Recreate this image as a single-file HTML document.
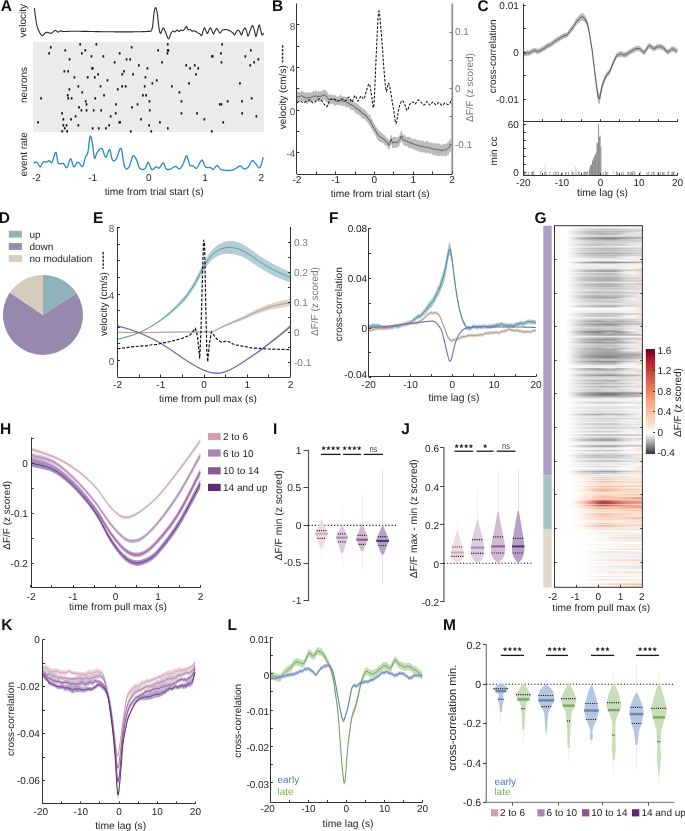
<!DOCTYPE html>
<html><head><meta charset="utf-8"><title>Figure</title>
<style>html,body{margin:0;padding:0;background:#fff;} svg{display:block;}</style></head>
<body><svg width="685" height="831" viewBox="0 0 685 831" style="font-family:'Liberation Sans',Arial,sans-serif" text-rendering="geometricPrecision">
<rect width="685" height="831" fill="#fff"/>
<text x="0.8" y="10.9" font-size="15.5" text-anchor="start" fill="#111" font-weight="bold" text-rendering="geometricPrecision">A</text>
<text x="25.7" y="20.7" font-size="10" text-anchor="middle" fill="#222" transform="rotate(-90 25.7 20.7)" >velocity</text>
<text x="27.1" y="85" font-size="10" text-anchor="middle" fill="#222" transform="rotate(-90 27.1 85)" >neurons</text>
<text x="27.1" y="154.3" font-size="10" text-anchor="middle" fill="#222" transform="rotate(-90 27.1 154.3)" >event rate</text>
<path d="M34.4,7.9 L34.9,12.2 L35.4,16.3 L35.9,19.8 L36.4,23 L36.9,25.6 L37.4,27.4 L37.9,28.8 L38.4,30 L38.9,31 L39.4,32 L39.9,33 L40.4,33.9 L40.9,34.6 L41.4,35.2 L41.9,35.6 L42.4,35.7 L42.9,35.4 L43.4,35 L43.9,34.5 L44.4,33.9 L44.9,33.3 L45.4,32.7 L45.9,32.4 L46.4,32.3 L46.9,32.3 L47.4,32.4 L47.9,32.5 L48.4,32.6 L48.9,32.7 L49.4,32.9 L49.9,33.1 L50.4,33.3 L50.9,33.4 L51.4,33.3 L51.9,33.1 L52.4,32.7 L52.9,32.2 L53.4,31.7 L53.9,31.2 L54.4,30.8 L54.9,30.5 L55.4,30.3 L55.9,30.4 L56.4,30.8 L56.9,31.3 L57.4,31.8 L57.9,32.1 L58.4,32 L58.9,31.8 L59.4,31.4 L59.9,31.1 L60.4,30.8 L60.9,30.7 L61.4,31 L61.9,31.3 L62.4,31.5 L62.9,31.5 L63.4,31.5 L63.9,31.5 L64.4,31.5 L64.9,31.5 L65.4,31.5 L65.9,31.5 L66.4,31.5 L66.9,31.4 L67.4,31.4 L67.9,31.4 L68.4,31.3 L68.9,31.3 L69.4,31.3 L69.9,31.3 L70.4,31.3 L70.9,31.3 L71.4,31.3 L71.9,31.3 L72.4,31.3 L72.9,31.3 L73.4,31.3 L73.9,31.3 L74.4,31.3 L74.9,31.3 L75.4,31.3 L75.9,31.3 L76.4,31.3 L76.9,31.3 L77.4,31.3 L77.9,31.3 L78.4,31.3 L78.9,31.3 L79.4,31.3 L79.9,31.3 L80.4,31.3 L80.9,31.3 L81.4,31.4 L81.9,31.4 L82.4,31.4 L82.9,31.4 L83.4,31.4 L83.9,31.4 L84.4,31.4 L84.9,31.4 L85.4,31.4 L85.9,31.4 L86.4,31.4 L86.9,31.4 L87.4,31.4 L87.9,31.4 L88.4,31.4 L88.9,31.5 L89.4,31.5 L89.9,31.5 L90.4,31.5 L90.9,31.5 L91.4,31.5 L91.9,31.5 L92.4,31.5 L92.9,31.5 L93.4,31.5 L93.9,31.5 L94.4,31.5 L94.9,31.6 L95.4,31.6 L95.9,31.6 L96.4,31.6 L96.9,31.6 L97.4,31.6 L97.9,31.6 L98.4,31.6 L98.9,31.6 L99.4,31.6 L99.9,31.6 L100.4,31.6 L100.9,31.7 L101.4,31.7 L101.9,31.7 L102.4,31.7 L102.9,31.7 L103.4,31.7 L103.9,31.7 L104.4,31.7 L104.9,31.7 L105.4,31.7 L105.9,31.7 L106.4,31.7 L106.9,31.8 L107.4,31.8 L107.9,31.8 L108.4,31.8 L108.9,31.8 L109.4,31.8 L109.9,31.8 L110.4,31.8 L110.9,31.8 L111.4,31.8 L111.9,31.8 L112.4,31.8 L112.9,31.8 L113.4,31.8 L113.9,31.8 L114.4,31.9 L114.9,31.9 L115.4,31.9 L115.9,31.9 L116.4,31.9 L116.9,31.9 L117.4,31.9 L117.9,31.9 L118.4,31.9 L118.9,31.9 L119.4,31.9 L119.9,31.9 L120.4,31.9 L120.9,31.9 L121.4,31.9 L121.9,31.9 L122.4,31.9 L122.9,31.9 L123.4,31.9 L123.9,31.9 L124.4,31.9 L124.9,31.9 L125.4,31.9 L125.9,31.9 L126.4,31.9 L126.9,31.9 L127.4,31.9 L127.9,31.9 L128.4,31.9 L128.9,31.9 L129.4,31.9 L129.9,31.9 L130.4,31.9 L130.9,31.9 L131.4,31.9 L131.9,31.9 L132.4,31.9 L132.9,31.9 L133.4,31.8 L133.9,31.8 L134.4,31.8 L134.9,31.8 L135.4,31.8 L135.9,31.8 L136.4,31.8 L136.9,31.8 L137.4,31.8 L137.9,31.8 L138.4,31.8 L138.9,31.7 L139.4,31.7 L139.9,31.7 L140.4,31.7 L140.9,31.7 L141.4,31.7 L141.9,31.7 L142.4,31.6 L142.9,31.6 L143.4,31.6 L143.9,31.6 L144.4,31.6 L144.9,31.6 L145.4,31.5 L145.9,31.5 L146.4,31.5 L146.9,31.5 L147.4,31.4 L147.9,31.4 L148.4,31.4 L148.9,31.4 L149.4,31.4 L149.9,31.3 L150.4,31.3 L150.9,31.2 L151.4,30.6 L151.9,29.5 L152.4,27.5 L152.9,23.9 L153.4,18.5 L153.9,13.7 L154.4,10.7 L154.9,8.7 L155.4,7.7 L155.9,7.8 L156.4,9.1 L156.9,11.3 L157.4,14.3 L157.9,18.6 L158.4,23.3 L158.9,27.3 L159.4,30.3 L159.9,32.4 L160.4,33.4 L160.9,33.1 L161.4,32 L161.9,30.5 L162.4,29.1 L162.9,28.1 L163.4,28 L163.9,28.6 L164.4,29.5 L164.9,30.7 L165.4,31.8 L165.9,32.9 L166.4,34.3 L166.9,35.8 L167.4,37.2 L167.9,38.3 L168.4,38.9 L168.9,38.7 L169.4,37.8 L169.9,36.4 L170.4,34.9 L170.9,33.7 L171.4,32.8 L171.9,32 L172.4,31.4 L172.9,31 L173.4,31 L173.9,31.4 L174.4,31.8 L174.9,32 L175.4,31.7 L175.9,31.1 L176.4,30.4 L176.9,30 L177.4,30.1 L177.9,30.6 L178.4,31.2 L178.9,31.5 L179.4,31.4 L179.9,30.9 L180.4,30.4 L180.9,30 L181.4,30 L181.9,30.2 L182.4,30.5 L182.9,30.5 L183.4,30.3 L183.9,29.8 L184.4,29.2 L184.9,28.6 L185.4,27.9 L185.9,27 L186.4,26.6 L186.9,27.1 L187.4,28.3 L187.9,29.4 L188.4,29.7 L188.9,29.6 L189.4,29.5 L189.9,29.5 L190.4,29.7 L190.9,30.2 L191.4,30.6 L191.9,31 L192.4,31.1 L192.9,31.1 L193.4,31 L193.9,30.9 L194.4,30.9 L194.9,31 L195.4,31.2 L195.9,31.5 L196.4,31.8 L196.9,32.2 L197.4,32.6 L197.9,32.9 L198.4,33.2 L198.9,33.4 L199.4,33.6 L199.9,33.9 L200.4,34.5 L200.9,35.3 L201.4,35.8 L201.9,35.3 L202.4,33.4 L202.9,31.3 L203.4,29.9 L203.9,28.6 L204.4,27.9 L204.9,28.3 L205.4,29.5 L205.9,30.8 L206.4,31.9 L206.9,33 L207.4,33.5 L207.9,33 L208.4,31.6 L208.9,30.2 L209.4,29.2 L209.9,28.4 L210.4,27.9 L210.9,28.2 L211.4,29.4 L211.9,30.8 L212.4,32 L212.9,33.2 L213.4,34 L213.9,33.6 L214.4,32.4 L214.9,31.2 L215.4,30.3 L215.9,29.4 L216.4,28.8 L216.9,28.5 L217.4,28.9 L217.9,29.9 L218.4,30.8 L218.9,31.7 L219.4,32.5 L219.9,33 L220.4,32.7 L220.9,32.1 L221.4,31.2 L221.9,30.6 L222.4,30.2 L222.9,30 L223.4,29.8 L223.9,29.7 L224.4,29.6 L224.9,29.5 L225.4,29.5 L225.9,29.5 L226.4,29.6 L226.9,29.7 L227.4,29.8 L227.9,30 L228.4,30.1 L228.9,30.4 L229.4,30.6 L229.9,30.9 L230.4,31.1 L230.9,31.4 L231.4,31.7 L231.9,32.1 L232.4,32.5 L232.9,32.9 L233.4,33.6 L233.9,34.5 L234.4,35 L234.9,34.6 L235.4,33.7 L235.9,32.6 L236.4,31.7 L236.9,30.9 L237.4,30.3 L237.9,30 L238.4,30.2 L238.9,30.6 L239.4,31.2 L239.9,31.9 L240.4,32.9 L240.9,34.2 L241.4,35 L241.9,34.4 L242.4,32.8 L242.9,31.2 L243.4,30.2 L243.9,29.2 L244.4,28.4 L244.9,28 L245.4,28.3 L245.9,29.4 L246.4,30.7 L246.9,32.5 L247.4,34.6 L247.9,36 L248.4,35.6 L248.9,34.4 L249.4,32.8 L249.9,31.2 L250.4,30 L250.9,28.6 L251.4,27.2 L251.9,26.1 L252.4,25.6 L252.9,26 L253.4,27.2 L253.9,28.9 L254.4,30.7 L254.9,32.6 L255.4,35 L255.9,36.4 L256.4,35.8 L256.9,33.7 L257.4,31.4 L257.9,29.3 L258.4,27.1 L258.9,25.4 L259.4,25.1 L259.9,26.6 L260.4,28.8 L260.9,30.8 L261.4,33.1 L261.9,34.9 L262.4,35 L262.9,34.4 L263.4,33.4 L263.7,33" fill="none" stroke="#2a2a2a" stroke-width="1.1"/>
<rect x="33" y="42" width="231" height="90" fill="#ebebeb"/>
<rect x="95.5" y="43.2" width="1.7" height="2.3" fill="#111"/>
<rect x="221.3" y="43.2" width="1.7" height="2.3" fill="#111"/>
<rect x="166.9" y="43.2" width="1.7" height="2.3" fill="#111"/>
<rect x="79.3" y="43.2" width="1.7" height="2.3" fill="#111"/>
<rect x="49.9" y="46.2" width="1.7" height="2.3" fill="#111"/>
<rect x="130.8" y="46.2" width="1.7" height="2.3" fill="#111"/>
<rect x="250" y="49.2" width="1.7" height="2.3" fill="#111"/>
<rect x="166.9" y="49.2" width="1.7" height="2.3" fill="#111"/>
<rect x="167.5" y="49.2" width="1.7" height="2.3" fill="#111"/>
<rect x="84.4" y="49.2" width="1.7" height="2.3" fill="#111"/>
<rect x="64.4" y="49.2" width="1.7" height="2.3" fill="#111"/>
<rect x="157.3" y="49.2" width="1.7" height="2.3" fill="#111"/>
<rect x="220.1" y="52.2" width="1.7" height="2.3" fill="#111"/>
<rect x="166.6" y="52.2" width="1.7" height="2.3" fill="#111"/>
<rect x="118.9" y="52.2" width="1.7" height="2.3" fill="#111"/>
<rect x="48.3" y="52.2" width="1.7" height="2.3" fill="#111"/>
<rect x="81" y="52.2" width="1.7" height="2.3" fill="#111"/>
<rect x="211.2" y="55.2" width="1.7" height="2.3" fill="#111"/>
<rect x="244.5" y="55.2" width="1.7" height="2.3" fill="#111"/>
<rect x="90.6" y="55.2" width="1.7" height="2.3" fill="#111"/>
<rect x="211.8" y="55.2" width="1.7" height="2.3" fill="#111"/>
<rect x="102.5" y="55.2" width="1.7" height="2.3" fill="#111"/>
<rect x="125.7" y="58.2" width="1.7" height="2.3" fill="#111"/>
<rect x="257.5" y="58.2" width="1.7" height="2.3" fill="#111"/>
<rect x="129.3" y="58.2" width="1.7" height="2.3" fill="#111"/>
<rect x="68.7" y="58.2" width="1.7" height="2.3" fill="#111"/>
<rect x="253.3" y="61.2" width="1.7" height="2.3" fill="#111"/>
<rect x="161.2" y="61.2" width="1.7" height="2.3" fill="#111"/>
<rect x="220.6" y="61.2" width="1.7" height="2.3" fill="#111"/>
<rect x="113.8" y="61.2" width="1.7" height="2.3" fill="#111"/>
<rect x="138" y="64.2" width="1.7" height="2.3" fill="#111"/>
<rect x="249.4" y="64.2" width="1.7" height="2.3" fill="#111"/>
<rect x="185.4" y="64.2" width="1.7" height="2.3" fill="#111"/>
<rect x="193.9" y="64.2" width="1.7" height="2.3" fill="#111"/>
<rect x="189.3" y="67.2" width="1.7" height="2.3" fill="#111"/>
<rect x="197.4" y="67.2" width="1.7" height="2.3" fill="#111"/>
<rect x="91.2" y="67.2" width="1.7" height="2.3" fill="#111"/>
<rect x="92" y="67.2" width="1.7" height="2.3" fill="#111"/>
<rect x="146.6" y="67.2" width="1.7" height="2.3" fill="#111"/>
<rect x="63.5" y="70.2" width="1.7" height="2.3" fill="#111"/>
<rect x="123.1" y="70.2" width="1.7" height="2.3" fill="#111"/>
<rect x="67.3" y="70.2" width="1.7" height="2.3" fill="#111"/>
<rect x="97.3" y="73.2" width="1.7" height="2.3" fill="#111"/>
<rect x="132.2" y="73.2" width="1.7" height="2.3" fill="#111"/>
<rect x="195.1" y="73.2" width="1.7" height="2.3" fill="#111"/>
<rect x="121.4" y="73.2" width="1.7" height="2.3" fill="#111"/>
<rect x="73.6" y="76.2" width="1.7" height="2.3" fill="#111"/>
<rect x="86.9" y="76.2" width="1.7" height="2.3" fill="#111"/>
<rect x="144.6" y="76.2" width="1.7" height="2.3" fill="#111"/>
<rect x="93.9" y="76.2" width="1.7" height="2.3" fill="#111"/>
<rect x="155.9" y="79.2" width="1.7" height="2.3" fill="#111"/>
<rect x="106.6" y="79.2" width="1.7" height="2.3" fill="#111"/>
<rect x="151.5" y="82.2" width="1.7" height="2.3" fill="#111"/>
<rect x="188.2" y="82.2" width="1.7" height="2.3" fill="#111"/>
<rect x="239.1" y="82.2" width="1.7" height="2.3" fill="#111"/>
<rect x="121.3" y="85.2" width="1.7" height="2.3" fill="#111"/>
<rect x="124.8" y="85.2" width="1.7" height="2.3" fill="#111"/>
<rect x="143.8" y="85.2" width="1.7" height="2.3" fill="#111"/>
<rect x="77.5" y="85.2" width="1.7" height="2.3" fill="#111"/>
<rect x="99.7" y="85.2" width="1.7" height="2.3" fill="#111"/>
<rect x="171" y="85.2" width="1.7" height="2.3" fill="#111"/>
<rect x="68.5" y="88.2" width="1.7" height="2.3" fill="#111"/>
<rect x="116.9" y="88.2" width="1.7" height="2.3" fill="#111"/>
<rect x="81.4" y="91.2" width="1.7" height="2.3" fill="#111"/>
<rect x="178.6" y="91.2" width="1.7" height="2.3" fill="#111"/>
<rect x="142.1" y="94.2" width="1.7" height="2.3" fill="#111"/>
<rect x="145.3" y="94.2" width="1.7" height="2.3" fill="#111"/>
<rect x="103.2" y="94.2" width="1.7" height="2.3" fill="#111"/>
<rect x="66.9" y="94.2" width="1.7" height="2.3" fill="#111"/>
<rect x="94.4" y="97.2" width="1.7" height="2.3" fill="#111"/>
<rect x="70.8" y="97.2" width="1.7" height="2.3" fill="#111"/>
<rect x="250.8" y="97.2" width="1.7" height="2.3" fill="#111"/>
<rect x="67.4" y="97.2" width="1.7" height="2.3" fill="#111"/>
<rect x="40.2" y="97.2" width="1.7" height="2.3" fill="#111"/>
<rect x="180.6" y="100.2" width="1.7" height="2.3" fill="#111"/>
<rect x="226.8" y="100.2" width="1.7" height="2.3" fill="#111"/>
<rect x="241.1" y="100.2" width="1.7" height="2.3" fill="#111"/>
<rect x="84.8" y="100.2" width="1.7" height="2.3" fill="#111"/>
<rect x="148.6" y="100.2" width="1.7" height="2.3" fill="#111"/>
<rect x="219" y="103.2" width="1.7" height="2.3" fill="#111"/>
<rect x="136.7" y="103.2" width="1.7" height="2.3" fill="#111"/>
<rect x="220.6" y="103.2" width="1.7" height="2.3" fill="#111"/>
<rect x="85.7" y="103.2" width="1.7" height="2.3" fill="#111"/>
<rect x="115.1" y="103.2" width="1.7" height="2.3" fill="#111"/>
<rect x="131.1" y="106.2" width="1.7" height="2.3" fill="#111"/>
<rect x="78.2" y="106.2" width="1.7" height="2.3" fill="#111"/>
<rect x="100.3" y="109.2" width="1.7" height="2.3" fill="#111"/>
<rect x="148.9" y="109.2" width="1.7" height="2.3" fill="#111"/>
<rect x="92.8" y="109.2" width="1.7" height="2.3" fill="#111"/>
<rect x="85.7" y="109.2" width="1.7" height="2.3" fill="#111"/>
<rect x="80.6" y="109.2" width="1.7" height="2.3" fill="#111"/>
<rect x="114.9" y="112.2" width="1.7" height="2.3" fill="#111"/>
<rect x="241.3" y="112.2" width="1.7" height="2.3" fill="#111"/>
<rect x="180.6" y="112.2" width="1.7" height="2.3" fill="#111"/>
<rect x="61.3" y="112.2" width="1.7" height="2.3" fill="#111"/>
<rect x="196.2" y="112.2" width="1.7" height="2.3" fill="#111"/>
<rect x="74.7" y="115.2" width="1.7" height="2.3" fill="#111"/>
<rect x="109.8" y="115.2" width="1.7" height="2.3" fill="#111"/>
<rect x="255.5" y="115.2" width="1.7" height="2.3" fill="#111"/>
<rect x="203.5" y="118.2" width="1.7" height="2.3" fill="#111"/>
<rect x="70.2" y="118.2" width="1.7" height="2.3" fill="#111"/>
<rect x="62.5" y="118.2" width="1.7" height="2.3" fill="#111"/>
<rect x="140.1" y="118.2" width="1.7" height="2.3" fill="#111"/>
<rect x="222.4" y="121.2" width="1.7" height="2.3" fill="#111"/>
<rect x="119.2" y="121.2" width="1.7" height="2.3" fill="#111"/>
<rect x="159.1" y="121.2" width="1.7" height="2.3" fill="#111"/>
<rect x="37.2" y="121.2" width="1.7" height="2.3" fill="#111"/>
<rect x="118.5" y="121.2" width="1.7" height="2.3" fill="#111"/>
<rect x="65.7" y="124.2" width="1.7" height="2.3" fill="#111"/>
<rect x="77.5" y="124.2" width="1.7" height="2.3" fill="#111"/>
<rect x="62.5" y="124.2" width="1.7" height="2.3" fill="#111"/>
<rect x="148.3" y="124.2" width="1.7" height="2.3" fill="#111"/>
<rect x="108.3" y="124.2" width="1.7" height="2.3" fill="#111"/>
<rect x="63.9" y="127.2" width="1.7" height="2.3" fill="#111"/>
<rect x="91.8" y="127.2" width="1.7" height="2.3" fill="#111"/>
<rect x="167" y="127.2" width="1.7" height="2.3" fill="#111"/>
<rect x="97.9" y="127.2" width="1.7" height="2.3" fill="#111"/>
<rect x="105.1" y="127.2" width="1.7" height="2.3" fill="#111"/>
<rect x="150.4" y="130.2" width="1.7" height="2.3" fill="#111"/>
<rect x="129.9" y="130.2" width="1.7" height="2.3" fill="#111"/>
<rect x="210.9" y="130.2" width="1.7" height="2.3" fill="#111"/>
<rect x="66.3" y="130.2" width="1.7" height="2.3" fill="#111"/>
<rect x="61.4" y="130.2" width="1.7" height="2.3" fill="#111"/>
<path d="M33.5,162.9 L34,162.8 L34.5,162.6 L35,162.4 L35.5,162.3 L36,162.2 L36.5,162.2 L37,162.4 L37.5,162.9 L38,163.7 L38.5,164.7 L39,165.6 L39.5,166.4 L40,166.8 L40.5,166.7 L41,166 L41.5,165 L42,163.8 L42.5,162.8 L43,162.1 L43.5,161.8 L44,161.7 L44.5,161.7 L45,161.8 L45.5,161.9 L46,162 L46.5,162 L47,161.9 L47.5,161.6 L48,161.2 L48.5,160.9 L49,160.7 L49.5,160.8 L50,161.2 L50.5,161.9 L51,162.4 L51.5,162.7 L52,162.3 L52.5,161.2 L53,159.8 L53.5,158.2 L54,156.4 L54.5,154.8 L55,153.5 L55.5,152.6 L56,152.5 L56.5,154.1 L57,157.2 L57.5,160.4 L58,162.4 L58.5,163.2 L59,163.6 L59.5,163.8 L60,163.8 L60.5,163.7 L61,163.6 L61.5,163.6 L62,163.5 L62.5,163.3 L63,163.2 L63.5,163.5 L64,164.2 L64.5,165.1 L65,166 L65.5,166.9 L66,167.5 L66.5,167.8 L67,167.5 L67.5,166.6 L68,165.3 L68.5,163.7 L69,162.1 L69.5,160.6 L70,159.5 L70.5,158.9 L71,159.2 L71.5,160.3 L72,161.9 L72.5,163.7 L73,165.3 L73.5,166.5 L74,166.9 L74.5,166.6 L75,166 L75.5,165.2 L76,164.2 L76.5,163.4 L77,162.7 L77.5,162.3 L78,162.3 L78.5,162.6 L79,163 L79.5,163.4 L80,164 L80.5,164.8 L81,165.6 L81.5,166.3 L82,166.6 L82.5,166.5 L83,165.7 L83.5,164.3 L84,162.5 L84.5,160.5 L85,158.6 L85.5,156.9 L86,155.7 L86.5,155.2 L87,154.8 L87.5,153.9 L88,151.7 L88.5,148 L89,143.6 L89.5,139.5 L90,136.8 L90.5,136.1 L91,137 L91.5,138.9 L92,141.3 L92.5,144.1 L93,147.9 L93.5,152.2 L94,155.8 L94.5,158 L95,158.2 L95.5,157.1 L96,155.4 L96.5,153.7 L97,152.7 L97.5,152 L98,151.3 L98.5,150.6 L99,149.9 L99.5,149.3 L100,148.8 L100.5,148.5 L101,148.3 L101.5,148.3 L102,148.6 L102.5,149.4 L103,150.6 L103.5,152.2 L104,153.8 L104.5,155.3 L105,156.4 L105.5,157.1 L106,157.1 L106.5,156.4 L107,155.3 L107.5,153.9 L108,152.4 L108.5,151 L109,150 L109.5,149.6 L110,150 L110.5,151.8 L111,154.4 L111.5,157 L112,159.1 L112.5,160.1 L113,160.5 L113.5,160.8 L114,160.8 L114.5,160.6 L115,160.2 L115.5,159.7 L116,159.2 L116.5,158.4 L117,157.3 L117.5,155.9 L118,154.4 L118.5,152.8 L119,151.2 L119.5,149.9 L120,148.9 L120.5,148.3 L121,148.3 L121.5,149.3 L122,151.5 L122.5,154.6 L123,158 L123.5,161.5 L124,164.5 L124.5,166.5 L125,167.6 L125.5,168.4 L126,168.8 L126.5,169 L127,168.9 L127.5,168.7 L128,168.3 L128.5,167.7 L129,167.1 L129.5,166.2 L130,164.8 L130.5,163.1 L131,161.3 L131.5,159.5 L132,157.9 L132.5,156.6 L133,155.9 L133.5,155.7 L134,155.9 L134.5,156.4 L135,157.1 L135.5,157.9 L136,158.9 L136.5,159.9 L137,160.9 L137.5,162.3 L138,164 L138.5,165.8 L139,167.3 L139.5,168.2 L140,168.6 L140.5,169 L141,169.2 L141.5,169.4 L142,169.5 L142.5,169.5 L143,169.4 L143.5,169.3 L144,169.1 L144.5,168.8 L145,168.5 L145.5,167.9 L146,166.7 L146.5,165.4 L147,164.1 L147.5,163 L148,162.4 L148.5,162.6 L149,163.3 L149.5,164.5 L150,165.9 L150.5,167.3 L151,168.4 L151.5,169.2 L152,169.5 L152.5,169.5 L153,169.3 L153.5,169 L154,168.6 L154.5,168.1 L155,167.6 L155.5,167.2 L156,166.9 L156.5,166.8 L157,167 L157.5,167.4 L158,167.9 L158.5,168.2 L159,168.2 L159.5,167.8 L160,167.2 L160.5,166.4 L161,165.6 L161.5,164.7 L162,164 L162.5,163.4 L163,163 L163.5,162.9 L164,163.6 L164.5,164.8 L165,166.3 L165.5,167.6 L166,168.5 L166.5,169 L167,169.3 L167.5,169.5 L168,169.5 L168.5,169.5 L169,169.5 L169.5,169.4 L170,169.3 L170.5,169 L171,168.8 L171.5,168.5 L172,168.2 L172.5,167.8 L173,167.5 L173.5,167.2 L174,166.9 L174.5,166.7 L175,166.5 L175.5,166.4 L176,166.4 L176.5,166.7 L177,167.2 L177.5,167.8 L178,168.3 L178.5,168.7 L179,168.9 L179.5,168.8 L180,168.5 L180.5,168.1 L181,167.6 L181.5,166.9 L182,166.2 L182.5,165.3 L183,164.4 L183.5,163.2 L184,161.7 L184.5,160.2 L185,158.7 L185.5,157.4 L186,156.5 L186.5,155.9 L187,156.1 L187.5,157.3 L188,159.1 L188.5,161.1 L189,163.1 L189.5,164.6 L190,165.4 L190.5,165.8 L191,165.9 L191.5,165.9 L192,165.8 L192.5,165.8 L193,165.8 L193.5,166.1 L194,166.5 L194.5,167.1 L195,167.6 L195.5,168 L196,168.3 L196.5,168.3 L197,167.9 L197.5,167.3 L198,166.5 L198.5,165.5 L199,164.5 L199.5,163.4 L200,162.4 L200.5,161.5 L201,160.8 L201.5,160.3 L202,160.1 L202.5,160.5 L203,161.4 L203.5,162.6 L204,164 L204.5,165.2 L205,166.3 L205.5,166.9 L206,167.2 L206.5,167.4 L207,167.6 L207.5,167.6 L208,167.6 L208.5,167.6 L209,167.5 L209.5,167.5 L210,167.6 L210.5,167.6 L211,167.9 L211.5,168.3 L212,168.8 L212.5,169.2 L213,169.4 L213.5,169.3 L214,168.9 L214.5,168.3 L215,167.6 L215.5,166.9 L216,166.2 L216.5,165.7 L217,165.4 L217.5,165.5 L218,165.9 L218.5,166.6 L219,167.4 L219.5,168.2 L220,168.9 L220.5,169.3 L221,169.5 L221.5,169.6 L222,169.8 L222.5,169.9 L223,170 L223.5,170.1 L224,170.1 L224.5,170.2 L225,170.3 L225.5,170.3 L226,170.4 L226.5,170.4 L227,170.4 L227.5,170.4 L228,170.4 L228.5,170.4 L229,170.4 L229.5,170.4 L230,170.3 L230.5,170.3 L231,170.2 L231.5,170.2 L232,170.1 L232.5,170 L233,169.9 L233.5,169.7 L234,169.5 L234.5,169.2 L235,168.9 L235.5,168.6 L236,168.3 L236.5,167.9 L237,167.6 L237.5,167.2 L238,166.9 L238.5,166.6 L239,166.3 L239.5,166.1 L240,166 L240.5,165.9 L241,166 L241.5,166.4 L242,167 L242.5,167.6 L243,168.2 L243.5,168.7 L244,168.9 L244.5,168.9 L245,168.9 L245.5,168.7 L246,168.6 L246.5,168.3 L247,168 L247.5,167.6 L248,167.2 L248.5,166.7 L249,166 L249.5,165.1 L250,164.1 L250.5,163.1 L251,162.2 L251.5,161.4 L252,160.8 L252.5,160.6 L253,160.7 L253.5,161.1 L254,161.7 L254.5,162.3 L255,162.9 L255.5,163.4 L256,164 L256.5,164.7 L257,165.5 L257.5,166.3 L258,167 L258.5,167.5 L259,167.8 L259.5,167.9 L260,167.5 L260.5,166.6 L261,165.3 L261.5,163.6 L262,161.8 L262.5,159.9 L263,158.2 L263.3,157.2" fill="none" stroke="#2b87c8" stroke-width="1.3"/>
<text x="36.4" y="180.5" font-size="10" text-anchor="middle" fill="#222" >-2</text>
<text x="92.6" y="180.5" font-size="10" text-anchor="middle" fill="#222" >-1</text>
<text x="148.8" y="180.5" font-size="10" text-anchor="middle" fill="#222" >0</text>
<text x="205" y="180.5" font-size="10" text-anchor="middle" fill="#222" >1</text>
<text x="261.2" y="180.5" font-size="10" text-anchor="middle" fill="#222" >2</text>
<text x="154.2" y="194.7" font-size="10.2" text-anchor="middle" fill="#222" >time from trial start (s)</text>
<text x="272" y="10.9" font-size="15.5" text-anchor="start" fill="#111" font-weight="bold" text-rendering="geometricPrecision">B</text>
<path d="M296.9,91.4 L297.7,91.9 L298.5,91.9 L299.3,91.9 L300.1,92 L300.9,91.4 L301.7,90.3 L302.5,92 L303.3,90.9 L304.1,92.5 L304.9,92.4 L305.7,92.5 L306.5,92.7 L307.3,92.2 L308.1,92.3 L308.9,92.1 L309.7,93.5 L310.5,92.4 L311.3,92.6 L312.1,92.3 L312.9,91.4 L313.7,90.5 L314.5,91.5 L315.3,90.6 L316.1,90.8 L316.9,91.1 L317.7,92.3 L318.5,90.8 L319.3,91.5 L320.1,91 L320.9,91.3 L321.7,91.6 L322.5,90.2 L323.3,89.9 L324.1,90.3 L324.9,89.6 L325.7,90.3 L326.5,90.8 L327.3,92 L328.1,94.5 L328.9,94.5 L329.7,93.6 L330.5,95.2 L331.3,94.5 L332.1,94.9 L332.9,94.5 L333.7,94.9 L334.5,95.3 L335.3,95 L336.1,96.8 L336.9,96.3 L337.7,96.4 L338.5,96.2 L339.3,96.4 L340.1,94.5 L340.9,94.3 L341.7,96.5 L342.5,96.2 L343.3,96.6 L344.1,96.4 L344.9,96.9 L345.7,96.2 L346.5,97.4 L347.3,97.8 L348.1,98.1 L348.9,98 L349.7,99.8 L350.5,99.7 L351.3,98.8 L352.1,100.6 L352.9,101.2 L353.7,101.4 L354.5,101.8 L355.3,102.6 L356.1,103.1 L356.9,103.3 L357.7,103.9 L358.5,104.1 L359.3,105.8 L360.1,106.1 L360.9,107.2 L361.7,107.6 L362.5,108.1 L363.3,108.9 L364.1,109.1 L364.9,109.8 L365.7,110.9 L366.5,110.9 L367.3,113.1 L368.1,113.7 L368.9,114.9 L369.7,114.6 L370.5,115.6 L371.3,118.9 L372.1,118.8 L372.9,121.2 L373.7,123.3 L374.5,123.8 L375.3,125.8 L376.1,126.2 L376.9,128 L377.7,129 L378.5,130 L379.3,130.9 L380.1,131.7 L380.9,132.1 L381.7,133.3 L382.5,133.5 L383.3,134.5 L384.1,134.9 L384.9,135.3 L385.7,136.5 L386.5,137.4 L387.3,137.9 L388.1,138.3 L388.9,140.5 L389.7,139.4 L390.5,135.1 L391.3,134.6 L392.1,136.9 L392.9,137.6 L393.7,136.9 L394.5,136.7 L395.3,136.8 L396.1,137.1 L396.9,138.6 L397.7,136.8 L398.5,136.4 L399.3,135.2 L400.1,134.9 L400.9,130.9 L401.7,130.4 L402.5,134.3 L403.3,135.1 L404.1,135.1 L404.9,134.9 L405.7,136.2 L406.5,136.9 L407.3,136.7 L408.1,136.5 L408.9,137 L409.7,137 L410.5,138 L411.3,138.5 L412.1,138.3 L412.9,138.4 L413.7,139.9 L414.5,138.8 L415.3,138.2 L416.1,139.7 L416.9,139.7 L417.7,140.2 L418.5,139.8 L419.3,139.9 L420.1,140.8 L420.9,140.7 L421.7,141.3 L422.5,140.4 L423.3,140.3 L424.1,141.9 L424.9,142.4 L425.7,141 L426.5,140.6 L427.3,141.2 L428.1,142 L428.9,141.3 L429.7,143 L430.5,143.1 L431.3,142.6 L432.1,142.3 L432.9,143.5 L433.7,143.6 L434.5,143.3 L435.3,142.5 L436.1,143.4 L436.9,143.1 L437.7,144.3 L438.5,143.1 L439.3,143.7 L440.1,144.4 L440.9,144.6 L441.7,144.9 L442.5,144.6 L443.3,143.8 L444.1,143.8 L444.9,144.6 L445.7,144.1 L446.5,143 L447.3,142.8 L448.1,141.6 L448.9,141.5 L449.7,139.5 L450.5,139.2 L451.3,137.5 L451.3,151.3 L450.5,151.8 L449.7,152.5 L448.9,154.1 L448.1,155.7 L447.3,154.2 L446.5,156.4 L445.7,156 L444.9,156.5 L444.1,155.2 L443.3,155.7 L442.5,156.9 L441.7,155.6 L440.9,155.9 L440.1,155.8 L439.3,156.1 L438.5,156.3 L437.7,156 L436.9,155.7 L436.1,154.7 L435.3,155.8 L434.5,155.7 L433.7,154.6 L432.9,154.7 L432.1,154.3 L431.3,153.3 L430.5,154 L429.7,153.6 L428.9,153.5 L428.1,153.3 L427.3,152.8 L426.5,153.4 L425.7,153.2 L424.9,152.5 L424.1,152.1 L423.3,152.8 L422.5,152 L421.7,152.4 L420.9,151.8 L420.1,152.4 L419.3,151.8 L418.5,151.4 L417.7,150 L416.9,151.4 L416.1,150.2 L415.3,150.6 L414.5,149.6 L413.7,149.3 L412.9,148.8 L412.1,148.5 L411.3,148.7 L410.5,148.2 L409.7,147.2 L408.9,148.3 L408.1,147.3 L407.3,146.3 L406.5,146.2 L405.7,145.7 L404.9,146.2 L404.1,145.5 L403.3,144.7 L402.5,143 L401.7,141.9 L400.9,141.7 L400.1,143.7 L399.3,145.9 L398.5,146.4 L397.7,147.7 L396.9,147.1 L396.1,148.1 L395.3,147 L394.5,148.1 L393.7,147.9 L392.9,148.1 L392.1,148 L391.3,143.4 L390.5,146.2 L389.7,147.9 L388.9,149.5 L388.1,149.5 L387.3,146.6 L386.5,146.1 L385.7,145.1 L384.9,146.2 L384.1,143.8 L383.3,142.9 L382.5,143.8 L381.7,142.1 L380.9,142.3 L380.1,142.5 L379.3,141.4 L378.5,140.9 L377.7,140.2 L376.9,138.5 L376.1,137.2 L375.3,134.6 L374.5,133.7 L373.7,132.6 L372.9,132.1 L372.1,130.1 L371.3,128.5 L370.5,127 L369.7,125.8 L368.9,124.7 L368.1,123.5 L367.3,121.7 L366.5,121.5 L365.7,121 L364.9,119 L364.1,119 L363.3,119.5 L362.5,117.9 L361.7,118.3 L360.9,117.2 L360.1,115.7 L359.3,115.6 L358.5,114.5 L357.7,114.9 L356.9,112.9 L356.1,114 L355.3,113 L354.5,111.4 L353.7,110.3 L352.9,109.9 L352.1,110.2 L351.3,109.5 L350.5,109.9 L349.7,108.6 L348.9,107.5 L348.1,107.1 L347.3,107.4 L346.5,107.7 L345.7,106.7 L344.9,106.4 L344.1,105.8 L343.3,106 L342.5,106.2 L341.7,105.2 L340.9,105.4 L340.1,106 L339.3,105 L338.5,105 L337.7,105.2 L336.9,104.9 L336.1,105.2 L335.3,105.9 L334.5,105.2 L333.7,104.6 L332.9,104.6 L332.1,104.2 L331.3,103.8 L330.5,103.7 L329.7,104.7 L328.9,104.9 L328.1,102.9 L327.3,103 L326.5,101.8 L325.7,101.7 L324.9,100.5 L324.1,99.2 L323.3,100.9 L322.5,100.3 L321.7,100.6 L320.9,100.8 L320.1,101.9 L319.3,101.4 L318.5,101.9 L317.7,101.5 L316.9,100.5 L316.1,101.2 L315.3,102 L314.5,101.2 L313.7,100.6 L312.9,101.9 L312.1,101.7 L311.3,101.5 L310.5,103.1 L309.7,101.9 L308.9,102.3 L308.1,103.5 L307.3,103.4 L306.5,104 L305.7,103.1 L304.9,103.7 L304.1,101 L303.3,101.9 L302.5,101.3 L301.7,100.6 L300.9,100 L300.1,101.1 L299.3,101.4 L298.5,101.2 L297.7,101.9 L296.9,101.9Z" fill="#bcbcbc"/>
<path d="M296.9,96.7 L297.7,96.9 L298.5,96.5 L299.3,96.7 L300.1,96.5 L300.9,95.7 L301.7,95.5 L302.5,96.7 L303.3,96.4 L304.1,96.7 L304.9,98 L305.7,97.8 L306.5,98.3 L307.3,97.8 L308.1,97.9 L308.9,97.2 L309.7,97.7 L310.5,97.8 L311.3,97 L312.1,97 L312.9,96.6 L313.7,95.6 L314.5,96.4 L315.3,96.3 L316.1,96 L316.9,95.8 L317.7,96.9 L318.5,96.3 L319.3,96.4 L320.1,96.4 L320.9,96 L321.7,96.1 L322.5,95.2 L323.3,95.4 L324.1,94.7 L324.9,95.1 L325.7,96 L326.5,96.3 L327.3,97.5 L328.1,98.7 L328.9,99.7 L329.7,99.1 L330.5,99.5 L331.3,99.2 L332.1,99.5 L332.9,99.6 L333.7,99.7 L334.5,100.2 L335.3,100.4 L336.1,101 L336.9,100.6 L337.7,100.8 L338.5,100.6 L339.3,100.7 L340.1,100.2 L340.9,99.8 L341.7,100.9 L342.5,101.2 L343.3,101.3 L344.1,101.1 L344.9,101.7 L345.7,101.4 L346.5,102.5 L347.3,102.6 L348.1,102.6 L348.9,102.8 L349.7,104.2 L350.5,104.8 L351.3,104.1 L352.1,105.4 L352.9,105.6 L353.7,105.9 L354.5,106.6 L355.3,107.8 L356.1,108.5 L356.9,108.1 L357.7,109.4 L358.5,109.3 L359.3,110.7 L360.1,110.9 L360.9,112.2 L361.7,112.9 L362.5,113 L363.3,114.2 L364.1,114.1 L364.9,114.4 L365.7,116 L366.5,116.2 L367.3,117.4 L368.1,118.6 L368.9,119.8 L369.7,120.2 L370.5,121.3 L371.3,123.7 L372.1,124.5 L372.9,126.6 L373.7,128 L374.5,128.7 L375.3,130.2 L376.1,131.7 L376.9,133.2 L377.7,134.6 L378.5,135.4 L379.3,136.1 L380.1,137.1 L380.9,137.2 L381.7,137.7 L382.5,138.6 L383.3,138.7 L384.1,139.3 L384.9,140.7 L385.7,140.8 L386.5,141.8 L387.3,142.3 L388.1,143.9 L388.9,145 L389.7,143.7 L390.5,140.6 L391.3,139 L392.1,142.4 L392.9,142.9 L393.7,142.4 L394.5,142.4 L395.3,141.9 L396.1,142.6 L396.9,142.9 L397.7,142.2 L398.5,141.4 L399.3,140.6 L400.1,139.3 L400.9,136.3 L401.7,136.1 L402.5,138.6 L403.3,139.9 L404.1,140.3 L404.9,140.5 L405.7,140.9 L406.5,141.5 L407.3,141.5 L408.1,141.9 L408.9,142.7 L409.7,142.1 L410.5,143.1 L411.3,143.6 L412.1,143.4 L412.9,143.6 L413.7,144.6 L414.5,144.2 L415.3,144.4 L416.1,145 L416.9,145.5 L417.7,145.1 L418.5,145.6 L419.3,145.9 L420.1,146.6 L420.9,146.2 L421.7,146.9 L422.5,146.2 L423.3,146.5 L424.1,147 L424.9,147.4 L425.7,147.1 L426.5,147 L427.3,147 L428.1,147.7 L428.9,147.4 L429.7,148.3 L430.5,148.5 L431.3,147.9 L432.1,148.3 L432.9,149.1 L433.7,149.1 L434.5,149.5 L435.3,149.1 L436.1,149.1 L436.9,149.4 L437.7,150.2 L438.5,149.7 L439.3,149.9 L440.1,150.1 L440.9,150.3 L441.7,150.2 L442.5,150.8 L443.3,149.8 L444.1,149.5 L444.9,150.5 L445.7,150 L446.5,149.7 L447.3,148.5 L448.1,148.7 L448.9,147.8 L449.7,146 L450.5,145.5 L451.3,144.4" fill="none" stroke="#4d4d4d" stroke-width="0.9"/>
<path d="M297,102.8 L297.5,102.5 L298,102.1 L298.5,101.7 L299,101.4 L299.5,101.1 L300,101 L300.5,101.1 L301,101.3 L301.5,101.7 L302,102.1 L302.5,102.4 L303,102.5 L303.5,102.5 L304,102.4 L304.5,102.2 L305,101.9 L305.5,101.7 L306,101.5 L306.5,101.3 L307,101 L307.5,100.7 L308,100.5 L308.5,100.2 L309,100 L309.5,100 L310,100 L310.5,100.3 L311,100.8 L311.5,101.5 L312,102.2 L312.5,102.7 L313,103 L313.5,102.9 L314,102.7 L314.5,102.3 L315,101.8 L315.5,101.4 L316,101 L316.5,100.7 L317,100.3 L317.5,99.9 L318,99.5 L318.5,99.2 L319,99 L319.5,98.9 L320,99 L320.5,99.3 L321,99.8 L321.5,100.4 L322,101.2 L322.5,101.9 L323,102.7 L323.5,103.4 L324,104 L324.5,104.6 L325,105.3 L325.5,105.9 L326,106.4 L326.5,106.6 L327,106.5 L327.5,105.9 L328,104.8 L328.5,103.4 L329,102 L329.5,100.8 L330,100 L330.5,99.5 L331,99.2 L331.5,99 L332,98.9 L332.5,98.9 L333,98.9 L333.5,98.9 L334,99 L334.5,99.1 L335,99.4 L335.5,99.7 L336,100.1 L336.5,100.4 L337,100.7 L337.5,100.9 L338,101 L338.5,100.9 L339,100.7 L339.5,100.4 L340,100 L340.5,99.7 L341,99.3 L341.5,99.1 L342,99 L342.5,99.1 L343,99.3 L343.5,99.5 L344,99.9 L344.5,100.2 L345,100.4 L345.5,100.5 L346,100.5 L346.5,100.1 L347,99.4 L347.5,98.5 L348,97.7 L348.5,97.2 L349,97 L349.5,97.5 L350,98.5 L350.5,99.7 L351,100.9 L351.5,101.7 L352,102 L352.5,101.4 L353,100.2 L353.5,98.7 L354,97.2 L354.5,96 L355,95.5 L355.5,95.8 L356,96.8 L356.5,98.2 L357,99.5 L357.5,100.6 L358,101 L358.5,100.7 L359,99.8 L359.5,98.7 L360,97.5 L360.5,96.5 L361,96 L361.5,96.2 L362,96.8 L362.5,97.7 L363,98.5 L363.5,99 L364,99 L364.5,97.9 L365,96 L365.5,93.8 L366,92 L366.5,90.5 L367,88.8 L367.5,87.2 L368,85.7 L368.5,84.6 L369,84 L369.5,84.1 L370,85.7 L370.5,88.6 L371,92 L371.5,95 L372,98.6 L372.5,103.2 L373,106.9 L373.5,107.9 L374,104.5 L374.5,95.8 L375,84 L375.5,71.3 L376,60 L376.5,49.4 L377,38.1 L377.5,27.4 L378,18.5 L378.5,12.7 L379,11.1 L379.5,13.3 L380,18.1 L380.5,24.1 L381,30 L381.5,35.9 L382,42.5 L382.5,49.6 L383,56.8 L383.5,63.7 L384,70 L384.5,76 L385,81.8 L385.5,86.8 L386,90.2 L386.5,91.3 L387,89.8 L387.5,87 L388,84.4 L388.5,83.3 L389,83.9 L389.5,85.7 L390,88 L390.5,90.6 L391,93.7 L391.5,96.9 L392,100 L392.5,103 L393,106 L393.5,109 L394,112 L394.5,115.5 L395,119.4 L395.5,122.4 L396,123.4 L396.5,122.2 L397,119.9 L397.5,116.8 L398,113.5 L398.5,110.4 L399,108 L399.5,106.2 L400,104.5 L400.5,103.1 L401,101.9 L401.5,101.1 L402,100.6 L402.5,100.6 L403,101.1 L403.5,101.9 L404,102.9 L404.5,104 L405,105 L405.5,106.3 L406,107.9 L406.5,109.5 L407,110.3 L407.5,110.2 L408,109.3 L408.5,107.9 L409,106.4 L409.5,105 L410,104 L410.5,103.3 L411,102.8 L411.5,102.5 L412,102.2 L412.5,102 L413,102 L413.5,102.3 L414,103.1 L414.5,103.8 L415,104 L415.5,103.6 L416,102.9 L416.5,102 L417,101.1 L417.5,100.4 L418,100 L418.5,100 L419,100.2 L419.5,100.6 L420,101 L420.5,101.5 L421,102 L421.5,102.5 L422,103.2 L422.5,103.8 L423,104.4 L423.5,104.9 L424,105 L424.5,104.7 L425,104.1 L425.5,103.2 L426,102.4 L426.5,101.8 L427,101.5 L427.5,101.8 L428,102.4 L428.5,103.2 L429,104.1 L429.5,104.7 L430,105 L430.5,104.8 L431,104.3 L431.5,103.5 L432,102.8 L432.5,102.2 L433,102 L433.5,102.2 L434,102.8 L434.5,103.5 L435,104.2 L435.5,104.7 L436,105 L436.5,104.8 L437,104.4 L437.5,103.8 L438,103.1 L438.5,102.7 L439,102.5 L439.5,102.7 L440,103.3 L440.5,104 L441,104.7 L441.5,105.3 L442,105.5 L442.5,105.4 L443,104.9 L443.5,104.3 L444,103.7 L444.5,103.2 L445,103 L445.5,103.1 L446,103.3 L446.5,103.7 L447,104.1 L447.5,104.4 L448,104.5 L448.5,104.4 L449,104.1 L449.5,103.7 L450,103 L450.5,102.1 L451,100.9 L451.5,99.7 L452,98.5" fill="none" stroke="#111" stroke-width="1.05" stroke-dasharray="2.6,1.5"/>
<line x1="296.5" y1="3.5" x2="296.5" y2="174" stroke="#333" stroke-width="1" />
<line x1="296.9" y1="174.5" x2="452" y2="174.5" stroke="#333" stroke-width="1" />
<line x1="452.3" y1="3.5" x2="452.3" y2="174" stroke="#8c8c8c" stroke-width="1.7" />
<line x1="296.9" y1="24.5" x2="299.4" y2="24.5" stroke="#333" stroke-width="1" />
<line x1="296.9" y1="46.5" x2="299.4" y2="46.5" stroke="#333" stroke-width="1" />
<line x1="296.9" y1="67.5" x2="299.4" y2="67.5" stroke="#333" stroke-width="1" />
<line x1="296.9" y1="88.5" x2="299.4" y2="88.5" stroke="#333" stroke-width="1" />
<line x1="296.9" y1="110.5" x2="299.4" y2="110.5" stroke="#333" stroke-width="1" />
<line x1="296.9" y1="131.5" x2="299.4" y2="131.5" stroke="#333" stroke-width="1" />
<line x1="296.9" y1="152.5" x2="299.4" y2="152.5" stroke="#333" stroke-width="1" />
<text x="295.3" y="29.5" font-size="10" text-anchor="end" fill="#555" >8</text>
<text x="295.3" y="72.1" font-size="10" text-anchor="end" fill="#555" >4</text>
<text x="295.3" y="114.7" font-size="10" text-anchor="end" fill="#555" >0</text>
<text x="295.3" y="157.3" font-size="10" text-anchor="end" fill="#555" >-4</text>
<line x1="449.5" y1="32.5" x2="452" y2="32.5" stroke="#777" stroke-width="1" />
<line x1="449.5" y1="60.5" x2="452" y2="60.5" stroke="#777" stroke-width="1" />
<line x1="449.5" y1="88.5" x2="452" y2="88.5" stroke="#777" stroke-width="1" />
<line x1="449.5" y1="116.5" x2="452" y2="116.5" stroke="#777" stroke-width="1" />
<line x1="449.5" y1="144.5" x2="452" y2="144.5" stroke="#777" stroke-width="1" />
<text x="455" y="35.3" font-size="10" text-anchor="start" fill="#777" >0.1</text>
<text x="455" y="91.5" font-size="10" text-anchor="start" fill="#777" >0</text>
<text x="455" y="147.7" font-size="10" text-anchor="start" fill="#777" >-0.1</text>
<line x1="296.5" y1="174" x2="296.5" y2="171.5" stroke="#333" stroke-width="1" />
<line x1="316.5" y1="174" x2="316.5" y2="171.5" stroke="#333" stroke-width="1" />
<line x1="335.5" y1="174" x2="335.5" y2="171.5" stroke="#333" stroke-width="1" />
<line x1="355.5" y1="174" x2="355.5" y2="171.5" stroke="#333" stroke-width="1" />
<line x1="374.5" y1="174" x2="374.5" y2="171.5" stroke="#333" stroke-width="1" />
<line x1="393.5" y1="174" x2="393.5" y2="171.5" stroke="#333" stroke-width="1" />
<line x1="413.5" y1="174" x2="413.5" y2="171.5" stroke="#333" stroke-width="1" />
<line x1="432.5" y1="174" x2="432.5" y2="171.5" stroke="#333" stroke-width="1" />
<line x1="452.5" y1="174" x2="452.5" y2="171.5" stroke="#333" stroke-width="1" />
<text x="296.9" y="183" font-size="10" text-anchor="middle" fill="#222" >-2</text>
<text x="335.7" y="183" font-size="10" text-anchor="middle" fill="#222" >-1</text>
<text x="374.4" y="183" font-size="10" text-anchor="middle" fill="#222" >0</text>
<text x="413.2" y="183" font-size="10" text-anchor="middle" fill="#222" >1</text>
<text x="452" y="183" font-size="10" text-anchor="middle" fill="#222" >2</text>
<text x="380.2" y="197.2" font-size="10.2" text-anchor="middle" fill="#222" >time from trial start (s)</text>
<text x="285.7" y="97.2" font-size="10" text-anchor="middle" fill="#222" transform="rotate(-90 285.7 97.2)" >velocity (cm/s)</text>
<line x1="282.6" y1="45.2" x2="282.6" y2="62.4" stroke="#333" stroke-width="1.5" stroke-dasharray="2.6,1.15"/>
<text x="473" y="87.5" font-size="10" text-anchor="middle" fill="#777" transform="rotate(-90 473 87.5)" >ΔF/F (z scored)</text>
<text x="477.4" y="10.9" font-size="15.5" text-anchor="start" fill="#111" font-weight="bold" text-rendering="geometricPrecision">C</text>
<path d="M523.3,50.8 L524,50.9 L524.7,50.9 L525.4,51 L526.1,50.7 L526.8,50.8 L527.5,50 L528.2,50.2 L528.9,50.5 L529.6,50.1 L530.3,50.1 L531,49.1 L531.7,49 L532.4,48.4 L533.1,48.4 L533.8,48.2 L534.5,47.7 L535.2,47.9 L535.9,48.1 L536.6,48.7 L537.3,48.6 L538,48.2 L538.7,48.7 L539.4,48 L540.1,48.2 L540.8,47.5 L541.5,47 L542.2,47.2 L542.9,46.2 L543.6,45.7 L544.3,45.7 L545,45.1 L545.7,44.1 L546.4,44.2 L547.1,43.4 L547.8,43.1 L548.5,42.3 L549.2,42.6 L549.9,42 L550.6,41.9 L551.3,41.5 L552,40.7 L552.7,40.3 L553.4,39.7 L554.1,39.2 L554.8,38.6 L555.5,38.3 L556.2,38.1 L556.9,37.1 L557.6,37.2 L558.3,36.4 L559,35.9 L559.7,35.9 L560.4,35.1 L561.1,34.5 L561.8,34.2 L562.5,34 L563.2,33.1 L563.9,33.5 L564.6,32.5 L565.3,33 L566,32.9 L566.7,31.9 L567.4,31.9 L568.1,30.9 L568.8,30.3 L569.5,28.9 L570.2,28 L570.9,27.1 L571.6,26.7 L572.3,25.1 L573,24.5 L573.7,23.5 L574.4,22.3 L575.1,20.7 L575.8,19.6 L576.5,18.6 L577.2,17.9 L577.9,16.4 L578.6,16.1 L579.3,15.3 L580,14.6 L580.7,13.4 L581.4,13.7 L582.1,12.9 L582.8,13.1 L583.5,13.7 L584.2,14.6 L584.9,15 L585.6,16.6 L586.3,17.7 L587,19.3 L587.7,21.8 L588.4,24.9 L589.1,28.4 L589.8,32.3 L590.5,36.9 L591.2,41.6 L591.9,45.6 L592.6,50.5 L593.3,56.8 L594,62.2 L594.7,67.7 L595.4,72.9 L596.1,78 L596.8,83.5 L597.5,88.1 L598.2,91.9 L598.9,93.6 L599.6,93.6 L600.3,89.9 L601,86.4 L601.7,83.4 L602.4,80.8 L603.1,79.5 L603.8,78 L604.5,76.2 L605.2,74.9 L605.9,73.1 L606.6,72.4 L607.3,71.5 L608,71.3 L608.7,70.1 L609.4,69.1 L610.1,68 L610.8,66.3 L611.5,64.6 L612.2,62.4 L612.9,60.8 L613.6,59.5 L614.3,57.8 L615,56.2 L615.7,54.9 L616.4,53.4 L617.1,52.6 L617.8,52.4 L618.5,52 L619.2,51.5 L619.9,51.4 L620.6,51.3 L621.3,51.2 L622,51.5 L622.7,52.1 L623.4,52.2 L624.1,51.9 L624.8,52.2 L625.5,52.1 L626.2,51.8 L626.9,51.4 L627.6,51.1 L628.3,50.3 L629,50 L629.7,49.2 L630.4,48.9 L631.1,48.7 L631.8,48.3 L632.5,47.7 L633.2,47.8 L633.9,47.3 L634.6,46.9 L635.3,46.1 L636,46.2 L636.7,45.8 L637.4,45.9 L638.1,45.7 L638.8,45.9 L639.5,45.9 L640.2,46.5 L640.9,46.8 L641.6,47.9 L642.3,48.7 L643,49.4 L643.7,49.3 L644.4,49.5 L645.1,48.9 L645.8,47.8 L646.5,46.8 L647.2,45.6 L647.9,44.2 L648.6,43.5 L649.3,42.9 L650,43.5 L650.7,43.9 L651.4,44.1 L652.1,44.8 L652.8,45.4 L653.5,45.8 L654.2,45.4 L654.9,45.7 L655.6,45.2 L656.3,44.8 L657,44.2 L657.7,44 L658.4,43.9 L659.1,43.8 L659.8,44 L660.5,43.6 L661.2,44 L661.9,44.5 L662.6,45.1 L663.3,45.1 L664,45.9 L664.7,46.5 L665.4,47 L666.1,48.2 L666.8,48.8 L667.5,49 L668.2,49 L668.9,48.8 L669.6,48.2 L670.3,47.6 L671,46.9 L671.7,46.7 L672.4,46.3 L673.1,46.5 L673.8,46.8 L674.5,46.9 L675.2,48 L675.9,47.6 L676.6,48.1 L677.3,47.7 L677.3,53.1 L676.6,53.5 L675.9,53 L675.2,53.4 L674.5,52.3 L673.8,52.2 L673.1,51.9 L672.4,51.7 L671.7,52.1 L671,52.3 L670.3,53 L669.6,53.6 L668.9,54.2 L668.2,54.4 L667.5,54.4 L666.8,54.2 L666.1,53.6 L665.4,52.4 L664.7,51.9 L664,51.3 L663.3,50.5 L662.6,50.5 L661.9,49.9 L661.2,49.4 L660.5,49 L659.8,49.4 L659.1,49.2 L658.4,49.3 L657.7,49.4 L657,49.6 L656.3,50.2 L655.6,50.6 L654.9,51.1 L654.2,50.8 L653.5,51.2 L652.8,50.8 L652.1,50.2 L651.4,49.5 L650.7,49.3 L650,48.9 L649.3,48.3 L648.6,48.9 L647.9,49.6 L647.2,51 L646.5,52.2 L645.8,53.2 L645.1,54.3 L644.4,54.9 L643.7,54.7 L643,54.8 L642.3,54.1 L641.6,53.3 L640.9,52.2 L640.2,51.9 L639.5,51.3 L638.8,51.3 L638.1,51.1 L637.4,51.3 L636.7,51.2 L636,51.6 L635.3,51.5 L634.6,52.3 L633.9,52.7 L633.2,53.2 L632.5,53.1 L631.8,53.7 L631.1,54.1 L630.4,54.3 L629.7,54.6 L629,55.4 L628.3,55.7 L627.6,56.5 L626.9,56.8 L626.2,57.2 L625.5,57.5 L624.8,57.6 L624.1,57.3 L623.4,57.6 L622.7,57.5 L622,56.9 L621.3,56.6 L620.6,56.7 L619.9,56.8 L619.2,56.9 L618.5,57.4 L617.8,57.8 L617.1,58 L616.4,58.8 L615.7,60.3 L615,61.6 L614.3,63.2 L613.6,64.9 L612.9,66.2 L612.2,67.8 L611.5,70 L610.8,71.7 L610.1,73.5 L609.4,74.5 L608.7,75.5 L608,76.8 L607.3,77 L606.6,78.1 L605.9,79 L605.2,81.1 L604.5,82.7 L603.8,85 L603.1,87.1 L602.4,89.1 L601.7,92.4 L601,96.1 L600.3,100.1 L599.6,104.1 L598.9,104.2 L598.2,102.4 L597.5,98.2 L596.8,93 L596.1,86.9 L595.4,81.1 L594.7,75.3 L594,69.2 L593.3,63.4 L592.6,56.8 L591.9,51.7 L591.2,47.6 L590.5,42.9 L589.8,38.4 L589.1,34.5 L588.4,31.1 L587.7,28.2 L587,25.9 L586.3,24.5 L585.6,23.5 L584.9,22.1 L584.2,21.8 L583.5,21 L582.8,20.5 L582.1,20.3 L581.4,21.1 L580.7,20.7 L580,21.9 L579.3,22.4 L578.6,23 L577.9,23.3 L577.2,24.5 L576.5,25.1 L575.8,25.9 L575.1,26.8 L574.4,28.4 L573.7,29.4 L573,30.3 L572.3,30.8 L571.6,32.4 L570.9,32.7 L570.2,33.5 L569.5,34.4 L568.8,35.7 L568.1,36.3 L567.4,37.4 L566.7,37.3 L566,38.3 L565.3,38.4 L564.6,37.9 L563.9,38.9 L563.2,38.5 L562.5,39.4 L561.8,39.6 L561.1,39.9 L560.4,40.5 L559.7,41.3 L559,41.3 L558.3,41.8 L557.6,42.6 L556.9,42.5 L556.2,43.5 L555.5,43.7 L554.8,44 L554.1,44.6 L553.4,45.1 L552.7,45.7 L552,46.1 L551.3,46.9 L550.6,47.3 L549.9,47.4 L549.2,48 L548.5,47.7 L547.8,48.5 L547.1,48.8 L546.4,49.6 L545.7,49.5 L545,50.5 L544.3,51.1 L543.6,51.1 L542.9,51.6 L542.2,52.6 L541.5,52.4 L540.8,52.9 L540.1,53.6 L539.4,53.4 L538.7,54.1 L538,53.6 L537.3,54 L536.6,54.1 L535.9,53.5 L535.2,53.3 L534.5,53.1 L533.8,53.6 L533.1,53.8 L532.4,53.8 L531.7,54.4 L531,54.5 L530.3,55.5 L529.6,55.5 L528.9,55.9 L528.2,55.6 L527.5,55.4 L526.8,56.2 L526.1,56.1 L525.4,56.4 L524.7,56.3 L524,56.3 L523.3,56.2Z" fill="#b9b9b9"/>
<path d="M523.3,53.5 L524,53.6 L524.7,53.6 L525.4,53.7 L526.1,53.4 L526.8,53.5 L527.5,52.7 L528.2,52.9 L528.9,53.2 L529.6,52.8 L530.3,52.8 L531,51.8 L531.7,51.7 L532.4,51.1 L533.1,51.1 L533.8,50.9 L534.5,50.4 L535.2,50.6 L535.9,50.8 L536.6,51.4 L537.3,51.3 L538,50.9 L538.7,51.4 L539.4,50.7 L540.1,50.9 L540.8,50.2 L541.5,49.7 L542.2,49.9 L542.9,48.9 L543.6,48.4 L544.3,48.4 L545,47.8 L545.7,46.8 L546.4,46.9 L547.1,46.1 L547.8,45.8 L548.5,45 L549.2,45.3 L549.9,44.7 L550.6,44.6 L551.3,44.2 L552,43.4 L552.7,43 L553.4,42.4 L554.1,41.9 L554.8,41.3 L555.5,41 L556.2,40.8 L556.9,39.8 L557.6,39.9 L558.3,39.1 L559,38.6 L559.7,38.6 L560.4,37.8 L561.1,37.2 L561.8,36.9 L562.5,36.7 L563.2,35.8 L563.9,36.2 L564.6,35.2 L565.3,35.7 L566,35.6 L566.7,34.6 L567.4,34.7 L568.1,33.6 L568.8,33 L569.5,31.6 L570.2,30.8 L570.9,29.9 L571.6,29.5 L572.3,28 L573,27.4 L573.7,26.5 L574.4,25.4 L575.1,23.8 L575.8,22.7 L576.5,21.9 L577.2,21.2 L577.9,19.8 L578.6,19.6 L579.3,18.9 L580,18.2 L580.7,17.1 L581.4,17.4 L582.1,16.6 L582.8,16.8 L583.5,17.4 L584.2,18.2 L584.9,18.6 L585.6,20.1 L586.3,21.1 L587,22.6 L587.7,25 L588.4,28 L589.1,31.5 L589.8,35.4 L590.5,39.9 L591.2,44.6 L591.9,48.6 L592.6,53.7 L593.3,60.1 L594,65.7 L594.7,71.5 L595.4,77 L596.1,82.5 L596.8,88.2 L597.5,93.1 L598.2,97.1 L598.9,98.9 L599.6,98.8 L600.3,95 L601,91.3 L601.7,87.9 L602.4,85 L603.1,83.3 L603.8,81.5 L604.5,79.5 L605.2,78 L605.9,76 L606.6,75.3 L607.3,74.2 L608,74.1 L608.7,72.8 L609.4,71.8 L610.1,70.7 L610.8,69 L611.5,67.3 L612.2,65.1 L612.9,63.5 L613.6,62.2 L614.3,60.5 L615,58.9 L615.7,57.6 L616.4,56.1 L617.1,55.3 L617.8,55.1 L618.5,54.7 L619.2,54.2 L619.9,54.1 L620.6,54 L621.3,53.9 L622,54.2 L622.7,54.8 L623.4,54.9 L624.1,54.6 L624.8,54.9 L625.5,54.8 L626.2,54.5 L626.9,54.1 L627.6,53.8 L628.3,53 L629,52.7 L629.7,51.9 L630.4,51.6 L631.1,51.4 L631.8,51 L632.5,50.4 L633.2,50.5 L633.9,50 L634.6,49.6 L635.3,48.8 L636,48.9 L636.7,48.5 L637.4,48.6 L638.1,48.4 L638.8,48.6 L639.5,48.6 L640.2,49.2 L640.9,49.5 L641.6,50.6 L642.3,51.4 L643,52.1 L643.7,52 L644.4,52.2 L645.1,51.6 L645.8,50.5 L646.5,49.5 L647.2,48.3 L647.9,46.9 L648.6,46.2 L649.3,45.6 L650,46.2 L650.7,46.6 L651.4,46.8 L652.1,47.5 L652.8,48.1 L653.5,48.5 L654.2,48.1 L654.9,48.4 L655.6,47.9 L656.3,47.5 L657,46.9 L657.7,46.7 L658.4,46.6 L659.1,46.5 L659.8,46.7 L660.5,46.3 L661.2,46.7 L661.9,47.2 L662.6,47.8 L663.3,47.8 L664,48.6 L664.7,49.2 L665.4,49.7 L666.1,50.9 L666.8,51.5 L667.5,51.7 L668.2,51.7 L668.9,51.5 L669.6,50.9 L670.3,50.3 L671,49.6 L671.7,49.4 L672.4,49 L673.1,49.2 L673.8,49.5 L674.5,49.6 L675.2,50.7 L675.9,50.3 L676.6,50.8 L677.3,50.4" fill="none" stroke="#555" stroke-width="1"/>
<line x1="523.5" y1="3.5" x2="523.5" y2="121.8" stroke="#333" stroke-width="1" />
<line x1="523.3" y1="121.5" x2="677.6" y2="121.5" stroke="#333" stroke-width="1" />
<line x1="523.3" y1="5.5" x2="525.8" y2="5.5" stroke="#333" stroke-width="1" />
<line x1="523.3" y1="28.5" x2="525.8" y2="28.5" stroke="#333" stroke-width="1" />
<line x1="523.3" y1="52.5" x2="525.8" y2="52.5" stroke="#333" stroke-width="1" />
<line x1="523.3" y1="75.5" x2="525.8" y2="75.5" stroke="#333" stroke-width="1" />
<line x1="523.3" y1="99.5" x2="525.8" y2="99.5" stroke="#333" stroke-width="1" />
<text x="518.8" y="8.6" font-size="10" text-anchor="end" fill="#222" >0.01</text>
<text x="518.8" y="55.6" font-size="10" text-anchor="end" fill="#222" >0</text>
<text x="518.8" y="102.6" font-size="10" text-anchor="end" fill="#222" >-0.01</text>
<line x1="523.5" y1="121.7" x2="523.5" y2="119.2" stroke="#333" stroke-width="1" />
<line x1="542.5" y1="121.7" x2="542.5" y2="119.2" stroke="#333" stroke-width="1" />
<line x1="561.5" y1="121.7" x2="561.5" y2="119.2" stroke="#333" stroke-width="1" />
<line x1="581.5" y1="121.7" x2="581.5" y2="119.2" stroke="#333" stroke-width="1" />
<line x1="600.5" y1="121.7" x2="600.5" y2="119.2" stroke="#333" stroke-width="1" />
<line x1="619.5" y1="121.7" x2="619.5" y2="119.2" stroke="#333" stroke-width="1" />
<line x1="639.5" y1="121.7" x2="639.5" y2="119.2" stroke="#333" stroke-width="1" />
<line x1="658.5" y1="121.7" x2="658.5" y2="119.2" stroke="#333" stroke-width="1" />
<line x1="677.5" y1="121.7" x2="677.5" y2="119.2" stroke="#333" stroke-width="1" />
<rect x="524.1" y="171.5" width="0.8" height="4" fill="#909090"/><rect x="525.6" y="171.9" width="0.8" height="3.6" fill="#909090"/><rect x="527.9" y="171.9" width="0.8" height="3.6" fill="#909090"/><rect x="531" y="172.1" width="0.8" height="3.4" fill="#909090"/><rect x="531.8" y="171.5" width="0.8" height="4" fill="#909090"/><rect x="532.6" y="171.2" width="0.8" height="4.3" fill="#909090"/><rect x="533.3" y="171.2" width="0.8" height="4.3" fill="#909090"/><rect x="540.3" y="171.2" width="0.8" height="4.3" fill="#909090"/><rect x="544.1" y="171.5" width="0.8" height="4" fill="#909090"/><rect x="544.9" y="164.4" width="0.8" height="11.1" fill="#cfcfcf"/><rect x="545.7" y="171.7" width="0.8" height="3.8" fill="#909090"/><rect x="549.5" y="171.5" width="0.8" height="4" fill="#909090"/><rect x="553.4" y="171.9" width="0.8" height="3.6" fill="#909090"/><rect x="554.9" y="171.5" width="0.8" height="4" fill="#909090"/><rect x="556.5" y="171.5" width="0.8" height="4" fill="#909090"/><rect x="558" y="171.7" width="0.8" height="3.8" fill="#909090"/><rect x="561.9" y="171.9" width="0.8" height="3.6" fill="#909090"/><rect x="565" y="171.9" width="0.8" height="3.6" fill="#909090"/><rect x="565.7" y="171.9" width="0.8" height="3.6" fill="#909090"/><rect x="568" y="171.9" width="0.8" height="3.6" fill="#909090"/><rect x="571.1" y="170.1" width="0.8" height="5.4" fill="#cfcfcf"/><rect x="571.9" y="171.2" width="0.8" height="4.3" fill="#909090"/><rect x="573.4" y="171.9" width="0.8" height="3.6" fill="#909090"/><rect x="575" y="166.7" width="0.8" height="8.8" fill="#cfcfcf"/><rect x="575.8" y="172.1" width="0.8" height="3.4" fill="#909090"/><rect x="576.5" y="168.9" width="0.8" height="6.6" fill="#cfcfcf"/><rect x="578.1" y="171.7" width="0.8" height="3.8" fill="#909090"/><rect x="578.8" y="171.5" width="0.8" height="4" fill="#909090"/><rect x="581.2" y="171.9" width="0.8" height="3.6" fill="#909090"/><rect x="583.5" y="171.9" width="0.8" height="3.6" fill="#909090"/><rect x="584.2" y="171.5" width="0.8" height="4" fill="#909090"/><rect x="585" y="171.9" width="0.8" height="3.6" fill="#909090"/><rect x="585.8" y="171.9" width="0.8" height="3.6" fill="#909090"/><rect x="586.6" y="171.7" width="0.8" height="3.8" fill="#909090"/><rect x="587.3" y="171.2" width="0.8" height="4.3" fill="#909090"/><rect x="588.9" y="169.9" width="0.8" height="5.6" fill="#7a7a7a"/><rect x="589.6" y="167.1" width="0.8" height="8.4" fill="#7a7a7a"/><rect x="590.4" y="164.9" width="0.8" height="10.6" fill="#7a7a7a"/><rect x="591.2" y="164.6" width="0.8" height="10.9" fill="#7a7a7a"/><rect x="592" y="161" width="0.8" height="14.5" fill="#7a7a7a"/><rect x="592.7" y="159.3" width="0.8" height="16.2" fill="#7a7a7a"/><rect x="593.5" y="157.7" width="0.8" height="17.8" fill="#7a7a7a"/><rect x="594.3" y="155.6" width="0.8" height="19.9" fill="#7a7a7a"/><rect x="595" y="154.5" width="0.8" height="21" fill="#7a7a7a"/><rect x="595.8" y="152.4" width="0.8" height="23.1" fill="#7a7a7a"/><rect x="596.6" y="142.4" width="0.8" height="33.1" fill="#7a7a7a"/><rect x="597.4" y="143.1" width="0.8" height="32.4" fill="#7a7a7a"/><rect x="598.1" y="124.4" width="0.8" height="51.1" fill="#7a7a7a"/><rect x="598.9" y="137" width="0.8" height="38.5" fill="#7a7a7a"/><rect x="599.7" y="135.5" width="0.8" height="40" fill="#7a7a7a"/><rect x="600.5" y="146.8" width="0.8" height="28.7" fill="#7a7a7a"/><rect x="602.8" y="172.1" width="0.8" height="3.4" fill="#909090"/><rect x="605.1" y="171.2" width="0.8" height="4.3" fill="#909090"/><rect x="605.9" y="171.7" width="0.8" height="3.8" fill="#909090"/><rect x="607.4" y="172.1" width="0.8" height="3.4" fill="#909090"/><rect x="612.8" y="169.6" width="0.8" height="5.9" fill="#cfcfcf"/><rect x="615.9" y="171.2" width="0.8" height="4.3" fill="#909090"/><rect x="616.7" y="171.9" width="0.8" height="3.6" fill="#909090"/><rect x="617.4" y="172.1" width="0.8" height="3.4" fill="#909090"/><rect x="621.3" y="172.1" width="0.8" height="3.4" fill="#909090"/><rect x="622.8" y="171.7" width="0.8" height="3.8" fill="#909090"/><rect x="627.5" y="171.9" width="0.8" height="3.6" fill="#909090"/><rect x="628.2" y="171.7" width="0.8" height="3.8" fill="#909090"/><rect x="629.8" y="172.1" width="0.8" height="3.4" fill="#909090"/><rect x="630.5" y="171.5" width="0.8" height="4" fill="#909090"/><rect x="631.3" y="172.1" width="0.8" height="3.4" fill="#909090"/><rect x="632.1" y="171.2" width="0.8" height="4.3" fill="#909090"/><rect x="633.6" y="171.5" width="0.8" height="4" fill="#909090"/><rect x="634.4" y="171.2" width="0.8" height="4.3" fill="#909090"/><rect x="639.8" y="171.2" width="0.8" height="4.3" fill="#909090"/><rect x="646.7" y="172.1" width="0.8" height="3.4" fill="#909090"/><rect x="648.3" y="171.5" width="0.8" height="4" fill="#909090"/><rect x="651.4" y="171.9" width="0.8" height="3.6" fill="#909090"/><rect x="652.9" y="171.7" width="0.8" height="3.8" fill="#909090"/><rect x="653.7" y="171.5" width="0.8" height="4" fill="#909090"/><rect x="657.5" y="171.9" width="0.8" height="3.6" fill="#909090"/><rect x="658.3" y="171.5" width="0.8" height="4" fill="#909090"/><rect x="659.9" y="171.9" width="0.8" height="3.6" fill="#909090"/><rect x="662.2" y="172.1" width="0.8" height="3.4" fill="#909090"/><rect x="662.9" y="171.7" width="0.8" height="3.8" fill="#909090"/><rect x="663.7" y="172.1" width="0.8" height="3.4" fill="#909090"/><rect x="667.6" y="171.5" width="0.8" height="4" fill="#909090"/><rect x="668.3" y="171.2" width="0.8" height="4.3" fill="#909090"/><rect x="671.4" y="172.1" width="0.8" height="3.4" fill="#909090"/><rect x="672.2" y="171.7" width="0.8" height="3.8" fill="#909090"/><rect x="673" y="171.7" width="0.8" height="3.8" fill="#909090"/><rect x="673.7" y="171.2" width="0.8" height="4.3" fill="#909090"/>
<line x1="523.5" y1="122.4" x2="523.5" y2="175.5" stroke="#333" stroke-width="1" />
<line x1="523.3" y1="175.5" x2="677.6" y2="175.5" stroke="#333" stroke-width="1" />
<line x1="523.3" y1="124.5" x2="525.8" y2="124.5" stroke="#333" stroke-width="1" />
<line x1="523.3" y1="132.5" x2="525.8" y2="132.5" stroke="#333" stroke-width="1" />
<line x1="523.3" y1="140.5" x2="525.8" y2="140.5" stroke="#333" stroke-width="1" />
<line x1="523.3" y1="148.5" x2="525.8" y2="148.5" stroke="#333" stroke-width="1" />
<line x1="523.3" y1="156.5" x2="525.8" y2="156.5" stroke="#333" stroke-width="1" />
<line x1="523.3" y1="164.5" x2="525.8" y2="164.5" stroke="#333" stroke-width="1" />
<line x1="523.3" y1="172.5" x2="525.8" y2="172.5" stroke="#333" stroke-width="1" />
<text x="518.8" y="127.5" font-size="10" text-anchor="end" fill="#222" >60</text>
<text x="518.8" y="176" font-size="10" text-anchor="end" fill="#222" >0</text>
<line x1="523.5" y1="175.5" x2="523.5" y2="173" stroke="#333" stroke-width="1" />
<line x1="542.5" y1="175.5" x2="542.5" y2="173" stroke="#333" stroke-width="1" />
<line x1="561.5" y1="175.5" x2="561.5" y2="173" stroke="#333" stroke-width="1" />
<line x1="581.5" y1="175.5" x2="581.5" y2="173" stroke="#333" stroke-width="1" />
<line x1="600.5" y1="175.5" x2="600.5" y2="173" stroke="#333" stroke-width="1" />
<line x1="619.5" y1="175.5" x2="619.5" y2="173" stroke="#333" stroke-width="1" />
<line x1="639.5" y1="175.5" x2="639.5" y2="173" stroke="#333" stroke-width="1" />
<line x1="658.5" y1="175.5" x2="658.5" y2="173" stroke="#333" stroke-width="1" />
<line x1="677.5" y1="175.5" x2="677.5" y2="173" stroke="#333" stroke-width="1" />
<text x="523.3" y="185.5" font-size="10" text-anchor="middle" fill="#222" >-20</text>
<text x="561.9" y="185.5" font-size="10" text-anchor="middle" fill="#222" >-10</text>
<text x="600.5" y="185.5" font-size="10" text-anchor="middle" fill="#222" >0</text>
<text x="639" y="185.5" font-size="10" text-anchor="middle" fill="#222" >10</text>
<text x="677.6" y="185.5" font-size="10" text-anchor="middle" fill="#222" >20</text>
<text x="602.5" y="195.5" font-size="10.3" text-anchor="middle" fill="#222" >time lag (s)</text>
<text x="496.5" y="56.3" font-size="10" text-anchor="middle" fill="#222" transform="rotate(-90 496.5 56.3)" >cross-correlation</text>
<text x="496.5" y="151" font-size="10" text-anchor="middle" fill="#222" transform="rotate(-90 496.5 151)" >min cc</text>
<text x="-1.3" y="222.7" font-size="15.5" text-anchor="start" fill="#111" font-weight="bold" text-rendering="geometricPrecision">D</text>
<rect x="8.8" y="230.8" width="13.1" height="6.8" fill="#8fb3bb"/>
<text x="29.5" y="237.6" font-size="10" text-anchor="start" fill="#222" >up</text>
<rect x="8.8" y="243.1" width="13.1" height="6.8" fill="#9788ae"/>
<text x="29.5" y="249.9" font-size="10" text-anchor="start" fill="#222" >down</text>
<rect x="8.8" y="255.1" width="13.1" height="6.8" fill="#d7cbbd"/>
<text x="29.5" y="261.9" font-size="10" text-anchor="start" fill="#222" >no modulation</text>
<path d="M43,315 L43,275 A40,40 0 0 1 76.5,293.2 Z" fill="#8fb3bb"/>
<path d="M43,315 L76.5,293.2 A40,40 0 1 1 9.8,292.6 Z" fill="#9788ae"/>
<path d="M43,315 L9.8,292.6 A40,40 0 0 1 43,275 Z" fill="#d7cbbd"/>
<text x="93.1" y="222.7" font-size="15.5" text-anchor="start" fill="#111" font-weight="bold" text-rendering="geometricPrecision">E</text>
<path d="M117.5,338.9 L118.4,338.6 L119.2,338.4 L120.1,338.1 L121,337.9 L121.8,337.6 L122.7,337.4 L123.6,337.1 L124.4,336.9 L125.3,336.7 L126.2,336.4 L127,336.2 L127.9,336 L128.7,335.7 L129.6,335.5 L130.5,335.2 L131.3,334.9 L132.2,334.7 L133.1,334.4 L133.9,334.1 L134.8,333.8 L135.7,333.5 L136.5,333.1 L137.4,332.8 L138.3,332.4 L139.1,332 L140,331.7 L140.9,331.3 L141.7,330.8 L142.6,330.4 L143.4,330 L144.3,329.6 L145.2,329.1 L146,328.7 L146.9,328.2 L147.8,327.8 L148.6,327.3 L149.5,326.8 L150.4,326.3 L151.2,325.8 L152.1,325.3 L153,324.7 L153.8,324.1 L154.7,323.6 L155.6,323 L156.4,322.4 L157.3,321.7 L158.2,321.1 L159,320.5 L159.9,319.8 L160.8,319.1 L161.6,318.4 L162.5,317.7 L163.3,317 L164.2,316.3 L165.1,315.6 L165.9,314.8 L166.8,314.1 L167.7,313.3 L168.5,312.5 L169.4,311.8 L170.3,311 L171.1,310.1 L172,309.3 L172.9,308.5 L173.7,307.6 L174.6,306.8 L175.5,305.9 L176.3,305 L177.2,304.1 L178.1,303.2 L178.9,302.3 L179.8,301.4 L180.6,300.4 L181.5,299.4 L182.4,298.5 L183.2,297.5 L184.1,296.4 L185,295.3 L185.8,294.2 L186.7,293 L187.6,291.8 L188.4,290.5 L189.3,289.2 L190.2,287.9 L191,286.5 L191.9,285.1 L192.8,283.7 L193.6,282.3 L194.5,280.8 L195.4,279.2 L196.2,277.6 L197.1,275.9 L197.9,274.1 L198.8,272.3 L199.7,270.5 L200.5,268.7 L201.4,266.9 L202.3,265.2 L203.1,263.6 L204,262 L204.9,260.5 L205.7,259 L206.6,257.6 L207.5,256.3 L208.3,254.9 L209.2,253.7 L210.1,252.5 L210.9,251.4 L211.8,250.3 L212.7,249.4 L213.5,248.5 L214.4,247.7 L215.2,247 L216.1,246.3 L217,245.7 L217.8,245.1 L218.7,244.6 L219.6,244.1 L220.4,243.6 L221.3,243.2 L222.2,242.8 L223,242.4 L223.9,242 L224.8,241.7 L225.6,241.5 L226.5,241.3 L227.4,241.1 L228.2,241 L229.1,240.9 L229.9,240.8 L230.8,240.9 L231.7,241 L232.5,241.1 L233.4,241.3 L234.3,241.4 L235.1,241.6 L236,241.8 L236.9,242.1 L237.7,242.3 L238.6,242.6 L239.5,242.9 L240.3,243.2 L241.2,243.6 L242.1,244 L242.9,244.4 L243.8,244.9 L244.7,245.4 L245.5,245.9 L246.4,246.5 L247.2,247 L248.1,247.6 L249,248.1 L249.8,248.7 L250.7,249.3 L251.6,249.9 L252.4,250.5 L253.3,251.1 L254.2,251.7 L255,252.4 L255.9,253 L256.8,253.7 L257.6,254.3 L258.5,255 L259.4,255.6 L260.2,256.2 L261.1,256.7 L262,257.3 L262.8,257.8 L263.7,258.4 L264.5,258.9 L265.4,259.5 L266.3,260 L267.1,260.5 L268,261 L268.9,261.6 L269.7,262.1 L270.6,262.5 L271.5,263 L272.3,263.5 L273.2,264 L274.1,264.4 L274.9,264.9 L275.8,265.3 L276.7,265.8 L277.5,266.2 L278.4,266.6 L279.3,267 L280.1,267.5 L281,267.9 L281.9,268.3 L282.7,268.7 L283.6,269.1 L284.4,269.4 L285.3,269.8 L286.2,270.2 L287,270.6 L287.9,271 L288.8,271.3 L289.6,271.7 L290.5,272.1 L290.5,282.9 L289.6,282.5 L288.8,282.2 L287.9,281.8 L287,281.5 L286.2,281.2 L285.3,280.8 L284.4,280.5 L283.6,280.1 L282.7,279.8 L281.9,279.4 L281,279 L280.1,278.7 L279.3,278.3 L278.4,277.9 L277.5,277.5 L276.7,277.1 L275.8,276.7 L274.9,276.3 L274.1,275.9 L273.2,275.4 L272.3,275 L271.5,274.6 L270.6,274.1 L269.7,273.7 L268.9,273.2 L268,272.7 L267.1,272.2 L266.3,271.8 L265.4,271.3 L264.5,270.8 L263.7,270.3 L262.8,269.7 L262,269.2 L261.1,268.7 L260.2,268.1 L259.4,267.6 L258.5,267 L257.6,266.4 L256.8,265.8 L255.9,265.2 L255,264.6 L254.2,264 L253.3,263.4 L252.4,262.8 L251.6,262.2 L250.7,261.6 L249.8,261.1 L249,260.6 L248.1,260.1 L247.2,259.5 L246.4,259 L245.5,258.5 L244.7,258 L243.8,257.6 L242.9,257.1 L242.1,256.7 L241.2,256.3 L240.3,256 L239.5,255.7 L238.6,255.5 L237.7,255.2 L236.9,255 L236,254.8 L235.1,254.6 L234.3,254.5 L233.4,254.3 L232.5,254.2 L231.7,254.1 L230.8,254.1 L229.9,254 L229.1,253.9 L228.2,253.8 L227.4,253.8 L226.5,253.8 L225.6,253.8 L224.8,253.9 L223.9,254.1 L223,254.2 L222.2,254.5 L221.3,254.7 L220.4,255 L219.6,255.3 L218.7,255.6 L217.8,256 L217,256.4 L216.1,256.9 L215.2,257.4 L214.4,258 L213.5,258.6 L212.7,259.3 L211.8,260.1 L210.9,261 L210.1,262 L209.2,263 L208.3,264.1 L207.5,265.3 L206.6,266.5 L205.7,267.7 L204.9,269.1 L204,270.4 L203.1,271.8 L202.3,273.3 L201.4,274.9 L200.5,276.5 L199.7,278.2 L198.8,279.8 L197.9,281.5 L197.1,283.1 L196.2,284.7 L195.4,286.2 L194.5,287.6 L193.6,288.9 L192.8,290.2 L191.9,291.5 L191,292.8 L190.2,294 L189.3,295.2 L188.4,296.3 L187.6,297.5 L186.7,298.6 L185.8,299.6 L185,300.6 L184.1,301.6 L183.2,302.5 L182.4,303.4 L181.5,304.2 L180.6,305.1 L179.8,305.9 L178.9,306.7 L178.1,307.5 L177.2,308.3 L176.3,309 L175.5,309.8 L174.6,310.6 L173.7,311.3 L172.9,312 L172,312.8 L171.1,313.5 L170.3,314.2 L169.4,314.9 L168.5,315.5 L167.7,316.2 L166.8,316.9 L165.9,317.5 L165.1,318.1 L164.2,318.8 L163.3,319.4 L162.5,320 L161.6,320.6 L160.8,321.2 L159.9,321.8 L159,322.4 L158.2,322.9 L157.3,323.5 L156.4,324 L155.6,324.5 L154.7,325.1 L153.8,325.6 L153,326.1 L152.1,326.6 L151.2,327.1 L150.4,327.5 L149.5,328 L148.6,328.5 L147.8,329 L146.9,329.4 L146,329.9 L145.2,330.3 L144.3,330.8 L143.4,331.2 L142.6,331.6 L141.7,332 L140.9,332.5 L140,332.9 L139.1,333.2 L138.3,333.6 L137.4,334 L136.5,334.3 L135.7,334.7 L134.8,335 L133.9,335.3 L133.1,335.6 L132.2,335.9 L131.3,336.1 L130.5,336.4 L129.6,336.7 L128.7,336.9 L127.9,337.2 L127,337.4 L126.2,337.6 L125.3,337.9 L124.4,338.1 L123.6,338.3 L122.7,338.6 L121.8,338.8 L121,339.1 L120.1,339.3 L119.2,339.6 L118.4,339.8 L117.5,340.1Z" fill="#b2cfd5"/>
<path d="M117.5,331.8 L118.4,331.8 L119.2,331.8 L120.1,331.8 L121,331.8 L121.8,331.8 L122.7,331.9 L123.6,331.9 L124.4,331.9 L125.3,331.9 L126.2,331.9 L127,331.9 L127.9,331.9 L128.7,331.9 L129.6,331.9 L130.5,331.9 L131.3,332 L132.2,332 L133.1,332 L133.9,332 L134.8,332 L135.7,332 L136.5,332 L137.4,332 L138.3,332 L139.1,332 L140,332 L140.9,332 L141.7,332 L142.6,332 L143.4,332 L144.3,332 L145.2,332 L146,332 L146.9,332 L147.8,332 L148.6,331.9 L149.5,331.9 L150.4,331.9 L151.2,331.9 L152.1,331.9 L153,331.9 L153.8,331.9 L154.7,331.9 L155.6,331.9 L156.4,331.8 L157.3,331.8 L158.2,331.8 L159,331.8 L159.9,331.8 L160.8,331.8 L161.6,331.8 L162.5,331.8 L163.3,331.8 L164.2,331.7 L165.1,331.7 L165.9,331.7 L166.8,331.7 L167.7,331.7 L168.5,331.7 L169.4,331.6 L170.3,331.6 L171.1,331.6 L172,331.6 L172.9,331.6 L173.7,331.6 L174.6,331.6 L175.5,331.5 L176.3,331.5 L177.2,331.5 L178.1,331.5 L178.9,331.5 L179.8,331.5 L180.6,331.5 L181.5,331.5 L182.4,331.5 L183.2,331.5 L184.1,331.5 L185,331.5 L185.8,331.5 L186.7,331.5 L187.6,331.5 L188.4,331.5 L189.3,331.5 L190.2,331.5 L191,331.5 L191.9,331.5 L192.8,331.5 L193.6,331.5 L194.5,331.5 L195.4,331.5 L196.2,331.5 L197.1,331.5 L197.9,331.5 L198.8,331.5 L199.7,331.5 L200.5,331.5 L201.4,331.5 L202.3,331.5 L203.1,331.5 L204,331.4 L204.9,331.4 L205.7,331.4 L206.6,331.4 L207.5,331.3 L208.3,331.3 L209.2,331.3 L210.1,331.3 L210.9,331.3 L211.8,331.2 L212.7,331 L213.5,330.6 L214.4,330.2 L215.2,329.8 L216.1,329.3 L217,328.8 L217.8,328.3 L218.7,327.8 L219.6,327.4 L220.4,326.9 L221.3,326.5 L222.2,326.1 L223,325.6 L223.9,325.2 L224.8,324.8 L225.6,324.3 L226.5,323.9 L227.4,323.5 L228.2,323.1 L229.1,322.7 L229.9,322.3 L230.8,321.8 L231.7,321.4 L232.5,321.1 L233.4,320.7 L234.3,320.3 L235.1,319.9 L236,319.5 L236.9,319.1 L237.7,318.7 L238.6,318.3 L239.5,317.9 L240.3,317.6 L241.2,317.2 L242.1,316.7 L242.9,316.3 L243.8,315.9 L244.7,315.5 L245.5,315 L246.4,314.6 L247.2,314.1 L248.1,313.7 L249,313.2 L249.8,312.8 L250.7,312.3 L251.6,311.9 L252.4,311.4 L253.3,311 L254.2,310.6 L255,310.1 L255.9,309.7 L256.8,309.3 L257.6,308.9 L258.5,308.5 L259.4,308.2 L260.2,307.8 L261.1,307.4 L262,307 L262.8,306.6 L263.7,306.3 L264.5,305.9 L265.4,305.6 L266.3,305.2 L267.1,304.9 L268,304.6 L268.9,304.3 L269.7,304 L270.6,303.7 L271.5,303.4 L272.3,303.2 L273.2,302.9 L274.1,302.7 L274.9,302.4 L275.8,302.2 L276.7,302 L277.5,301.7 L278.4,301.5 L279.3,301.3 L280.1,301.1 L281,300.8 L281.9,300.6 L282.7,300.5 L283.6,300.3 L284.4,300.2 L285.3,300 L286.2,299.9 L287,299.8 L287.9,299.6 L288.8,299.5 L289.6,299.3 L290.5,299.2 L290.5,306.2 L289.6,306.3 L288.8,306.5 L287.9,306.6 L287,306.8 L286.2,306.9 L285.3,307 L284.4,307.2 L283.6,307.3 L282.7,307.5 L281.9,307.6 L281,307.8 L280.1,307.9 L279.3,308 L278.4,308.2 L277.5,308.3 L276.7,308.5 L275.8,308.7 L274.9,308.8 L274.1,309 L273.2,309.2 L272.3,309.3 L271.5,309.5 L270.6,309.7 L269.7,309.9 L268.9,310.2 L268,310.4 L267.1,310.6 L266.3,310.9 L265.4,311.2 L264.5,311.4 L263.7,311.7 L262.8,312 L262,312.3 L261.1,312.6 L260.2,312.9 L259.4,313.2 L258.5,313.5 L257.6,313.8 L256.8,314.2 L255.9,314.5 L255,314.8 L254.2,315.2 L253.3,315.5 L252.4,315.9 L251.6,316.3 L250.7,316.6 L249.8,317 L249,317.4 L248.1,317.8 L247.2,318.2 L246.4,318.5 L245.5,318.9 L244.7,319.3 L243.8,319.6 L242.9,320 L242.1,320.3 L241.2,320.7 L240.3,321 L239.5,321.3 L238.6,321.6 L237.7,321.9 L236.9,322.2 L236,322.6 L235.1,322.9 L234.3,323.2 L233.4,323.5 L232.5,323.8 L231.7,324.1 L230.8,324.5 L229.9,324.8 L229.1,325.1 L228.2,325.5 L227.4,325.8 L226.5,326.2 L225.6,326.5 L224.8,326.9 L223.9,327.2 L223,327.6 L222.2,327.9 L221.3,328.3 L220.4,328.7 L219.6,329 L218.7,329.4 L217.8,329.8 L217,330.2 L216.1,330.7 L215.2,331.1 L214.4,331.4 L213.5,331.7 L212.7,332 L211.8,332.2 L210.9,332.3 L210.1,332.3 L209.2,332.3 L208.3,332.3 L207.5,332.3 L206.6,332.4 L205.7,332.4 L204.9,332.4 L204,332.4 L203.1,332.5 L202.3,332.5 L201.4,332.5 L200.5,332.5 L199.7,332.5 L198.8,332.5 L197.9,332.5 L197.1,332.5 L196.2,332.5 L195.4,332.5 L194.5,332.5 L193.6,332.5 L192.8,332.5 L191.9,332.5 L191,332.5 L190.2,332.5 L189.3,332.5 L188.4,332.5 L187.6,332.5 L186.7,332.5 L185.8,332.5 L185,332.5 L184.1,332.5 L183.2,332.5 L182.4,332.5 L181.5,332.5 L180.6,332.5 L179.8,332.5 L178.9,332.5 L178.1,332.5 L177.2,332.5 L176.3,332.5 L175.5,332.5 L174.6,332.6 L173.7,332.6 L172.9,332.6 L172,332.6 L171.1,332.6 L170.3,332.6 L169.4,332.6 L168.5,332.7 L167.7,332.7 L166.8,332.7 L165.9,332.7 L165.1,332.7 L164.2,332.7 L163.3,332.8 L162.5,332.8 L161.6,332.8 L160.8,332.8 L159.9,332.8 L159,332.8 L158.2,332.8 L157.3,332.8 L156.4,332.8 L155.6,332.9 L154.7,332.9 L153.8,332.9 L153,332.9 L152.1,332.9 L151.2,332.9 L150.4,332.9 L149.5,332.9 L148.6,332.9 L147.8,333 L146.9,333 L146,333 L145.2,333 L144.3,333 L143.4,333 L142.6,333 L141.7,333 L140.9,333 L140,333 L139.1,333 L138.3,333 L137.4,333 L136.5,333 L135.7,333 L134.8,333 L133.9,333 L133.1,333 L132.2,333 L131.3,333 L130.5,332.9 L129.6,332.9 L128.7,332.9 L127.9,332.9 L127,332.9 L126.2,332.9 L125.3,332.9 L124.4,332.9 L123.6,332.9 L122.7,332.9 L121.8,332.8 L121,332.8 L120.1,332.8 L119.2,332.8 L118.4,332.8 L117.5,332.8Z" fill="#e0d4c9"/>
<path d="M117.5,325.6 L118.4,325.8 L119.2,326.1 L120.1,326.3 L121,326.5 L121.8,326.7 L122.7,326.9 L123.6,327.1 L124.4,327.4 L125.3,327.6 L126.2,327.9 L127,328.1 L127.9,328.4 L128.7,328.6 L129.6,328.9 L130.5,329.2 L131.3,329.5 L132.2,329.8 L133.1,330.1 L133.9,330.4 L134.8,330.7 L135.7,331 L136.5,331.3 L137.4,331.7 L138.3,332 L139.1,332.4 L140,332.7 L140.9,333.1 L141.7,333.4 L142.6,333.8 L143.4,334.2 L144.3,334.5 L145.2,334.9 L146,335.3 L146.9,335.7 L147.8,336.1 L148.6,336.5 L149.5,337 L150.4,337.4 L151.2,337.8 L152.1,338.2 L153,338.7 L153.8,339.1 L154.7,339.6 L155.6,340 L156.4,340.5 L157.3,341 L158.2,341.4 L159,341.9 L159.9,342.4 L160.8,342.9 L161.6,343.4 L162.5,344 L163.3,344.5 L164.2,345.1 L165.1,345.6 L165.9,346.2 L166.8,346.8 L167.7,347.3 L168.5,347.9 L169.4,348.5 L170.3,349.1 L171.1,349.7 L172,350.2 L172.9,350.8 L173.7,351.4 L174.6,352 L175.5,352.6 L176.3,353.2 L177.2,353.8 L178.1,354.4 L178.9,355 L179.8,355.6 L180.6,356.2 L181.5,356.8 L182.4,357.4 L183.2,358 L184.1,358.5 L185,359.1 L185.8,359.7 L186.7,360.2 L187.6,360.8 L188.4,361.3 L189.3,361.9 L190.2,362.4 L191,362.9 L191.9,363.4 L192.8,364 L193.6,364.5 L194.5,365 L195.4,365.5 L196.2,366 L197.1,366.5 L197.9,367 L198.8,367.4 L199.7,367.9 L200.5,368.3 L201.4,368.8 L202.3,369.2 L203.1,369.6 L204,369.9 L204.9,370.2 L205.7,370.5 L206.6,370.8 L207.5,371.1 L208.3,371.4 L209.2,371.7 L210.1,371.9 L210.9,372.1 L211.8,372.3 L212.7,372.4 L213.5,372.6 L214.4,372.7 L215.2,372.8 L216.1,372.8 L217,372.8 L217.8,372.8 L218.7,372.7 L219.6,372.6 L220.4,372.5 L221.3,372.4 L222.2,372.2 L223,372 L223.9,371.7 L224.8,371.5 L225.6,371.2 L226.5,370.9 L227.4,370.6 L228.2,370.2 L229.1,369.9 L229.9,369.4 L230.8,369 L231.7,368.5 L232.5,368.1 L233.4,367.6 L234.3,367.1 L235.1,366.6 L236,366.1 L236.9,365.6 L237.7,365.1 L238.6,364.5 L239.5,364 L240.3,363.4 L241.2,362.8 L242.1,362.2 L242.9,361.6 L243.8,361 L244.7,360.4 L245.5,359.8 L246.4,359.3 L247.2,358.7 L248.1,358.1 L249,357.5 L249.8,356.9 L250.7,356.3 L251.6,355.7 L252.4,355.1 L253.3,354.5 L254.2,353.9 L255,353.3 L255.9,352.7 L256.8,352.1 L257.6,351.4 L258.5,350.8 L259.4,350.2 L260.2,349.5 L261.1,348.8 L262,348.2 L262.8,347.5 L263.7,346.8 L264.5,346.1 L265.4,345.4 L266.3,344.8 L267.1,344.1 L268,343.4 L268.9,342.7 L269.7,342 L270.6,341.3 L271.5,340.6 L272.3,339.9 L273.2,339.2 L274.1,338.5 L274.9,337.8 L275.8,337.1 L276.7,336.4 L277.5,335.7 L278.4,335 L279.3,334.3 L280.1,333.5 L281,332.8 L281.9,332.1 L282.7,331.4 L283.6,330.6 L284.4,329.9 L285.3,329.1 L286.2,328.4 L287,327.7 L287.9,326.9 L288.8,326.2 L289.6,325.4 L290.5,324.7 L290.5,327.9 L289.6,328.6 L288.8,329.3 L287.9,330 L287,330.7 L286.2,331.4 L285.3,332.1 L284.4,332.8 L283.6,333.5 L282.7,334.2 L281.9,334.9 L281,335.6 L280.1,336.3 L279.3,336.9 L278.4,337.6 L277.5,338.3 L276.7,339 L275.8,339.6 L274.9,340.3 L274.1,341 L273.2,341.6 L272.3,342.3 L271.5,342.9 L270.6,343.6 L269.7,344.2 L268.9,344.9 L268,345.5 L267.1,346.2 L266.3,346.8 L265.4,347.5 L264.5,348.1 L263.7,348.8 L262.8,349.4 L262,350 L261.1,350.7 L260.2,351.3 L259.4,351.9 L258.5,352.5 L257.6,353.1 L256.8,353.7 L255.9,354.3 L255,354.8 L254.2,355.4 L253.3,356 L252.4,356.5 L251.6,357.1 L250.7,357.6 L249.8,358.2 L249,358.7 L248.1,359.3 L247.2,359.8 L246.4,360.4 L245.5,360.9 L244.7,361.5 L243.8,362 L242.9,362.6 L242.1,363.1 L241.2,363.7 L240.3,364.2 L239.5,364.8 L238.6,365.3 L237.7,365.9 L236.9,366.4 L236,366.9 L235.1,367.4 L234.3,367.9 L233.4,368.4 L232.5,368.9 L231.7,369.3 L230.8,369.8 L229.9,370.2 L229.1,370.7 L228.2,371 L227.4,371.4 L226.5,371.7 L225.6,372 L224.8,372.3 L223.9,372.5 L223,372.8 L222.2,373 L221.3,373.2 L220.4,373.3 L219.6,373.4 L218.7,373.5 L217.8,373.6 L217,373.6 L216.1,373.6 L215.2,373.6 L214.4,373.5 L213.5,373.4 L212.7,373.2 L211.8,373.1 L210.9,372.9 L210.1,372.7 L209.2,372.5 L208.3,372.2 L207.5,371.9 L206.6,371.6 L205.7,371.3 L204.9,371 L204,370.7 L203.1,370.4 L202.3,370 L201.4,369.6 L200.5,369.1 L199.7,368.7 L198.8,368.2 L197.9,367.8 L197.1,367.3 L196.2,366.8 L195.4,366.3 L194.5,365.8 L193.6,365.3 L192.8,364.8 L191.9,364.2 L191,363.7 L190.2,363.2 L189.3,362.7 L188.4,362.1 L187.6,361.6 L186.7,361 L185.8,360.5 L185,359.9 L184.1,359.3 L183.2,358.8 L182.4,358.2 L181.5,357.6 L180.6,357 L179.8,356.4 L178.9,355.8 L178.1,355.2 L177.2,354.6 L176.3,354 L175.5,353.4 L174.6,352.8 L173.7,352.2 L172.9,351.6 L172,351 L171.1,350.5 L170.3,349.9 L169.4,349.3 L168.5,348.7 L167.7,348.1 L166.8,347.6 L165.9,347 L165.1,346.4 L164.2,345.9 L163.3,345.3 L162.5,344.8 L161.6,344.2 L160.8,343.7 L159.9,343.2 L159,342.7 L158.2,342.2 L157.3,341.8 L156.4,341.3 L155.6,340.8 L154.7,340.4 L153.8,339.9 L153,339.5 L152.1,339 L151.2,338.6 L150.4,338.2 L149.5,337.8 L148.6,337.3 L147.8,336.9 L146.9,336.5 L146,336.1 L145.2,335.7 L144.3,335.3 L143.4,335 L142.6,334.6 L141.7,334.2 L140.9,333.9 L140,333.5 L139.1,333.2 L138.3,332.8 L137.4,332.5 L136.5,332.1 L135.7,331.8 L134.8,331.5 L133.9,331.2 L133.1,330.9 L132.2,330.6 L131.3,330.3 L130.5,330 L129.6,329.7 L128.7,329.4 L127.9,329.2 L127,328.9 L126.2,328.7 L125.3,328.4 L124.4,328.2 L123.6,327.9 L122.7,327.7 L121.8,327.5 L121,327.3 L120.1,327.1 L119.2,326.9 L118.4,326.6 L117.5,326.4Z" fill="#b3a8d2"/>
<path d="M117.5,339.5 L118.4,339.2 L119.2,339 L120.1,338.7 L121,338.5 L121.8,338.2 L122.7,338 L123.6,337.7 L124.4,337.5 L125.3,337.3 L126.2,337 L127,336.8 L127.9,336.6 L128.7,336.3 L129.6,336.1 L130.5,335.8 L131.3,335.5 L132.2,335.3 L133.1,335 L133.9,334.7 L134.8,334.4 L135.7,334.1 L136.5,333.7 L137.4,333.4 L138.3,333 L139.1,332.6 L140,332.3 L140.9,331.9 L141.7,331.4 L142.6,331 L143.4,330.6 L144.3,330.2 L145.2,329.7 L146,329.3 L146.9,328.8 L147.8,328.4 L148.6,327.9 L149.5,327.4 L150.4,326.9 L151.2,326.4 L152.1,325.9 L153,325.4 L153.8,324.9 L154.7,324.3 L155.6,323.7 L156.4,323.2 L157.3,322.6 L158.2,322 L159,321.4 L159.9,320.8 L160.8,320.2 L161.6,319.5 L162.5,318.9 L163.3,318.2 L164.2,317.5 L165.1,316.9 L165.9,316.2 L166.8,315.5 L167.7,314.8 L168.5,314 L169.4,313.3 L170.3,312.6 L171.1,311.8 L172,311 L172.9,310.3 L173.7,309.5 L174.6,308.7 L175.5,307.9 L176.3,307 L177.2,306.2 L178.1,305.3 L178.9,304.5 L179.8,303.6 L180.6,302.7 L181.5,301.8 L182.4,300.9 L183.2,300 L184.1,299 L185,298 L185.8,296.9 L186.7,295.8 L187.6,294.6 L188.4,293.4 L189.3,292.2 L190.2,290.9 L191,289.6 L191.9,288.3 L192.8,287 L193.6,285.6 L194.5,284.2 L195.4,282.7 L196.2,281.1 L197.1,279.5 L197.9,277.8 L198.8,276.1 L199.7,274.3 L200.5,272.6 L201.4,270.9 L202.3,269.3 L203.1,267.7 L204,266.2 L204.9,264.8 L205.7,263.4 L206.6,262 L207.5,260.8 L208.3,259.5 L209.2,258.3 L210.1,257.2 L210.9,256.2 L211.8,255.2 L212.7,254.3 L213.5,253.6 L214.4,252.8 L215.2,252.2 L216.1,251.6 L217,251.1 L217.8,250.6 L218.7,250.1 L219.6,249.7 L220.4,249.3 L221.3,248.9 L222.2,248.6 L223,248.3 L223.9,248.1 L224.8,247.8 L225.6,247.7 L226.5,247.5 L227.4,247.4 L228.2,247.4 L229.1,247.4 L229.9,247.4 L230.8,247.5 L231.7,247.6 L232.5,247.7 L233.4,247.8 L234.3,247.9 L235.1,248.1 L236,248.3 L236.9,248.5 L237.7,248.8 L238.6,249 L239.5,249.3 L240.3,249.6 L241.2,250 L242.1,250.4 L242.9,250.8 L243.8,251.2 L244.7,251.7 L245.5,252.2 L246.4,252.7 L247.2,253.3 L248.1,253.8 L249,254.4 L249.8,254.9 L250.7,255.5 L251.6,256 L252.4,256.6 L253.3,257.2 L254.2,257.9 L255,258.5 L255.9,259.1 L256.8,259.8 L257.6,260.4 L258.5,261 L259.4,261.6 L260.2,262.1 L261.1,262.7 L262,263.3 L262.8,263.8 L263.7,264.3 L264.5,264.9 L265.4,265.4 L266.3,265.9 L267.1,266.4 L268,266.9 L268.9,267.4 L269.7,267.9 L270.6,268.3 L271.5,268.8 L272.3,269.3 L273.2,269.7 L274.1,270.1 L274.9,270.6 L275.8,271 L276.7,271.4 L277.5,271.8 L278.4,272.2 L279.3,272.7 L280.1,273.1 L281,273.5 L281.9,273.8 L282.7,274.2 L283.6,274.6 L284.4,275 L285.3,275.3 L286.2,275.7 L287,276 L287.9,276.4 L288.8,276.8 L289.6,277.1 L290.5,277.5" fill="none" stroke="#4f8c98" stroke-width="0.9"/>
<path d="M117.5,332.3 L118.4,332.3 L119.2,332.3 L120.1,332.3 L121,332.3 L121.8,332.3 L122.7,332.4 L123.6,332.4 L124.4,332.4 L125.3,332.4 L126.2,332.4 L127,332.4 L127.9,332.4 L128.7,332.4 L129.6,332.4 L130.5,332.4 L131.3,332.5 L132.2,332.5 L133.1,332.5 L133.9,332.5 L134.8,332.5 L135.7,332.5 L136.5,332.5 L137.4,332.5 L138.3,332.5 L139.1,332.5 L140,332.5 L140.9,332.5 L141.7,332.5 L142.6,332.5 L143.4,332.5 L144.3,332.5 L145.2,332.5 L146,332.5 L146.9,332.5 L147.8,332.5 L148.6,332.4 L149.5,332.4 L150.4,332.4 L151.2,332.4 L152.1,332.4 L153,332.4 L153.8,332.4 L154.7,332.4 L155.6,332.4 L156.4,332.3 L157.3,332.3 L158.2,332.3 L159,332.3 L159.9,332.3 L160.8,332.3 L161.6,332.3 L162.5,332.3 L163.3,332.3 L164.2,332.2 L165.1,332.2 L165.9,332.2 L166.8,332.2 L167.7,332.2 L168.5,332.2 L169.4,332.1 L170.3,332.1 L171.1,332.1 L172,332.1 L172.9,332.1 L173.7,332.1 L174.6,332.1 L175.5,332 L176.3,332 L177.2,332 L178.1,332 L178.9,332 L179.8,332 L180.6,332 L181.5,332 L182.4,332 L183.2,332 L184.1,332 L185,332 L185.8,332 L186.7,332 L187.6,332 L188.4,332 L189.3,332 L190.2,332 L191,332 L191.9,332 L192.8,332 L193.6,332 L194.5,332 L195.4,332 L196.2,332 L197.1,332 L197.9,332 L198.8,332 L199.7,332 L200.5,332 L201.4,332 L202.3,332 L203.1,332 L204,331.9 L204.9,331.9 L205.7,331.9 L206.6,331.9 L207.5,331.8 L208.3,331.8 L209.2,331.8 L210.1,331.8 L210.9,331.8 L211.8,331.7 L212.7,331.5 L213.5,331.2 L214.4,330.8 L215.2,330.4 L216.1,330 L217,329.5 L217.8,329.1 L218.7,328.6 L219.6,328.2 L220.4,327.8 L221.3,327.4 L222.2,327 L223,326.6 L223.9,326.2 L224.8,325.8 L225.6,325.4 L226.5,325 L227.4,324.7 L228.2,324.3 L229.1,323.9 L229.9,323.5 L230.8,323.2 L231.7,322.8 L232.5,322.4 L233.4,322.1 L234.3,321.7 L235.1,321.4 L236,321 L236.9,320.7 L237.7,320.3 L238.6,320 L239.5,319.6 L240.3,319.3 L241.2,318.9 L242.1,318.5 L242.9,318.2 L243.8,317.8 L244.7,317.4 L245.5,317 L246.4,316.6 L247.2,316.2 L248.1,315.7 L249,315.3 L249.8,314.9 L250.7,314.5 L251.6,314.1 L252.4,313.6 L253.3,313.2 L254.2,312.9 L255,312.5 L255.9,312.1 L256.8,311.8 L257.6,311.4 L258.5,311 L259.4,310.7 L260.2,310.3 L261.1,310 L262,309.7 L262.8,309.3 L263.7,309 L264.5,308.7 L265.4,308.4 L266.3,308.1 L267.1,307.8 L268,307.5 L268.9,307.2 L269.7,307 L270.6,306.7 L271.5,306.5 L272.3,306.3 L273.2,306 L274.1,305.8 L274.9,305.6 L275.8,305.4 L276.7,305.2 L277.5,305 L278.4,304.8 L279.3,304.7 L280.1,304.5 L281,304.3 L281.9,304.1 L282.7,304 L283.6,303.8 L284.4,303.7 L285.3,303.5 L286.2,303.4 L287,303.3 L287.9,303.1 L288.8,303 L289.6,302.8 L290.5,302.7" fill="none" stroke="#a08e7e" stroke-width="0.9"/>
<path d="M117.5,326 L118.4,326.2 L119.2,326.5 L120.1,326.7 L121,326.9 L121.8,327.1 L122.7,327.3 L123.6,327.5 L124.4,327.8 L125.3,328 L126.2,328.3 L127,328.5 L127.9,328.8 L128.7,329 L129.6,329.3 L130.5,329.6 L131.3,329.9 L132.2,330.2 L133.1,330.5 L133.9,330.8 L134.8,331.1 L135.7,331.4 L136.5,331.7 L137.4,332.1 L138.3,332.4 L139.1,332.8 L140,333.1 L140.9,333.5 L141.7,333.8 L142.6,334.2 L143.4,334.6 L144.3,334.9 L145.2,335.3 L146,335.7 L146.9,336.1 L147.8,336.5 L148.6,336.9 L149.5,337.4 L150.4,337.8 L151.2,338.2 L152.1,338.6 L153,339.1 L153.8,339.5 L154.7,340 L155.6,340.4 L156.4,340.9 L157.3,341.4 L158.2,341.8 L159,342.3 L159.9,342.8 L160.8,343.3 L161.6,343.8 L162.5,344.4 L163.3,344.9 L164.2,345.5 L165.1,346 L165.9,346.6 L166.8,347.2 L167.7,347.7 L168.5,348.3 L169.4,348.9 L170.3,349.5 L171.1,350.1 L172,350.6 L172.9,351.2 L173.7,351.8 L174.6,352.4 L175.5,353 L176.3,353.6 L177.2,354.2 L178.1,354.8 L178.9,355.4 L179.8,356 L180.6,356.6 L181.5,357.2 L182.4,357.8 L183.2,358.4 L184.1,358.9 L185,359.5 L185.8,360.1 L186.7,360.6 L187.6,361.2 L188.4,361.7 L189.3,362.3 L190.2,362.8 L191,363.3 L191.9,363.8 L192.8,364.4 L193.6,364.9 L194.5,365.4 L195.4,365.9 L196.2,366.4 L197.1,366.9 L197.9,367.4 L198.8,367.8 L199.7,368.3 L200.5,368.7 L201.4,369.2 L202.3,369.6 L203.1,370 L204,370.3 L204.9,370.6 L205.7,370.9 L206.6,371.2 L207.5,371.5 L208.3,371.8 L209.2,372.1 L210.1,372.3 L210.9,372.5 L211.8,372.7 L212.7,372.8 L213.5,373 L214.4,373.1 L215.2,373.2 L216.1,373.2 L217,373.2 L217.8,373.2 L218.7,373.1 L219.6,373 L220.4,372.9 L221.3,372.8 L222.2,372.6 L223,372.4 L223.9,372.1 L224.8,371.9 L225.6,371.6 L226.5,371.3 L227.4,371 L228.2,370.6 L229.1,370.3 L229.9,369.8 L230.8,369.4 L231.7,368.9 L232.5,368.5 L233.4,368 L234.3,367.5 L235.1,367 L236,366.5 L236.9,366 L237.7,365.5 L238.6,364.9 L239.5,364.4 L240.3,363.8 L241.2,363.3 L242.1,362.7 L242.9,362.1 L243.8,361.5 L244.7,361 L245.5,360.4 L246.4,359.8 L247.2,359.2 L248.1,358.7 L249,358.1 L249.8,357.5 L250.7,357 L251.6,356.4 L252.4,355.8 L253.3,355.2 L254.2,354.7 L255,354.1 L255.9,353.5 L256.8,352.9 L257.6,352.3 L258.5,351.6 L259.4,351 L260.2,350.4 L261.1,349.7 L262,349.1 L262.8,348.4 L263.7,347.8 L264.5,347.1 L265.4,346.5 L266.3,345.8 L267.1,345.1 L268,344.5 L268.9,343.8 L269.7,343.1 L270.6,342.4 L271.5,341.8 L272.3,341.1 L273.2,340.4 L274.1,339.7 L274.9,339.1 L275.8,338.4 L276.7,337.7 L277.5,337 L278.4,336.3 L279.3,335.6 L280.1,334.9 L281,334.2 L281.9,333.5 L282.7,332.8 L283.6,332.1 L284.4,331.3 L285.3,330.6 L286.2,329.9 L287,329.2 L287.9,328.5 L288.8,327.7 L289.6,327 L290.5,326.3" fill="none" stroke="#7a69b0" stroke-width="1.2"/>
<path d="M117.5,348.7 L124,348 L130,347 L139,346.2 L146,345.8 L150,345 L153,344.7 L157,344.5 L160,343.6 L163.2,342.8 L168,342 L173.4,340.7 L178,339.5 L182,338.5 L185,337 L189.5,335.5 L192,333 L195.3,328.2 L197.5,336 L199.7,358.2 L201,330 L202.6,270 L203.6,240 L204.6,245 L205.6,300 L206.8,350 L207.7,361.8 L209.2,345 L211.4,331.9 L213,334 L215,337 L218,340 L221.8,342.5 L226,341 L229.5,342 L233,344 L236,345 L240,345.5 L243.3,346.5 L248,347 L252,348 L257,348.2 L261.7,348.7 L268,349 L275,349.2 L282,349.4 L290.5,349.6" fill="none" stroke="#111" stroke-width="1.2" stroke-dasharray="3,1.6" stroke-linejoin="round"/>
<line x1="117.5" y1="227" x2="117.5" y2="377" stroke="#333" stroke-width="1" />
<line x1="117.5" y1="377.5" x2="290.5" y2="377.5" stroke="#333" stroke-width="1" />
<line x1="290.5" y1="227" x2="290.5" y2="377" stroke="#333" stroke-width="1" />
<line x1="117.5" y1="227.5" x2="120" y2="227.5" stroke="#333" stroke-width="1" />
<line x1="117.5" y1="244.5" x2="120" y2="244.5" stroke="#333" stroke-width="1" />
<line x1="117.5" y1="260.5" x2="120" y2="260.5" stroke="#333" stroke-width="1" />
<line x1="117.5" y1="277.5" x2="120" y2="277.5" stroke="#333" stroke-width="1" />
<line x1="117.5" y1="294.5" x2="120" y2="294.5" stroke="#333" stroke-width="1" />
<line x1="117.5" y1="310.5" x2="120" y2="310.5" stroke="#333" stroke-width="1" />
<line x1="117.5" y1="327.5" x2="120" y2="327.5" stroke="#333" stroke-width="1" />
<line x1="117.5" y1="343.5" x2="120" y2="343.5" stroke="#333" stroke-width="1" />
<line x1="117.5" y1="360.5" x2="120" y2="360.5" stroke="#333" stroke-width="1" />
<text x="114.2" y="232.2" font-size="10" text-anchor="end" fill="#555" >8</text>
<text x="114.2" y="298.7" font-size="10" text-anchor="end" fill="#555" >4</text>
<text x="114.2" y="365.3" font-size="10" text-anchor="end" fill="#555" >0</text>
<line x1="288" y1="242.5" x2="290.5" y2="242.5" stroke="#333" stroke-width="1" />
<line x1="288" y1="257.5" x2="290.5" y2="257.5" stroke="#333" stroke-width="1" />
<line x1="288" y1="272.5" x2="290.5" y2="272.5" stroke="#333" stroke-width="1" />
<line x1="288" y1="287.5" x2="290.5" y2="287.5" stroke="#333" stroke-width="1" />
<line x1="288" y1="302.5" x2="290.5" y2="302.5" stroke="#333" stroke-width="1" />
<line x1="288" y1="317.5" x2="290.5" y2="317.5" stroke="#333" stroke-width="1" />
<line x1="288" y1="332.5" x2="290.5" y2="332.5" stroke="#333" stroke-width="1" />
<line x1="288" y1="347.5" x2="290.5" y2="347.5" stroke="#333" stroke-width="1" />
<line x1="288" y1="362.5" x2="290.5" y2="362.5" stroke="#333" stroke-width="1" />
<text x="294" y="245.9" font-size="10" text-anchor="start" fill="#777" >0.3</text>
<text x="294" y="275.9" font-size="10" text-anchor="start" fill="#777" >0.2</text>
<text x="294" y="305.9" font-size="10" text-anchor="start" fill="#777" >0.1</text>
<text x="294" y="335.9" font-size="10" text-anchor="start" fill="#777" >0</text>
<text x="294" y="365.9" font-size="10" text-anchor="start" fill="#777" >-0.1</text>
<line x1="117.5" y1="377" x2="117.5" y2="374.5" stroke="#333" stroke-width="1" />
<line x1="139.5" y1="377" x2="139.5" y2="374.5" stroke="#333" stroke-width="1" />
<line x1="160.5" y1="377" x2="160.5" y2="374.5" stroke="#333" stroke-width="1" />
<line x1="182.5" y1="377" x2="182.5" y2="374.5" stroke="#333" stroke-width="1" />
<line x1="204.5" y1="377" x2="204.5" y2="374.5" stroke="#333" stroke-width="1" />
<line x1="225.5" y1="377" x2="225.5" y2="374.5" stroke="#333" stroke-width="1" />
<line x1="247.5" y1="377" x2="247.5" y2="374.5" stroke="#333" stroke-width="1" />
<line x1="268.5" y1="377" x2="268.5" y2="374.5" stroke="#333" stroke-width="1" />
<line x1="290.5" y1="377" x2="290.5" y2="374.5" stroke="#333" stroke-width="1" />
<text x="117.5" y="387.5" font-size="10" text-anchor="middle" fill="#222" >-2</text>
<text x="160.8" y="387.5" font-size="10" text-anchor="middle" fill="#222" >-1</text>
<text x="204" y="387.5" font-size="10" text-anchor="middle" fill="#222" >0</text>
<text x="247.2" y="387.5" font-size="10" text-anchor="middle" fill="#222" >1</text>
<text x="290.5" y="387.5" font-size="10" text-anchor="middle" fill="#222" >2</text>
<text x="208" y="401.5" font-size="10.2" text-anchor="middle" fill="#222" >time from pull max (s)</text>
<text x="106.5" y="304" font-size="10" text-anchor="middle" fill="#222" transform="rotate(-90 106.5 304)" >velocity (cm/s)</text>
<line x1="103.2" y1="251.9" x2="103.2" y2="268.8" stroke="#333" stroke-width="1.5" stroke-dasharray="2.6,1.15"/>
<text x="318.5" y="301.6" font-size="10" text-anchor="middle" fill="#777" transform="rotate(-90 318.5 301.6)" >ΔF/F (z scored)</text>
<text x="329.1" y="222.7" font-size="15.5" text-anchor="start" fill="#111" font-weight="bold" text-rendering="geometricPrecision">F</text>
<path d="M368.6,324.3 L369.3,324.7 L370,324.6 L370.7,324.2 L371.4,323.8 L372.1,323.9 L372.8,323.6 L373.5,323.2 L374.2,323.4 L374.9,323.6 L375.6,323.9 L376.3,323.6 L377,323.8 L377.7,323.8 L378.4,323.4 L379.1,323.8 L379.8,324 L380.5,324.9 L381.2,324.9 L381.9,324.8 L382.6,325.2 L383.3,325.2 L384,325.4 L384.7,325.2 L385.4,325.1 L386.1,325.4 L386.8,325.5 L387.5,325.4 L388.2,324.8 L388.9,324.9 L389.6,324.8 L390.3,324.9 L391,324.8 L391.7,325.1 L392.4,324.8 L393.1,324.7 L393.8,324.8 L394.5,324.2 L395.2,323.9 L395.9,323.7 L396.6,324.3 L397.3,324.1 L398,324.1 L398.7,324.1 L399.4,323.8 L400.1,323 L400.8,323.3 L401.5,322.9 L402.2,323 L402.9,322.4 L403.6,322.1 L404.3,322.4 L405,322.6 L405.7,321.9 L406.4,321.2 L407.1,321 L407.8,321.1 L408.5,320.9 L409.2,320.7 L409.9,320 L410.6,320 L411.3,320 L412,319.4 L412.7,318.5 L413.4,317.8 L414.1,317.7 L414.8,316.7 L415.5,316.3 L416.2,315.5 L416.9,315.1 L417.6,314.6 L418.3,314.1 L419,314.1 L419.7,313.7 L420.4,313.5 L421.1,312.7 L421.8,311.8 L422.5,311.3 L423.2,309.5 L423.9,308.9 L424.6,308.4 L425.3,307.3 L426,306.8 L426.7,305.9 L427.4,304.2 L428.1,303.4 L428.8,302.3 L429.5,301.4 L430.2,300.5 L430.9,300.1 L431.6,299.2 L432.3,298.1 L433,297.2 L433.7,295.3 L434.4,294.6 L435.1,292.9 L435.8,291.8 L436.5,289.9 L437.2,288 L437.9,286.3 L438.6,285.2 L439.3,283.5 L440,281.2 L440.7,279 L441.4,276.5 L442.1,274.4 L442.8,272.1 L443.5,270.1 L444.2,267.1 L444.9,264.3 L445.6,260.6 L446.3,256.5 L447,252.9 L447.7,249.4 L448.4,245.7 L449.1,242.9 L449.8,242.5 L450.5,244.3 L451.2,248.7 L451.9,252.6 L452.6,258.2 L453.3,264.8 L454,270.5 L454.7,276.3 L455.4,282 L456.1,287.1 L456.8,291.7 L457.5,295.7 L458.2,300 L458.9,303.9 L459.6,306.9 L460.3,309.7 L461,312.4 L461.7,314.9 L462.4,316.9 L463.1,318.9 L463.8,320.5 L464.5,321.7 L465.2,323 L465.9,324.5 L466.6,325.4 L467.3,325.7 L468,325.6 L468.7,325.8 L469.4,326.3 L470.1,326.6 L470.8,326 L471.5,325.7 L472.2,324.9 L472.9,324.3 L473.6,324.3 L474.3,324.2 L475,324.5 L475.7,324.9 L476.4,325 L477.1,325.3 L477.8,324.9 L478.5,324.3 L479.2,324.4 L479.9,325.2 L480.6,325.1 L481.3,324.5 L482,324.4 L482.7,324.8 L483.4,324.2 L484.1,324.4 L484.8,324 L485.5,324.3 L486.2,324.5 L486.9,324.4 L487.6,324.9 L488.3,324.5 L489,324.1 L489.7,324.6 L490.4,324 L491.1,324.7 L491.8,324.4 L492.5,323.8 L493.2,323.7 L493.9,323.7 L494.6,323.6 L495.3,323.5 L496,323.8 L496.7,322.8 L497.4,322.7 L498.1,322.6 L498.8,323.3 L499.5,322.5 L500.2,322.5 L500.9,322.1 L501.6,322 L502.3,322.3 L503,322.5 L503.7,323.1 L504.4,322.8 L505.1,322.9 L505.8,323.2 L506.5,323.4 L507.2,323.2 L507.9,323.5 L508.6,323 L509.3,323.5 L510,323.4 L510.7,323.2 L511.4,323.2 L512.1,323.3 L512.8,323.8 L513.5,323.5 L514.2,323.2 L514.9,323.2 L515.6,322.7 L516.3,322 L517,322.2 L517.7,322 L518.4,322.4 L519.1,321.9 L519.8,320.8 L520.5,320.9 L521.2,321 L521.9,321.5 L522.6,321.5 L523.3,321.3 L524,321.3 L524.7,320.9 L525.4,320.7 L526.1,320 L526.8,320 L527.5,319.6 L528.2,319.3 L528.9,319.5 L529.6,319.8 L530.3,319.3 L531,320 L531.7,319.6 L532.4,319.8 L533.1,320 L533.8,319.9 L534.5,319.8 L535.2,320.3 L535.9,320.4 L535.9,324.8 L535.2,324.7 L534.5,324.2 L533.8,324.3 L533.1,324.4 L532.4,324.2 L531.7,324 L531,324.4 L530.3,323.7 L529.6,324.2 L528.9,323.9 L528.2,323.7 L527.5,324 L526.8,324.4 L526.1,324.4 L525.4,325.1 L524.7,325.3 L524,325.7 L523.3,325.7 L522.6,325.9 L521.9,325.9 L521.2,325.4 L520.5,325.3 L519.8,325.2 L519.1,326.3 L518.4,326.8 L517.7,326.4 L517,326.6 L516.3,326.4 L515.6,327.1 L514.9,327.6 L514.2,327.6 L513.5,327.9 L512.8,328.2 L512.1,327.7 L511.4,327.6 L510.7,327.6 L510,327.8 L509.3,327.9 L508.6,327.4 L507.9,327.9 L507.2,327.6 L506.5,327.8 L505.8,327.6 L505.1,327.3 L504.4,327.2 L503.7,327.5 L503,326.9 L502.3,326.7 L501.6,326.4 L500.9,326.5 L500.2,326.9 L499.5,326.9 L498.8,327.7 L498.1,327 L497.4,327.1 L496.7,327.2 L496,328.2 L495.3,327.9 L494.6,328 L493.9,328.1 L493.2,328.1 L492.5,328.2 L491.8,328.8 L491.1,329.1 L490.4,328.4 L489.7,329 L489,328.5 L488.3,328.9 L487.6,329.3 L486.9,328.8 L486.2,328.9 L485.5,328.7 L484.8,328.4 L484.1,328.8 L483.4,328.6 L482.7,329.2 L482,328.8 L481.3,328.9 L480.6,329.5 L479.9,329.6 L479.2,328.8 L478.5,328.7 L477.8,329.3 L477.1,329.7 L476.4,329.4 L475.7,329.3 L475,328.9 L474.3,328.6 L473.6,328.7 L472.9,328.7 L472.2,329.3 L471.5,330.1 L470.8,330.4 L470.1,331 L469.4,330.7 L468.7,330.2 L468,330 L467.3,330.2 L466.6,329.9 L465.9,329 L465.2,327.5 L464.5,326.3 L463.8,325.1 L463.1,323.6 L462.4,321.7 L461.7,319.7 L461,317.4 L460.3,314.9 L459.6,312.3 L458.9,309.6 L458.2,306 L457.5,302 L456.8,298.5 L456.1,294.4 L455.4,289.8 L454.7,284.6 L454,279.4 L453.3,274.4 L452.6,268.5 L451.9,263.6 L451.2,260.2 L450.5,256.5 L449.8,255.2 L449.1,256.2 L448.4,259.4 L447.7,263.5 L447,267.2 L446.3,270.9 L445.6,275.1 L444.9,278.6 L444.2,281.2 L443.5,283.9 L442.8,285.5 L442.1,287.4 L441.4,289 L440.7,291 L440,292.6 L439.3,294.4 L438.6,295.6 L437.9,296.3 L437.2,297.6 L436.5,299.1 L435.8,300.7 L435.1,301.6 L434.4,303.1 L433.7,303.7 L433,305.4 L432.3,306.3 L431.6,307.2 L430.9,308.1 L430.2,308.4 L429.5,309.1 L428.8,309.9 L428.1,310.9 L427.4,311.5 L426.7,312.9 L426,313.6 L425.3,313.9 L424.6,314.7 L423.9,315.1 L423.2,315.4 L422.5,316.9 L421.8,317.3 L421.1,318 L420.4,318.6 L419.7,318.7 L419,319 L418.3,318.9 L417.6,319.2 L416.9,319.7 L416.2,320.1 L415.5,320.8 L414.8,321.2 L414.1,322.2 L413.4,322.3 L412.7,322.9 L412,323.8 L411.3,324.4 L410.6,324.4 L409.9,324.4 L409.2,325.1 L408.5,325.3 L407.8,325.5 L407.1,325.4 L406.4,325.6 L405.7,326.3 L405,327 L404.3,326.8 L403.6,326.5 L402.9,326.8 L402.2,327.4 L401.5,327.3 L400.8,327.7 L400.1,327.4 L399.4,328.2 L398.7,328.5 L398,328.5 L397.3,328.5 L396.6,328.7 L395.9,328.1 L395.2,328.3 L394.5,328.6 L393.8,329.2 L393.1,329.1 L392.4,329.2 L391.7,329.5 L391,329.2 L390.3,329.3 L389.6,329.2 L388.9,329.3 L388.2,329.2 L387.5,329.8 L386.8,329.9 L386.1,329.8 L385.4,329.5 L384.7,329.6 L384,329.8 L383.3,329.6 L382.6,329.6 L381.9,329.2 L381.2,329.3 L380.5,329.3 L379.8,328.4 L379.1,328.2 L378.4,327.8 L377.7,328.2 L377,328.2 L376.3,328 L375.6,328.3 L374.9,328 L374.2,327.8 L373.5,327.6 L372.8,328 L372.1,328.3 L371.4,328.2 L370.7,328.6 L370,329 L369.3,329.1 L368.6,328.7Z" fill="#a9cad1"/>
<path d="M368.6,329 L369.3,328.7 L370,328.7 L370.7,328.6 L371.4,328.8 L372.1,328.2 L372.8,328.1 L373.5,327.8 L374.2,327.5 L374.9,327.3 L375.6,327.2 L376.3,327.2 L377,327 L377.7,327.3 L378.4,327.2 L379.1,326.3 L379.8,326.8 L380.5,326.8 L381.2,326.7 L381.9,326.8 L382.6,327 L383.3,327 L384,326.7 L384.7,326.8 L385.4,326.3 L386.1,326.8 L386.8,326.4 L387.5,326.3 L388.2,326.3 L388.9,326.3 L389.6,326.1 L390.3,326.2 L391,325 L391.7,324.9 L392.4,324.9 L393.1,324.7 L393.8,325.1 L394.5,324.7 L395.2,324.6 L395.9,323.9 L396.6,324 L397.3,323.4 L398,323 L398.7,323.8 L399.4,323.9 L400.1,323.8 L400.8,323.8 L401.5,323.3 L402.2,322.9 L402.9,323 L403.6,322.4 L404.3,322.5 L405,322 L405.7,322.2 L406.4,321.9 L407.1,322.5 L407.8,322.8 L408.5,322.5 L409.2,321.9 L409.9,321.7 L410.6,321.7 L411.3,321.4 L412,321.5 L412.7,321.7 L413.4,321.6 L414.1,321.4 L414.8,321.5 L415.5,321.2 L416.2,321.3 L416.9,321 L417.6,321.2 L418.3,320.8 L419,320.1 L419.7,319.9 L420.4,319.3 L421.1,318.7 L421.8,318.4 L422.5,318.2 L423.2,317.1 L423.9,316.7 L424.6,316 L425.3,315.3 L426,314.8 L426.7,313.7 L427.4,313.3 L428.1,312.6 L428.8,312.2 L429.5,311.8 L430.2,311.4 L430.9,311 L431.6,310.9 L432.3,311.4 L433,311.4 L433.7,311.4 L434.4,311.2 L435.1,310.9 L435.8,311 L436.5,311.7 L437.2,311.5 L437.9,312.2 L438.6,313.1 L439.3,313.9 L440,315.1 L440.7,316.7 L441.4,318.6 L442.1,320.3 L442.8,322.2 L443.5,323.7 L444.2,325.5 L444.9,327.4 L445.6,329.6 L446.3,331.4 L447,333.3 L447.7,335.1 L448.4,336.2 L449.1,337.3 L449.8,338.2 L450.5,338.6 L451.2,339 L451.9,339.1 L452.6,338.6 L453.3,338.1 L454,338.2 L454.7,338.1 L455.4,338.2 L456.1,338 L456.8,337.8 L457.5,337 L458.2,337.2 L458.9,336.7 L459.6,336.7 L460.3,336.1 L461,335.7 L461.7,335.5 L462.4,335.2 L463.1,334.8 L463.8,334.9 L464.5,335 L465.2,334.9 L465.9,334.7 L466.6,334.3 L467.3,334.1 L468,333.8 L468.7,333.8 L469.4,334 L470.1,333.9 L470.8,333.6 L471.5,333.4 L472.2,333.8 L472.9,333.7 L473.6,333.7 L474.3,333.7 L475,333.8 L475.7,333.7 L476.4,333.9 L477.1,334 L477.8,332.9 L478.5,332.8 L479.2,333.7 L479.9,333.1 L480.6,333 L481.3,333.2 L482,333 L482.7,333.3 L483.4,332.7 L484.1,332.2 L484.8,332 L485.5,331.7 L486.2,331.4 L486.9,331.5 L487.6,331.6 L488.3,331.5 L489,331.3 L489.7,331.4 L490.4,331.3 L491.1,331 L491.8,331.1 L492.5,331.1 L493.2,331.1 L493.9,331.2 L494.6,330.7 L495.3,330.6 L496,330.3 L496.7,330.7 L497.4,330.7 L498.1,331.2 L498.8,331.4 L499.5,331 L500.2,330.4 L500.9,330.3 L501.6,330 L502.3,329.8 L503,329.3 L503.7,329.4 L504.4,329.3 L505.1,329.3 L505.8,329.3 L506.5,328.8 L507.2,328.1 L507.9,328 L508.6,327.8 L509.3,327.7 L510,328 L510.7,328 L511.4,328.5 L512.1,328.5 L512.8,328.6 L513.5,328.7 L514.2,328.9 L514.9,328.5 L515.6,328.8 L516.3,328.8 L517,328.5 L517.7,328.8 L518.4,328.9 L519.1,329.4 L519.8,329.6 L520.5,329.6 L521.2,329.1 L521.9,329.7 L522.6,330.1 L523.3,330.2 L524,330.3 L524.7,330.5 L525.4,330.1 L526.1,330.3 L526.8,330.2 L527.5,329.8 L528.2,329.9 L528.9,329.9 L529.6,330.4 L530.3,330.6 L531,330 L531.7,329.3 L532.4,329.4 L533.1,329.3 L533.8,329.1 L534.5,328.8 L535.2,328.9 L535.9,328.7 L535.9,332.1 L535.2,332.3 L534.5,332.2 L533.8,332.5 L533.1,332.7 L532.4,332.8 L531.7,332.7 L531,333.4 L530.3,334 L529.6,333.8 L528.9,333.3 L528.2,333.3 L527.5,333.2 L526.8,333.6 L526.1,333.7 L525.4,333.5 L524.7,333.9 L524,333.7 L523.3,333.6 L522.6,333.5 L521.9,333.1 L521.2,332.5 L520.5,333 L519.8,333 L519.1,332.8 L518.4,332.3 L517.7,332.2 L517,331.9 L516.3,332.2 L515.6,332.2 L514.9,331.9 L514.2,332.3 L513.5,332.1 L512.8,332 L512.1,331.9 L511.4,331.9 L510.7,331.4 L510,331.4 L509.3,331.1 L508.6,331.2 L507.9,331.4 L507.2,331.5 L506.5,332.2 L505.8,332.7 L505.1,332.7 L504.4,332.7 L503.7,332.8 L503,332.7 L502.3,333.2 L501.6,333.4 L500.9,333.7 L500.2,333.8 L499.5,334.4 L498.8,334.8 L498.1,334.6 L497.4,334.1 L496.7,334.1 L496,333.7 L495.3,334 L494.6,334.1 L493.9,334.6 L493.2,334.5 L492.5,334.5 L491.8,334.5 L491.1,334.4 L490.4,334.7 L489.7,334.8 L489,334.7 L488.3,334.9 L487.6,335 L486.9,334.9 L486.2,334.8 L485.5,335.1 L484.8,335.4 L484.1,335.6 L483.4,336.1 L482.7,336.7 L482,336.4 L481.3,336.6 L480.6,336.4 L479.9,336.5 L479.2,337.1 L478.5,336.2 L477.8,336.3 L477.1,337.4 L476.4,337.3 L475.7,337.1 L475,337.2 L474.3,337.1 L473.6,337.1 L472.9,337.1 L472.2,337.2 L471.5,336.8 L470.8,337 L470.1,337.3 L469.4,337.4 L468.7,337.2 L468,337.2 L467.3,337.5 L466.6,337.7 L465.9,338.1 L465.2,338.3 L464.5,338.4 L463.8,338.3 L463.1,338.2 L462.4,338.6 L461.7,338.9 L461,339.1 L460.3,339.5 L459.6,340.1 L458.9,340.1 L458.2,340.6 L457.5,340.4 L456.8,341.2 L456.1,341.4 L455.4,341.6 L454.7,341.5 L454,341.6 L453.3,341.5 L452.6,342 L451.9,342.5 L451.2,342.4 L450.5,342 L449.8,341.6 L449.1,340.7 L448.4,339.6 L447.7,338.5 L447,336.7 L446.3,334.8 L445.6,333 L444.9,330.8 L444.2,328.9 L443.5,327.1 L442.8,325.6 L442.1,323.7 L441.4,322 L440.7,320.1 L440,318.5 L439.3,317.3 L438.6,316.5 L437.9,315.6 L437.2,314.9 L436.5,315.1 L435.8,314.4 L435.1,314.3 L434.4,314.6 L433.7,314.8 L433,314.8 L432.3,314.8 L431.6,314.3 L430.9,314.4 L430.2,314.8 L429.5,315.2 L428.8,315.6 L428.1,316 L427.4,316.7 L426.7,317.1 L426,318.2 L425.3,318.7 L424.6,319.4 L423.9,320.1 L423.2,320.5 L422.5,321.6 L421.8,321.8 L421.1,322.1 L420.4,322.7 L419.7,323.3 L419,323.5 L418.3,324.2 L417.6,324.6 L416.9,324.4 L416.2,324.7 L415.5,324.6 L414.8,324.9 L414.1,324.8 L413.4,325 L412.7,325.1 L412,324.9 L411.3,324.8 L410.6,325.1 L409.9,325.1 L409.2,325.3 L408.5,325.9 L407.8,326.2 L407.1,325.9 L406.4,325.3 L405.7,325.6 L405,325.4 L404.3,325.9 L403.6,325.8 L402.9,326.4 L402.2,326.3 L401.5,326.7 L400.8,327.2 L400.1,327.2 L399.4,327.3 L398.7,327.2 L398,326.4 L397.3,326.8 L396.6,327.4 L395.9,327.3 L395.2,328 L394.5,328.1 L393.8,328.5 L393.1,328.1 L392.4,328.3 L391.7,328.3 L391,328.4 L390.3,329.6 L389.6,329.5 L388.9,329.7 L388.2,329.7 L387.5,329.7 L386.8,329.8 L386.1,330.2 L385.4,329.7 L384.7,330.2 L384,330.1 L383.3,330.4 L382.6,330.4 L381.9,330.2 L381.2,330.1 L380.5,330.2 L379.8,330.2 L379.1,329.7 L378.4,330.6 L377.7,330.7 L377,330.4 L376.3,330.6 L375.6,330.6 L374.9,330.7 L374.2,330.9 L373.5,331.2 L372.8,331.5 L372.1,331.6 L371.4,332.2 L370.7,332 L370,332.1 L369.3,332.1 L368.6,332.4Z" fill="#e0d4c9"/>
<path d="M368.6,330.7 L369.3,330.4 L370,330.4 L370.7,330.3 L371.4,330.5 L372.1,329.9 L372.8,329.8 L373.5,329.5 L374.2,329.2 L374.9,329 L375.6,328.9 L376.3,328.9 L377,328.7 L377.7,329 L378.4,328.9 L379.1,328 L379.8,328.5 L380.5,328.5 L381.2,328.4 L381.9,328.5 L382.6,328.7 L383.3,328.7 L384,328.4 L384.7,328.5 L385.4,328 L386.1,328.5 L386.8,328.1 L387.5,328 L388.2,328 L388.9,328 L389.6,327.8 L390.3,327.9 L391,326.7 L391.7,326.6 L392.4,326.6 L393.1,326.4 L393.8,326.8 L394.5,326.4 L395.2,326.3 L395.9,325.6 L396.6,325.7 L397.3,325.1 L398,324.7 L398.7,325.5 L399.4,325.6 L400.1,325.5 L400.8,325.5 L401.5,325 L402.2,324.6 L402.9,324.7 L403.6,324.1 L404.3,324.2 L405,323.7 L405.7,323.9 L406.4,323.6 L407.1,324.2 L407.8,324.5 L408.5,324.2 L409.2,323.6 L409.9,323.4 L410.6,323.4 L411.3,323.1 L412,323.2 L412.7,323.4 L413.4,323.3 L414.1,323.1 L414.8,323.2 L415.5,322.9 L416.2,323 L416.9,322.7 L417.6,322.9 L418.3,322.5 L419,321.8 L419.7,321.6 L420.4,321 L421.1,320.4 L421.8,320.1 L422.5,319.9 L423.2,318.8 L423.9,318.4 L424.6,317.7 L425.3,317 L426,316.5 L426.7,315.4 L427.4,315 L428.1,314.3 L428.8,313.9 L429.5,313.5 L430.2,313.1 L430.9,312.7 L431.6,312.6 L432.3,313.1 L433,313.1 L433.7,313.1 L434.4,312.9 L435.1,312.6 L435.8,312.7 L436.5,313.4 L437.2,313.2 L437.9,313.9 L438.6,314.8 L439.3,315.6 L440,316.8 L440.7,318.4 L441.4,320.3 L442.1,322 L442.8,323.9 L443.5,325.4 L444.2,327.2 L444.9,329.1 L445.6,331.3 L446.3,333.1 L447,335 L447.7,336.8 L448.4,337.9 L449.1,339 L449.8,339.9 L450.5,340.3 L451.2,340.7 L451.9,340.8 L452.6,340.3 L453.3,339.8 L454,339.9 L454.7,339.8 L455.4,339.9 L456.1,339.7 L456.8,339.5 L457.5,338.7 L458.2,338.9 L458.9,338.4 L459.6,338.4 L460.3,337.8 L461,337.4 L461.7,337.2 L462.4,336.9 L463.1,336.5 L463.8,336.6 L464.5,336.7 L465.2,336.6 L465.9,336.4 L466.6,336 L467.3,335.8 L468,335.5 L468.7,335.5 L469.4,335.7 L470.1,335.6 L470.8,335.3 L471.5,335.1 L472.2,335.5 L472.9,335.4 L473.6,335.4 L474.3,335.4 L475,335.5 L475.7,335.4 L476.4,335.6 L477.1,335.7 L477.8,334.6 L478.5,334.5 L479.2,335.4 L479.9,334.8 L480.6,334.7 L481.3,334.9 L482,334.7 L482.7,335 L483.4,334.4 L484.1,333.9 L484.8,333.7 L485.5,333.4 L486.2,333.1 L486.9,333.2 L487.6,333.3 L488.3,333.2 L489,333 L489.7,333.1 L490.4,333 L491.1,332.7 L491.8,332.8 L492.5,332.8 L493.2,332.8 L493.9,332.9 L494.6,332.4 L495.3,332.3 L496,332 L496.7,332.4 L497.4,332.4 L498.1,332.9 L498.8,333.1 L499.5,332.7 L500.2,332.1 L500.9,332 L501.6,331.7 L502.3,331.5 L503,331 L503.7,331.1 L504.4,331 L505.1,331 L505.8,331 L506.5,330.5 L507.2,329.8 L507.9,329.7 L508.6,329.5 L509.3,329.4 L510,329.7 L510.7,329.7 L511.4,330.2 L512.1,330.2 L512.8,330.3 L513.5,330.4 L514.2,330.6 L514.9,330.2 L515.6,330.5 L516.3,330.5 L517,330.2 L517.7,330.5 L518.4,330.6 L519.1,331.1 L519.8,331.3 L520.5,331.3 L521.2,330.8 L521.9,331.4 L522.6,331.8 L523.3,331.9 L524,332 L524.7,332.2 L525.4,331.8 L526.1,332 L526.8,331.9 L527.5,331.5 L528.2,331.6 L528.9,331.6 L529.6,332.1 L530.3,332.3 L531,331.7 L531.7,331 L532.4,331.1 L533.1,331 L533.8,330.8 L534.5,330.5 L535.2,330.6 L535.9,330.4" fill="none" stroke="#a08e7e" stroke-width="0.9"/>
<path d="M368.6,326.5 L369.3,326.9 L370,326.8 L370.7,326.4 L371.4,326 L372.1,326.1 L372.8,325.8 L373.5,325.4 L374.2,325.6 L374.9,325.8 L375.6,326.1 L376.3,325.8 L377,326 L377.7,326 L378.4,325.6 L379.1,326 L379.8,326.2 L380.5,327.1 L381.2,327.1 L381.9,327 L382.6,327.4 L383.3,327.4 L384,327.6 L384.7,327.4 L385.4,327.3 L386.1,327.6 L386.8,327.7 L387.5,327.6 L388.2,327 L388.9,327.1 L389.6,327 L390.3,327.1 L391,327 L391.7,327.3 L392.4,327 L393.1,326.9 L393.8,327 L394.5,326.4 L395.2,326.1 L395.9,325.9 L396.6,326.5 L397.3,326.3 L398,326.3 L398.7,326.3 L399.4,326 L400.1,325.2 L400.8,325.5 L401.5,325.1 L402.2,325.2 L402.9,324.6 L403.6,324.3 L404.3,324.6 L405,324.8 L405.7,324.1 L406.4,323.4 L407.1,323.2 L407.8,323.3 L408.5,323.1 L409.2,322.9 L409.9,322.2 L410.6,322.2 L411.3,322.2 L412,321.6 L412.7,320.7 L413.4,320.1 L414.1,320 L414.8,318.9 L415.5,318.5 L416.2,317.8 L416.9,317.4 L417.6,316.9 L418.3,316.5 L419,316.6 L419.7,316.2 L420.4,316.1 L421.1,315.4 L421.8,314.6 L422.5,314.1 L423.2,312.5 L423.9,312 L424.6,311.6 L425.3,310.6 L426,310.2 L426.7,309.4 L427.4,307.8 L428.1,307.2 L428.8,306.1 L429.5,305.3 L430.2,304.5 L430.9,304.1 L431.6,303.2 L432.3,302.2 L433,301.3 L433.7,299.5 L434.4,298.9 L435.1,297.3 L435.8,296.2 L436.5,294.5 L437.2,292.8 L437.9,291.3 L438.6,290.4 L439.3,289 L440,286.9 L440.7,285 L441.4,282.8 L442.1,280.9 L442.8,278.8 L443.5,277 L444.2,274.2 L444.9,271.5 L445.6,267.8 L446.3,263.7 L447,260.1 L447.7,256.4 L448.4,252.6 L449.1,249.5 L449.8,248.9 L450.5,250.4 L451.2,254.5 L451.9,258.1 L452.6,263.3 L453.3,269.6 L454,274.9 L454.7,280.4 L455.4,285.9 L456.1,290.7 L456.8,295.1 L457.5,298.9 L458.2,303 L458.9,306.7 L459.6,309.6 L460.3,312.3 L461,314.9 L461.7,317.3 L462.4,319.3 L463.1,321.2 L463.8,322.8 L464.5,324 L465.2,325.3 L465.9,326.7 L466.6,327.7 L467.3,327.9 L468,327.8 L468.7,328 L469.4,328.5 L470.1,328.8 L470.8,328.2 L471.5,327.9 L472.2,327.1 L472.9,326.5 L473.6,326.5 L474.3,326.4 L475,326.7 L475.7,327.1 L476.4,327.2 L477.1,327.5 L477.8,327.1 L478.5,326.5 L479.2,326.6 L479.9,327.4 L480.6,327.3 L481.3,326.7 L482,326.6 L482.7,327 L483.4,326.4 L484.1,326.6 L484.8,326.2 L485.5,326.5 L486.2,326.7 L486.9,326.6 L487.6,327.1 L488.3,326.7 L489,326.3 L489.7,326.8 L490.4,326.2 L491.1,326.9 L491.8,326.6 L492.5,326 L493.2,325.9 L493.9,325.9 L494.6,325.8 L495.3,325.7 L496,326 L496.7,325 L497.4,324.9 L498.1,324.8 L498.8,325.5 L499.5,324.7 L500.2,324.7 L500.9,324.3 L501.6,324.2 L502.3,324.5 L503,324.7 L503.7,325.3 L504.4,325 L505.1,325.1 L505.8,325.4 L506.5,325.6 L507.2,325.4 L507.9,325.7 L508.6,325.2 L509.3,325.7 L510,325.6 L510.7,325.4 L511.4,325.4 L512.1,325.5 L512.8,326 L513.5,325.7 L514.2,325.4 L514.9,325.4 L515.6,324.9 L516.3,324.2 L517,324.4 L517.7,324.2 L518.4,324.6 L519.1,324.1 L519.8,323 L520.5,323.1 L521.2,323.2 L521.9,323.7 L522.6,323.7 L523.3,323.5 L524,323.5 L524.7,323.1 L525.4,322.9 L526.1,322.2 L526.8,322.2 L527.5,321.8 L528.2,321.5 L528.9,321.7 L529.6,322 L530.3,321.5 L531,322.2 L531.7,321.8 L532.4,322 L533.1,322.2 L533.8,322.1 L534.5,322 L535.2,322.5 L535.9,322.6" fill="none" stroke="#3f7f8c" stroke-width="0.9"/>
<path d="M368.6,327.9 L369.3,327.9 L370,327.8 L370.7,327.7 L371.4,327.7 L372.1,327.6 L372.8,327.6 L373.5,327.5 L374.2,327.4 L374.9,327.4 L375.6,327.3 L376.3,327.3 L377,327.2 L377.7,327.1 L378.4,327.1 L379.1,327 L379.8,327 L380.5,326.9 L381.2,326.8 L381.9,326.8 L382.6,326.7 L383.3,326.7 L384,326.6 L384.7,326.5 L385.4,326.5 L386.1,326.4 L386.8,326.3 L387.5,326.3 L388.2,326.2 L388.9,326.1 L389.6,326 L390.3,326 L391,325.9 L391.7,325.8 L392.4,325.7 L393.1,325.6 L393.8,325.6 L394.5,325.5 L395.2,325.4 L395.9,325.3 L396.6,325.2 L397.3,325.1 L398,325 L398.7,325 L399.4,324.9 L400.1,324.8 L400.8,324.7 L401.5,324.6 L402.2,324.5 L402.9,324.4 L403.6,324.3 L404.3,324.2 L405,324.1 L405.7,324 L406.4,323.9 L407.1,323.9 L407.8,323.8 L408.5,323.7 L409.2,323.6 L409.9,323.5 L410.6,323.4 L411.3,323.3 L412,323.3 L412.7,323.2 L413.4,323.1 L414.1,323 L414.8,322.9 L415.5,322.8 L416.2,322.7 L416.9,322.6 L417.6,322.6 L418.3,322.5 L419,322.4 L419.7,322.3 L420.4,322.2 L421.1,322.1 L421.8,322 L422.5,322 L423.2,321.9 L423.9,321.8 L424.6,321.7 L425.3,321.6 L426,321.6 L426.7,321.5 L427.4,321.4 L428.1,321.4 L428.8,321.3 L429.5,321.2 L430.2,321.2 L430.9,321.1 L431.6,321.1 L432.3,321 L433,321.1 L433.7,321.2 L434.4,321.5 L435.1,321.9 L435.8,322.4 L436.5,323.1 L437.2,324 L437.9,324.9 L438.6,325.8 L439.3,326.7 L440,327.6 L440.7,328.8 L441.4,330.3 L442.1,332.3 L442.8,334.7 L443.5,337.5 L444.2,340.4 L444.9,343.4 L445.6,346.4 L446.3,349.2 L447,352.2 L447.7,355.1 L448.4,357.7 L449.1,359.9 L449.8,361.2 L450.5,360.8 L451.2,359.4 L451.9,357.3 L452.6,354.6 L453.3,351.2 L454,348 L454.7,345.4 L455.4,342.9 L456.1,340.8 L456.8,339 L457.5,337.4 L458.2,336 L458.9,334.7 L459.6,333.6 L460.3,332.6 L461,331.8 L461.7,331 L462.4,330.3 L463.1,329.7 L463.8,329.2 L464.5,328.8 L465.2,328.5 L465.9,328.2 L466.6,328 L467.3,327.8 L468,327.6 L468.7,327.5 L469.4,327.4 L470.1,327.3 L470.8,327.2 L471.5,327.2 L472.2,327.1 L472.9,327.1 L473.6,327.1 L474.3,327 L475,327 L475.7,327 L476.4,326.9 L477.1,326.9 L477.8,326.9 L478.5,326.9 L479.2,326.9 L479.9,326.9 L480.6,326.9 L481.3,326.8 L482,326.8 L482.7,326.8 L483.4,326.8 L484.1,326.8 L484.8,326.8 L485.5,326.8 L486.2,326.9 L486.9,326.9 L487.6,326.9 L488.3,326.9 L489,326.9 L489.7,326.9 L490.4,326.9 L491.1,326.9 L491.8,326.9 L492.5,326.9 L493.2,326.9 L493.9,327 L494.6,327 L495.3,327 L496,327 L496.7,327 L497.4,327 L498.1,327 L498.8,327 L499.5,327 L500.2,327 L500.9,327 L501.6,327 L502.3,327 L503,327 L503.7,327 L504.4,327 L505.1,327 L505.8,327 L506.5,327 L507.2,327 L507.9,327 L508.6,327 L509.3,327 L510,327 L510.7,327 L511.4,327 L512.1,327 L512.8,327 L513.5,327 L514.2,327 L514.9,327 L515.6,327 L516.3,327 L517,327 L517.7,327 L518.4,327 L519.1,327 L519.8,327 L520.5,327 L521.2,327 L521.9,327 L522.6,327 L523.3,327.1 L524,327.1 L524.7,327.1 L525.4,327.1 L526.1,327.2 L526.8,327.2 L527.5,327.2 L528.2,327.2 L528.9,327.2 L529.6,327.3 L530.3,327.3 L531,327.3 L531.7,327.4 L532.4,327.4 L533.1,327.4 L533.8,327.4 L534.5,327.5 L535.2,327.5 L535.9,327.5" fill="none" stroke="#7a69b0" stroke-width="1.1"/>
<line x1="368.5" y1="228" x2="368.5" y2="376.6" stroke="#333" stroke-width="1" />
<line x1="368.6" y1="376.5" x2="536" y2="376.5" stroke="#333" stroke-width="1" />
<line x1="368.6" y1="228.5" x2="371.1" y2="228.5" stroke="#333" stroke-width="1" />
<line x1="368.6" y1="253.5" x2="371.1" y2="253.5" stroke="#333" stroke-width="1" />
<line x1="368.6" y1="278.5" x2="371.1" y2="278.5" stroke="#333" stroke-width="1" />
<line x1="368.6" y1="303.5" x2="371.1" y2="303.5" stroke="#333" stroke-width="1" />
<line x1="368.6" y1="328.5" x2="371.1" y2="328.5" stroke="#333" stroke-width="1" />
<line x1="368.6" y1="352.5" x2="371.1" y2="352.5" stroke="#333" stroke-width="1" />
<line x1="368.6" y1="377.5" x2="371.1" y2="377.5" stroke="#333" stroke-width="1" />
<text x="367.1" y="231.7" font-size="10" text-anchor="end" fill="#222" >0.08</text>
<text x="367.1" y="281.6" font-size="10" text-anchor="end" fill="#222" >0.04</text>
<text x="367.1" y="331.5" font-size="10" text-anchor="end" fill="#222" >0</text>
<text x="367.1" y="378" font-size="10" text-anchor="end" fill="#222" >-0.04</text>
<line x1="368.5" y1="376.6" x2="368.5" y2="374.1" stroke="#333" stroke-width="1" />
<line x1="389.5" y1="376.6" x2="389.5" y2="374.1" stroke="#333" stroke-width="1" />
<line x1="410.5" y1="376.6" x2="410.5" y2="374.1" stroke="#333" stroke-width="1" />
<line x1="431.5" y1="376.6" x2="431.5" y2="374.1" stroke="#333" stroke-width="1" />
<line x1="452.5" y1="376.6" x2="452.5" y2="374.1" stroke="#333" stroke-width="1" />
<line x1="473.5" y1="376.6" x2="473.5" y2="374.1" stroke="#333" stroke-width="1" />
<line x1="494.5" y1="376.6" x2="494.5" y2="374.1" stroke="#333" stroke-width="1" />
<line x1="515.5" y1="376.6" x2="515.5" y2="374.1" stroke="#333" stroke-width="1" />
<line x1="536.5" y1="376.6" x2="536.5" y2="374.1" stroke="#333" stroke-width="1" />
<text x="368.6" y="387.5" font-size="10" text-anchor="middle" fill="#222" >-20</text>
<text x="410.5" y="387.5" font-size="10" text-anchor="middle" fill="#222" >-10</text>
<text x="452.3" y="387.5" font-size="10" text-anchor="middle" fill="#222" >0</text>
<text x="494.1" y="387.5" font-size="10" text-anchor="middle" fill="#222" >10</text>
<text x="536" y="387.5" font-size="10" text-anchor="middle" fill="#222" >20</text>
<text x="453.9" y="401" font-size="10.3" text-anchor="middle" fill="#222" >time lag (s)</text>
<text x="342.5" y="304.2" font-size="10" text-anchor="middle" fill="#222" transform="rotate(-90 342.5 304.2)" >cross-correlation</text>
<text x="534.4" y="222.7" font-size="15.5" text-anchor="start" fill="#111" font-weight="bold" text-rendering="geometricPrecision">G</text>
<rect x="543.3" y="225.7" width="8.4" height="249.8" fill="#ab9fc6"/>
<rect x="543.3" y="475.5" width="8.4" height="53.5" fill="#a6c3c8"/>
<rect x="543.3" y="529" width="8.4" height="58.5" fill="#e1d7cb"/>
<defs><linearGradient id="d0a"><stop offset="0" stop-color="#ffffff"/><stop offset="0.11" stop-color="#ffffff"/><stop offset="0.13" stop-color="#ffffff"/><stop offset="0.18" stop-color="#fdfdfd"/><stop offset="0.24" stop-color="#fbfbfb"/><stop offset="0.31" stop-color="#f9f9f9"/><stop offset="0.4" stop-color="#f7f7f7"/><stop offset="0.5" stop-color="#f5f5f5"/><stop offset="0.6" stop-color="#f5f5f5"/><stop offset="0.68" stop-color="#f5f5f5"/><stop offset="0.8" stop-color="#f6f6f6"/><stop offset="1" stop-color="#f8f8f8"/></linearGradient><linearGradient id="d0b"><stop offset="0" stop-color="#ffffff"/><stop offset="0.11" stop-color="#ffffff"/><stop offset="0.13" stop-color="#ffffff"/><stop offset="0.18" stop-color="#fdfdfd"/><stop offset="0.24" stop-color="#fbfbfb"/><stop offset="0.31" stop-color="#f9f9f9"/><stop offset="0.4" stop-color="#f7f7f7"/><stop offset="0.5" stop-color="#f5f5f5"/><stop offset="0.6" stop-color="#f5f5f5"/><stop offset="0.68" stop-color="#f5f5f5"/><stop offset="0.8" stop-color="#f9f9f9"/><stop offset="1" stop-color="#fcfcfc"/></linearGradient><linearGradient id="d0c"><stop offset="0" stop-color="#ffffff"/><stop offset="0.11" stop-color="#ffffff"/><stop offset="0.13" stop-color="#ffffff"/><stop offset="0.18" stop-color="#fdfdfd"/><stop offset="0.24" stop-color="#fbfbfb"/><stop offset="0.31" stop-color="#f9f9f9"/><stop offset="0.4" stop-color="#f7f7f7"/><stop offset="0.5" stop-color="#f5f5f5"/><stop offset="0.6" stop-color="#f5f5f5"/><stop offset="0.68" stop-color="#f5f5f5"/><stop offset="0.8" stop-color="#fcfcfc"/><stop offset="0.9" stop-color="#fdeee5"/><stop offset="1" stop-color="#f8cab2"/></linearGradient><linearGradient id="d0d"><stop offset="0" stop-color="#ffffff"/><stop offset="0.13" stop-color="#ffffff"/><stop offset="0.2" stop-color="#fcfcfc"/><stop offset="0.35" stop-color="#f7f7f7"/><stop offset="0.5" stop-color="#f5f5f5"/><stop offset="0.62" stop-color="#f9f9f9"/><stop offset="0.75" stop-color="#f6f6f6"/><stop offset="0.88" stop-color="#fbfbfb"/><stop offset="1" stop-color="#fdf1ea"/></linearGradient><linearGradient id="d1a"><stop offset="0" stop-color="#ffffff"/><stop offset="0.11" stop-color="#ffffff"/><stop offset="0.13" stop-color="#ffffff"/><stop offset="0.18" stop-color="#fcfcfc"/><stop offset="0.24" stop-color="#f6f6f6"/><stop offset="0.31" stop-color="#f0f0f0"/><stop offset="0.4" stop-color="#ebebeb"/><stop offset="0.5" stop-color="#e7e7e7"/><stop offset="0.6" stop-color="#e6e6e6"/><stop offset="0.68" stop-color="#e6e6e6"/><stop offset="0.8" stop-color="#e9e9e9"/><stop offset="1" stop-color="#ededed"/></linearGradient><linearGradient id="d1b"><stop offset="0" stop-color="#ffffff"/><stop offset="0.11" stop-color="#ffffff"/><stop offset="0.13" stop-color="#ffffff"/><stop offset="0.18" stop-color="#fcfcfc"/><stop offset="0.24" stop-color="#f6f6f6"/><stop offset="0.31" stop-color="#f0f0f0"/><stop offset="0.4" stop-color="#ebebeb"/><stop offset="0.5" stop-color="#e7e7e7"/><stop offset="0.6" stop-color="#e6e6e6"/><stop offset="0.68" stop-color="#e6e6e6"/><stop offset="0.8" stop-color="#f0f0f0"/><stop offset="1" stop-color="#f7f7f7"/></linearGradient><linearGradient id="d1c"><stop offset="0" stop-color="#ffffff"/><stop offset="0.11" stop-color="#ffffff"/><stop offset="0.13" stop-color="#ffffff"/><stop offset="0.18" stop-color="#fcfcfc"/><stop offset="0.24" stop-color="#f6f6f6"/><stop offset="0.31" stop-color="#f0f0f0"/><stop offset="0.4" stop-color="#ebebeb"/><stop offset="0.5" stop-color="#e7e7e7"/><stop offset="0.6" stop-color="#e6e6e6"/><stop offset="0.68" stop-color="#e6e6e6"/><stop offset="0.8" stop-color="#f7f7f7"/><stop offset="0.9" stop-color="#fdeee5"/><stop offset="1" stop-color="#f8cab2"/></linearGradient><linearGradient id="d1d"><stop offset="0" stop-color="#ffffff"/><stop offset="0.13" stop-color="#ffffff"/><stop offset="0.2" stop-color="#f8f8f8"/><stop offset="0.35" stop-color="#ebebeb"/><stop offset="0.5" stop-color="#e6e6e6"/><stop offset="0.62" stop-color="#f0f0f0"/><stop offset="0.75" stop-color="#e8e8e8"/><stop offset="0.88" stop-color="#f5f5f5"/><stop offset="1" stop-color="#fdf1ea"/></linearGradient><linearGradient id="d2a"><stop offset="0" stop-color="#ffffff"/><stop offset="0.11" stop-color="#ffffff"/><stop offset="0.13" stop-color="#ffffff"/><stop offset="0.18" stop-color="#fafafa"/><stop offset="0.24" stop-color="#f1f1f1"/><stop offset="0.31" stop-color="#e7e7e7"/><stop offset="0.4" stop-color="#dfdfdf"/><stop offset="0.5" stop-color="#d9d9d9"/><stop offset="0.6" stop-color="#d7d7d7"/><stop offset="0.68" stop-color="#d8d8d8"/><stop offset="0.8" stop-color="#dddddd"/><stop offset="1" stop-color="#e3e3e3"/></linearGradient><linearGradient id="d2b"><stop offset="0" stop-color="#ffffff"/><stop offset="0.11" stop-color="#ffffff"/><stop offset="0.13" stop-color="#ffffff"/><stop offset="0.18" stop-color="#fafafa"/><stop offset="0.24" stop-color="#f1f1f1"/><stop offset="0.31" stop-color="#e7e7e7"/><stop offset="0.4" stop-color="#dfdfdf"/><stop offset="0.5" stop-color="#d9d9d9"/><stop offset="0.6" stop-color="#d7d7d7"/><stop offset="0.68" stop-color="#d8d8d8"/><stop offset="0.8" stop-color="#e7e7e7"/><stop offset="1" stop-color="#f3f3f3"/></linearGradient><linearGradient id="d2c"><stop offset="0" stop-color="#ffffff"/><stop offset="0.11" stop-color="#ffffff"/><stop offset="0.13" stop-color="#ffffff"/><stop offset="0.18" stop-color="#fafafa"/><stop offset="0.24" stop-color="#f1f1f1"/><stop offset="0.31" stop-color="#e7e7e7"/><stop offset="0.4" stop-color="#dfdfdf"/><stop offset="0.5" stop-color="#d9d9d9"/><stop offset="0.6" stop-color="#d7d7d7"/><stop offset="0.68" stop-color="#d8d8d8"/><stop offset="0.8" stop-color="#f3f3f3"/><stop offset="0.9" stop-color="#fdeee5"/><stop offset="1" stop-color="#f8cab2"/></linearGradient><linearGradient id="d2d"><stop offset="0" stop-color="#ffffff"/><stop offset="0.13" stop-color="#ffffff"/><stop offset="0.2" stop-color="#f5f5f5"/><stop offset="0.35" stop-color="#dfdfdf"/><stop offset="0.5" stop-color="#d7d7d7"/><stop offset="0.62" stop-color="#e7e7e7"/><stop offset="0.75" stop-color="#dbdbdb"/><stop offset="0.88" stop-color="#efefef"/><stop offset="1" stop-color="#fdf1ea"/></linearGradient><linearGradient id="d3a"><stop offset="0" stop-color="#ffffff"/><stop offset="0.11" stop-color="#ffffff"/><stop offset="0.13" stop-color="#ffffff"/><stop offset="0.18" stop-color="#f8f8f8"/><stop offset="0.24" stop-color="#ebebeb"/><stop offset="0.31" stop-color="#dedede"/><stop offset="0.4" stop-color="#d3d3d3"/><stop offset="0.5" stop-color="#cbcbcb"/><stop offset="0.6" stop-color="#c8c8c8"/><stop offset="0.68" stop-color="#c9c9c9"/><stop offset="0.8" stop-color="#d0d0d0"/><stop offset="1" stop-color="#d8d8d8"/></linearGradient><linearGradient id="d3b"><stop offset="0" stop-color="#ffffff"/><stop offset="0.11" stop-color="#ffffff"/><stop offset="0.13" stop-color="#ffffff"/><stop offset="0.18" stop-color="#f8f8f8"/><stop offset="0.24" stop-color="#ebebeb"/><stop offset="0.31" stop-color="#dedede"/><stop offset="0.4" stop-color="#d3d3d3"/><stop offset="0.5" stop-color="#cbcbcb"/><stop offset="0.6" stop-color="#c8c8c8"/><stop offset="0.68" stop-color="#c9c9c9"/><stop offset="0.8" stop-color="#dedede"/><stop offset="1" stop-color="#eeeeee"/></linearGradient><linearGradient id="d3c"><stop offset="0" stop-color="#ffffff"/><stop offset="0.11" stop-color="#ffffff"/><stop offset="0.13" stop-color="#ffffff"/><stop offset="0.18" stop-color="#f8f8f8"/><stop offset="0.24" stop-color="#ebebeb"/><stop offset="0.31" stop-color="#dedede"/><stop offset="0.4" stop-color="#d3d3d3"/><stop offset="0.5" stop-color="#cbcbcb"/><stop offset="0.6" stop-color="#c8c8c8"/><stop offset="0.68" stop-color="#c9c9c9"/><stop offset="0.8" stop-color="#eeeeee"/><stop offset="0.9" stop-color="#fdeee5"/><stop offset="1" stop-color="#f8cab2"/></linearGradient><linearGradient id="d3d"><stop offset="0" stop-color="#ffffff"/><stop offset="0.13" stop-color="#ffffff"/><stop offset="0.2" stop-color="#f1f1f1"/><stop offset="0.35" stop-color="#d3d3d3"/><stop offset="0.5" stop-color="#c8c8c8"/><stop offset="0.62" stop-color="#dedede"/><stop offset="0.75" stop-color="#cdcdcd"/><stop offset="0.88" stop-color="#e9e9e9"/><stop offset="1" stop-color="#fdf1ea"/></linearGradient><linearGradient id="d4a"><stop offset="0" stop-color="#ffffff"/><stop offset="0.11" stop-color="#ffffff"/><stop offset="0.13" stop-color="#ffffff"/><stop offset="0.18" stop-color="#f6f6f6"/><stop offset="0.24" stop-color="#e6e6e6"/><stop offset="0.31" stop-color="#d5d5d5"/><stop offset="0.4" stop-color="#c7c7c7"/><stop offset="0.5" stop-color="#bdbdbd"/><stop offset="0.6" stop-color="#b9b9b9"/><stop offset="0.68" stop-color="#bbbbbb"/><stop offset="0.8" stop-color="#c3c3c3"/><stop offset="1" stop-color="#cecece"/></linearGradient><linearGradient id="d4b"><stop offset="0" stop-color="#ffffff"/><stop offset="0.11" stop-color="#ffffff"/><stop offset="0.13" stop-color="#ffffff"/><stop offset="0.18" stop-color="#f6f6f6"/><stop offset="0.24" stop-color="#e6e6e6"/><stop offset="0.31" stop-color="#d5d5d5"/><stop offset="0.4" stop-color="#c7c7c7"/><stop offset="0.5" stop-color="#bdbdbd"/><stop offset="0.6" stop-color="#b9b9b9"/><stop offset="0.68" stop-color="#bbbbbb"/><stop offset="0.8" stop-color="#d5d5d5"/><stop offset="1" stop-color="#eaeaea"/></linearGradient><linearGradient id="d4c"><stop offset="0" stop-color="#ffffff"/><stop offset="0.11" stop-color="#ffffff"/><stop offset="0.13" stop-color="#ffffff"/><stop offset="0.18" stop-color="#f6f6f6"/><stop offset="0.24" stop-color="#e6e6e6"/><stop offset="0.31" stop-color="#d5d5d5"/><stop offset="0.4" stop-color="#c7c7c7"/><stop offset="0.5" stop-color="#bdbdbd"/><stop offset="0.6" stop-color="#b9b9b9"/><stop offset="0.68" stop-color="#bbbbbb"/><stop offset="0.8" stop-color="#eaeaea"/><stop offset="0.9" stop-color="#fdeee5"/><stop offset="1" stop-color="#f8cab2"/></linearGradient><linearGradient id="d4d"><stop offset="0" stop-color="#ffffff"/><stop offset="0.13" stop-color="#ffffff"/><stop offset="0.2" stop-color="#ededed"/><stop offset="0.35" stop-color="#c7c7c7"/><stop offset="0.5" stop-color="#b9b9b9"/><stop offset="0.62" stop-color="#d5d5d5"/><stop offset="0.75" stop-color="#c0c0c0"/><stop offset="0.88" stop-color="#e3e3e3"/><stop offset="1" stop-color="#fdf1ea"/></linearGradient><linearGradient id="d5a"><stop offset="0" stop-color="#ffffff"/><stop offset="0.11" stop-color="#ffffff"/><stop offset="0.13" stop-color="#ffffff"/><stop offset="0.18" stop-color="#f4f4f4"/><stop offset="0.24" stop-color="#e1e1e1"/><stop offset="0.31" stop-color="#cccccc"/><stop offset="0.4" stop-color="#bbbbbb"/><stop offset="0.5" stop-color="#afafaf"/><stop offset="0.6" stop-color="#aaaaaa"/><stop offset="0.68" stop-color="#acacac"/><stop offset="0.8" stop-color="#b6b6b6"/><stop offset="1" stop-color="#c3c3c3"/></linearGradient><linearGradient id="d5b"><stop offset="0" stop-color="#ffffff"/><stop offset="0.11" stop-color="#ffffff"/><stop offset="0.13" stop-color="#ffffff"/><stop offset="0.18" stop-color="#f4f4f4"/><stop offset="0.24" stop-color="#e1e1e1"/><stop offset="0.31" stop-color="#cccccc"/><stop offset="0.4" stop-color="#bbbbbb"/><stop offset="0.5" stop-color="#afafaf"/><stop offset="0.6" stop-color="#aaaaaa"/><stop offset="0.68" stop-color="#acacac"/><stop offset="0.8" stop-color="#cccccc"/><stop offset="1" stop-color="#e5e5e5"/></linearGradient><linearGradient id="d5c"><stop offset="0" stop-color="#ffffff"/><stop offset="0.11" stop-color="#ffffff"/><stop offset="0.13" stop-color="#ffffff"/><stop offset="0.18" stop-color="#f4f4f4"/><stop offset="0.24" stop-color="#e1e1e1"/><stop offset="0.31" stop-color="#cccccc"/><stop offset="0.4" stop-color="#bbbbbb"/><stop offset="0.5" stop-color="#afafaf"/><stop offset="0.6" stop-color="#aaaaaa"/><stop offset="0.68" stop-color="#acacac"/><stop offset="0.8" stop-color="#e5e5e5"/><stop offset="0.9" stop-color="#fdeee5"/><stop offset="1" stop-color="#f8cab2"/></linearGradient><linearGradient id="d5d"><stop offset="0" stop-color="#ffffff"/><stop offset="0.13" stop-color="#ffffff"/><stop offset="0.2" stop-color="#e9e9e9"/><stop offset="0.35" stop-color="#bbbbbb"/><stop offset="0.5" stop-color="#aaaaaa"/><stop offset="0.62" stop-color="#cccccc"/><stop offset="0.75" stop-color="#b2b2b2"/><stop offset="0.88" stop-color="#dddddd"/><stop offset="1" stop-color="#fdf1ea"/></linearGradient><linearGradient id="d6a"><stop offset="0" stop-color="#ffffff"/><stop offset="0.11" stop-color="#ffffff"/><stop offset="0.13" stop-color="#ffffff"/><stop offset="0.18" stop-color="#f3f3f3"/><stop offset="0.24" stop-color="#dcdcdc"/><stop offset="0.31" stop-color="#c3c3c3"/><stop offset="0.4" stop-color="#afafaf"/><stop offset="0.5" stop-color="#a2a2a2"/><stop offset="0.6" stop-color="#9b9b9b"/><stop offset="0.68" stop-color="#9e9e9e"/><stop offset="0.8" stop-color="#aaaaaa"/><stop offset="1" stop-color="#b9b9b9"/></linearGradient><linearGradient id="d6b"><stop offset="0" stop-color="#ffffff"/><stop offset="0.11" stop-color="#ffffff"/><stop offset="0.13" stop-color="#ffffff"/><stop offset="0.18" stop-color="#f3f3f3"/><stop offset="0.24" stop-color="#dcdcdc"/><stop offset="0.31" stop-color="#c3c3c3"/><stop offset="0.4" stop-color="#afafaf"/><stop offset="0.5" stop-color="#a2a2a2"/><stop offset="0.6" stop-color="#9b9b9b"/><stop offset="0.68" stop-color="#9e9e9e"/><stop offset="0.8" stop-color="#c3c3c3"/><stop offset="1" stop-color="#e1e1e1"/></linearGradient><linearGradient id="d6c"><stop offset="0" stop-color="#ffffff"/><stop offset="0.11" stop-color="#ffffff"/><stop offset="0.13" stop-color="#ffffff"/><stop offset="0.18" stop-color="#f3f3f3"/><stop offset="0.24" stop-color="#dcdcdc"/><stop offset="0.31" stop-color="#c3c3c3"/><stop offset="0.4" stop-color="#afafaf"/><stop offset="0.5" stop-color="#a2a2a2"/><stop offset="0.6" stop-color="#9b9b9b"/><stop offset="0.68" stop-color="#9e9e9e"/><stop offset="0.8" stop-color="#e1e1e1"/><stop offset="0.9" stop-color="#fdeee5"/><stop offset="1" stop-color="#f8cab2"/></linearGradient><linearGradient id="d6d"><stop offset="0" stop-color="#ffffff"/><stop offset="0.13" stop-color="#ffffff"/><stop offset="0.2" stop-color="#e6e6e6"/><stop offset="0.35" stop-color="#afafaf"/><stop offset="0.5" stop-color="#9b9b9b"/><stop offset="0.62" stop-color="#c3c3c3"/><stop offset="0.75" stop-color="#a5a5a5"/><stop offset="0.88" stop-color="#d7d7d7"/><stop offset="1" stop-color="#fdf1ea"/></linearGradient><linearGradient id="d7a"><stop offset="0" stop-color="#ffffff"/><stop offset="0.11" stop-color="#ffffff"/><stop offset="0.13" stop-color="#ffffff"/><stop offset="0.18" stop-color="#f0f0f0"/><stop offset="0.24" stop-color="#d5d5d5"/><stop offset="0.31" stop-color="#b7b7b7"/><stop offset="0.4" stop-color="#9f9f9f"/><stop offset="0.5" stop-color="#8f8f8f"/><stop offset="0.6" stop-color="#878787"/><stop offset="0.68" stop-color="#8a8a8a"/><stop offset="0.8" stop-color="#999999"/><stop offset="1" stop-color="#ababab"/></linearGradient><linearGradient id="d7b"><stop offset="0" stop-color="#ffffff"/><stop offset="0.11" stop-color="#ffffff"/><stop offset="0.13" stop-color="#ffffff"/><stop offset="0.18" stop-color="#f0f0f0"/><stop offset="0.24" stop-color="#d5d5d5"/><stop offset="0.31" stop-color="#b7b7b7"/><stop offset="0.4" stop-color="#9f9f9f"/><stop offset="0.5" stop-color="#8f8f8f"/><stop offset="0.6" stop-color="#878787"/><stop offset="0.68" stop-color="#8a8a8a"/><stop offset="0.8" stop-color="#b7b7b7"/><stop offset="1" stop-color="#dbdbdb"/></linearGradient><linearGradient id="d7c"><stop offset="0" stop-color="#ffffff"/><stop offset="0.11" stop-color="#ffffff"/><stop offset="0.13" stop-color="#ffffff"/><stop offset="0.18" stop-color="#f0f0f0"/><stop offset="0.24" stop-color="#d5d5d5"/><stop offset="0.31" stop-color="#b7b7b7"/><stop offset="0.4" stop-color="#9f9f9f"/><stop offset="0.5" stop-color="#8f8f8f"/><stop offset="0.6" stop-color="#878787"/><stop offset="0.68" stop-color="#8a8a8a"/><stop offset="0.8" stop-color="#dbdbdb"/><stop offset="0.9" stop-color="#fdeee5"/><stop offset="1" stop-color="#f8cab2"/></linearGradient><linearGradient id="d7d"><stop offset="0" stop-color="#ffffff"/><stop offset="0.13" stop-color="#ffffff"/><stop offset="0.2" stop-color="#e1e1e1"/><stop offset="0.35" stop-color="#9f9f9f"/><stop offset="0.5" stop-color="#878787"/><stop offset="0.62" stop-color="#b7b7b7"/><stop offset="0.75" stop-color="#939393"/><stop offset="0.88" stop-color="#cfcfcf"/><stop offset="1" stop-color="#fdf1ea"/></linearGradient><linearGradient id="d8a"><stop offset="0" stop-color="#ffffff"/><stop offset="0.11" stop-color="#ffffff"/><stop offset="0.13" stop-color="#ffffff"/><stop offset="0.18" stop-color="#eeeeee"/><stop offset="0.24" stop-color="#cecece"/><stop offset="0.31" stop-color="#ababab"/><stop offset="0.4" stop-color="#8f8f8f"/><stop offset="0.5" stop-color="#7c7c7c"/><stop offset="0.6" stop-color="#737373"/><stop offset="0.68" stop-color="#777777"/><stop offset="0.8" stop-color="#888888"/><stop offset="1" stop-color="#9d9d9d"/></linearGradient><linearGradient id="d8b"><stop offset="0" stop-color="#ffffff"/><stop offset="0.11" stop-color="#ffffff"/><stop offset="0.13" stop-color="#ffffff"/><stop offset="0.18" stop-color="#eeeeee"/><stop offset="0.24" stop-color="#cecece"/><stop offset="0.31" stop-color="#ababab"/><stop offset="0.4" stop-color="#8f8f8f"/><stop offset="0.5" stop-color="#7c7c7c"/><stop offset="0.6" stop-color="#737373"/><stop offset="0.68" stop-color="#777777"/><stop offset="0.8" stop-color="#ababab"/><stop offset="1" stop-color="#d5d5d5"/></linearGradient><linearGradient id="d8c"><stop offset="0" stop-color="#ffffff"/><stop offset="0.11" stop-color="#ffffff"/><stop offset="0.13" stop-color="#ffffff"/><stop offset="0.18" stop-color="#eeeeee"/><stop offset="0.24" stop-color="#cecece"/><stop offset="0.31" stop-color="#ababab"/><stop offset="0.4" stop-color="#8f8f8f"/><stop offset="0.5" stop-color="#7c7c7c"/><stop offset="0.6" stop-color="#737373"/><stop offset="0.68" stop-color="#777777"/><stop offset="0.8" stop-color="#d5d5d5"/><stop offset="0.9" stop-color="#fdeee5"/><stop offset="1" stop-color="#f8cab2"/></linearGradient><linearGradient id="d8d"><stop offset="0" stop-color="#ffffff"/><stop offset="0.13" stop-color="#ffffff"/><stop offset="0.2" stop-color="#dcdcdc"/><stop offset="0.35" stop-color="#8f8f8f"/><stop offset="0.5" stop-color="#737373"/><stop offset="0.62" stop-color="#ababab"/><stop offset="0.75" stop-color="#808080"/><stop offset="0.88" stop-color="#c7c7c7"/><stop offset="1" stop-color="#fdf1ea"/></linearGradient><linearGradient id="d9a"><stop offset="0" stop-color="#ffffff"/><stop offset="0.11" stop-color="#ffffff"/><stop offset="0.13" stop-color="#ffffff"/><stop offset="0.18" stop-color="#ebebeb"/><stop offset="0.24" stop-color="#c5c5c5"/><stop offset="0.31" stop-color="#9c9c9c"/><stop offset="0.4" stop-color="#7b7b7b"/><stop offset="0.5" stop-color="#656565"/><stop offset="0.6" stop-color="#5a5a5a"/><stop offset="0.68" stop-color="#5e5e5e"/><stop offset="0.8" stop-color="#727272"/><stop offset="1" stop-color="#8b8b8b"/></linearGradient><linearGradient id="d9b"><stop offset="0" stop-color="#ffffff"/><stop offset="0.11" stop-color="#ffffff"/><stop offset="0.13" stop-color="#ffffff"/><stop offset="0.18" stop-color="#ebebeb"/><stop offset="0.24" stop-color="#c5c5c5"/><stop offset="0.31" stop-color="#9c9c9c"/><stop offset="0.4" stop-color="#7b7b7b"/><stop offset="0.5" stop-color="#656565"/><stop offset="0.6" stop-color="#5a5a5a"/><stop offset="0.68" stop-color="#5e5e5e"/><stop offset="0.8" stop-color="#9c9c9c"/><stop offset="1" stop-color="#cdcdcd"/></linearGradient><linearGradient id="d9c"><stop offset="0" stop-color="#ffffff"/><stop offset="0.11" stop-color="#ffffff"/><stop offset="0.13" stop-color="#ffffff"/><stop offset="0.18" stop-color="#ebebeb"/><stop offset="0.24" stop-color="#c5c5c5"/><stop offset="0.31" stop-color="#9c9c9c"/><stop offset="0.4" stop-color="#7b7b7b"/><stop offset="0.5" stop-color="#656565"/><stop offset="0.6" stop-color="#5a5a5a"/><stop offset="0.68" stop-color="#5e5e5e"/><stop offset="0.8" stop-color="#cdcdcd"/><stop offset="0.9" stop-color="#fdeee5"/><stop offset="1" stop-color="#f8cab2"/></linearGradient><linearGradient id="d9d"><stop offset="0" stop-color="#ffffff"/><stop offset="0.13" stop-color="#ffffff"/><stop offset="0.2" stop-color="#d5d5d5"/><stop offset="0.35" stop-color="#7b7b7b"/><stop offset="0.5" stop-color="#5a5a5a"/><stop offset="0.62" stop-color="#9c9c9c"/><stop offset="0.75" stop-color="#6a6a6a"/><stop offset="0.88" stop-color="#bdbdbd"/><stop offset="1" stop-color="#fdf1ea"/></linearGradient><linearGradient id="u0"><stop offset="0" stop-color="#ffffff"/><stop offset="0.15" stop-color="#ffffff"/><stop offset="0.2" stop-color="#fefefd"/><stop offset="0.3" stop-color="#fefaf7"/><stop offset="0.42" stop-color="#fdf0e8"/><stop offset="0.52" stop-color="#fce7da"/><stop offset="0.58" stop-color="#fce6d8"/><stop offset="0.68" stop-color="#fcebe0"/><stop offset="0.82" stop-color="#fdf0e8"/><stop offset="1" stop-color="#fdf2eb"/></linearGradient><linearGradient id="v0"><stop offset="0" stop-color="#ffffff"/><stop offset="0.15" stop-color="#ffffff"/><stop offset="0.22" stop-color="#fefefe"/><stop offset="0.35" stop-color="#fef8f5"/><stop offset="0.5" stop-color="#fdf3ed"/><stop offset="0.7" stop-color="#fdf2eb"/><stop offset="0.85" stop-color="#fcede4"/><stop offset="1" stop-color="#fce8dc"/></linearGradient><linearGradient id="u1"><stop offset="0" stop-color="#ffffff"/><stop offset="0.15" stop-color="#ffffff"/><stop offset="0.2" stop-color="#fefdfd"/><stop offset="0.3" stop-color="#fef6f2"/><stop offset="0.42" stop-color="#fce6d8"/><stop offset="0.52" stop-color="#f9d6c2"/><stop offset="0.58" stop-color="#f9d4bf"/><stop offset="0.68" stop-color="#fbdecc"/><stop offset="0.82" stop-color="#fce6d8"/><stop offset="1" stop-color="#fceadf"/></linearGradient><linearGradient id="v1"><stop offset="0" stop-color="#ffffff"/><stop offset="0.15" stop-color="#ffffff"/><stop offset="0.22" stop-color="#fefefd"/><stop offset="0.35" stop-color="#fdf4ef"/><stop offset="0.5" stop-color="#fcece2"/><stop offset="0.7" stop-color="#fceadf"/><stop offset="0.85" stop-color="#fbe2d2"/><stop offset="1" stop-color="#fad9c5"/></linearGradient><linearGradient id="u2"><stop offset="0" stop-color="#ffffff"/><stop offset="0.15" stop-color="#ffffff"/><stop offset="0.2" stop-color="#fefdfc"/><stop offset="0.3" stop-color="#fdf3ed"/><stop offset="0.42" stop-color="#fadcc9"/><stop offset="0.52" stop-color="#f7c3aa"/><stop offset="0.58" stop-color="#f6c0a6"/><stop offset="0.68" stop-color="#f8ceb7"/><stop offset="0.82" stop-color="#fadcc9"/><stop offset="1" stop-color="#fbe2d2"/></linearGradient><linearGradient id="v2"><stop offset="0" stop-color="#ffffff"/><stop offset="0.15" stop-color="#ffffff"/><stop offset="0.22" stop-color="#fefdfd"/><stop offset="0.35" stop-color="#fdf0e8"/><stop offset="0.5" stop-color="#fbe5d6"/><stop offset="0.7" stop-color="#fbe2d2"/><stop offset="0.85" stop-color="#f9d5c0"/><stop offset="1" stop-color="#f7c7ae"/></linearGradient><linearGradient id="u3"><stop offset="0" stop-color="#ffffff"/><stop offset="0.15" stop-color="#ffffff"/><stop offset="0.2" stop-color="#fefcfb"/><stop offset="0.3" stop-color="#fdf0e8"/><stop offset="0.42" stop-color="#f8d0ba"/><stop offset="0.52" stop-color="#f4b192"/><stop offset="0.58" stop-color="#f3ac8c"/><stop offset="0.68" stop-color="#f6bea3"/><stop offset="0.82" stop-color="#f8d0ba"/><stop offset="1" stop-color="#fad9c5"/></linearGradient><linearGradient id="v3"><stop offset="0" stop-color="#ffffff"/><stop offset="0.15" stop-color="#ffffff"/><stop offset="0.22" stop-color="#fefdfc"/><stop offset="0.35" stop-color="#fcece2"/><stop offset="0.5" stop-color="#faddcb"/><stop offset="0.7" stop-color="#fad9c5"/><stop offset="0.85" stop-color="#f7c7ae"/><stop offset="1" stop-color="#f4b598"/></linearGradient><linearGradient id="u4"><stop offset="0" stop-color="#ffffff"/><stop offset="0.15" stop-color="#ffffff"/><stop offset="0.2" stop-color="#fefcfa"/><stop offset="0.3" stop-color="#fcebe0"/><stop offset="0.42" stop-color="#f6bea3"/><stop offset="0.52" stop-color="#ed9777"/><stop offset="0.58" stop-color="#eb9273"/><stop offset="0.68" stop-color="#f2a685"/><stop offset="0.82" stop-color="#f6bea3"/><stop offset="1" stop-color="#f8cab2"/></linearGradient><linearGradient id="v4"><stop offset="0" stop-color="#ffffff"/><stop offset="0.15" stop-color="#ffffff"/><stop offset="0.22" stop-color="#fefdfb"/><stop offset="0.35" stop-color="#fce6d8"/><stop offset="0.5" stop-color="#f8d0ba"/><stop offset="0.7" stop-color="#f8cab2"/><stop offset="0.85" stop-color="#f4b294"/><stop offset="1" stop-color="#ef9c7a"/></linearGradient><linearGradient id="u5"><stop offset="0" stop-color="#ffffff"/><stop offset="0.15" stop-color="#ffffff"/><stop offset="0.2" stop-color="#fefbf8"/><stop offset="0.3" stop-color="#fbe4d6"/><stop offset="0.42" stop-color="#f2a685"/><stop offset="0.52" stop-color="#df775e"/><stop offset="0.58" stop-color="#dd7059"/><stop offset="0.68" stop-color="#e88b6e"/><stop offset="0.82" stop-color="#f2a685"/><stop offset="1" stop-color="#f5b699"/></linearGradient><linearGradient id="v5"><stop offset="0" stop-color="#ffffff"/><stop offset="0.15" stop-color="#ffffff"/><stop offset="0.22" stop-color="#fefcfa"/><stop offset="0.35" stop-color="#fbdecc"/><stop offset="0.5" stop-color="#f6bea3"/><stop offset="0.7" stop-color="#f5b699"/><stop offset="0.85" stop-color="#ed9878"/><stop offset="1" stop-color="#e27e63"/></linearGradient><linearGradient id="u6"><stop offset="0" stop-color="#ffffff"/><stop offset="0.15" stop-color="#ffffff"/><stop offset="0.2" stop-color="#fef9f6"/><stop offset="0.3" stop-color="#fadcc9"/><stop offset="0.42" stop-color="#e88d6f"/><stop offset="0.52" stop-color="#ca4841"/><stop offset="0.58" stop-color="#c43b3c"/><stop offset="0.68" stop-color="#da6a54"/><stop offset="0.82" stop-color="#e88d6f"/><stop offset="1" stop-color="#f09e7c"/></linearGradient><linearGradient id="v6"><stop offset="0" stop-color="#ffffff"/><stop offset="0.15" stop-color="#ffffff"/><stop offset="0.22" stop-color="#fefbf9"/><stop offset="0.35" stop-color="#f9d1bc"/><stop offset="0.5" stop-color="#f2a886"/><stop offset="0.7" stop-color="#f09e7c"/><stop offset="0.85" stop-color="#e17b62"/><stop offset="1" stop-color="#d05547"/></linearGradient><linearGradient id="u7"><stop offset="0" stop-color="#ffffff"/><stop offset="0.15" stop-color="#ffffff"/><stop offset="0.2" stop-color="#fef8f4"/><stop offset="0.3" stop-color="#f8d0ba"/><stop offset="0.42" stop-color="#dc6f58"/><stop offset="0.52" stop-color="#a21328"/><stop offset="0.58" stop-color="#950e26"/><stop offset="0.68" stop-color="#c03438"/><stop offset="0.82" stop-color="#dc6f58"/><stop offset="1" stop-color="#e58569"/></linearGradient><linearGradient id="v7"><stop offset="0" stop-color="#ffffff"/><stop offset="0.15" stop-color="#ffffff"/><stop offset="0.22" stop-color="#fefaf8"/><stop offset="0.35" stop-color="#f6c2a9"/><stop offset="0.5" stop-color="#ea9072"/><stop offset="0.7" stop-color="#e58569"/><stop offset="0.85" stop-color="#d05547"/><stop offset="1" stop-color="#af172a"/></linearGradient><linearGradient id="u8"><stop offset="0" stop-color="#ffffff"/><stop offset="0.15" stop-color="#ffffff"/><stop offset="0.2" stop-color="#fef7f2"/><stop offset="0.3" stop-color="#f7c6ad"/><stop offset="0.42" stop-color="#ce5146"/><stop offset="0.52" stop-color="#760421"/><stop offset="0.58" stop-color="#67001f"/><stop offset="0.68" stop-color="#a21328"/><stop offset="0.82" stop-color="#ce5146"/><stop offset="1" stop-color="#dd7059"/></linearGradient><linearGradient id="v8"><stop offset="0" stop-color="#ffffff"/><stop offset="0.15" stop-color="#ffffff"/><stop offset="0.22" stop-color="#fef9f6"/><stop offset="0.35" stop-color="#f5b699"/><stop offset="0.5" stop-color="#e27e63"/><stop offset="0.7" stop-color="#dd7059"/><stop offset="0.85" stop-color="#bb2b34"/><stop offset="1" stop-color="#840923"/></linearGradient><linearGradient id="n0"><stop offset="0" stop-color="#ffffff"/><stop offset="1" stop-color="#ffffff"/></linearGradient><linearGradient id="n1"><stop offset="0" stop-color="#ffffff"/><stop offset="0.3" stop-color="#ffffff"/><stop offset="0.6" stop-color="#fef8f4"/><stop offset="1" stop-color="#fdeee5"/></linearGradient><linearGradient id="n2"><stop offset="0" stop-color="#ffffff"/><stop offset="0.3" stop-color="#ffffff"/><stop offset="0.6" stop-color="#fdf1ea"/><stop offset="0.85" stop-color="#fbe1d1"/><stop offset="1" stop-color="#fbdecc"/></linearGradient><linearGradient id="n3"><stop offset="0" stop-color="#ffffff"/><stop offset="0.25" stop-color="#ffffff"/><stop offset="0.5" stop-color="#fcebe0"/><stop offset="0.75" stop-color="#f9d4bf"/><stop offset="1" stop-color="#f8cab2"/></linearGradient><linearGradient id="n4"><stop offset="0" stop-color="#ffffff"/><stop offset="0.25" stop-color="#ffffff"/><stop offset="0.45" stop-color="#fef6f2"/><stop offset="0.7" stop-color="#f8cab2"/><stop offset="1" stop-color="#f3ac8c"/></linearGradient><linearGradient id="n5"><stop offset="0" stop-color="#ffffff"/><stop offset="0.3" stop-color="#ffffff"/><stop offset="0.55" stop-color="#f0f0f0"/><stop offset="1" stop-color="#e1e1e1"/></linearGradient><linearGradient id="n6"><stop offset="0" stop-color="#ffffff"/><stop offset="0.3" stop-color="#ffffff"/><stop offset="0.55" stop-color="#e1e1e1"/><stop offset="0.8" stop-color="#ebebeb"/><stop offset="1" stop-color="#fef6f2"/></linearGradient><linearGradient id="n7"><stop offset="0" stop-color="#ffffff"/><stop offset="0.3" stop-color="#ffffff"/><stop offset="0.5" stop-color="#fce6d8"/><stop offset="0.7" stop-color="#fdeee5"/><stop offset="1" stop-color="#fbdecc"/></linearGradient></defs>
<rect x="554.5" y="225.7" width="87.9" height="1.1" fill="url(#d2a)"/><rect x="554.5" y="226.7" width="87.9" height="1.1" fill="url(#d0d)"/><rect x="554.5" y="227.7" width="87.9" height="1.1" fill="url(#d1b)"/><rect x="554.5" y="228.7" width="87.9" height="1.1" fill="url(#d4a)"/><rect x="554.5" y="229.7" width="87.9" height="1.1" fill="url(#d3a)"/><rect x="554.5" y="230.7" width="87.9" height="1.1" fill="url(#d5a)"/><rect x="554.5" y="231.7" width="87.9" height="1.1" fill="url(#d5d)"/><rect x="554.5" y="232.7" width="87.9" height="1.1" fill="url(#d5b)"/><rect x="554.5" y="233.7" width="87.9" height="1.1" fill="url(#d5c)"/><rect x="554.5" y="234.7" width="87.9" height="1.1" fill="url(#d4a)"/><rect x="554.5" y="235.7" width="87.9" height="1.1" fill="url(#d0a)"/><rect x="554.5" y="236.7" width="87.9" height="1.1" fill="url(#d7a)"/><rect x="554.5" y="237.7" width="87.9" height="1.1" fill="url(#d8a)"/><rect x="554.5" y="238.7" width="87.9" height="1.1" fill="url(#d7b)"/><rect x="554.5" y="239.7" width="87.9" height="1.1" fill="url(#d5a)"/><rect x="554.5" y="240.7" width="87.9" height="1.1" fill="url(#d3a)"/><rect x="554.5" y="241.7" width="87.9" height="1.1" fill="url(#d4a)"/><rect x="554.5" y="242.7" width="87.9" height="1.1" fill="url(#d2d)"/><rect x="554.5" y="243.7" width="87.9" height="1.1" fill="url(#d5b)"/><rect x="554.5" y="244.7" width="87.9" height="1.1" fill="url(#d5d)"/><rect x="554.5" y="245.7" width="87.9" height="1.1" fill="url(#d2c)"/><rect x="554.5" y="246.7" width="87.9" height="1.1" fill="url(#d1b)"/><rect x="554.5" y="247.7" width="87.9" height="1.1" fill="url(#d6a)"/><rect x="554.5" y="248.7" width="87.9" height="1.1" fill="url(#d3b)"/><rect x="554.5" y="249.7" width="87.9" height="1.1" fill="url(#d5a)"/><rect x="554.5" y="250.7" width="87.9" height="1.1" fill="url(#d4a)"/><rect x="554.5" y="251.7" width="87.9" height="1.1" fill="url(#d2b)"/><rect x="554.5" y="252.7" width="87.9" height="1.1" fill="url(#d8a)"/><rect x="554.5" y="253.7" width="87.9" height="1.1" fill="url(#d3d)"/><rect x="554.5" y="254.7" width="87.9" height="1.1" fill="url(#d6a)"/><rect x="554.5" y="255.7" width="87.9" height="1.1" fill="url(#d3b)"/><rect x="554.5" y="256.7" width="87.9" height="1.1" fill="url(#d5c)"/><rect x="554.5" y="257.7" width="87.9" height="1.1" fill="url(#d0a)"/><rect x="554.5" y="258.7" width="87.9" height="1.1" fill="url(#d2a)"/><rect x="554.5" y="259.7" width="87.9" height="1.1" fill="url(#d0b)"/><rect x="554.5" y="260.7" width="87.9" height="1.1" fill="url(#d1c)"/><rect x="554.5" y="261.7" width="87.9" height="1.1" fill="url(#d9a)"/><rect x="554.5" y="262.7" width="87.9" height="1.1" fill="url(#d5b)"/><rect x="554.5" y="263.7" width="87.9" height="1.1" fill="url(#d1a)"/><rect x="554.5" y="264.7" width="87.9" height="1.1" fill="url(#d0a)"/><rect x="554.5" y="265.7" width="87.9" height="1.1" fill="url(#d2d)"/><rect x="554.5" y="266.7" width="87.9" height="1.1" fill="url(#d0a)"/><rect x="554.5" y="267.7" width="87.9" height="1.1" fill="url(#d2c)"/><rect x="554.5" y="268.7" width="87.9" height="1.1" fill="url(#d2c)"/><rect x="554.5" y="269.7" width="87.9" height="1.1" fill="url(#d6a)"/><rect x="554.5" y="270.7" width="87.9" height="1.1" fill="url(#d8c)"/><rect x="554.5" y="271.6" width="87.9" height="1.1" fill="url(#d3c)"/><rect x="554.5" y="272.6" width="87.9" height="1.1" fill="url(#d2c)"/><rect x="554.5" y="273.6" width="87.9" height="1.1" fill="url(#d7c)"/><rect x="554.5" y="274.6" width="87.9" height="1.1" fill="url(#d3b)"/><rect x="554.5" y="275.6" width="87.9" height="1.1" fill="url(#d3a)"/><rect x="554.5" y="276.6" width="87.9" height="1.1" fill="url(#d6c)"/><rect x="554.5" y="277.6" width="87.9" height="1.1" fill="url(#d5a)"/><rect x="554.5" y="278.6" width="87.9" height="1.1" fill="url(#d7b)"/><rect x="554.5" y="279.6" width="87.9" height="1.1" fill="url(#d5c)"/><rect x="554.5" y="280.6" width="87.9" height="1.1" fill="url(#d7a)"/><rect x="554.5" y="281.6" width="87.9" height="1.1" fill="url(#d1d)"/><rect x="554.5" y="282.6" width="87.9" height="1.1" fill="url(#d3c)"/><rect x="554.5" y="283.6" width="87.9" height="1.1" fill="url(#d7a)"/><rect x="554.5" y="284.6" width="87.9" height="1.1" fill="url(#d4c)"/><rect x="554.5" y="285.6" width="87.9" height="1.1" fill="url(#d7b)"/><rect x="554.5" y="286.6" width="87.9" height="1.1" fill="url(#d3a)"/><rect x="554.5" y="287.6" width="87.9" height="1.1" fill="url(#d5b)"/><rect x="554.5" y="288.6" width="87.9" height="1.1" fill="url(#d4a)"/><rect x="554.5" y="289.6" width="87.9" height="1.1" fill="url(#d2a)"/><rect x="554.5" y="290.6" width="87.9" height="1.1" fill="url(#d3c)"/><rect x="554.5" y="291.6" width="87.9" height="1.1" fill="url(#d5d)"/><rect x="554.5" y="292.6" width="87.9" height="1.1" fill="url(#d6a)"/><rect x="554.5" y="293.6" width="87.9" height="1.1" fill="url(#d1b)"/><rect x="554.5" y="294.6" width="87.9" height="1.1" fill="url(#d6b)"/><rect x="554.5" y="295.6" width="87.9" height="1.1" fill="url(#d5d)"/><rect x="554.5" y="296.6" width="87.9" height="1.1" fill="url(#d7b)"/><rect x="554.5" y="297.6" width="87.9" height="1.1" fill="url(#d7c)"/><rect x="554.5" y="298.6" width="87.9" height="1.1" fill="url(#d2c)"/><rect x="554.5" y="299.6" width="87.9" height="1.1" fill="url(#d5d)"/><rect x="554.5" y="300.6" width="87.9" height="1.1" fill="url(#d3c)"/><rect x="554.5" y="301.6" width="87.9" height="1.1" fill="url(#d5b)"/><rect x="554.5" y="302.6" width="87.9" height="1.1" fill="url(#d2a)"/><rect x="554.5" y="303.6" width="87.9" height="1.1" fill="url(#d2a)"/><rect x="554.5" y="304.6" width="87.9" height="1.1" fill="url(#d3a)"/><rect x="554.5" y="305.6" width="87.9" height="1.1" fill="url(#d7b)"/><rect x="554.5" y="306.6" width="87.9" height="1.1" fill="url(#d4c)"/><rect x="554.5" y="307.6" width="87.9" height="1.1" fill="url(#d0c)"/><rect x="554.5" y="308.6" width="87.9" height="1.1" fill="url(#d0d)"/><rect x="554.5" y="309.6" width="87.9" height="1.1" fill="url(#d0c)"/><rect x="554.5" y="310.6" width="87.9" height="1.1" fill="url(#d1a)"/><rect x="554.5" y="311.6" width="87.9" height="1.1" fill="url(#d1c)"/><rect x="554.5" y="312.6" width="87.9" height="1.1" fill="url(#d2b)"/><rect x="554.5" y="313.6" width="87.9" height="1.1" fill="url(#d7a)"/><rect x="554.5" y="314.6" width="87.9" height="1.1" fill="url(#d1d)"/><rect x="554.5" y="315.6" width="87.9" height="1.1" fill="url(#d7c)"/><rect x="554.5" y="316.6" width="87.9" height="1.1" fill="url(#d1c)"/><rect x="554.5" y="317.6" width="87.9" height="1.1" fill="url(#d1b)"/><rect x="554.5" y="318.6" width="87.9" height="1.1" fill="url(#d4a)"/><rect x="554.5" y="319.6" width="87.9" height="1.1" fill="url(#d4a)"/><rect x="554.5" y="320.6" width="87.9" height="1.1" fill="url(#d7d)"/><rect x="554.5" y="321.6" width="87.9" height="1.1" fill="url(#d7a)"/><rect x="554.5" y="322.6" width="87.9" height="1.1" fill="url(#d3b)"/><rect x="554.5" y="323.6" width="87.9" height="1.1" fill="url(#d9a)"/><rect x="554.5" y="324.6" width="87.9" height="1.1" fill="url(#d6c)"/><rect x="554.5" y="325.6" width="87.9" height="1.1" fill="url(#d7b)"/><rect x="554.5" y="326.6" width="87.9" height="1.1" fill="url(#d2d)"/><rect x="554.5" y="327.6" width="87.9" height="1.1" fill="url(#d5b)"/><rect x="554.5" y="328.6" width="87.9" height="1.1" fill="url(#d4d)"/><rect x="554.5" y="329.6" width="87.9" height="1.1" fill="url(#d5c)"/><rect x="554.5" y="330.6" width="87.9" height="1.1" fill="url(#d8c)"/><rect x="554.5" y="331.6" width="87.9" height="1.1" fill="url(#d9d)"/><rect x="554.5" y="332.6" width="87.9" height="1.1" fill="url(#d8d)"/><rect x="554.5" y="333.6" width="87.9" height="1.1" fill="url(#d5b)"/><rect x="554.5" y="334.6" width="87.9" height="1.1" fill="url(#d9a)"/><rect x="554.5" y="335.6" width="87.9" height="1.1" fill="url(#d0b)"/><rect x="554.5" y="336.6" width="87.9" height="1.1" fill="url(#d3b)"/><rect x="554.5" y="337.6" width="87.9" height="1.1" fill="url(#d5b)"/><rect x="554.5" y="338.6" width="87.9" height="1.1" fill="url(#d7a)"/><rect x="554.5" y="339.6" width="87.9" height="1.1" fill="url(#d8c)"/><rect x="554.5" y="340.6" width="87.9" height="1.1" fill="url(#d4b)"/><rect x="554.5" y="341.6" width="87.9" height="1.1" fill="url(#d8d)"/><rect x="554.5" y="342.6" width="87.9" height="1.1" fill="url(#d8b)"/><rect x="554.5" y="343.6" width="87.9" height="1.1" fill="url(#d2b)"/><rect x="554.5" y="344.6" width="87.9" height="1.1" fill="url(#d5c)"/><rect x="554.5" y="345.6" width="87.9" height="1.1" fill="url(#d5b)"/><rect x="554.5" y="346.6" width="87.9" height="1.1" fill="url(#d3c)"/><rect x="554.5" y="347.6" width="87.9" height="1.1" fill="url(#d7d)"/><rect x="554.5" y="348.6" width="87.9" height="1.1" fill="url(#d5b)"/><rect x="554.5" y="349.6" width="87.9" height="1.1" fill="url(#d8c)"/><rect x="554.5" y="350.6" width="87.9" height="1.1" fill="url(#d3c)"/><rect x="554.5" y="351.6" width="87.9" height="1.1" fill="url(#d9b)"/><rect x="554.5" y="352.6" width="87.9" height="1.1" fill="url(#d4a)"/><rect x="554.5" y="353.6" width="87.9" height="1.1" fill="url(#d9a)"/><rect x="554.5" y="354.6" width="87.9" height="1.1" fill="url(#d6a)"/><rect x="554.5" y="355.6" width="87.9" height="1.1" fill="url(#d9a)"/><rect x="554.5" y="356.6" width="87.9" height="1.1" fill="url(#d8b)"/><rect x="554.5" y="357.6" width="87.9" height="1.1" fill="url(#d8a)"/><rect x="554.5" y="358.6" width="87.9" height="1.1" fill="url(#d5a)"/><rect x="554.5" y="359.6" width="87.9" height="1.1" fill="url(#d5d)"/><rect x="554.5" y="360.6" width="87.9" height="1.1" fill="url(#d6b)"/><rect x="554.5" y="361.5" width="87.9" height="1.1" fill="url(#d9b)"/><rect x="554.5" y="362.5" width="87.9" height="1.1" fill="url(#d5c)"/><rect x="554.5" y="363.5" width="87.9" height="1.1" fill="url(#d5c)"/><rect x="554.5" y="364.5" width="87.9" height="1.1" fill="url(#d3c)"/><rect x="554.5" y="365.5" width="87.9" height="1.1" fill="url(#d0b)"/><rect x="554.5" y="366.5" width="87.9" height="1.1" fill="url(#d1a)"/><rect x="554.5" y="367.5" width="87.9" height="1.1" fill="url(#d0b)"/><rect x="554.5" y="368.5" width="87.9" height="1.1" fill="url(#d9d)"/><rect x="554.5" y="369.5" width="87.9" height="1.1" fill="url(#d6c)"/><rect x="554.5" y="370.5" width="87.9" height="1.1" fill="url(#d4a)"/><rect x="554.5" y="371.5" width="87.9" height="1.1" fill="url(#d3c)"/><rect x="554.5" y="372.5" width="87.9" height="1.1" fill="url(#d2c)"/><rect x="554.5" y="373.5" width="87.9" height="1.1" fill="url(#d5b)"/><rect x="554.5" y="374.5" width="87.9" height="1.1" fill="url(#d7b)"/><rect x="554.5" y="375.5" width="87.9" height="1.1" fill="url(#d8a)"/><rect x="554.5" y="376.5" width="87.9" height="1.1" fill="url(#d2d)"/><rect x="554.5" y="377.5" width="87.9" height="1.1" fill="url(#d4a)"/><rect x="554.5" y="378.5" width="87.9" height="1.1" fill="url(#d1d)"/><rect x="554.5" y="379.5" width="87.9" height="1.1" fill="url(#d5a)"/><rect x="554.5" y="380.5" width="87.9" height="1.1" fill="url(#d7c)"/><rect x="554.5" y="381.5" width="87.9" height="1.1" fill="url(#d2b)"/><rect x="554.5" y="382.5" width="87.9" height="1.1" fill="url(#d5b)"/><rect x="554.5" y="383.5" width="87.9" height="1.1" fill="url(#d6d)"/><rect x="554.5" y="384.5" width="87.9" height="1.1" fill="url(#d2c)"/><rect x="554.5" y="385.5" width="87.9" height="1.1" fill="url(#d3a)"/><rect x="554.5" y="386.5" width="87.9" height="1.1" fill="url(#d7b)"/><rect x="554.5" y="387.5" width="87.9" height="1.1" fill="url(#d2c)"/><rect x="554.5" y="388.5" width="87.9" height="1.1" fill="url(#d3b)"/><rect x="554.5" y="389.5" width="87.9" height="1.1" fill="url(#d4d)"/><rect x="554.5" y="390.5" width="87.9" height="1.1" fill="url(#d3d)"/><rect x="554.5" y="391.5" width="87.9" height="1.1" fill="url(#d4a)"/><rect x="554.5" y="392.5" width="87.9" height="1.1" fill="url(#d9a)"/><rect x="554.5" y="393.5" width="87.9" height="1.1" fill="url(#d9a)"/><rect x="554.5" y="394.5" width="87.9" height="1.1" fill="url(#d9b)"/><rect x="554.5" y="395.5" width="87.9" height="1.1" fill="url(#d8a)"/><rect x="554.5" y="396.5" width="87.9" height="1.1" fill="url(#d5a)"/><rect x="554.5" y="397.5" width="87.9" height="1.1" fill="url(#d4d)"/><rect x="554.5" y="398.5" width="87.9" height="1.1" fill="url(#d0b)"/><rect x="554.5" y="399.5" width="87.9" height="1.1" fill="url(#d1a)"/><rect x="554.5" y="400.5" width="87.9" height="1.1" fill="url(#d0a)"/><rect x="554.5" y="401.5" width="87.9" height="1.1" fill="url(#d3b)"/><rect x="554.5" y="402.5" width="87.9" height="1.1" fill="url(#d3a)"/><rect x="554.5" y="403.5" width="87.9" height="1.1" fill="url(#d2c)"/><rect x="554.5" y="404.5" width="87.9" height="1.1" fill="url(#d0a)"/><rect x="554.5" y="405.5" width="87.9" height="1.1" fill="url(#d0b)"/><rect x="554.5" y="406.5" width="87.9" height="1.1" fill="url(#d3a)"/><rect x="554.5" y="407.5" width="87.9" height="1.1" fill="url(#d1a)"/><rect x="554.5" y="408.5" width="87.9" height="1.1" fill="url(#d3b)"/><rect x="554.5" y="409.5" width="87.9" height="1.1" fill="url(#d0b)"/><rect x="554.5" y="410.5" width="87.9" height="1.1" fill="url(#d2d)"/><rect x="554.5" y="411.5" width="87.9" height="1.1" fill="url(#d3b)"/><rect x="554.5" y="412.5" width="87.9" height="1.1" fill="url(#d0a)"/><rect x="554.5" y="413.5" width="87.9" height="1.1" fill="url(#d6b)"/><rect x="554.5" y="414.5" width="87.9" height="1.1" fill="url(#d7d)"/><rect x="554.5" y="415.5" width="87.9" height="1.1" fill="url(#d1d)"/><rect x="554.5" y="416.5" width="87.9" height="1.1" fill="url(#d2a)"/><rect x="554.5" y="417.5" width="87.9" height="1.1" fill="url(#d1d)"/><rect x="554.5" y="418.5" width="87.9" height="1.1" fill="url(#d5a)"/><rect x="554.5" y="419.5" width="87.9" height="1.1" fill="url(#d0b)"/><rect x="554.5" y="420.5" width="87.9" height="1.1" fill="url(#d4c)"/><rect x="554.5" y="421.5" width="87.9" height="1.1" fill="url(#d1a)"/><rect x="554.5" y="422.5" width="87.9" height="1.1" fill="url(#d1a)"/><rect x="554.5" y="423.5" width="87.9" height="1.1" fill="url(#d5c)"/><rect x="554.5" y="424.5" width="87.9" height="1.1" fill="url(#d3a)"/><rect x="554.5" y="425.5" width="87.9" height="1.1" fill="url(#d2b)"/><rect x="554.5" y="426.5" width="87.9" height="1.1" fill="url(#d1a)"/><rect x="554.5" y="427.5" width="87.9" height="1.1" fill="url(#d5a)"/><rect x="554.5" y="428.5" width="87.9" height="1.1" fill="url(#d1b)"/><rect x="554.5" y="429.5" width="87.9" height="1.1" fill="url(#d2a)"/><rect x="554.5" y="430.5" width="87.9" height="1.1" fill="url(#d0a)"/><rect x="554.5" y="431.5" width="87.9" height="1.1" fill="url(#d6c)"/><rect x="554.5" y="432.5" width="87.9" height="1.1" fill="url(#d0a)"/><rect x="554.5" y="433.5" width="87.9" height="1.1" fill="url(#d0d)"/><rect x="554.5" y="434.5" width="87.9" height="1.1" fill="url(#d7a)"/><rect x="554.5" y="435.5" width="87.9" height="1.1" fill="url(#d2a)"/><rect x="554.5" y="436.5" width="87.9" height="1.1" fill="url(#d1b)"/><rect x="554.5" y="437.5" width="87.9" height="1.1" fill="url(#d5c)"/><rect x="554.5" y="438.5" width="87.9" height="1.1" fill="url(#d5a)"/><rect x="554.5" y="439.5" width="87.9" height="1.1" fill="url(#d8c)"/><rect x="554.5" y="440.5" width="87.9" height="1.1" fill="url(#d6b)"/><rect x="554.5" y="441.5" width="87.9" height="1.1" fill="url(#d2b)"/><rect x="554.5" y="442.5" width="87.9" height="1.1" fill="url(#d0d)"/><rect x="554.5" y="443.5" width="87.9" height="1.1" fill="url(#d2a)"/><rect x="554.5" y="444.5" width="87.9" height="1.1" fill="url(#d1b)"/><rect x="554.5" y="445.5" width="87.9" height="1.1" fill="url(#d8a)"/><rect x="554.5" y="446.5" width="87.9" height="1.1" fill="url(#d6c)"/><rect x="554.5" y="447.5" width="87.9" height="1.1" fill="url(#d0d)"/><rect x="554.5" y="448.5" width="87.9" height="1.1" fill="url(#d1c)"/><rect x="554.5" y="449.5" width="87.9" height="1.1" fill="url(#d1a)"/><rect x="554.5" y="450.5" width="87.9" height="1.1" fill="url(#d6c)"/><rect x="554.5" y="451.5" width="87.9" height="1.1" fill="url(#d0b)"/><rect x="554.5" y="452.4" width="87.9" height="1.1" fill="url(#d0b)"/><rect x="554.5" y="453.4" width="87.9" height="1.1" fill="url(#d4c)"/><rect x="554.5" y="454.4" width="87.9" height="1.1" fill="url(#d3a)"/><rect x="554.5" y="455.4" width="87.9" height="1.1" fill="url(#d6d)"/><rect x="554.5" y="456.4" width="87.9" height="1.1" fill="url(#d4b)"/><rect x="554.5" y="457.4" width="87.9" height="1.1" fill="url(#d4b)"/><rect x="554.5" y="458.4" width="87.9" height="1.1" fill="url(#d3a)"/><rect x="554.5" y="459.4" width="87.9" height="1.1" fill="url(#d0c)"/><rect x="554.5" y="460.4" width="87.9" height="1.1" fill="url(#d6b)"/><rect x="554.5" y="461.4" width="87.9" height="1.1" fill="url(#d3a)"/><rect x="554.5" y="462.4" width="87.9" height="1.1" fill="url(#d1b)"/><rect x="554.5" y="463.4" width="87.9" height="1.1" fill="url(#d1a)"/><rect x="554.5" y="464.4" width="87.9" height="1.1" fill="url(#d2d)"/><rect x="554.5" y="465.4" width="87.9" height="1.1" fill="url(#d0b)"/><rect x="554.5" y="466.4" width="87.9" height="1.1" fill="url(#d3c)"/><rect x="554.5" y="467.4" width="87.9" height="1.1" fill="url(#d0c)"/><rect x="554.5" y="468.4" width="87.9" height="1.1" fill="url(#d0a)"/><rect x="554.5" y="469.4" width="87.9" height="1.1" fill="url(#d2c)"/><rect x="554.5" y="470.4" width="87.9" height="1.1" fill="url(#d3b)"/><rect x="554.5" y="471.4" width="87.9" height="1.1" fill="url(#d8b)"/><rect x="554.5" y="472.4" width="87.9" height="1.1" fill="url(#d3c)"/><rect x="554.5" y="473.4" width="87.9" height="1.1" fill="url(#d4d)"/><rect x="554.5" y="474.4" width="87.9" height="1.1" fill="url(#d0c)"/><rect x="554.5" y="475.4" width="87.9" height="1.1" fill="url(#d2d)"/><rect x="554.5" y="476.4" width="87.9" height="1.1" fill="url(#u0)"/><rect x="554.5" y="477.4" width="87.9" height="1.1" fill="url(#u3)"/><rect x="554.5" y="478.4" width="87.9" height="1.1" fill="url(#u0)"/><rect x="554.5" y="479.4" width="87.9" height="1.1" fill="url(#u3)"/><rect x="554.5" y="480.4" width="87.9" height="1.1" fill="url(#v0)"/><rect x="554.5" y="481.4" width="87.9" height="1.1" fill="url(#u4)"/><rect x="554.5" y="482.4" width="87.9" height="1.1" fill="url(#v1)"/><rect x="554.5" y="483.4" width="87.9" height="1.1" fill="url(#u2)"/><rect x="554.5" y="484.4" width="87.9" height="1.1" fill="url(#u0)"/><rect x="554.5" y="485.4" width="87.9" height="1.1" fill="url(#v3)"/><rect x="554.5" y="486.4" width="87.9" height="1.1" fill="url(#u4)"/><rect x="554.5" y="487.4" width="87.9" height="1.1" fill="url(#u0)"/><rect x="554.5" y="488.4" width="87.9" height="1.1" fill="url(#u3)"/><rect x="554.5" y="489.4" width="87.9" height="1.1" fill="url(#u4)"/><rect x="554.5" y="490.4" width="87.9" height="1.1" fill="url(#u3)"/><rect x="554.5" y="491.4" width="87.9" height="1.1" fill="url(#u2)"/><rect x="554.5" y="492.4" width="87.9" height="1.1" fill="url(#v2)"/><rect x="554.5" y="493.4" width="87.9" height="1.1" fill="url(#u1)"/><rect x="554.5" y="494.4" width="87.9" height="1.1" fill="url(#v4)"/><rect x="554.5" y="495.4" width="87.9" height="1.1" fill="url(#u2)"/><rect x="554.5" y="496.4" width="87.9" height="1.1" fill="url(#u3)"/><rect x="554.5" y="497.4" width="87.9" height="1.1" fill="url(#v5)"/><rect x="554.5" y="498.4" width="87.9" height="1.1" fill="url(#v5)"/><rect x="554.5" y="499.4" width="87.9" height="1.1" fill="url(#u3)"/><rect x="554.5" y="500.4" width="87.9" height="1.1" fill="url(#u6)"/><rect x="554.5" y="501.4" width="87.9" height="1.1" fill="url(#u7)"/><rect x="554.5" y="502.4" width="87.9" height="1.1" fill="url(#u7)"/><rect x="554.5" y="503.4" width="87.9" height="1.1" fill="url(#u7)"/><rect x="554.5" y="504.4" width="87.9" height="1.1" fill="url(#u3)"/><rect x="554.5" y="505.4" width="87.9" height="1.1" fill="url(#u7)"/><rect x="554.5" y="506.4" width="87.9" height="1.1" fill="url(#v5)"/><rect x="554.5" y="507.4" width="87.9" height="1.1" fill="url(#v5)"/><rect x="554.5" y="508.4" width="87.9" height="1.1" fill="url(#u4)"/><rect x="554.5" y="509.4" width="87.9" height="1.1" fill="url(#v1)"/><rect x="554.5" y="510.4" width="87.9" height="1.1" fill="url(#v4)"/><rect x="554.5" y="511.4" width="87.9" height="1.1" fill="url(#u1)"/><rect x="554.5" y="512.4" width="87.9" height="1.1" fill="url(#v2)"/><rect x="554.5" y="513.4" width="87.9" height="1.1" fill="url(#u3)"/><rect x="554.5" y="514.4" width="87.9" height="1.1" fill="url(#u3)"/><rect x="554.5" y="515.4" width="87.9" height="1.1" fill="url(#u2)"/><rect x="554.5" y="516.4" width="87.9" height="1.1" fill="url(#u2)"/><rect x="554.5" y="517.4" width="87.9" height="1.1" fill="url(#v4)"/><rect x="554.5" y="518.4" width="87.9" height="1.1" fill="url(#v3)"/><rect x="554.5" y="519.4" width="87.9" height="1.1" fill="url(#u2)"/><rect x="554.5" y="520.4" width="87.9" height="1.1" fill="url(#v1)"/><rect x="554.5" y="521.4" width="87.9" height="1.1" fill="url(#v2)"/><rect x="554.5" y="522.4" width="87.9" height="1.1" fill="url(#u0)"/><rect x="554.5" y="523.4" width="87.9" height="1.1" fill="url(#u3)"/><rect x="554.5" y="524.4" width="87.9" height="1.1" fill="url(#v2)"/><rect x="554.5" y="525.4" width="87.9" height="1.1" fill="url(#u4)"/><rect x="554.5" y="526.4" width="87.9" height="1.1" fill="url(#u2)"/><rect x="554.5" y="527.4" width="87.9" height="1.1" fill="url(#v0)"/><rect x="554.5" y="528.4" width="87.9" height="1.1" fill="url(#u1)"/><rect x="554.5" y="529.4" width="87.9" height="1.1" fill="url(#n3)"/><rect x="554.5" y="530.4" width="87.9" height="1.1" fill="url(#n0)"/><rect x="554.5" y="531.4" width="87.9" height="1.1" fill="url(#n1)"/><rect x="554.5" y="532.4" width="87.9" height="1.1" fill="url(#n6)"/><rect x="554.5" y="533.4" width="87.9" height="1.1" fill="url(#n1)"/><rect x="554.5" y="534.4" width="87.9" height="1.1" fill="url(#n5)"/><rect x="554.5" y="535.4" width="87.9" height="1.1" fill="url(#n2)"/><rect x="554.5" y="536.4" width="87.9" height="1.1" fill="url(#n1)"/><rect x="554.5" y="537.4" width="87.9" height="1.1" fill="url(#n4)"/><rect x="554.5" y="538.4" width="87.9" height="1.1" fill="url(#n1)"/><rect x="554.5" y="539.4" width="87.9" height="1.1" fill="url(#n5)"/><rect x="554.5" y="540.4" width="87.9" height="1.1" fill="url(#n2)"/><rect x="554.5" y="541.4" width="87.9" height="1.1" fill="url(#n1)"/><rect x="554.5" y="542.3" width="87.9" height="1.1" fill="url(#n0)"/><rect x="554.5" y="543.3" width="87.9" height="1.1" fill="url(#n0)"/><rect x="554.5" y="544.3" width="87.9" height="1.1" fill="url(#n7)"/><rect x="554.5" y="545.3" width="87.9" height="1.1" fill="url(#n0)"/><rect x="554.5" y="546.3" width="87.9" height="1.1" fill="url(#n2)"/><rect x="554.5" y="547.3" width="87.9" height="1.1" fill="url(#n0)"/><rect x="554.5" y="548.3" width="87.9" height="1.1" fill="url(#n5)"/><rect x="554.5" y="549.3" width="87.9" height="1.1" fill="url(#n2)"/><rect x="554.5" y="550.3" width="87.9" height="1.1" fill="url(#n0)"/><rect x="554.5" y="551.3" width="87.9" height="1.1" fill="url(#n6)"/><rect x="554.5" y="552.3" width="87.9" height="1.1" fill="url(#n5)"/><rect x="554.5" y="553.3" width="87.9" height="1.1" fill="url(#n7)"/><rect x="554.5" y="554.3" width="87.9" height="1.1" fill="url(#n1)"/><rect x="554.5" y="555.3" width="87.9" height="1.1" fill="url(#n5)"/><rect x="554.5" y="556.3" width="87.9" height="1.1" fill="url(#n1)"/><rect x="554.5" y="557.3" width="87.9" height="1.1" fill="url(#n5)"/><rect x="554.5" y="558.3" width="87.9" height="1.1" fill="url(#n0)"/><rect x="554.5" y="559.3" width="87.9" height="1.1" fill="url(#n3)"/><rect x="554.5" y="560.3" width="87.9" height="1.1" fill="url(#n3)"/><rect x="554.5" y="561.3" width="87.9" height="1.1" fill="url(#n1)"/><rect x="554.5" y="562.3" width="87.9" height="1.1" fill="url(#n1)"/><rect x="554.5" y="563.3" width="87.9" height="1.1" fill="url(#n7)"/><rect x="554.5" y="564.3" width="87.9" height="1.1" fill="url(#n0)"/><rect x="554.5" y="565.3" width="87.9" height="1.1" fill="url(#n5)"/><rect x="554.5" y="566.3" width="87.9" height="1.1" fill="url(#n5)"/><rect x="554.5" y="567.3" width="87.9" height="1.1" fill="url(#n5)"/><rect x="554.5" y="568.3" width="87.9" height="1.1" fill="url(#n5)"/><rect x="554.5" y="569.3" width="87.9" height="1.1" fill="url(#n0)"/><rect x="554.5" y="570.3" width="87.9" height="1.1" fill="url(#n6)"/><rect x="554.5" y="571.3" width="87.9" height="1.1" fill="url(#n1)"/><rect x="554.5" y="572.3" width="87.9" height="1.1" fill="url(#n3)"/><rect x="554.5" y="573.3" width="87.9" height="1.1" fill="url(#n1)"/><rect x="554.5" y="574.3" width="87.9" height="1.1" fill="url(#n0)"/><rect x="554.5" y="575.3" width="87.9" height="1.1" fill="url(#n1)"/><rect x="554.5" y="576.3" width="87.9" height="1.1" fill="url(#n6)"/><rect x="554.5" y="577.3" width="87.9" height="1.1" fill="url(#n0)"/><rect x="554.5" y="578.3" width="87.9" height="1.1" fill="url(#n1)"/><rect x="554.5" y="579.3" width="87.9" height="1.1" fill="url(#n6)"/><rect x="554.5" y="580.3" width="87.9" height="1.1" fill="url(#n2)"/><rect x="554.5" y="581.3" width="87.9" height="1.1" fill="url(#n0)"/><rect x="554.5" y="582.3" width="87.9" height="1.1" fill="url(#n1)"/><rect x="554.5" y="583.3" width="87.9" height="1.1" fill="url(#n3)"/><rect x="554.5" y="584.3" width="87.9" height="1.1" fill="url(#n4)"/><rect x="554.5" y="585.3" width="87.9" height="1.1" fill="url(#n1)"/><rect x="554.5" y="586.3" width="87.9" height="1.1" fill="url(#n2)"/>
<rect x="554.5" y="225.7" width="87.9" height="361.6" fill="none" stroke="#333" stroke-width="1"/>
<line x1="554.5" y1="259.5" x2="556.5" y2="259.5" stroke="#333" stroke-width="1" />
<line x1="640.4" y1="259.5" x2="642.4" y2="259.5" stroke="#333" stroke-width="1" />
<line x1="554.5" y1="293.5" x2="556.5" y2="293.5" stroke="#333" stroke-width="1" />
<line x1="640.4" y1="293.5" x2="642.4" y2="293.5" stroke="#333" stroke-width="1" />
<line x1="554.5" y1="326.5" x2="556.5" y2="326.5" stroke="#333" stroke-width="1" />
<line x1="640.4" y1="326.5" x2="642.4" y2="326.5" stroke="#333" stroke-width="1" />
<line x1="554.5" y1="360.5" x2="556.5" y2="360.5" stroke="#333" stroke-width="1" />
<line x1="640.4" y1="360.5" x2="642.4" y2="360.5" stroke="#333" stroke-width="1" />
<line x1="554.5" y1="393.5" x2="556.5" y2="393.5" stroke="#333" stroke-width="1" />
<line x1="640.4" y1="393.5" x2="642.4" y2="393.5" stroke="#333" stroke-width="1" />
<line x1="554.5" y1="427.5" x2="556.5" y2="427.5" stroke="#333" stroke-width="1" />
<line x1="640.4" y1="427.5" x2="642.4" y2="427.5" stroke="#333" stroke-width="1" />
<line x1="554.5" y1="461.5" x2="556.5" y2="461.5" stroke="#333" stroke-width="1" />
<line x1="640.4" y1="461.5" x2="642.4" y2="461.5" stroke="#333" stroke-width="1" />
<line x1="554.5" y1="494.5" x2="556.5" y2="494.5" stroke="#333" stroke-width="1" />
<line x1="640.4" y1="494.5" x2="642.4" y2="494.5" stroke="#333" stroke-width="1" />
<line x1="554.5" y1="528.5" x2="556.5" y2="528.5" stroke="#333" stroke-width="1" />
<line x1="640.4" y1="528.5" x2="642.4" y2="528.5" stroke="#333" stroke-width="1" />
<line x1="554.5" y1="562.5" x2="556.5" y2="562.5" stroke="#333" stroke-width="1" />
<line x1="640.4" y1="562.5" x2="642.4" y2="562.5" stroke="#333" stroke-width="1" />
<line x1="576.5" y1="587.3" x2="576.5" y2="584.8" stroke="#333" stroke-width="1" />
<line x1="598.5" y1="587.3" x2="598.5" y2="584.8" stroke="#333" stroke-width="1" />
<line x1="620.5" y1="587.3" x2="620.5" y2="584.8" stroke="#333" stroke-width="1" />
<text x="552.5" y="599.5" font-size="10" text-anchor="middle" fill="#222" >-2</text>
<text x="575" y="599.5" font-size="10" text-anchor="middle" fill="#222" >-1</text>
<text x="598.4" y="599.5" font-size="10" text-anchor="middle" fill="#222" >0</text>
<text x="620.6" y="599.5" font-size="10" text-anchor="middle" fill="#222" >1</text>
<text x="641.8" y="599.5" font-size="10" text-anchor="middle" fill="#222" >2</text>
<text x="601.3" y="611.3" font-size="10.2" text-anchor="middle" fill="#222" >time from pull max (s)</text>
<defs><linearGradient id="cbg" x1="0" y1="0" x2="0" y2="1"><stop offset="0" stop-color="#67001f"/><stop offset="0.1" stop-color="#b2182b"/><stop offset="0.3" stop-color="#d6604d"/><stop offset="0.5" stop-color="#f4a582"/><stop offset="0.7" stop-color="#fddbc7"/><stop offset="0.8" stop-color="#ffffff"/><stop offset="0.9" stop-color="#a0a0a0"/><stop offset="1.0" stop-color="#323232"/></linearGradient></defs>
<rect x="645.8" y="349" width="9.2" height="105" fill="url(#cbg)"/>
<line x1="653" y1="350.5" x2="655" y2="350.5" stroke="#333" stroke-width="1" />
<text x="657.5" y="353.5" font-size="10" text-anchor="start" fill="#222" >1.6</text>
<line x1="653" y1="370.5" x2="655" y2="370.5" stroke="#333" stroke-width="1" />
<text x="657.5" y="374" font-size="10" text-anchor="start" fill="#222" >1.2</text>
<line x1="653" y1="391.5" x2="655" y2="391.5" stroke="#333" stroke-width="1" />
<text x="657.5" y="394.5" font-size="10" text-anchor="start" fill="#222" >0.8</text>
<line x1="653" y1="411.5" x2="655" y2="411.5" stroke="#333" stroke-width="1" />
<text x="657.5" y="415" font-size="10" text-anchor="start" fill="#222" >0.4</text>
<line x1="653" y1="432.5" x2="655" y2="432.5" stroke="#333" stroke-width="1" />
<text x="657.5" y="435.5" font-size="10" text-anchor="start" fill="#222" >0</text>
<line x1="653" y1="452.5" x2="655" y2="452.5" stroke="#333" stroke-width="1" />
<text x="657.5" y="456" font-size="10" text-anchor="start" fill="#222" >-0.4</text>
<text x="681.2" y="402.5" font-size="10" text-anchor="middle" fill="#222" transform="rotate(-90 681.2 402.5)" >ΔF/F (z scored)</text>
<text x="-0.1" y="434" font-size="15.5" text-anchor="start" fill="#111" font-weight="bold" text-rendering="geometricPrecision">H</text>
<path d="M31.1,447.4 L31.7,447.6 L32.3,447.8 L32.9,448 L33.5,448.2 L34.1,448.4 L34.7,448.6 L35.3,448.8 L35.9,449 L36.5,449.2 L37.1,449.4 L37.7,449.6 L38.3,449.8 L38.9,450 L39.5,450.2 L40.1,450.4 L40.7,450.6 L41.3,450.8 L41.9,451 L42.5,451.2 L43.1,451.4 L43.7,451.6 L44.3,451.8 L44.9,452 L45.5,452.2 L46.1,452.4 L46.7,452.6 L47.3,452.8 L47.9,453.1 L48.5,453.3 L49.1,453.5 L49.7,453.8 L50.3,454 L50.9,454.2 L51.5,454.5 L52.1,454.8 L52.7,455 L53.3,455.3 L53.9,455.6 L54.5,455.8 L55.1,456.1 L55.7,456.4 L56.3,456.7 L56.9,457 L57.5,457.3 L58.1,457.6 L58.7,457.9 L59.3,458.2 L59.9,458.5 L60.5,458.8 L61.1,459.1 L61.7,459.4 L62.3,459.7 L62.9,460 L63.5,460.3 L64.1,460.7 L64.7,461 L65.3,461.3 L65.9,461.7 L66.5,462 L67.1,462.4 L67.7,462.7 L68.3,463.1 L68.9,463.5 L69.5,463.8 L70.1,464.2 L70.7,464.6 L71.3,465 L71.9,465.4 L72.5,465.8 L73.1,466.2 L73.7,466.6 L74.3,467.1 L74.9,467.5 L75.5,467.9 L76.1,468.4 L76.7,468.8 L77.3,469.3 L77.9,469.7 L78.5,470.2 L79.1,470.6 L79.7,471.1 L80.3,471.6 L80.9,472 L81.5,472.5 L82.1,473 L82.7,473.5 L83.3,474 L83.9,474.5 L84.5,475 L85.1,475.5 L85.7,476.1 L86.3,476.6 L86.9,477.1 L87.5,477.7 L88.1,478.2 L88.7,478.8 L89.3,479.4 L89.9,479.9 L90.5,480.5 L91.1,481.1 L91.7,481.7 L92.3,482.3 L92.9,482.9 L93.5,483.5 L94.1,484.1 L94.7,484.8 L95.3,485.4 L95.9,486.1 L96.5,486.8 L97.1,487.5 L97.7,488.3 L98.3,489 L98.9,489.9 L99.5,490.7 L100.1,491.5 L100.7,492.4 L101.3,493.2 L101.9,494.1 L102.5,495 L103.1,495.9 L103.7,496.7 L104.3,497.6 L104.9,498.5 L105.5,499.4 L106.1,500.2 L106.7,501 L107.3,501.8 L107.9,502.6 L108.5,503.4 L109.1,504.2 L109.7,504.9 L110.3,505.6 L110.9,506.2 L111.5,506.9 L112.1,507.5 L112.7,508.1 L113.3,508.7 L113.9,509.3 L114.5,509.9 L115.1,510.4 L115.7,511 L116.3,511.5 L116.9,512 L117.5,512.5 L118.1,513 L118.7,513.4 L119.3,513.8 L119.9,514.2 L120.5,514.5 L121.1,514.9 L121.7,515.1 L122.3,515.4 L122.9,515.6 L123.5,515.8 L124.1,515.9 L124.7,516 L125.3,516.1 L125.9,516.1 L126.5,516.1 L127.1,516.1 L127.7,516 L128.3,515.9 L128.9,515.8 L129.5,515.6 L130.1,515.5 L130.7,515.3 L131.3,515 L131.9,514.8 L132.5,514.5 L133.1,514.3 L133.7,514 L134.3,513.7 L134.9,513.3 L135.5,513 L136.1,512.6 L136.7,512.3 L137.3,511.9 L137.9,511.5 L138.5,511.2 L139.1,510.8 L139.7,510.4 L140.3,510 L140.9,509.6 L141.5,509.1 L142.1,508.7 L142.7,508.3 L143.3,507.8 L143.9,507.4 L144.5,506.9 L145.1,506.5 L145.7,506 L146.3,505.5 L146.9,505 L147.5,504.6 L148.1,504.1 L148.7,503.6 L149.3,503 L149.9,502.5 L150.5,502 L151.1,501.4 L151.7,500.9 L152.3,500.3 L152.9,499.8 L153.5,499.2 L154.1,498.6 L154.7,498 L155.3,497.4 L155.9,496.8 L156.5,496.2 L157.1,495.6 L157.7,495 L158.3,494.3 L158.9,493.7 L159.5,493 L160.1,492.3 L160.7,491.7 L161.3,491 L161.9,490.3 L162.5,489.5 L163.1,488.8 L163.7,488.1 L164.3,487.4 L164.9,486.6 L165.5,485.9 L166.1,485.1 L166.7,484.4 L167.3,483.6 L167.9,482.8 L168.5,482.1 L169.1,481.3 L169.7,480.5 L170.3,479.7 L170.9,478.9 L171.5,478.1 L172.1,477.3 L172.7,476.5 L173.3,475.7 L173.9,474.9 L174.5,474.1 L175.1,473.3 L175.7,472.5 L176.3,471.7 L176.9,471 L177.5,470.2 L178.1,469.4 L178.7,468.6 L179.3,467.8 L179.9,467 L180.5,466.2 L181.1,465.4 L181.7,464.5 L182.3,463.7 L182.9,462.9 L183.5,462.1 L184.1,461.3 L184.7,460.4 L185.3,459.6 L185.9,458.8 L186.5,458 L187.1,457.1 L187.7,456.3 L188.3,455.4 L188.9,454.6 L189.5,453.8 L190.1,452.9 L190.7,452.1 L191.3,451.3 L191.9,450.4 L192.5,449.6 L193.1,448.7 L193.7,447.9 L194.3,447 L194.9,446.2 L195.5,445.4 L196.1,444.5 L196.7,443.7 L197.3,442.8 L197.9,442 L198.5,441.2 L199.1,440.3 L199.7,439.5 L200.3,438.7 L200.3,443.2 L199.7,444 L199.1,444.8 L198.5,445.6 L197.9,446.4 L197.3,447.2 L196.7,448 L196.1,448.9 L195.5,449.7 L194.9,450.5 L194.3,451.3 L193.7,452.2 L193.1,453 L192.5,453.8 L191.9,454.6 L191.3,455.4 L190.7,456.3 L190.1,457.1 L189.5,457.9 L188.9,458.7 L188.3,459.5 L187.7,460.4 L187.1,461.2 L186.5,462 L185.9,462.8 L185.3,463.6 L184.7,464.4 L184.1,465.2 L183.5,466 L182.9,466.8 L182.3,467.6 L181.7,468.4 L181.1,469.2 L180.5,470 L179.9,470.8 L179.3,471.6 L178.7,472.3 L178.1,473.1 L177.5,473.9 L176.9,474.7 L176.3,475.4 L175.7,476.2 L175.1,477 L174.5,477.8 L173.9,478.5 L173.3,479.3 L172.7,480.1 L172.1,480.9 L171.5,481.6 L170.9,482.4 L170.3,483.2 L169.7,484 L169.1,484.7 L168.5,485.5 L167.9,486.2 L167.3,487 L166.7,487.7 L166.1,488.5 L165.5,489.2 L164.9,489.9 L164.3,490.6 L163.7,491.4 L163.1,492.1 L162.5,492.8 L161.9,493.5 L161.3,494.1 L160.7,494.8 L160.1,495.5 L159.5,496.1 L158.9,496.8 L158.3,497.4 L157.7,498 L157.1,498.6 L156.5,499.2 L155.9,499.8 L155.3,500.4 L154.7,501 L154.1,501.5 L153.5,502.1 L152.9,502.7 L152.3,503.2 L151.7,503.7 L151.1,504.3 L150.5,504.8 L149.9,505.3 L149.3,505.8 L148.7,506.4 L148.1,506.9 L147.5,507.4 L146.9,507.8 L146.3,508.3 L145.7,508.8 L145.1,509.3 L144.5,509.7 L143.9,510.2 L143.3,510.6 L142.7,511.1 L142.1,511.5 L141.5,511.9 L140.9,512.4 L140.3,512.8 L139.7,513.2 L139.1,513.6 L138.5,514 L137.9,514.3 L137.3,514.7 L136.7,515.1 L136.1,515.4 L135.5,515.8 L134.9,516.1 L134.3,516.5 L133.7,516.8 L133.1,517.1 L132.5,517.3 L131.9,517.6 L131.3,517.8 L130.7,518.1 L130.1,518.3 L129.5,518.4 L128.9,518.6 L128.3,518.7 L127.7,518.8 L127.1,518.9 L126.5,518.9 L125.9,518.9 L125.3,518.9 L124.7,518.8 L124.1,518.7 L123.5,518.6 L122.9,518.4 L122.3,518.2 L121.7,517.9 L121.1,517.7 L120.5,517.3 L119.9,517 L119.3,516.6 L118.7,516.2 L118.1,515.8 L117.5,515.3 L116.9,514.8 L116.3,514.3 L115.7,513.8 L115.1,513.2 L114.5,512.7 L113.9,512.1 L113.3,511.5 L112.7,510.9 L112.1,510.3 L111.5,509.7 L110.9,509 L110.3,508.4 L109.7,507.7 L109.1,507 L108.5,506.2 L107.9,505.4 L107.3,504.6 L106.7,503.8 L106.1,503 L105.5,502.2 L104.9,501.3 L104.3,500.4 L103.7,499.5 L103.1,498.7 L102.5,497.8 L101.9,496.9 L101.3,496 L100.7,495.2 L100.1,494.3 L99.5,493.5 L98.9,492.7 L98.3,491.8 L97.7,491.1 L97.1,490.3 L96.5,489.6 L95.9,488.9 L95.3,488.2 L94.7,487.6 L94.1,486.9 L93.5,486.3 L92.9,485.7 L92.3,485.1 L91.7,484.5 L91.1,483.9 L90.5,483.3 L89.9,482.7 L89.3,482.2 L88.7,481.6 L88.1,481 L87.5,480.5 L86.9,479.9 L86.3,479.4 L85.7,478.9 L85.1,478.3 L84.5,477.8 L83.9,477.3 L83.3,476.8 L82.7,476.3 L82.1,475.8 L81.5,475.3 L80.9,474.8 L80.3,474.4 L79.7,473.9 L79.1,473.4 L78.5,473 L77.9,472.5 L77.3,472.1 L76.7,471.6 L76.1,471.2 L75.5,470.7 L74.9,470.3 L74.3,469.9 L73.7,469.4 L73.1,469 L72.5,468.6 L71.9,468.2 L71.3,467.8 L70.7,467.4 L70.1,467 L69.5,466.6 L68.9,466.3 L68.3,465.9 L67.7,465.5 L67.1,465.2 L66.5,464.8 L65.9,464.5 L65.3,464.1 L64.7,463.8 L64.1,463.5 L63.5,463.1 L62.9,462.8 L62.3,462.5 L61.7,462.2 L61.1,461.9 L60.5,461.6 L59.9,461.3 L59.3,461 L58.7,460.7 L58.1,460.4 L57.5,460.1 L56.9,459.9 L56.3,459.6 L55.7,459.3 L55.1,459.1 L54.5,458.8 L53.9,458.5 L53.3,458.3 L52.7,458 L52.1,457.8 L51.5,457.5 L50.9,457.3 L50.3,457.1 L49.7,456.9 L49.1,456.6 L48.5,456.4 L47.9,456.2 L47.3,456 L46.7,455.8 L46.1,455.6 L45.5,455.4 L44.9,455.2 L44.3,455 L43.7,454.8 L43.1,454.7 L42.5,454.5 L41.9,454.3 L41.3,454.1 L40.7,453.9 L40.1,453.7 L39.5,453.6 L38.9,453.4 L38.3,453.2 L37.7,453 L37.1,452.9 L36.5,452.7 L35.9,452.5 L35.3,452.3 L34.7,452.1 L34.1,452 L33.5,451.8 L32.9,451.6 L32.3,451.4 L31.7,451.2 L31.1,451Z" fill="#e8ccd6"/>
<path d="M31.1,449.2 L31.7,449.4 L32.3,449.6 L32.9,449.8 L33.5,450 L34.1,450.2 L34.7,450.4 L35.3,450.6 L35.9,450.8 L36.5,451 L37.1,451.1 L37.7,451.3 L38.3,451.5 L38.9,451.7 L39.5,451.9 L40.1,452.1 L40.7,452.3 L41.3,452.4 L41.9,452.6 L42.5,452.8 L43.1,453 L43.7,453.2 L44.3,453.4 L44.9,453.6 L45.5,453.8 L46.1,454 L46.7,454.2 L47.3,454.4 L47.9,454.6 L48.5,454.9 L49.1,455.1 L49.7,455.3 L50.3,455.5 L50.9,455.8 L51.5,456 L52.1,456.3 L52.7,456.5 L53.3,456.8 L53.9,457 L54.5,457.3 L55.1,457.6 L55.7,457.9 L56.3,458.1 L56.9,458.4 L57.5,458.7 L58.1,459 L58.7,459.3 L59.3,459.6 L59.9,459.9 L60.5,460.2 L61.1,460.5 L61.7,460.8 L62.3,461.1 L62.9,461.4 L63.5,461.7 L64.1,462.1 L64.7,462.4 L65.3,462.7 L65.9,463.1 L66.5,463.4 L67.1,463.8 L67.7,464.1 L68.3,464.5 L68.9,464.9 L69.5,465.2 L70.1,465.6 L70.7,466 L71.3,466.4 L71.9,466.8 L72.5,467.2 L73.1,467.6 L73.7,468 L74.3,468.5 L74.9,468.9 L75.5,469.3 L76.1,469.8 L76.7,470.2 L77.3,470.7 L77.9,471.1 L78.5,471.6 L79.1,472 L79.7,472.5 L80.3,473 L80.9,473.4 L81.5,473.9 L82.1,474.4 L82.7,474.9 L83.3,475.4 L83.9,475.9 L84.5,476.4 L85.1,476.9 L85.7,477.5 L86.3,478 L86.9,478.5 L87.5,479.1 L88.1,479.6 L88.7,480.2 L89.3,480.8 L89.9,481.3 L90.5,481.9 L91.1,482.5 L91.7,483.1 L92.3,483.7 L92.9,484.3 L93.5,484.9 L94.1,485.5 L94.7,486.2 L95.3,486.8 L95.9,487.5 L96.5,488.2 L97.1,488.9 L97.7,489.7 L98.3,490.4 L98.9,491.3 L99.5,492.1 L100.1,492.9 L100.7,493.8 L101.3,494.6 L101.9,495.5 L102.5,496.4 L103.1,497.3 L103.7,498.1 L104.3,499 L104.9,499.9 L105.5,500.8 L106.1,501.6 L106.7,502.4 L107.3,503.2 L107.9,504 L108.5,504.8 L109.1,505.6 L109.7,506.3 L110.3,507 L110.9,507.6 L111.5,508.3 L112.1,508.9 L112.7,509.5 L113.3,510.1 L113.9,510.7 L114.5,511.3 L115.1,511.8 L115.7,512.4 L116.3,512.9 L116.9,513.4 L117.5,513.9 L118.1,514.4 L118.7,514.8 L119.3,515.2 L119.9,515.6 L120.5,515.9 L121.1,516.3 L121.7,516.5 L122.3,516.8 L122.9,517 L123.5,517.2 L124.1,517.3 L124.7,517.4 L125.3,517.5 L125.9,517.5 L126.5,517.5 L127.1,517.5 L127.7,517.4 L128.3,517.3 L128.9,517.2 L129.5,517 L130.1,516.9 L130.7,516.7 L131.3,516.4 L131.9,516.2 L132.5,515.9 L133.1,515.7 L133.7,515.4 L134.3,515.1 L134.9,514.7 L135.5,514.4 L136.1,514 L136.7,513.7 L137.3,513.3 L137.9,512.9 L138.5,512.6 L139.1,512.2 L139.7,511.8 L140.3,511.4 L140.9,511 L141.5,510.5 L142.1,510.1 L142.7,509.7 L143.3,509.2 L143.9,508.8 L144.5,508.3 L145.1,507.9 L145.7,507.4 L146.3,506.9 L146.9,506.4 L147.5,506 L148.1,505.5 L148.7,505 L149.3,504.4 L149.9,503.9 L150.5,503.4 L151.1,502.9 L151.7,502.3 L152.3,501.8 L152.9,501.2 L153.5,500.6 L154.1,500.1 L154.7,499.5 L155.3,498.9 L155.9,498.3 L156.5,497.7 L157.1,497.1 L157.7,496.5 L158.3,495.9 L158.9,495.2 L159.5,494.6 L160.1,493.9 L160.7,493.2 L161.3,492.5 L161.9,491.9 L162.5,491.2 L163.1,490.4 L163.7,489.7 L164.3,489 L164.9,488.3 L165.5,487.5 L166.1,486.8 L166.7,486 L167.3,485.3 L167.9,484.5 L168.5,483.8 L169.1,483 L169.7,482.2 L170.3,481.4 L170.9,480.7 L171.5,479.9 L172.1,479.1 L172.7,478.3 L173.3,477.5 L173.9,476.7 L174.5,476 L175.1,475.2 L175.7,474.4 L176.3,473.6 L176.9,472.8 L177.5,472 L178.1,471.2 L178.7,470.5 L179.3,469.7 L179.9,468.9 L180.5,468.1 L181.1,467.3 L181.7,466.5 L182.3,465.7 L182.9,464.9 L183.5,464.1 L184.1,463.2 L184.7,462.4 L185.3,461.6 L185.9,460.8 L186.5,460 L187.1,459.1 L187.7,458.3 L188.3,457.5 L188.9,456.7 L189.5,455.8 L190.1,455 L190.7,454.2 L191.3,453.3 L191.9,452.5 L192.5,451.7 L193.1,450.8 L193.7,450 L194.3,449.2 L194.9,448.4 L195.5,447.5 L196.1,446.7 L196.7,445.9 L197.3,445 L197.9,444.2 L198.5,443.4 L199.1,442.6 L199.7,441.7 L200.3,440.9" fill="none" stroke="#cf9aab" stroke-width="1"/>
<path d="M31.1,452.8 L31.7,452.9 L32.3,453.1 L32.9,453.3 L33.5,453.5 L34.1,453.6 L34.7,453.8 L35.3,454 L35.9,454.1 L36.5,454.3 L37.1,454.4 L37.7,454.6 L38.3,454.7 L38.9,454.8 L39.5,455 L40.1,455.1 L40.7,455.3 L41.3,455.4 L41.9,455.6 L42.5,455.7 L43.1,455.9 L43.7,456.1 L44.3,456.2 L44.9,456.4 L45.5,456.6 L46.1,456.8 L46.7,457 L47.3,457.2 L47.9,457.4 L48.5,457.6 L49.1,457.8 L49.7,458.1 L50.3,458.3 L50.9,458.6 L51.5,458.9 L52.1,459.2 L52.7,459.5 L53.3,459.8 L53.9,460.1 L54.5,460.5 L55.1,460.8 L55.7,461.2 L56.3,461.6 L56.9,462 L57.5,462.4 L58.1,462.8 L58.7,463.3 L59.3,463.7 L59.9,464.1 L60.5,464.6 L61.1,465.1 L61.7,465.5 L62.3,466 L62.9,466.5 L63.5,467 L64.1,467.5 L64.7,468 L65.3,468.5 L65.9,469 L66.5,469.5 L67.1,470.1 L67.7,470.6 L68.3,471.1 L68.9,471.7 L69.5,472.2 L70.1,472.8 L70.7,473.4 L71.3,473.9 L71.9,474.5 L72.5,475.1 L73.1,475.6 L73.7,476.2 L74.3,476.8 L74.9,477.4 L75.5,478 L76.1,478.6 L76.7,479.2 L77.3,479.8 L77.9,480.4 L78.5,481 L79.1,481.6 L79.7,482.3 L80.3,482.9 L80.9,483.6 L81.5,484.2 L82.1,484.9 L82.7,485.5 L83.3,486.2 L83.9,486.9 L84.5,487.5 L85.1,488.2 L85.7,488.9 L86.3,489.6 L86.9,490.3 L87.5,491 L88.1,491.7 L88.7,492.4 L89.3,493.1 L89.9,493.8 L90.5,494.5 L91.1,495.3 L91.7,496 L92.3,496.7 L92.9,497.5 L93.5,498.2 L94.1,498.9 L94.7,499.7 L95.3,500.4 L95.9,501.2 L96.5,502 L97.1,502.8 L97.7,503.6 L98.3,504.4 L98.9,505.3 L99.5,506.1 L100.1,507 L100.7,507.9 L101.3,508.8 L101.9,509.7 L102.5,510.6 L103.1,511.5 L103.7,512.4 L104.3,513.3 L104.9,514.1 L105.5,515 L106.1,515.9 L106.7,516.8 L107.3,517.6 L107.9,518.5 L108.5,519.3 L109.1,520.1 L109.7,520.9 L110.3,521.7 L110.9,522.5 L111.5,523.2 L112.1,523.9 L112.7,524.7 L113.3,525.4 L113.9,526.1 L114.5,526.8 L115.1,527.5 L115.7,528.2 L116.3,528.8 L116.9,529.5 L117.5,530.1 L118.1,530.8 L118.7,531.4 L119.3,532 L119.9,532.6 L120.5,533.2 L121.1,533.7 L121.7,534.3 L122.3,534.8 L122.9,535.3 L123.5,535.8 L124.1,536.3 L124.7,536.7 L125.3,537.1 L125.9,537.5 L126.5,537.8 L127.1,538.1 L127.7,538.3 L128.3,538.6 L128.9,538.7 L129.5,538.9 L130.1,539 L130.7,539.1 L131.3,539.1 L131.9,539.1 L132.5,539.1 L133.1,539.1 L133.7,539.1 L134.3,539 L134.9,539 L135.5,538.9 L136.1,538.8 L136.7,538.7 L137.3,538.5 L137.9,538.4 L138.5,538.2 L139.1,537.9 L139.7,537.6 L140.3,537.3 L140.9,537 L141.5,536.6 L142.1,536.2 L142.7,535.8 L143.3,535.4 L143.9,534.9 L144.5,534.4 L145.1,534 L145.7,533.5 L146.3,532.9 L146.9,532.4 L147.5,531.9 L148.1,531.3 L148.7,530.8 L149.3,530.2 L149.9,529.6 L150.5,529 L151.1,528.4 L151.7,527.7 L152.3,527.1 L152.9,526.4 L153.5,525.8 L154.1,525.1 L154.7,524.4 L155.3,523.7 L155.9,523 L156.5,522.3 L157.1,521.6 L157.7,520.8 L158.3,520.1 L158.9,519.3 L159.5,518.6 L160.1,517.8 L160.7,517.1 L161.3,516.3 L161.9,515.5 L162.5,514.7 L163.1,514 L163.7,513.2 L164.3,512.4 L164.9,511.6 L165.5,510.8 L166.1,509.9 L166.7,509.1 L167.3,508.3 L167.9,507.4 L168.5,506.6 L169.1,505.7 L169.7,504.9 L170.3,504 L170.9,503.2 L171.5,502.3 L172.1,501.4 L172.7,500.5 L173.3,499.6 L173.9,498.7 L174.5,497.8 L175.1,496.9 L175.7,495.9 L176.3,495 L176.9,494.1 L177.5,493.1 L178.1,492.1 L178.7,491.2 L179.3,490.2 L179.9,489.2 L180.5,488.2 L181.1,487.2 L181.7,486.2 L182.3,485.1 L182.9,484.1 L183.5,483.1 L184.1,482 L184.7,480.9 L185.3,479.9 L185.9,478.8 L186.5,477.7 L187.1,476.6 L187.7,475.6 L188.3,474.5 L188.9,473.4 L189.5,472.3 L190.1,471.2 L190.7,470.1 L191.3,469 L191.9,467.9 L192.5,466.7 L193.1,465.6 L193.7,464.5 L194.3,463.4 L194.9,462.3 L195.5,461.2 L196.1,460.1 L196.7,459 L197.3,457.9 L197.9,456.8 L198.5,455.7 L199.1,454.6 L199.7,453.6 L200.3,452.5 L200.3,458.6 L199.7,459.6 L199.1,460.7 L198.5,461.7 L197.9,462.8 L197.3,463.9 L196.7,464.9 L196.1,466 L195.5,467.1 L194.9,468.2 L194.3,469.2 L193.7,470.3 L193.1,471.4 L192.5,472.5 L191.9,473.6 L191.3,474.6 L190.7,475.7 L190.1,476.8 L189.5,477.9 L188.9,478.9 L188.3,480 L187.7,481.1 L187.1,482.1 L186.5,483.2 L185.9,484.2 L185.3,485.3 L184.7,486.3 L184.1,487.4 L183.5,488.4 L182.9,489.4 L182.3,490.4 L181.7,491.4 L181.1,492.4 L180.5,493.4 L179.9,494.4 L179.3,495.3 L178.7,496.3 L178.1,497.2 L177.5,498.2 L176.9,499.1 L176.3,500 L175.7,500.9 L175.1,501.8 L174.5,502.7 L173.9,503.6 L173.3,504.5 L172.7,505.3 L172.1,506.2 L171.5,507.1 L170.9,507.9 L170.3,508.8 L169.7,509.6 L169.1,510.4 L168.5,511.2 L167.9,512.1 L167.3,512.9 L166.7,513.7 L166.1,514.5 L165.5,515.3 L164.9,516 L164.3,516.8 L163.7,517.6 L163.1,518.4 L162.5,519.1 L161.9,519.9 L161.3,520.6 L160.7,521.4 L160.1,522.1 L159.5,522.8 L158.9,523.5 L158.3,524.3 L157.7,525 L157.1,525.7 L156.5,526.4 L155.9,527.1 L155.3,527.8 L154.7,528.4 L154.1,529.1 L153.5,529.7 L152.9,530.4 L152.3,531 L151.7,531.6 L151.1,532.2 L150.5,532.8 L149.9,533.4 L149.3,534 L148.7,534.6 L148.1,535.1 L147.5,535.7 L146.9,536.2 L146.3,536.7 L145.7,537.3 L145.1,537.8 L144.5,538.2 L143.9,538.7 L143.3,539.2 L142.7,539.6 L142.1,540 L141.5,540.4 L140.9,540.8 L140.3,541.1 L139.7,541.4 L139.1,541.7 L138.5,542 L137.9,542.2 L137.3,542.3 L136.7,542.5 L136.1,542.6 L135.5,542.7 L134.9,542.8 L134.3,542.8 L133.7,542.9 L133.1,542.9 L132.5,542.9 L131.9,542.9 L131.3,542.9 L130.7,542.9 L130.1,542.8 L129.5,542.7 L128.9,542.5 L128.3,542.4 L127.7,542.1 L127.1,541.9 L126.5,541.6 L125.9,541.3 L125.3,540.9 L124.7,540.5 L124.1,540.1 L123.5,539.6 L122.9,539.1 L122.3,538.6 L121.7,538.1 L121.1,537.5 L120.5,537 L119.9,536.4 L119.3,535.8 L118.7,535.2 L118.1,534.6 L117.5,533.9 L116.9,533.3 L116.3,532.6 L115.7,532 L115.1,531.3 L114.5,530.6 L113.9,529.9 L113.3,529.2 L112.7,528.5 L112.1,527.7 L111.5,527 L110.9,526.3 L110.3,525.5 L109.7,524.7 L109.1,523.9 L108.5,523.1 L107.9,522.3 L107.3,521.4 L106.7,520.6 L106.1,519.7 L105.5,518.8 L104.9,517.9 L104.3,517.1 L103.7,516.2 L103.1,515.3 L102.5,514.4 L101.9,513.5 L101.3,512.6 L100.7,511.7 L100.1,510.8 L99.5,509.9 L98.9,509.1 L98.3,508.2 L97.7,507.4 L97.1,506.6 L96.5,505.8 L95.9,505 L95.3,504.2 L94.7,503.5 L94.1,502.7 L93.5,502 L92.9,501.3 L92.3,500.5 L91.7,499.8 L91.1,499.1 L90.5,498.3 L89.9,497.6 L89.3,496.9 L88.7,496.2 L88.1,495.5 L87.5,494.8 L86.9,494.1 L86.3,493.4 L85.7,492.7 L85.1,492 L84.5,491.3 L83.9,490.7 L83.3,490 L82.7,489.3 L82.1,488.7 L81.5,488 L80.9,487.4 L80.3,486.7 L79.7,486.1 L79.1,485.4 L78.5,484.8 L77.9,484.2 L77.3,483.6 L76.7,483 L76.1,482.4 L75.5,481.8 L74.9,481.2 L74.3,480.6 L73.7,480 L73.1,479.4 L72.5,478.9 L71.9,478.3 L71.3,477.7 L70.7,477.2 L70.1,476.6 L69.5,476 L68.9,475.5 L68.3,474.9 L67.7,474.4 L67.1,473.9 L66.5,473.3 L65.9,472.8 L65.3,472.3 L64.7,471.8 L64.1,471.3 L63.5,470.8 L62.9,470.3 L62.3,469.8 L61.7,469.3 L61.1,468.9 L60.5,468.4 L59.9,467.9 L59.3,467.5 L58.7,467.1 L58.1,466.7 L57.5,466.3 L56.9,465.9 L56.3,465.5 L55.7,465.2 L55.1,464.8 L54.5,464.5 L53.9,464.2 L53.3,463.9 L52.7,463.6 L52.1,463.3 L51.5,463 L50.9,462.8 L50.3,462.5 L49.7,462.3 L49.1,462.1 L48.5,461.9 L47.9,461.7 L47.3,461.5 L46.7,461.3 L46.1,461.1 L45.5,460.9 L44.9,460.8 L44.3,460.6 L43.7,460.5 L43.1,460.3 L42.5,460.2 L41.9,460.1 L41.3,459.9 L40.7,459.8 L40.1,459.7 L39.5,459.6 L38.9,459.4 L38.3,459.3 L37.7,459.2 L37.1,459.1 L36.5,459 L35.9,458.8 L35.3,458.7 L34.7,458.6 L34.1,458.4 L33.5,458.3 L32.9,458.1 L32.3,458 L31.7,457.8 L31.1,457.6Z" fill="#cfbdd5"/>
<path d="M31.1,455.2 L31.7,455.4 L32.3,455.6 L32.9,455.7 L33.5,455.9 L34.1,456 L34.7,456.2 L35.3,456.3 L35.9,456.5 L36.5,456.6 L37.1,456.7 L37.7,456.9 L38.3,457 L38.9,457.1 L39.5,457.3 L40.1,457.4 L40.7,457.6 L41.3,457.7 L41.9,457.8 L42.5,458 L43.1,458.1 L43.7,458.3 L44.3,458.4 L44.9,458.6 L45.5,458.8 L46.1,458.9 L46.7,459.1 L47.3,459.3 L47.9,459.5 L48.5,459.7 L49.1,460 L49.7,460.2 L50.3,460.4 L50.9,460.7 L51.5,461 L52.1,461.2 L52.7,461.5 L53.3,461.8 L53.9,462.2 L54.5,462.5 L55.1,462.8 L55.7,463.2 L56.3,463.6 L56.9,464 L57.5,464.4 L58.1,464.8 L58.7,465.2 L59.3,465.6 L59.9,466 L60.5,466.5 L61.1,467 L61.7,467.4 L62.3,467.9 L62.9,468.4 L63.5,468.9 L64.1,469.4 L64.7,469.9 L65.3,470.4 L65.9,470.9 L66.5,471.4 L67.1,472 L67.7,472.5 L68.3,473 L68.9,473.6 L69.5,474.1 L70.1,474.7 L70.7,475.3 L71.3,475.8 L71.9,476.4 L72.5,477 L73.1,477.5 L73.7,478.1 L74.3,478.7 L74.9,479.3 L75.5,479.9 L76.1,480.5 L76.7,481.1 L77.3,481.7 L77.9,482.3 L78.5,482.9 L79.1,483.5 L79.7,484.2 L80.3,484.8 L80.9,485.5 L81.5,486.1 L82.1,486.8 L82.7,487.4 L83.3,488.1 L83.9,488.8 L84.5,489.4 L85.1,490.1 L85.7,490.8 L86.3,491.5 L86.9,492.2 L87.5,492.9 L88.1,493.6 L88.7,494.3 L89.3,495 L89.9,495.7 L90.5,496.4 L91.1,497.2 L91.7,497.9 L92.3,498.6 L92.9,499.4 L93.5,500.1 L94.1,500.8 L94.7,501.6 L95.3,502.3 L95.9,503.1 L96.5,503.9 L97.1,504.7 L97.7,505.5 L98.3,506.3 L98.9,507.2 L99.5,508 L100.1,508.9 L100.7,509.8 L101.3,510.7 L101.9,511.6 L102.5,512.5 L103.1,513.4 L103.7,514.3 L104.3,515.2 L104.9,516 L105.5,516.9 L106.1,517.8 L106.7,518.7 L107.3,519.5 L107.9,520.4 L108.5,521.2 L109.1,522 L109.7,522.8 L110.3,523.6 L110.9,524.4 L111.5,525.1 L112.1,525.8 L112.7,526.6 L113.3,527.3 L113.9,528 L114.5,528.7 L115.1,529.4 L115.7,530.1 L116.3,530.7 L116.9,531.4 L117.5,532 L118.1,532.7 L118.7,533.3 L119.3,533.9 L119.9,534.5 L120.5,535.1 L121.1,535.6 L121.7,536.2 L122.3,536.7 L122.9,537.2 L123.5,537.7 L124.1,538.2 L124.7,538.6 L125.3,539 L125.9,539.4 L126.5,539.7 L127.1,540 L127.7,540.2 L128.3,540.5 L128.9,540.6 L129.5,540.8 L130.1,540.9 L130.7,541 L131.3,541 L131.9,541 L132.5,541 L133.1,541 L133.7,541 L134.3,540.9 L134.9,540.9 L135.5,540.8 L136.1,540.7 L136.7,540.6 L137.3,540.4 L137.9,540.3 L138.5,540.1 L139.1,539.8 L139.7,539.5 L140.3,539.2 L140.9,538.9 L141.5,538.5 L142.1,538.1 L142.7,537.7 L143.3,537.3 L143.9,536.8 L144.5,536.3 L145.1,535.9 L145.7,535.4 L146.3,534.8 L146.9,534.3 L147.5,533.8 L148.1,533.2 L148.7,532.7 L149.3,532.1 L149.9,531.5 L150.5,530.9 L151.1,530.3 L151.7,529.7 L152.3,529.1 L152.9,528.4 L153.5,527.8 L154.1,527.1 L154.7,526.4 L155.3,525.7 L155.9,525 L156.5,524.3 L157.1,523.6 L157.7,522.9 L158.3,522.2 L158.9,521.4 L159.5,520.7 L160.1,520 L160.7,519.2 L161.3,518.5 L161.9,517.7 L162.5,516.9 L163.1,516.2 L163.7,515.4 L164.3,514.6 L164.9,513.8 L165.5,513 L166.1,512.2 L166.7,511.4 L167.3,510.6 L167.9,509.8 L168.5,508.9 L169.1,508.1 L169.7,507.2 L170.3,506.4 L170.9,505.5 L171.5,504.7 L172.1,503.8 L172.7,502.9 L173.3,502 L173.9,501.1 L174.5,500.2 L175.1,499.3 L175.7,498.4 L176.3,497.5 L176.9,496.6 L177.5,495.6 L178.1,494.7 L178.7,493.7 L179.3,492.8 L179.9,491.8 L180.5,490.8 L181.1,489.8 L181.7,488.8 L182.3,487.8 L182.9,486.7 L183.5,485.7 L184.1,484.7 L184.7,483.6 L185.3,482.6 L185.9,481.5 L186.5,480.5 L187.1,479.4 L187.7,478.3 L188.3,477.2 L188.9,476.2 L189.5,475.1 L190.1,474 L190.7,472.9 L191.3,471.8 L191.9,470.7 L192.5,469.6 L193.1,468.5 L193.7,467.4 L194.3,466.3 L194.9,465.2 L195.5,464.2 L196.1,463.1 L196.7,462 L197.3,460.9 L197.9,459.8 L198.5,458.7 L199.1,457.7 L199.7,456.6 L200.3,455.5" fill="none" stroke="#a07aaa" stroke-width="1"/>
<path d="M31.1,456.5 L31.7,456.8 L32.3,457 L32.9,457.2 L33.5,457.4 L34.1,457.6 L34.7,457.7 L35.3,457.9 L35.9,458.1 L36.5,458.3 L37.1,458.5 L37.7,458.7 L38.3,458.8 L38.9,459 L39.5,459.2 L40.1,459.4 L40.7,459.5 L41.3,459.7 L41.9,459.9 L42.5,460.1 L43.1,460.3 L43.7,460.5 L44.3,460.7 L44.9,460.9 L45.5,461.1 L46.1,461.3 L46.7,461.5 L47.3,461.7 L47.9,462 L48.5,462.2 L49.1,462.5 L49.7,462.7 L50.3,463 L50.9,463.3 L51.5,463.6 L52.1,463.9 L52.7,464.2 L53.3,464.6 L53.9,464.9 L54.5,465.3 L55.1,465.6 L55.7,466 L56.3,466.4 L56.9,466.8 L57.5,467.2 L58.1,467.7 L58.7,468.1 L59.3,468.5 L59.9,469 L60.5,469.4 L61.1,469.9 L61.7,470.3 L62.3,470.8 L62.9,471.3 L63.5,471.8 L64.1,472.2 L64.7,472.7 L65.3,473.2 L65.9,473.8 L66.5,474.3 L67.1,474.8 L67.7,475.3 L68.3,475.9 L68.9,476.4 L69.5,477 L70.1,477.5 L70.7,478.1 L71.3,478.7 L71.9,479.3 L72.5,479.8 L73.1,480.4 L73.7,481 L74.3,481.6 L74.9,482.2 L75.5,482.8 L76.1,483.4 L76.7,484 L77.3,484.7 L77.9,485.3 L78.5,485.9 L79.1,486.6 L79.7,487.2 L80.3,487.9 L80.9,488.6 L81.5,489.2 L82.1,489.9 L82.7,490.6 L83.3,491.3 L83.9,492 L84.5,492.7 L85.1,493.4 L85.7,494.1 L86.3,494.9 L86.9,495.6 L87.5,496.3 L88.1,497.1 L88.7,497.8 L89.3,498.6 L89.9,499.3 L90.5,500.1 L91.1,500.9 L91.7,501.6 L92.3,502.4 L92.9,503.2 L93.5,504 L94.1,504.8 L94.7,505.6 L95.3,506.4 L95.9,507.3 L96.5,508.1 L97.1,509 L97.7,509.9 L98.3,510.8 L98.9,511.8 L99.5,512.8 L100.1,513.7 L100.7,514.7 L101.3,515.7 L101.9,516.7 L102.5,517.7 L103.1,518.7 L103.7,519.8 L104.3,520.8 L104.9,521.8 L105.5,522.8 L106.1,523.8 L106.7,524.8 L107.3,525.7 L107.9,526.7 L108.5,527.6 L109.1,528.6 L109.7,529.5 L110.3,530.3 L110.9,531.2 L111.5,532 L112.1,532.9 L112.7,533.7 L113.3,534.5 L113.9,535.3 L114.5,536.1 L115.1,536.9 L115.7,537.6 L116.3,538.4 L116.9,539.1 L117.5,539.9 L118.1,540.6 L118.7,541.3 L119.3,542 L119.9,542.6 L120.5,543.3 L121.1,543.9 L121.7,544.6 L122.3,545.2 L122.9,545.7 L123.5,546.3 L124.1,546.9 L124.7,547.4 L125.3,547.9 L125.9,548.3 L126.5,548.8 L127.1,549.2 L127.7,549.6 L128.3,550 L128.9,550.4 L129.5,550.7 L130.1,551 L130.7,551.3 L131.3,551.5 L131.9,551.7 L132.5,551.9 L133.1,552.1 L133.7,552.2 L134.3,552.4 L134.9,552.4 L135.5,552.5 L136.1,552.5 L136.7,552.5 L137.3,552.5 L137.9,552.5 L138.5,552.4 L139.1,552.3 L139.7,552.2 L140.3,552 L140.9,551.8 L141.5,551.6 L142.1,551.4 L142.7,551.1 L143.3,550.8 L143.9,550.5 L144.5,550.2 L145.1,549.8 L145.7,549.5 L146.3,549.1 L146.9,548.7 L147.5,548.2 L148.1,547.8 L148.7,547.3 L149.3,546.9 L149.9,546.4 L150.5,545.9 L151.1,545.3 L151.7,544.8 L152.3,544.2 L152.9,543.6 L153.5,543 L154.1,542.4 L154.7,541.8 L155.3,541.1 L155.9,540.5 L156.5,539.8 L157.1,539.1 L157.7,538.4 L158.3,537.7 L158.9,537 L159.5,536.3 L160.1,535.6 L160.7,534.9 L161.3,534.2 L161.9,533.5 L162.5,532.8 L163.1,532 L163.7,531.3 L164.3,530.6 L164.9,529.8 L165.5,529.1 L166.1,528.3 L166.7,527.5 L167.3,526.8 L167.9,526 L168.5,525.2 L169.1,524.4 L169.7,523.6 L170.3,522.8 L170.9,522 L171.5,521.1 L172.1,520.3 L172.7,519.4 L173.3,518.6 L173.9,517.7 L174.5,516.8 L175.1,515.9 L175.7,514.9 L176.3,514 L176.9,513 L177.5,512.1 L178.1,511.1 L178.7,510.1 L179.3,509.1 L179.9,508.1 L180.5,507 L181.1,505.9 L181.7,504.9 L182.3,503.8 L182.9,502.7 L183.5,501.6 L184.1,500.4 L184.7,499.3 L185.3,498.2 L185.9,497 L186.5,495.8 L187.1,494.7 L187.7,493.5 L188.3,492.3 L188.9,491.1 L189.5,489.9 L190.1,488.7 L190.7,487.5 L191.3,486.3 L191.9,485.1 L192.5,483.9 L193.1,482.7 L193.7,481.5 L194.3,480.3 L194.9,479.1 L195.5,477.9 L196.1,476.7 L196.7,475.5 L197.3,474.3 L197.9,473.1 L198.5,471.9 L199.1,470.7 L199.7,469.5 L200.3,468.4 L200.3,475.8 L199.7,476.9 L199.1,478 L198.5,479.2 L197.9,480.3 L197.3,481.5 L196.7,482.6 L196.1,483.8 L195.5,485 L194.9,486.1 L194.3,487.3 L193.7,488.5 L193.1,489.7 L192.5,490.8 L191.9,492 L191.3,493.2 L190.7,494.4 L190.1,495.5 L189.5,496.7 L188.9,497.9 L188.3,499 L187.7,500.2 L187.1,501.3 L186.5,502.5 L185.9,503.6 L185.3,504.7 L184.7,505.8 L184.1,506.9 L183.5,508 L182.9,509.1 L182.3,510.2 L181.7,511.2 L181.1,512.3 L180.5,513.3 L179.9,514.3 L179.3,515.3 L178.7,516.3 L178.1,517.3 L177.5,518.2 L176.9,519.1 L176.3,520.1 L175.7,521 L175.1,521.8 L174.5,522.7 L173.9,523.6 L173.3,524.4 L172.7,525.3 L172.1,526.1 L171.5,526.9 L170.9,527.7 L170.3,528.5 L169.7,529.3 L169.1,530.1 L168.5,530.8 L167.9,531.6 L167.3,532.3 L166.7,533.1 L166.1,533.8 L165.5,534.5 L164.9,535.2 L164.3,535.9 L163.7,536.7 L163.1,537.4 L162.5,538 L161.9,538.7 L161.3,539.4 L160.7,540.1 L160.1,540.8 L159.5,541.4 L158.9,542.1 L158.3,542.8 L157.7,543.4 L157.1,544.1 L156.5,544.8 L155.9,545.4 L155.3,546 L154.7,546.6 L154.1,547.2 L153.5,547.8 L152.9,548.4 L152.3,548.9 L151.7,549.5 L151.1,550 L150.5,550.5 L149.9,551 L149.3,551.5 L148.7,551.9 L148.1,552.4 L147.5,552.8 L146.9,553.3 L146.3,553.7 L145.7,554.1 L145.1,554.4 L144.5,554.8 L143.9,555.1 L143.3,555.4 L142.7,555.7 L142.1,556 L141.5,556.2 L140.9,556.4 L140.3,556.6 L139.7,556.8 L139.1,556.9 L138.5,557 L137.9,557.1 L137.3,557.1 L136.7,557.1 L136.1,557.1 L135.5,557.1 L134.9,557 L134.3,557 L133.7,556.8 L133.1,556.7 L132.5,556.5 L131.9,556.3 L131.3,556.1 L130.7,555.9 L130.1,555.6 L129.5,555.3 L128.9,555 L128.3,554.6 L127.7,554.2 L127.1,553.8 L126.5,553.4 L125.9,552.9 L125.3,552.5 L124.7,552 L124.1,551.5 L123.5,550.9 L122.9,550.3 L122.3,549.8 L121.7,549.2 L121.1,548.5 L120.5,547.9 L119.9,547.2 L119.3,546.6 L118.7,545.9 L118.1,545.2 L117.5,544.5 L116.9,543.7 L116.3,543 L115.7,542.2 L115.1,541.5 L114.5,540.7 L113.9,539.9 L113.3,539.1 L112.7,538.3 L112.1,537.5 L111.5,536.6 L110.9,535.8 L110.3,534.9 L109.7,534.1 L109.1,533.2 L108.5,532.2 L107.9,531.3 L107.3,530.3 L106.7,529.4 L106.1,528.4 L105.5,527.4 L104.9,526.4 L104.3,525.4 L103.7,524.4 L103.1,523.3 L102.5,522.3 L101.9,521.3 L101.3,520.3 L100.7,519.3 L100.1,518.3 L99.5,517.4 L98.9,516.4 L98.3,515.4 L97.7,514.5 L97.1,513.6 L96.5,512.7 L95.9,511.9 L95.3,511 L94.7,510.2 L94.1,509.4 L93.5,508.6 L92.9,507.8 L92.3,507 L91.7,506.2 L91.1,505.5 L90.5,504.7 L89.9,503.9 L89.3,503.2 L88.7,502.4 L88.1,501.7 L87.5,500.9 L86.9,500.2 L86.3,499.5 L85.7,498.7 L85.1,498 L84.5,497.3 L83.9,496.6 L83.3,495.9 L82.7,495.2 L82.1,494.5 L81.5,493.8 L80.9,493.2 L80.3,492.5 L79.7,491.8 L79.1,491.2 L78.5,490.5 L77.9,489.9 L77.3,489.3 L76.7,488.6 L76.1,488 L75.5,487.4 L74.9,486.8 L74.3,486.2 L73.7,485.6 L73.1,485 L72.5,484.4 L71.9,483.9 L71.3,483.3 L70.7,482.7 L70.1,482.1 L69.5,481.6 L68.9,481 L68.3,480.5 L67.7,479.9 L67.1,479.4 L66.5,478.9 L65.9,478.4 L65.3,477.8 L64.7,477.3 L64.1,476.8 L63.5,476.4 L62.9,475.9 L62.3,475.4 L61.7,474.9 L61.1,474.5 L60.5,474 L59.9,473.6 L59.3,473.2 L58.7,472.7 L58.1,472.3 L57.5,471.9 L56.9,471.6 L56.3,471.2 L55.7,470.8 L55.1,470.5 L54.5,470.1 L53.9,469.8 L53.3,469.5 L52.7,469.2 L52.1,468.9 L51.5,468.6 L50.9,468.3 L50.3,468.1 L49.7,467.8 L49.1,467.6 L48.5,467.3 L47.9,467.1 L47.3,466.9 L46.7,466.7 L46.1,466.5 L45.5,466.3 L44.9,466.2 L44.3,466 L43.7,465.8 L43.1,465.6 L42.5,465.5 L41.9,465.3 L41.3,465.2 L40.7,465 L40.1,464.9 L39.5,464.7 L38.9,464.6 L38.3,464.4 L37.7,464.3 L37.1,464.1 L36.5,464 L35.9,463.8 L35.3,463.7 L34.7,463.5 L34.1,463.3 L33.5,463.2 L32.9,463 L32.3,462.8 L31.7,462.7 L31.1,462.5Z" fill="#c4a5c9"/>
<path d="M31.1,459.5 L31.7,459.7 L32.3,459.9 L32.9,460.1 L33.5,460.3 L34.1,460.5 L34.7,460.6 L35.3,460.8 L35.9,461 L36.5,461.1 L37.1,461.3 L37.7,461.5 L38.3,461.6 L38.9,461.8 L39.5,461.9 L40.1,462.1 L40.7,462.3 L41.3,462.4 L41.9,462.6 L42.5,462.8 L43.1,463 L43.7,463.1 L44.3,463.3 L44.9,463.5 L45.5,463.7 L46.1,463.9 L46.7,464.1 L47.3,464.3 L47.9,464.6 L48.5,464.8 L49.1,465 L49.7,465.3 L50.3,465.5 L50.9,465.8 L51.5,466.1 L52.1,466.4 L52.7,466.7 L53.3,467 L53.9,467.4 L54.5,467.7 L55.1,468.1 L55.7,468.4 L56.3,468.8 L56.9,469.2 L57.5,469.6 L58.1,470 L58.7,470.4 L59.3,470.8 L59.9,471.3 L60.5,471.7 L61.1,472.2 L61.7,472.6 L62.3,473.1 L62.9,473.6 L63.5,474.1 L64.1,474.5 L64.7,475 L65.3,475.5 L65.9,476.1 L66.5,476.6 L67.1,477.1 L67.7,477.6 L68.3,478.2 L68.9,478.7 L69.5,479.3 L70.1,479.8 L70.7,480.4 L71.3,481 L71.9,481.6 L72.5,482.1 L73.1,482.7 L73.7,483.3 L74.3,483.9 L74.9,484.5 L75.5,485.1 L76.1,485.7 L76.7,486.3 L77.3,487 L77.9,487.6 L78.5,488.2 L79.1,488.9 L79.7,489.5 L80.3,490.2 L80.9,490.9 L81.5,491.5 L82.1,492.2 L82.7,492.9 L83.3,493.6 L83.9,494.3 L84.5,495 L85.1,495.7 L85.7,496.4 L86.3,497.2 L86.9,497.9 L87.5,498.6 L88.1,499.4 L88.7,500.1 L89.3,500.9 L89.9,501.6 L90.5,502.4 L91.1,503.2 L91.7,503.9 L92.3,504.7 L92.9,505.5 L93.5,506.3 L94.1,507.1 L94.7,507.9 L95.3,508.7 L95.9,509.6 L96.5,510.4 L97.1,511.3 L97.7,512.2 L98.3,513.1 L98.9,514.1 L99.5,515.1 L100.1,516 L100.7,517 L101.3,518 L101.9,519 L102.5,520 L103.1,521 L103.7,522.1 L104.3,523.1 L104.9,524.1 L105.5,525.1 L106.1,526.1 L106.7,527.1 L107.3,528 L107.9,529 L108.5,529.9 L109.1,530.9 L109.7,531.8 L110.3,532.6 L110.9,533.5 L111.5,534.3 L112.1,535.2 L112.7,536 L113.3,536.8 L113.9,537.6 L114.5,538.4 L115.1,539.2 L115.7,539.9 L116.3,540.7 L116.9,541.4 L117.5,542.2 L118.1,542.9 L118.7,543.6 L119.3,544.3 L119.9,544.9 L120.5,545.6 L121.1,546.2 L121.7,546.9 L122.3,547.5 L122.9,548 L123.5,548.6 L124.1,549.2 L124.7,549.7 L125.3,550.2 L125.9,550.6 L126.5,551.1 L127.1,551.5 L127.7,551.9 L128.3,552.3 L128.9,552.7 L129.5,553 L130.1,553.3 L130.7,553.6 L131.3,553.8 L131.9,554 L132.5,554.2 L133.1,554.4 L133.7,554.5 L134.3,554.7 L134.9,554.7 L135.5,554.8 L136.1,554.8 L136.7,554.8 L137.3,554.8 L137.9,554.8 L138.5,554.7 L139.1,554.6 L139.7,554.5 L140.3,554.3 L140.9,554.1 L141.5,553.9 L142.1,553.7 L142.7,553.4 L143.3,553.1 L143.9,552.8 L144.5,552.5 L145.1,552.1 L145.7,551.8 L146.3,551.4 L146.9,551 L147.5,550.5 L148.1,550.1 L148.7,549.6 L149.3,549.2 L149.9,548.7 L150.5,548.2 L151.1,547.7 L151.7,547.1 L152.3,546.6 L152.9,546 L153.5,545.4 L154.1,544.8 L154.7,544.2 L155.3,543.6 L155.9,542.9 L156.5,542.3 L157.1,541.6 L157.7,540.9 L158.3,540.3 L158.9,539.6 L159.5,538.9 L160.1,538.2 L160.7,537.5 L161.3,536.8 L161.9,536.1 L162.5,535.4 L163.1,534.7 L163.7,534 L164.3,533.3 L164.9,532.5 L165.5,531.8 L166.1,531.1 L166.7,530.3 L167.3,529.6 L167.9,528.8 L168.5,528 L169.1,527.2 L169.7,526.5 L170.3,525.7 L170.9,524.8 L171.5,524 L172.1,523.2 L172.7,522.3 L173.3,521.5 L173.9,520.6 L174.5,519.7 L175.1,518.9 L175.7,517.9 L176.3,517 L176.9,516.1 L177.5,515.1 L178.1,514.2 L178.7,513.2 L179.3,512.2 L179.9,511.2 L180.5,510.1 L181.1,509.1 L181.7,508 L182.3,507 L182.9,505.9 L183.5,504.8 L184.1,503.7 L184.7,502.6 L185.3,501.4 L185.9,500.3 L186.5,499.1 L187.1,498 L187.7,496.8 L188.3,495.7 L188.9,494.5 L189.5,493.3 L190.1,492.1 L190.7,490.9 L191.3,489.7 L191.9,488.6 L192.5,487.4 L193.1,486.2 L193.7,485 L194.3,483.8 L194.9,482.6 L195.5,481.4 L196.1,480.2 L196.7,479 L197.3,477.9 L197.9,476.7 L198.5,475.5 L199.1,474.4 L199.7,473.2 L200.3,472.1" fill="none" stroke="#8a4f8c" stroke-width="1"/>
<path d="M31.1,459.3 L31.7,459.5 L32.3,459.7 L32.9,459.9 L33.5,460 L34.1,460.2 L34.7,460.4 L35.3,460.6 L35.9,460.7 L36.5,460.9 L37.1,461 L37.7,461.2 L38.3,461.3 L38.9,461.5 L39.5,461.6 L40.1,461.8 L40.7,462 L41.3,462.1 L41.9,462.3 L42.5,462.4 L43.1,462.6 L43.7,462.8 L44.3,463 L44.9,463.1 L45.5,463.3 L46.1,463.5 L46.7,463.7 L47.3,463.9 L47.9,464.2 L48.5,464.4 L49.1,464.6 L49.7,464.9 L50.3,465.1 L50.9,465.4 L51.5,465.7 L52.1,466 L52.7,466.3 L53.3,466.6 L53.9,467 L54.5,467.3 L55.1,467.7 L55.7,468.1 L56.3,468.5 L56.9,468.9 L57.5,469.3 L58.1,469.7 L58.7,470.1 L59.3,470.5 L59.9,471 L60.5,471.4 L61.1,471.9 L61.7,472.3 L62.3,472.8 L62.9,473.3 L63.5,473.8 L64.1,474.2 L64.7,474.7 L65.3,475.3 L65.9,475.8 L66.5,476.3 L67.1,476.8 L67.7,477.4 L68.3,477.9 L68.9,478.5 L69.5,479 L70.1,479.6 L70.7,480.1 L71.3,480.7 L71.9,481.3 L72.5,481.9 L73.1,482.5 L73.7,483.1 L74.3,483.7 L74.9,484.3 L75.5,484.9 L76.1,485.5 L76.7,486.2 L77.3,486.8 L77.9,487.5 L78.5,488.1 L79.1,488.8 L79.7,489.4 L80.3,490.1 L80.9,490.8 L81.5,491.4 L82.1,492.1 L82.7,492.8 L83.3,493.5 L83.9,494.3 L84.5,495 L85.1,495.7 L85.7,496.4 L86.3,497.2 L86.9,497.9 L87.5,498.7 L88.1,499.5 L88.7,500.2 L89.3,501 L89.9,501.8 L90.5,502.6 L91.1,503.4 L91.7,504.2 L92.3,505.1 L92.9,505.9 L93.5,506.7 L94.1,507.6 L94.7,508.5 L95.3,509.3 L95.9,510.3 L96.5,511.2 L97.1,512.2 L97.7,513.2 L98.3,514.2 L98.9,515.3 L99.5,516.4 L100.1,517.5 L100.7,518.6 L101.3,519.7 L101.9,520.8 L102.5,522 L103.1,523.1 L103.7,524.3 L104.3,525.5 L104.9,526.6 L105.5,527.7 L106.1,528.9 L106.7,530 L107.3,531.1 L107.9,532.2 L108.5,533.2 L109.1,534.3 L109.7,535.3 L110.3,536.3 L110.9,537.2 L111.5,538.1 L112.1,539.1 L112.7,540 L113.3,540.9 L113.9,541.7 L114.5,542.6 L115.1,543.5 L115.7,544.3 L116.3,545.1 L116.9,545.9 L117.5,546.7 L118.1,547.5 L118.7,548.2 L119.3,549 L119.9,549.7 L120.5,550.4 L121.1,551 L121.7,551.7 L122.3,552.3 L122.9,552.9 L123.5,553.5 L124.1,554.1 L124.7,554.6 L125.3,555.1 L125.9,555.6 L126.5,556.1 L127.1,556.5 L127.7,556.9 L128.3,557.3 L128.9,557.7 L129.5,558 L130.1,558.4 L130.7,558.7 L131.3,558.9 L131.9,559.2 L132.5,559.4 L133.1,559.6 L133.7,559.8 L134.3,559.9 L134.9,560 L135.5,560.1 L136.1,560.2 L136.7,560.3 L137.3,560.3 L137.9,560.2 L138.5,560.2 L139.1,560.1 L139.7,560 L140.3,559.9 L140.9,559.8 L141.5,559.6 L142.1,559.4 L142.7,559.2 L143.3,559 L143.9,558.8 L144.5,558.6 L145.1,558.3 L145.7,558 L146.3,557.8 L146.9,557.5 L147.5,557.2 L148.1,556.9 L148.7,556.6 L149.3,556.3 L149.9,555.9 L150.5,555.5 L151.1,555.1 L151.7,554.7 L152.3,554.3 L152.9,553.8 L153.5,553.3 L154.1,552.8 L154.7,552.2 L155.3,551.6 L155.9,551 L156.5,550.4 L157.1,549.7 L157.7,549 L158.3,548.3 L158.9,547.5 L159.5,546.8 L160.1,546.1 L160.7,545.4 L161.3,544.6 L161.9,543.9 L162.5,543.1 L163.1,542.4 L163.7,541.6 L164.3,540.9 L164.9,540.1 L165.5,539.3 L166.1,538.5 L166.7,537.7 L167.3,536.9 L167.9,536.1 L168.5,535.3 L169.1,534.5 L169.7,533.6 L170.3,532.8 L170.9,531.9 L171.5,531.1 L172.1,530.2 L172.7,529.3 L173.3,528.4 L173.9,527.5 L174.5,526.6 L175.1,525.7 L175.7,524.8 L176.3,523.8 L176.9,522.9 L177.5,521.9 L178.1,520.9 L178.7,519.9 L179.3,518.9 L179.9,517.9 L180.5,516.9 L181.1,515.9 L181.7,514.8 L182.3,513.7 L182.9,512.7 L183.5,511.6 L184.1,510.5 L184.7,509.4 L185.3,508.3 L185.9,507.2 L186.5,506 L187.1,504.9 L187.7,503.8 L188.3,502.6 L188.9,501.5 L189.5,500.3 L190.1,499.2 L190.7,498 L191.3,496.8 L191.9,495.7 L192.5,494.5 L193.1,493.4 L193.7,492.2 L194.3,491 L194.9,489.9 L195.5,488.7 L196.1,487.5 L196.7,486.4 L197.3,485.2 L197.9,484.1 L198.5,483 L199.1,481.8 L199.7,480.7 L200.3,479.6 L200.3,488.5 L199.7,489.6 L199.1,490.7 L198.5,491.8 L197.9,492.9 L197.3,494 L196.7,495.1 L196.1,496.2 L195.5,497.4 L194.9,498.5 L194.3,499.6 L193.7,500.7 L193.1,501.9 L192.5,503 L191.9,504.1 L191.3,505.2 L190.7,506.3 L190.1,507.5 L189.5,508.6 L188.9,509.7 L188.3,510.8 L187.7,511.9 L187.1,513 L186.5,514.1 L185.9,515.2 L185.3,516.3 L184.7,517.3 L184.1,518.4 L183.5,519.4 L182.9,520.5 L182.3,521.5 L181.7,522.5 L181.1,523.6 L180.5,524.6 L179.9,525.5 L179.3,526.5 L178.7,527.5 L178.1,528.4 L177.5,529.4 L176.9,530.3 L176.3,531.2 L175.7,532.1 L175.1,533 L174.5,533.9 L173.9,534.7 L173.3,535.6 L172.7,536.4 L172.1,537.3 L171.5,538.1 L170.9,538.9 L170.3,539.7 L169.7,540.6 L169.1,541.3 L168.5,542.1 L167.9,542.9 L167.3,543.7 L166.7,544.4 L166.1,545.2 L165.5,545.9 L164.9,546.7 L164.3,547.4 L163.7,548.2 L163.1,548.9 L162.5,549.6 L161.9,550.3 L161.3,551 L160.7,551.7 L160.1,552.4 L159.5,553.1 L158.9,553.7 L158.3,554.4 L157.7,555.1 L157.1,555.8 L156.5,556.4 L155.9,557 L155.3,557.6 L154.7,558.1 L154.1,558.6 L153.5,559.1 L152.9,559.6 L152.3,560 L151.7,560.4 L151.1,560.8 L150.5,561.2 L149.9,561.5 L149.3,561.9 L148.7,562.2 L148.1,562.5 L147.5,562.8 L146.9,563.1 L146.3,563.4 L145.7,563.6 L145.1,563.9 L144.5,564.2 L143.9,564.4 L143.3,564.6 L142.7,564.8 L142.1,565 L141.5,565.2 L140.9,565.4 L140.3,565.5 L139.7,565.6 L139.1,565.7 L138.5,565.8 L137.9,565.8 L137.3,565.9 L136.7,565.9 L136.1,565.8 L135.5,565.7 L134.9,565.6 L134.3,565.5 L133.7,565.4 L133.1,565.2 L132.5,565 L131.9,564.8 L131.3,564.5 L130.7,564.3 L130.1,564 L129.5,563.6 L128.9,563.3 L128.3,562.9 L127.7,562.5 L127.1,562.1 L126.5,561.7 L125.9,561.2 L125.3,560.7 L124.7,560.2 L124.1,559.7 L123.5,559.1 L122.9,558.5 L122.3,557.9 L121.7,557.3 L121.1,556.6 L120.5,556 L119.9,555.3 L119.3,554.6 L118.7,553.8 L118.1,553.1 L117.5,552.3 L116.9,551.5 L116.3,550.7 L115.7,549.9 L115.1,549.1 L114.5,548.2 L113.9,547.3 L113.3,546.5 L112.7,545.6 L112.1,544.7 L111.5,543.7 L110.9,542.8 L110.3,541.9 L109.7,540.9 L109.1,539.9 L108.5,538.8 L107.9,537.8 L107.3,536.7 L106.7,535.6 L106.1,534.5 L105.5,533.3 L104.9,532.2 L104.3,531.1 L103.7,529.9 L103.1,528.7 L102.5,527.6 L101.9,526.4 L101.3,525.3 L100.7,524.2 L100.1,523.1 L99.5,522 L98.9,520.9 L98.3,519.8 L97.7,518.8 L97.1,517.8 L96.5,516.8 L95.9,515.9 L95.3,514.9 L94.7,514.1 L94.1,513.2 L93.5,512.3 L92.9,511.5 L92.3,510.7 L91.7,509.8 L91.1,509 L90.5,508.2 L89.9,507.4 L89.3,506.6 L88.7,505.8 L88.1,505.1 L87.5,504.3 L86.9,503.5 L86.3,502.8 L85.7,502 L85.1,501.3 L84.5,500.6 L83.9,499.9 L83.3,499.1 L82.7,498.4 L82.1,497.7 L81.5,497 L80.9,496.4 L80.3,495.7 L79.7,495 L79.1,494.4 L78.5,493.7 L77.9,493.1 L77.3,492.4 L76.7,491.8 L76.1,491.1 L75.5,490.5 L74.9,489.9 L74.3,489.3 L73.7,488.7 L73.1,488.1 L72.5,487.5 L71.9,486.9 L71.3,486.3 L70.7,485.7 L70.1,485.2 L69.5,484.6 L68.9,484.1 L68.3,483.5 L67.7,483 L67.1,482.4 L66.5,481.9 L65.9,481.4 L65.3,480.9 L64.7,480.3 L64.1,479.8 L63.5,479.4 L62.9,478.9 L62.3,478.4 L61.7,477.9 L61.1,477.5 L60.5,477 L59.9,476.6 L59.3,476.2 L58.7,475.8 L58.1,475.4 L57.5,475 L56.9,474.6 L56.3,474.3 L55.7,473.9 L55.1,473.6 L54.5,473.2 L53.9,472.9 L53.3,472.6 L52.7,472.3 L52.1,472 L51.5,471.8 L50.9,471.5 L50.3,471.3 L49.7,471.1 L49.1,470.8 L48.5,470.6 L47.9,470.4 L47.3,470.3 L46.7,470.1 L46.1,469.9 L45.5,469.7 L44.9,469.6 L44.3,469.4 L43.7,469.3 L43.1,469.2 L42.5,469 L41.9,468.9 L41.3,468.8 L40.7,468.6 L40.1,468.5 L39.5,468.4 L38.9,468.3 L38.3,468.2 L37.7,468 L37.1,467.9 L36.5,467.8 L35.9,467.7 L35.3,467.5 L34.7,467.4 L34.1,467.3 L33.5,467.1 L32.9,467 L32.3,466.8 L31.7,466.7 L31.1,466.5Z" fill="#a78fc1"/>
<path d="M31.1,462.9 L31.7,463.1 L32.3,463.3 L32.9,463.4 L33.5,463.6 L34.1,463.7 L34.7,463.9 L35.3,464 L35.9,464.2 L36.5,464.3 L37.1,464.5 L37.7,464.6 L38.3,464.7 L38.9,464.9 L39.5,465 L40.1,465.2 L40.7,465.3 L41.3,465.4 L41.9,465.6 L42.5,465.7 L43.1,465.9 L43.7,466 L44.3,466.2 L44.9,466.4 L45.5,466.5 L46.1,466.7 L46.7,466.9 L47.3,467.1 L47.9,467.3 L48.5,467.5 L49.1,467.7 L49.7,468 L50.3,468.2 L50.9,468.5 L51.5,468.7 L52.1,469 L52.7,469.3 L53.3,469.6 L53.9,470 L54.5,470.3 L55.1,470.6 L55.7,471 L56.3,471.4 L56.9,471.7 L57.5,472.1 L58.1,472.5 L58.7,472.9 L59.3,473.4 L59.9,473.8 L60.5,474.2 L61.1,474.7 L61.7,475.1 L62.3,475.6 L62.9,476.1 L63.5,476.6 L64.1,477 L64.7,477.5 L65.3,478.1 L65.9,478.6 L66.5,479.1 L67.1,479.6 L67.7,480.2 L68.3,480.7 L68.9,481.3 L69.5,481.8 L70.1,482.4 L70.7,482.9 L71.3,483.5 L71.9,484.1 L72.5,484.7 L73.1,485.3 L73.7,485.9 L74.3,486.5 L74.9,487.1 L75.5,487.7 L76.1,488.3 L76.7,489 L77.3,489.6 L77.9,490.3 L78.5,490.9 L79.1,491.6 L79.7,492.2 L80.3,492.9 L80.9,493.6 L81.5,494.2 L82.1,494.9 L82.7,495.6 L83.3,496.3 L83.9,497.1 L84.5,497.8 L85.1,498.5 L85.7,499.2 L86.3,500 L86.9,500.7 L87.5,501.5 L88.1,502.3 L88.7,503 L89.3,503.8 L89.9,504.6 L90.5,505.4 L91.1,506.2 L91.7,507 L92.3,507.9 L92.9,508.7 L93.5,509.5 L94.1,510.4 L94.7,511.3 L95.3,512.1 L95.9,513.1 L96.5,514 L97.1,515 L97.7,516 L98.3,517 L98.9,518.1 L99.5,519.2 L100.1,520.3 L100.7,521.4 L101.3,522.5 L101.9,523.6 L102.5,524.8 L103.1,525.9 L103.7,527.1 L104.3,528.3 L104.9,529.4 L105.5,530.5 L106.1,531.7 L106.7,532.8 L107.3,533.9 L107.9,535 L108.5,536 L109.1,537.1 L109.7,538.1 L110.3,539.1 L110.9,540 L111.5,540.9 L112.1,541.9 L112.7,542.8 L113.3,543.7 L113.9,544.5 L114.5,545.4 L115.1,546.3 L115.7,547.1 L116.3,547.9 L116.9,548.7 L117.5,549.5 L118.1,550.3 L118.7,551 L119.3,551.8 L119.9,552.5 L120.5,553.2 L121.1,553.8 L121.7,554.5 L122.3,555.1 L122.9,555.7 L123.5,556.3 L124.1,556.9 L124.7,557.4 L125.3,557.9 L125.9,558.4 L126.5,558.9 L127.1,559.3 L127.7,559.7 L128.3,560.1 L128.9,560.5 L129.5,560.8 L130.1,561.2 L130.7,561.5 L131.3,561.7 L131.9,562 L132.5,562.2 L133.1,562.4 L133.7,562.6 L134.3,562.7 L134.9,562.8 L135.5,562.9 L136.1,563 L136.7,563.1 L137.3,563.1 L137.9,563 L138.5,563 L139.1,562.9 L139.7,562.8 L140.3,562.7 L140.9,562.6 L141.5,562.4 L142.1,562.2 L142.7,562 L143.3,561.8 L143.9,561.6 L144.5,561.4 L145.1,561.1 L145.7,560.8 L146.3,560.6 L146.9,560.3 L147.5,560 L148.1,559.7 L148.7,559.4 L149.3,559.1 L149.9,558.7 L150.5,558.4 L151.1,558 L151.7,557.6 L152.3,557.1 L152.9,556.7 L153.5,556.2 L154.1,555.7 L154.7,555.2 L155.3,554.6 L155.9,554 L156.5,553.4 L157.1,552.7 L157.7,552 L158.3,551.3 L158.9,550.6 L159.5,549.9 L160.1,549.2 L160.7,548.5 L161.3,547.8 L161.9,547.1 L162.5,546.4 L163.1,545.6 L163.7,544.9 L164.3,544.1 L164.9,543.4 L165.5,542.6 L166.1,541.9 L166.7,541.1 L167.3,540.3 L167.9,539.5 L168.5,538.7 L169.1,537.9 L169.7,537.1 L170.3,536.3 L170.9,535.4 L171.5,534.6 L172.1,533.7 L172.7,532.9 L173.3,532 L173.9,531.1 L174.5,530.2 L175.1,529.3 L175.7,528.4 L176.3,527.5 L176.9,526.6 L177.5,525.6 L178.1,524.7 L178.7,523.7 L179.3,522.7 L179.9,521.7 L180.5,520.7 L181.1,519.7 L181.7,518.7 L182.3,517.6 L182.9,516.6 L183.5,515.5 L184.1,514.4 L184.7,513.4 L185.3,512.3 L185.9,511.2 L186.5,510.1 L187.1,508.9 L187.7,507.8 L188.3,506.7 L188.9,505.6 L189.5,504.4 L190.1,503.3 L190.7,502.2 L191.3,501 L191.9,499.9 L192.5,498.7 L193.1,497.6 L193.7,496.5 L194.3,495.3 L194.9,494.2 L195.5,493 L196.1,491.9 L196.7,490.8 L197.3,489.6 L197.9,488.5 L198.5,487.4 L199.1,486.3 L199.7,485.2 L200.3,484" fill="none" stroke="#5b2b78" stroke-width="1"/>
<line x1="31.5" y1="437.5" x2="31.5" y2="587.5" stroke="#333" stroke-width="1" />
<line x1="31.1" y1="587.5" x2="200.6" y2="587.5" stroke="#333" stroke-width="1" />
<line x1="31.1" y1="438.5" x2="33.6" y2="438.5" stroke="#333" stroke-width="1" />
<line x1="31.1" y1="463.5" x2="33.6" y2="463.5" stroke="#333" stroke-width="1" />
<line x1="31.1" y1="488.5" x2="33.6" y2="488.5" stroke="#333" stroke-width="1" />
<line x1="31.1" y1="513.5" x2="33.6" y2="513.5" stroke="#333" stroke-width="1" />
<line x1="31.1" y1="538.5" x2="33.6" y2="538.5" stroke="#333" stroke-width="1" />
<line x1="31.1" y1="563.5" x2="33.6" y2="563.5" stroke="#333" stroke-width="1" />
<text x="27.8" y="466.5" font-size="10" text-anchor="end" fill="#222" >0</text>
<text x="27.8" y="516.5" font-size="10" text-anchor="end" fill="#222" >-0.1</text>
<text x="27.8" y="566.5" font-size="10" text-anchor="end" fill="#222" >-0.2</text>
<line x1="30.5" y1="587.5" x2="30.5" y2="585" stroke="#333" stroke-width="1" />
<line x1="51.5" y1="587.5" x2="51.5" y2="585" stroke="#333" stroke-width="1" />
<line x1="73.5" y1="587.5" x2="73.5" y2="585" stroke="#333" stroke-width="1" />
<line x1="94.5" y1="587.5" x2="94.5" y2="585" stroke="#333" stroke-width="1" />
<line x1="115.5" y1="587.5" x2="115.5" y2="585" stroke="#333" stroke-width="1" />
<line x1="136.5" y1="587.5" x2="136.5" y2="585" stroke="#333" stroke-width="1" />
<line x1="158.5" y1="587.5" x2="158.5" y2="585" stroke="#333" stroke-width="1" />
<line x1="179.5" y1="587.5" x2="179.5" y2="585" stroke="#333" stroke-width="1" />
<line x1="200.5" y1="587.5" x2="200.5" y2="585" stroke="#333" stroke-width="1" />
<text x="31" y="599.5" font-size="10" text-anchor="middle" fill="#222" >-2</text>
<text x="73" y="599.5" font-size="10" text-anchor="middle" fill="#222" >-1</text>
<text x="115.5" y="599.5" font-size="10" text-anchor="middle" fill="#222" >0</text>
<text x="158" y="599.5" font-size="10" text-anchor="middle" fill="#222" >1</text>
<text x="200.5" y="599.5" font-size="10" text-anchor="middle" fill="#222" >2</text>
<text x="118" y="610.2" font-size="10.2" text-anchor="middle" fill="#222" >time from pull max (s)</text>
<text x="9.7" y="515.3" font-size="10" text-anchor="middle" fill="#222" transform="rotate(-90 9.7 515.3)" >ΔF/F (z scored)</text>
<rect x="208" y="432.9" width="12.7" height="7.2" fill="#d4a0b0"/>
<text x="223" y="440.1" font-size="10" text-anchor="start" fill="#222" >2 to 6</text>
<rect x="208" y="449.4" width="12.7" height="7.2" fill="#a888b0"/>
<text x="223" y="456.6" font-size="10" text-anchor="start" fill="#222" >6 to 10</text>
<rect x="208" y="467.2" width="12.7" height="7.2" fill="#8a5a8e"/>
<text x="223" y="474.4" font-size="10" text-anchor="start" fill="#222" >10 to 14</text>
<rect x="208" y="483.8" width="12.7" height="7.2" fill="#5a2d6e"/>
<text x="223" y="491" font-size="10" text-anchor="start" fill="#222" >14 and up</text>
<text x="273" y="434" font-size="15.5" text-anchor="start" fill="#111" font-weight="bold" text-rendering="geometricPrecision">I</text>
<line x1="308.5" y1="449.7" x2="308.5" y2="601.1" stroke="#555" stroke-width="1.2" />
<line x1="303.5" y1="450.5" x2="308.5" y2="450.5" stroke="#444" stroke-width="1" />
<text x="301.3" y="453.6" font-size="10.2" text-anchor="end" fill="#222" >1</text>
<line x1="303.5" y1="487.5" x2="308.5" y2="487.5" stroke="#444" stroke-width="1" />
<text x="301.3" y="491.2" font-size="10.2" text-anchor="end" fill="#222" >0.5</text>
<line x1="303.5" y1="525.5" x2="308.5" y2="525.5" stroke="#444" stroke-width="1" />
<text x="301.3" y="528.8" font-size="10.2" text-anchor="end" fill="#222" >0</text>
<line x1="303.5" y1="563.5" x2="308.5" y2="563.5" stroke="#444" stroke-width="1" />
<text x="301.3" y="566.4" font-size="10.2" text-anchor="end" fill="#222" >-0.5</text>
<line x1="303.5" y1="600.5" x2="308.5" y2="600.5" stroke="#444" stroke-width="1" />
<text x="301.3" y="604" font-size="10.2" text-anchor="end" fill="#222" >-1</text>
<line x1="308.5" y1="525.4" x2="397.2" y2="525.4" stroke="#111" stroke-width="1.1" stroke-dasharray="1.1,2.1"/>
<line x1="321.5" y1="512.4" x2="321.5" y2="519.7" stroke="#eedce2" stroke-width="0.8" stroke-opacity="0.4"/>
<line x1="321.5" y1="547.8" x2="321.5" y2="558.3" stroke="#eedce2" stroke-width="0.8" stroke-opacity="0.4"/>
<path d="M322,519.2 L327.8,533.5 L322.5,548.3 L320.5,548.3 L315.2,533.5 L321,519.2Z" fill="#eedce2" fill-opacity="1"/>
<line x1="315.3" y1="533.7" x2="327.7" y2="533.7" stroke="#dba5b5" stroke-width="2.0" />
<line x1="316.7" y1="530.6" x2="326.3" y2="530.6" stroke="#111" stroke-width="1.2" stroke-dasharray="1,1.2"/>
<line x1="317.3" y1="538.4" x2="325.7" y2="538.4" stroke="#111" stroke-width="1.2" stroke-dasharray="1,1.2"/>
<line x1="342.5" y1="507.4" x2="342.5" y2="525.9" stroke="#ddcbde" stroke-width="0.8" stroke-opacity="0.4"/>
<line x1="342.5" y1="552.8" x2="342.5" y2="567" stroke="#ddcbde" stroke-width="0.8" stroke-opacity="0.4"/>
<path d="M342.5,525.4 L348,536.6 L343,553.3 L341,553.3 L336,536.6 L341.5,525.4Z" fill="#ddcbde" fill-opacity="1"/>
<line x1="336.3" y1="537.6" x2="347.7" y2="537.6" stroke="#ad88b6" stroke-width="2.0" />
<line x1="337.7" y1="533.8" x2="346.3" y2="533.8" stroke="#111" stroke-width="1.2" stroke-dasharray="1,1.2"/>
<line x1="337.9" y1="541.8" x2="346.1" y2="541.8" stroke="#111" stroke-width="1.2" stroke-dasharray="1,1.2"/>
<line x1="362.5" y1="495" x2="362.5" y2="524.7" stroke="#d3bad4" stroke-width="0.8" stroke-opacity="0.4"/>
<line x1="362.5" y1="550.3" x2="362.5" y2="570.7" stroke="#d3bad4" stroke-width="0.8" stroke-opacity="0.4"/>
<path d="M362.6,524.2 L368.3,538.4 L363.3,550.8 L360.9,550.8 L355.9,538.4 L361.6,524.2Z" fill="#d3bad4" fill-opacity="1"/>
<line x1="356.4" y1="539.7" x2="367.8" y2="539.7" stroke="#93558f" stroke-width="2.0" />
<line x1="357.4" y1="535.3" x2="366.8" y2="535.3" stroke="#111" stroke-width="1.2" stroke-dasharray="1,1.2"/>
<line x1="358.6" y1="544.4" x2="365.6" y2="544.4" stroke="#111" stroke-width="1.2" stroke-dasharray="1,1.2"/>
<line x1="382.5" y1="470" x2="382.5" y2="525.9" stroke="#b5a1c8" stroke-width="0.8" stroke-opacity="0.4"/>
<line x1="382.5" y1="554.1" x2="382.5" y2="583" stroke="#b5a1c8" stroke-width="0.8" stroke-opacity="0.4"/>
<path d="M383.1,525.4 L389.1,540.3 L383.8,554.6 L381.4,554.6 L376.1,540.3 L382.1,525.4Z" fill="#b5a1c8" fill-opacity="1"/>
<line x1="376.3" y1="540.9" x2="388.9" y2="540.9" stroke="#5c2a76" stroke-width="2.0" />
<line x1="377.9" y1="536.6" x2="387.3" y2="536.6" stroke="#111" stroke-width="1.2" stroke-dasharray="1,1.2"/>
<line x1="378.3" y1="545.5" x2="386.9" y2="545.5" stroke="#111" stroke-width="1.2" stroke-dasharray="1,1.2"/>
<line x1="321" y1="454.4" x2="340.6" y2="454.4" stroke="#1a1a1a" stroke-width="1.3" />
<text x="330.8" y="454.3" font-size="9.5" text-anchor="middle" fill="#1a1a1a" font-weight="bold" style="font-family:'Noto Sans CJK JP',sans-serif">****</text>
<line x1="343.2" y1="454.4" x2="360.9" y2="454.4" stroke="#1a1a1a" stroke-width="1.3" />
<text x="352" y="454.3" font-size="9.5" text-anchor="middle" fill="#1a1a1a" font-weight="bold" style="font-family:'Noto Sans CJK JP',sans-serif">****</text>
<line x1="363.8" y1="454.4" x2="383" y2="454.4" stroke="#1a1a1a" stroke-width="1.3" />
<text x="373.4" y="451.5" font-size="9" text-anchor="middle" fill="#444" textLength="8" lengthAdjust="spacingAndGlyphs">ns</text>
<text x="282.3" y="515.2" font-size="10.3" text-anchor="middle" fill="#222" transform="rotate(-90 282.3 515.2)" >ΔF/F min (z scored)</text>
<text x="401.3" y="434" font-size="15.5" text-anchor="start" fill="#111" font-weight="bold" text-rendering="geometricPrecision">J</text>
<line x1="443.9" y1="447.3" x2="443.9" y2="602.3" stroke="#666" stroke-width="1.3" />
<line x1="440.1" y1="447.5" x2="443.9" y2="447.5" stroke="#444" stroke-width="1" />
<text x="439" y="452" font-size="10" text-anchor="end" fill="#222" >0.6</text>
<line x1="440.1" y1="486.5" x2="443.9" y2="486.5" stroke="#444" stroke-width="1" />
<text x="439" y="490.5" font-size="10" text-anchor="end" fill="#222" >0.4</text>
<line x1="440.1" y1="524.5" x2="443.9" y2="524.5" stroke="#444" stroke-width="1" />
<text x="439" y="529" font-size="10" text-anchor="end" fill="#222" >0.2</text>
<line x1="440.1" y1="563.5" x2="443.9" y2="563.5" stroke="#444" stroke-width="1" />
<text x="439" y="567.5" font-size="10" text-anchor="end" fill="#222" >0</text>
<line x1="440.1" y1="601.5" x2="443.9" y2="601.5" stroke="#444" stroke-width="1" />
<text x="439" y="606" font-size="10" text-anchor="end" fill="#222" >-0.2</text>
<line x1="457.5" y1="519.7" x2="457.5" y2="531.4" stroke="#eedce2" stroke-width="0.8" stroke-opacity="0.4"/>
<path d="M458,530.9 L458.1,531.4 L458.3,531.9 L458.4,532.4 L458.5,532.9 L458.7,533.4 L458.8,533.9 L459,534.4 L459.1,534.9 L459.2,535.4 L459.4,535.9 L459.5,536.4 L459.7,536.9 L459.8,537.4 L459.9,537.9 L460.1,538.4 L460.2,538.9 L460.3,539.4 L460.5,539.9 L460.6,540.4 L460.8,540.9 L460.9,541.4 L461.1,541.9 L461.2,542.4 L461.4,542.9 L461.6,543.4 L461.7,543.9 L461.9,544.4 L462.1,544.9 L462.2,545.4 L462.4,545.9 L462.6,546.4 L462.7,546.9 L462.8,547.4 L463,547.9 L463.1,548.4 L463.2,548.9 L463.3,549.4 L463.4,549.9 L463.5,550.4 L463.6,550.9 L463.7,551.4 L463.8,551.9 L463.9,552.4 L463.9,552.9 L464,553.4 L464,553.9 L464,554.4 L464,554.9 L463.9,555.4 L463.8,555.9 L463.7,556.4 L463.5,556.9 L463.3,557.4 L463.1,557.9 L462.9,558.4 L462.6,558.9 L462.2,559.4 L461.8,559.9 L461.3,560.4 L460.7,560.9 L459.9,561.4 L458.8,561.9 L458.2,562.2 L456.6,562.2 L456,561.9 L454.9,561.4 L454.1,560.9 L453.5,560.4 L453,559.9 L452.6,559.4 L452.2,558.9 L451.9,558.4 L451.7,557.9 L451.5,557.4 L451.3,556.9 L451.1,556.4 L451,555.9 L450.9,555.4 L450.8,554.9 L450.8,554.4 L450.8,553.9 L450.8,553.4 L450.9,552.9 L450.9,552.4 L451,551.9 L451.1,551.4 L451.2,550.9 L451.3,550.4 L451.4,549.9 L451.5,549.4 L451.6,548.9 L451.7,548.4 L451.8,547.9 L452,547.4 L452.1,546.9 L452.2,546.4 L452.4,545.9 L452.6,545.4 L452.7,544.9 L452.9,544.4 L453.1,543.9 L453.2,543.4 L453.4,542.9 L453.6,542.4 L453.7,541.9 L453.9,541.4 L454,540.9 L454.2,540.4 L454.3,539.9 L454.5,539.4 L454.6,538.9 L454.7,538.4 L454.9,537.9 L455,537.4 L455.1,536.9 L455.3,536.4 L455.4,535.9 L455.6,535.4 L455.7,534.9 L455.8,534.4 L456,533.9 L456.1,533.4 L456.3,532.9 L456.4,532.4 L456.5,531.9 L456.7,531.4 L456.8,530.9Z" fill="#eedce2" fill-opacity="1"/>
<line x1="450.9" y1="552.6" x2="463.9" y2="552.6" stroke="#dba5b5" stroke-width="2.0" />
<line x1="452.4" y1="547" x2="462.4" y2="547" stroke="#111" stroke-width="1.2" stroke-dasharray="1,1.2"/>
<line x1="451.4" y1="556.3" x2="463.4" y2="556.3" stroke="#111" stroke-width="1.2" stroke-dasharray="1,1.2"/>
<line x1="477.5" y1="491.2" x2="477.5" y2="520.2" stroke="#ddcbde" stroke-width="0.8" stroke-opacity="0.4"/>
<path d="M478.1,519.7 L478.2,520.2 L478.3,520.7 L478.4,521.2 L478.5,521.7 L478.6,522.2 L478.7,522.7 L478.8,523.2 L478.9,523.7 L479.1,524.2 L479.2,524.7 L479.3,525.2 L479.4,525.7 L479.5,526.2 L479.6,526.7 L479.8,527.2 L479.9,527.7 L480,528.2 L480.1,528.7 L480.3,529.2 L480.4,529.7 L480.6,530.2 L480.7,530.7 L480.8,531.2 L481,531.7 L481.1,532.2 L481.3,532.7 L481.4,533.2 L481.6,533.7 L481.7,534.2 L481.8,534.7 L482,535.2 L482.1,535.7 L482.2,536.2 L482.3,536.7 L482.4,537.2 L482.6,537.7 L482.7,538.2 L482.8,538.7 L482.9,539.2 L483,539.7 L483.1,540.2 L483.2,540.7 L483.3,541.2 L483.4,541.7 L483.5,542.2 L483.6,542.7 L483.6,543.2 L483.7,543.7 L483.8,544.2 L483.8,544.7 L483.9,545.2 L484,545.7 L484,546.2 L484.1,546.7 L484.1,547.2 L484.2,547.7 L484.2,548.2 L484.2,548.7 L484.3,549.2 L484.3,549.7 L484.3,550.2 L484.3,550.7 L484.3,551.2 L484.3,551.7 L484.2,552.2 L484.2,552.7 L484.1,553.2 L484.1,553.7 L484,554.2 L483.9,554.7 L483.7,555.2 L483.6,555.7 L483.4,556.2 L483.3,556.7 L483,557.2 L482.8,557.7 L482.5,558.2 L482.2,558.7 L481.9,559.2 L481.5,559.7 L481.1,560.2 L480.6,560.7 L479.9,561.2 L479.2,561.7 L478.5,562.2 L478.1,562.5 L476.9,562.5 L476.5,562.2 L475.8,561.7 L475.1,561.2 L474.4,560.7 L473.9,560.2 L473.5,559.7 L473.1,559.2 L472.8,558.7 L472.5,558.2 L472.2,557.7 L472,557.2 L471.7,556.7 L471.6,556.2 L471.4,555.7 L471.3,555.2 L471.1,554.7 L471,554.2 L470.9,553.7 L470.9,553.2 L470.8,552.7 L470.8,552.2 L470.7,551.7 L470.7,551.2 L470.7,550.7 L470.7,550.2 L470.7,549.7 L470.7,549.2 L470.8,548.7 L470.8,548.2 L470.8,547.7 L470.9,547.2 L470.9,546.7 L471,546.2 L471,545.7 L471.1,545.2 L471.2,544.7 L471.2,544.2 L471.3,543.7 L471.4,543.2 L471.4,542.7 L471.5,542.2 L471.6,541.7 L471.7,541.2 L471.8,540.7 L471.9,540.2 L472,539.7 L472.1,539.2 L472.2,538.7 L472.3,538.2 L472.4,537.7 L472.6,537.2 L472.7,536.7 L472.8,536.2 L472.9,535.7 L473,535.2 L473.2,534.7 L473.3,534.2 L473.4,533.7 L473.6,533.2 L473.7,532.7 L473.9,532.2 L474,531.7 L474.2,531.2 L474.3,530.7 L474.4,530.2 L474.6,529.7 L474.7,529.2 L474.9,528.7 L475,528.2 L475.1,527.7 L475.2,527.2 L475.4,526.7 L475.5,526.2 L475.6,525.7 L475.7,525.2 L475.8,524.7 L475.9,524.2 L476.1,523.7 L476.2,523.2 L476.3,522.7 L476.4,522.2 L476.5,521.7 L476.6,521.2 L476.7,520.7 L476.8,520.2 L476.9,519.7Z" fill="#ddcbde" fill-opacity="1"/>
<line x1="470.8" y1="547.6" x2="484.2" y2="547.6" stroke="#ad88b6" stroke-width="2.0" />
<line x1="472.3" y1="539.6" x2="482.7" y2="539.6" stroke="#111" stroke-width="1.2" stroke-dasharray="1,1.2"/>
<line x1="471.2" y1="553.4" x2="483.8" y2="553.4" stroke="#111" stroke-width="1.2" stroke-dasharray="1,1.2"/>
<line x1="498.5" y1="470" x2="498.5" y2="512.8" stroke="#d3bad4" stroke-width="0.8" stroke-opacity="0.4"/>
<path d="M498.7,512.3 L498.8,512.8 L498.9,513.3 L499,513.8 L499.1,514.3 L499.2,514.8 L499.2,515.3 L499.3,515.8 L499.4,516.3 L499.5,516.8 L499.6,517.3 L499.7,517.8 L499.8,518.3 L499.9,518.8 L500,519.3 L500.1,519.8 L500.2,520.3 L500.2,520.8 L500.3,521.3 L500.4,521.8 L500.5,522.3 L500.6,522.8 L500.7,523.3 L500.8,523.8 L500.9,524.3 L501,524.8 L501.1,525.3 L501.2,525.8 L501.3,526.3 L501.4,526.8 L501.5,527.3 L501.6,527.8 L501.7,528.3 L501.8,528.8 L501.9,529.3 L502,529.8 L502.1,530.3 L502.1,530.8 L502.2,531.3 L502.3,531.8 L502.4,532.3 L502.5,532.8 L502.6,533.3 L502.7,533.8 L502.9,534.3 L503,534.8 L503.1,535.3 L503.2,535.8 L503.3,536.3 L503.4,536.8 L503.5,537.3 L503.6,537.8 L503.7,538.3 L503.8,538.8 L503.9,539.3 L504,539.8 L504.1,540.3 L504.2,540.8 L504.3,541.3 L504.4,541.8 L504.4,542.3 L504.5,542.8 L504.6,543.3 L504.7,543.8 L504.7,544.3 L504.8,544.8 L504.9,545.3 L504.9,545.8 L505,546.3 L505,546.8 L505.1,547.3 L505.1,547.8 L505.2,548.3 L505.2,548.8 L505.2,549.3 L505.2,549.8 L505.2,550.3 L505.2,550.8 L505.2,551.3 L505.2,551.8 L505.1,552.3 L505,552.8 L504.9,553.3 L504.8,553.8 L504.7,554.3 L504.5,554.8 L504.4,555.3 L504.2,555.8 L504,556.3 L503.8,556.8 L503.6,557.3 L503.3,557.8 L502.9,558.3 L502.5,558.8 L502.1,559.3 L501.7,559.8 L501.3,560.3 L500.8,560.8 L500.3,561.3 L499.7,561.8 L499.1,562.3 L498.7,562.7 L497.5,562.7 L497.1,562.3 L496.5,561.8 L495.9,561.3 L495.4,560.8 L494.9,560.3 L494.5,559.8 L494.1,559.3 L493.7,558.8 L493.3,558.3 L492.9,557.8 L492.6,557.3 L492.4,556.8 L492.2,556.3 L492,555.8 L491.8,555.3 L491.7,554.8 L491.5,554.3 L491.4,553.8 L491.3,553.3 L491.2,552.8 L491.1,552.3 L491,551.8 L491,551.3 L491,550.8 L491,550.3 L491,549.8 L491,549.3 L491,548.8 L491,548.3 L491.1,547.8 L491.1,547.3 L491.2,546.8 L491.2,546.3 L491.3,545.8 L491.3,545.3 L491.4,544.8 L491.5,544.3 L491.5,543.8 L491.6,543.3 L491.7,542.8 L491.8,542.3 L491.8,541.8 L491.9,541.3 L492,540.8 L492.1,540.3 L492.2,539.8 L492.3,539.3 L492.4,538.8 L492.5,538.3 L492.6,537.8 L492.7,537.3 L492.8,536.8 L492.9,536.3 L493,535.8 L493.1,535.3 L493.2,534.8 L493.3,534.3 L493.5,533.8 L493.6,533.3 L493.7,532.8 L493.8,532.3 L493.9,531.8 L494,531.3 L494.1,530.8 L494.1,530.3 L494.2,529.8 L494.3,529.3 L494.4,528.8 L494.5,528.3 L494.6,527.8 L494.7,527.3 L494.8,526.8 L494.9,526.3 L495,525.8 L495.1,525.3 L495.2,524.8 L495.3,524.3 L495.4,523.8 L495.5,523.3 L495.6,522.8 L495.7,522.3 L495.8,521.8 L495.9,521.3 L496,520.8 L496,520.3 L496.1,519.8 L496.2,519.3 L496.3,518.8 L496.4,518.3 L496.5,517.8 L496.6,517.3 L496.7,516.8 L496.8,516.3 L496.9,515.8 L497,515.3 L497,514.8 L497.1,514.3 L497.2,513.8 L497.3,513.3 L497.4,512.8 L497.5,512.3Z" fill="#d3bad4" fill-opacity="1"/>
<line x1="491.2" y1="546.4" x2="505" y2="546.4" stroke="#93558f" stroke-width="2.0" />
<line x1="493.1" y1="536.8" x2="503.1" y2="536.8" stroke="#111" stroke-width="1.2" stroke-dasharray="1,1.2"/>
<line x1="491.5" y1="553" x2="504.7" y2="553" stroke="#111" stroke-width="1.2" stroke-dasharray="1,1.2"/>
<line x1="518.5" y1="470" x2="518.5" y2="511.5" stroke="#b5a1c8" stroke-width="0.8" stroke-opacity="0.4"/>
<path d="M518.8,511 L518.9,511.5 L519,512 L519.1,512.5 L519.2,513 L519.2,513.5 L519.3,514 L519.4,514.5 L519.5,515 L519.6,515.5 L519.7,516 L519.8,516.5 L519.9,517 L520,517.5 L520,518 L520.1,518.5 L520.2,519 L520.3,519.5 L520.4,520 L520.5,520.5 L520.6,521 L520.7,521.5 L520.8,522 L520.8,522.5 L520.9,523 L521,523.5 L521.1,524 L521.2,524.5 L521.3,525 L521.4,525.5 L521.4,526 L521.5,526.5 L521.6,527 L521.7,527.5 L521.8,528 L521.9,528.5 L522,529 L522.1,529.5 L522.1,530 L522.2,530.5 L522.3,531 L522.4,531.5 L522.5,532 L522.6,532.5 L522.7,533 L522.7,533.5 L522.8,534 L522.9,534.5 L523,535 L523.1,535.5 L523.2,536 L523.3,536.5 L523.4,537 L523.4,537.5 L523.5,538 L523.6,538.5 L523.7,539 L523.7,539.5 L523.8,540 L523.9,540.5 L523.9,541 L524,541.5 L524,542 L524.1,542.5 L524.1,543 L524.2,543.5 L524.2,544 L524.3,544.5 L524.3,545 L524.3,545.5 L524.4,546 L524.4,546.5 L524.4,547 L524.4,547.5 L524.4,548 L524.4,548.5 L524.4,549 L524.4,549.5 L524.3,550 L524.3,550.5 L524.3,551 L524.2,551.5 L524.2,552 L524.1,552.5 L524,553 L523.9,553.5 L523.8,554 L523.7,554.5 L523.5,555 L523.4,555.5 L523.2,556 L523,556.5 L522.8,557 L522.6,557.5 L522.3,558 L522.1,558.5 L521.8,559 L521.5,559.5 L521.1,560 L520.7,560.5 L520.3,561 L519.8,561.5 L519.4,562 L519,562.5 L518.8,562.7 L517.6,562.7 L517.4,562.5 L517,562 L516.6,561.5 L516.1,561 L515.7,560.5 L515.3,560 L514.9,559.5 L514.6,559 L514.3,558.5 L514.1,558 L513.8,557.5 L513.6,557 L513.4,556.5 L513.2,556 L513,555.5 L512.9,555 L512.7,554.5 L512.6,554 L512.5,553.5 L512.4,553 L512.3,552.5 L512.2,552 L512.2,551.5 L512.1,551 L512.1,550.5 L512.1,550 L512,549.5 L512,549 L512,548.5 L512,548 L512,547.5 L512,547 L512,546.5 L512,546 L512.1,545.5 L512.1,545 L512.1,544.5 L512.2,544 L512.2,543.5 L512.3,543 L512.3,542.5 L512.4,542 L512.4,541.5 L512.5,541 L512.5,540.5 L512.6,540 L512.7,539.5 L512.7,539 L512.8,538.5 L512.9,538 L513,537.5 L513,537 L513.1,536.5 L513.2,536 L513.3,535.5 L513.4,535 L513.5,534.5 L513.6,534 L513.7,533.5 L513.7,533 L513.8,532.5 L513.9,532 L514,531.5 L514.1,531 L514.2,530.5 L514.3,530 L514.3,529.5 L514.4,529 L514.5,528.5 L514.6,528 L514.7,527.5 L514.8,527 L514.9,526.5 L515,526 L515,525.5 L515.1,525 L515.2,524.5 L515.3,524 L515.4,523.5 L515.5,523 L515.6,522.5 L515.6,522 L515.7,521.5 L515.8,521 L515.9,520.5 L516,520 L516.1,519.5 L516.2,519 L516.3,518.5 L516.4,518 L516.4,517.5 L516.5,517 L516.6,516.5 L516.7,516 L516.8,515.5 L516.9,515 L517,514.5 L517.1,514 L517.2,513.5 L517.2,513 L517.3,512.5 L517.4,512 L517.5,511.5 L517.6,511Z" fill="#b5a1c8" fill-opacity="1"/>
<line x1="512" y1="546.4" x2="524.4" y2="546.4" stroke="#5c2a76" stroke-width="2.0" />
<line x1="513.1" y1="538.3" x2="523.3" y2="538.3" stroke="#111" stroke-width="1.2" stroke-dasharray="1,1.2"/>
<line x1="512.7" y1="553" x2="523.7" y2="553" stroke="#111" stroke-width="1.2" stroke-dasharray="1,1.2"/>
<line x1="443.9" y1="563.3" x2="532.2" y2="563.3" stroke="#111" stroke-width="1.1" stroke-dasharray="1.1,2.1"/>
<line x1="454.5" y1="451.2" x2="473.1" y2="451.2" stroke="#1a1a1a" stroke-width="1.3" />
<text x="463.8" y="451.5" font-size="9.5" text-anchor="middle" fill="#1a1a1a" font-weight="bold" style="font-family:'Noto Sans CJK JP',sans-serif">****</text>
<line x1="476.6" y1="451.2" x2="493.6" y2="451.2" stroke="#1a1a1a" stroke-width="1.3" />
<text x="485.1" y="451.5" font-size="9.5" text-anchor="middle" fill="#1a1a1a" font-weight="bold" style="font-family:'Noto Sans CJK JP',sans-serif">*</text>
<line x1="496.8" y1="451.2" x2="515.5" y2="451.2" stroke="#1a1a1a" stroke-width="1.3" />
<text x="506.1" y="448.8" font-size="9" text-anchor="middle" fill="#444" textLength="8" lengthAdjust="spacingAndGlyphs">ns</text>
<text x="417" y="518.7" font-size="10.3" text-anchor="middle" fill="#222" transform="rotate(-90 417 518.7)" >ΔF/F max - min (z scored)</text>
<text x="1.2" y="629.7" font-size="15.5" text-anchor="start" fill="#111" font-weight="bold" text-rendering="geometricPrecision">K</text>
<path d="M42.6,665.1 L43.2,665.3 L43.7,665.2 L44.3,665.2 L44.9,664.4 L45.5,664.9 L46,665.4 L46.6,665.8 L47.2,665.9 L47.8,665.9 L48.3,666.5 L48.9,667.1 L49.5,667.5 L50,667.5 L50.6,667.9 L51.2,668.7 L51.8,668.4 L52.3,668.8 L52.9,668.4 L53.5,668.1 L54.1,669 L54.6,668.5 L55.2,668.4 L55.8,667.9 L56.4,668.3 L56.9,668 L57.5,668 L58.1,668.4 L58.6,668.6 L59.2,669.7 L59.8,669.7 L60.4,669.7 L60.9,670.1 L61.5,670 L62.1,670 L62.7,669.8 L63.2,670 L63.8,670.4 L64.4,670.2 L64.9,670.2 L65.5,670.1 L66.1,669.9 L66.7,670.5 L67.2,670 L67.8,669.6 L68.4,669.3 L69,669 L69.5,669.4 L70.1,670.1 L70.7,669.8 L71.2,670.4 L71.8,671 L72.4,670.9 L73,671.1 L73.5,670.9 L74.1,671.4 L74.7,671.5 L75.3,671.5 L75.8,671.3 L76.4,671.1 L77,671.9 L77.6,671.7 L78.1,672 L78.7,671.4 L79.3,671.4 L79.8,672 L80.4,672 L81,672 L81.6,671.7 L82.1,671.7 L82.7,672 L83.3,671.9 L83.9,671.8 L84.4,671.6 L85,671.5 L85.6,672.1 L86.1,671.4 L86.7,671.1 L87.3,670.4 L87.9,670.6 L88.4,670.1 L89,670.1 L89.6,669.6 L90.2,670.1 L90.7,670.4 L91.3,670.3 L91.9,670.1 L92.5,669.9 L93,669.7 L93.6,669.9 L94.2,669.6 L94.7,669.2 L95.3,668.9 L95.9,668.9 L96.5,668.2 L97,668.7 L97.6,668.7 L98.2,668.8 L98.8,668.9 L99.3,669.1 L99.9,669.5 L100.5,670.1 L101,670.3 L101.6,669.8 L102.2,670.9 L102.8,671.7 L103.3,672.8 L103.9,674.9 L104.5,677 L105.1,678.6 L105.6,681 L106.2,683.1 L106.8,685 L107.3,687.6 L107.9,690.1 L108.5,692.8 L109.1,694.9 L109.6,697.4 L110.2,700.4 L110.8,704.2 L111.4,708.3 L111.9,712.4 L112.5,716.9 L113.1,721.1 L113.7,726 L114.2,731 L114.8,736 L115.4,740 L115.9,745 L116.5,750 L117.1,753 L117.7,753.6 L118.2,752.3 L118.8,749.5 L119.4,745.6 L120,741.6 L120.5,737 L121.1,733 L121.7,728.3 L122.2,724.4 L122.8,720.3 L123.4,715.8 L124,712 L124.5,707.9 L125.1,704.1 L125.7,700.6 L126.3,697.4 L126.8,694.8 L127.4,693.1 L128,691.8 L128.6,690.6 L129.1,689.7 L129.7,688.8 L130.3,688.9 L130.8,688.3 L131.4,687.1 L132,686.9 L132.6,686.2 L133.1,685.7 L133.7,684.5 L134.3,683.8 L134.9,683.5 L135.4,683.7 L136,684.2 L136.6,683.7 L137.1,683.6 L137.7,683.3 L138.3,683.6 L138.9,683 L139.4,683.2 L140,682.2 L140.6,681.3 L141.2,681.5 L141.7,680.4 L142.3,680.4 L142.9,680.3 L143.4,680.4 L144,680.2 L144.6,680.2 L145.2,680.1 L145.7,679.7 L146.3,679.2 L146.9,679 L147.5,679.2 L148,679.1 L148.6,679.2 L149.2,678.8 L149.8,678.6 L150.3,679 L150.9,678.4 L151.5,677.8 L152,677.9 L152.6,677.9 L153.2,677.6 L153.8,677 L154.3,676.5 L154.9,676.6 L155.5,676.5 L156.1,676.2 L156.6,676.4 L157.2,675.9 L157.8,675.1 L158.3,675.3 L158.9,674.5 L159.5,674.9 L160.1,675.3 L160.6,674.6 L161.2,673.9 L161.8,673 L162.4,672.9 L162.9,672.5 L163.5,672.8 L164.1,672.2 L164.6,672.3 L165.2,671.7 L165.8,671.3 L166.4,671 L166.9,670.8 L167.5,670.8 L168.1,670.9 L168.7,670.5 L169.2,670.7 L169.8,670.3 L170.4,670.4 L171,670 L171.5,669.8 L172.1,670.2 L172.7,670.4 L173.2,669.8 L173.8,669 L174.4,668.5 L175,669 L175.5,668.5 L176.1,668.5 L176.7,668.6 L177.3,668.4 L177.8,667.9 L178.4,667.3 L179,667.1 L179.5,667.7 L180.1,667.5 L180.7,667.4 L181.3,667.3 L181.8,668.4 L182.4,668.1 L183,667.9 L183.6,667.5 L184.1,667 L184.7,667.6 L185.3,667.8 L185.8,667.1 L186.4,667.2 L187,666.6 L187.6,667 L188.1,666.5 L188.7,666.1 L189.3,665.7 L189.9,666.3 L190.4,665.4 L191,664.4 L191.6,664.5 L192.2,664.6 L192.7,663.8 L193.3,662.4 L193.9,662 L194.4,661.1 L195,661.2 L195,665.3 L194.4,665.2 L193.9,666 L193.3,666.4 L192.7,667.8 L192.2,668.6 L191.6,668.5 L191,668.5 L190.4,669.5 L189.9,670.4 L189.3,669.9 L188.7,670.3 L188.1,670.8 L187.6,671.4 L187,671 L186.4,671.7 L185.8,671.7 L185.3,672.5 L184.7,672.4 L184.1,671.9 L183.6,672.5 L183,673 L182.4,673.3 L181.8,673.7 L181.3,672.8 L180.7,672.9 L180.1,673.2 L179.5,673.5 L179,672.9 L178.4,673.3 L177.8,673.9 L177.3,674.5 L176.7,674.7 L176.1,674.7 L175.5,674.7 L175,675.3 L174.4,674.8 L173.8,675.4 L173.2,676.1 L172.7,676.8 L172.1,676.6 L171.5,676.2 L171,676.3 L170.4,676.7 L169.8,676.6 L169.2,676.9 L168.7,676.7 L168.1,677 L167.5,676.8 L166.9,676.8 L166.4,676.9 L165.8,677 L165.2,677.4 L164.6,677.9 L164.1,677.7 L163.5,678.2 L162.9,677.8 L162.4,678 L161.8,678 L161.2,678.8 L160.6,679.4 L160.1,680 L159.5,679.6 L158.9,679 L158.3,679.7 L157.8,679.5 L157.2,680.2 L156.6,680.6 L156.1,680.4 L155.5,680.7 L154.9,680.6 L154.3,680.6 L153.8,681 L153.2,681.7 L152.6,681.9 L152,681.9 L151.5,681.8 L150.9,682.4 L150.3,683.1 L149.8,682.7 L149.2,683 L148.6,683.4 L148,683.4 L147.5,683.6 L146.9,683.4 L146.3,683.7 L145.7,684.4 L145.2,684.8 L144.6,685 L144,685.2 L143.4,685.4 L142.9,685.5 L142.3,685.6 L141.7,685.8 L141.2,686.9 L140.6,686.9 L140,687.9 L139.4,689 L138.9,688.9 L138.3,689.5 L137.7,689.3 L137.1,689.7 L136.6,689.8 L136,690.4 L135.4,690 L134.9,689.8 L134.3,690.2 L133.7,690.9 L133.1,692.1 L132.6,692.6 L132,693.3 L131.4,693.5 L130.8,694.7 L130.3,695.2 L129.7,695.1 L129.1,695.9 L128.6,696.7 L128,697.9 L127.4,699.1 L126.8,700.7 L126.3,703.2 L125.7,706.4 L125.1,709.8 L124.5,713.4 L124,717.4 L123.4,721.1 L122.8,725.6 L122.2,729.5 L121.7,733.3 L121.1,737.9 L120.5,741.9 L120,746.3 L119.4,750.2 L118.8,754.1 L118.2,756.7 L117.7,757.9 L117.1,757.3 L116.5,754.2 L115.9,749.2 L115.4,744.1 L114.8,740 L114.2,735 L113.7,730.1 L113.1,725.1 L112.5,720.9 L111.9,716.4 L111.4,712.3 L110.8,708.2 L110.2,704.5 L109.6,701.6 L109.1,699.1 L108.5,697 L107.9,694.4 L107.3,692 L106.8,689.5 L106.2,687.7 L105.6,685.6 L105.1,683.4 L104.5,681.8 L103.9,679.9 L103.3,677.9 L102.8,676.9 L102.2,676.2 L101.6,675.2 L101,675.8 L100.5,675.6 L99.9,675.2 L99.3,674.9 L98.8,674.8 L98.2,674.8 L97.6,674.8 L97,674.8 L96.5,674.4 L95.9,675.2 L95.3,675.2 L94.7,675.5 L94.2,675.9 L93.6,676.3 L93,676.1 L92.5,676.3 L91.9,676.5 L91.3,676.6 L90.7,676.7 L90.2,676.4 L89.6,675.9 L89,676.3 L88.4,676.3 L87.9,676.7 L87.3,676.4 L86.7,677.1 L86.1,677.2 L85.6,677.8 L85,677.1 L84.4,677.1 L83.9,677.3 L83.3,677.2 L82.7,677.2 L82.1,676.9 L81.6,676.7 L81,676.9 L80.4,676.8 L79.8,676.7 L79.3,676 L78.7,675.9 L78.1,676.4 L77.6,676.1 L77,676.1 L76.4,675.3 L75.8,675.4 L75.3,675.6 L74.7,675.5 L74.1,675.4 L73.5,674.9 L73,675.1 L72.4,674.9 L71.8,675 L71.2,674.4 L70.7,673.8 L70.1,674.2 L69.5,673.6 L69,673.2 L68.4,673.6 L67.8,674 L67.2,674.4 L66.7,674.9 L66.1,674.5 L65.5,674.7 L64.9,675 L64.4,675.1 L63.8,675.4 L63.2,675.1 L62.7,675 L62.1,675.3 L61.5,675.4 L60.9,675.6 L60.4,675.3 L59.8,675.4 L59.2,675.5 L58.6,674.5 L58.1,674.4 L57.5,674.1 L56.9,674.1 L56.4,674.5 L55.8,674.2 L55.2,674.7 L54.6,674.9 L54.1,675.3 L53.5,674.5 L52.9,674.8 L52.3,675.2 L51.8,674.8 L51.2,675.1 L50.6,674.2 L50,673.8 L49.5,673.7 L48.9,673.3 L48.3,672.6 L47.8,672 L47.2,671.8 L46.6,671.7 L46,671.2 L45.5,670.6 L44.9,670.1 L44.3,670.7 L43.7,670.6 L43.2,670.6 L42.6,670.3Z" fill="#e8ccd6" fill-opacity="0.85"/>
<path d="M42.6,667.2 L43.2,668 L43.7,668.6 L44.3,669.4 L44.9,669.6 L45.5,670.3 L46,670.7 L46.6,670.6 L47.2,671.3 L47.8,671.2 L48.3,670.8 L48.9,670.9 L49.5,670.8 L50,670.9 L50.6,671.6 L51.2,671.8 L51.8,672.7 L52.3,672.8 L52.9,673.2 L53.5,673.4 L54.1,672.9 L54.6,673.2 L55.2,673.7 L55.8,674.3 L56.4,674 L56.9,674.6 L57.5,675.3 L58.1,675.1 L58.6,675.4 L59.2,676 L59.8,675.4 L60.4,675.7 L60.9,675 L61.5,675.4 L62.1,676.1 L62.7,676.1 L63.2,676.5 L63.8,675.9 L64.4,675.8 L64.9,675.8 L65.5,676.3 L66.1,676.3 L66.7,676.7 L67.2,676.8 L67.8,676.5 L68.4,676.7 L69,676.8 L69.5,676.8 L70.1,677.1 L70.7,676.8 L71.2,676.9 L71.8,677.1 L72.4,676.8 L73,676.8 L73.5,676.8 L74.1,676.2 L74.7,676.9 L75.3,676.7 L75.8,676.9 L76.4,675.6 L77,676.1 L77.6,675.9 L78.1,675.5 L78.7,675.4 L79.3,675.8 L79.8,675.1 L80.4,675.5 L81,674.9 L81.6,675.4 L82.1,675.5 L82.7,675.8 L83.3,676 L83.9,675.5 L84.4,675.2 L85,675.4 L85.6,675.1 L86.1,675 L86.7,674.6 L87.3,674.8 L87.9,675.8 L88.4,676 L89,675.9 L89.6,675.3 L90.2,675.1 L90.7,675.4 L91.3,675.2 L91.9,675.4 L92.5,675 L93,674.8 L93.6,674.7 L94.2,674.5 L94.7,674.2 L95.3,674.3 L95.9,674.1 L96.5,673.3 L97,673.5 L97.6,674 L98.2,674 L98.8,673.7 L99.3,673.3 L99.9,673.3 L100.5,673.7 L101,674.5 L101.6,675 L102.2,675.5 L102.8,675.7 L103.3,676.7 L103.9,677.5 L104.5,679.6 L105.1,681.2 L105.6,682.8 L106.2,685.4 L106.8,687.9 L107.3,689.9 L107.9,691.6 L108.5,694.6 L109.1,697.1 L109.6,700.5 L110.2,703.4 L110.8,706.9 L111.4,710.6 L111.9,714.5 L112.5,718.7 L113.1,724 L113.7,728.9 L114.2,734.6 L114.8,740 L115.4,745.2 L115.9,751.9 L116.5,758.2 L117.1,763.1 L117.7,765.3 L118.2,764.6 L118.8,761.6 L119.4,757.9 L120,753.2 L120.5,748.5 L121.1,743 L121.7,738.2 L122.2,732.2 L122.8,727.6 L123.4,723.5 L124,718.9 L124.5,715 L125.1,711.9 L125.7,709.2 L126.3,706.2 L126.8,704.2 L127.4,702.4 L128,700.4 L128.6,699.4 L129.1,698.1 L129.7,696.5 L130.3,695.8 L130.8,695 L131.4,694 L132,692.8 L132.6,692 L133.1,691.9 L133.7,691.1 L134.3,690.2 L134.9,689.4 L135.4,689.4 L136,689.7 L136.6,688.8 L137.1,688.3 L137.7,688.3 L138.3,688.4 L138.9,687.9 L139.4,687.8 L140,688.1 L140.6,687.5 L141.2,687.1 L141.7,686.9 L142.3,686.8 L142.9,686.5 L143.4,685.8 L144,685.6 L144.6,685.8 L145.2,685.1 L145.7,684.6 L146.3,684.2 L146.9,684.8 L147.5,684.5 L148,683.9 L148.6,684.2 L149.2,684.4 L149.8,684 L150.3,683.8 L150.9,683.6 L151.5,683.6 L152,683.2 L152.6,683 L153.2,682.5 L153.8,682.3 L154.3,682.2 L154.9,682 L155.5,681.5 L156.1,680.6 L156.6,680.5 L157.2,680.3 L157.8,680 L158.3,680.5 L158.9,680.2 L159.5,679.9 L160.1,679.7 L160.6,678.8 L161.2,678.5 L161.8,678.2 L162.4,678.2 L162.9,678.1 L163.5,678.3 L164.1,678 L164.6,677.6 L165.2,677.4 L165.8,676.6 L166.4,676.1 L166.9,675.9 L167.5,676.2 L168.1,676.1 L168.7,675.5 L169.2,675.7 L169.8,675.7 L170.4,675.6 L171,675.8 L171.5,675.7 L172.1,675.8 L172.7,675.7 L173.2,675.2 L173.8,675.1 L174.4,675.1 L175,675.6 L175.5,675.1 L176.1,674.9 L176.7,674.1 L177.3,673.7 L177.8,672.8 L178.4,672.9 L179,673.2 L179.5,672.7 L180.1,673.1 L180.7,673.1 L181.3,672.8 L181.8,672.7 L182.4,672.2 L183,672.2 L183.6,672.2 L184.1,671.6 L184.7,671.6 L185.3,671.3 L185.8,671 L186.4,670.8 L187,670.8 L187.6,670.6 L188.1,670.8 L188.7,671.2 L189.3,670.9 L189.9,670.4 L190.4,670.2 L191,669.3 L191.6,668.8 L192.2,668.1 L192.7,667.7 L193.3,666.9 L193.9,665.9 L194.4,663.9 L195,663 L195,668 L194.4,668.8 L193.9,670.6 L193.3,671.5 L192.7,672.3 L192.2,672.6 L191.6,673.2 L191,673.6 L190.4,674.4 L189.9,674.5 L189.3,675 L188.7,675.2 L188.1,674.8 L187.6,674.6 L187,674.8 L186.4,674.8 L185.8,675 L185.3,675.3 L184.7,675.6 L184.1,675.6 L183.6,676.3 L183,676.3 L182.4,676.4 L181.8,677 L181.3,677.1 L180.7,677.5 L180.1,677.6 L179.5,677.3 L179,677.9 L178.4,677.7 L177.8,677.7 L177.3,678.7 L176.7,679.2 L176.1,680.1 L175.5,680.5 L175,681.1 L174.4,680.7 L173.8,680.7 L173.2,680.9 L172.7,681.6 L172.1,681.8 L171.5,681.7 L171,681.9 L170.4,681.8 L169.8,681.9 L169.2,682 L168.7,681.8 L168.1,682.5 L167.5,682.6 L166.9,682.3 L166.4,682.5 L165.8,683 L165.2,683.8 L164.6,683.9 L164.1,684.3 L163.5,684.5 L162.9,684.4 L162.4,684.4 L161.8,684.3 L161.2,684.5 L160.6,684.7 L160.1,685.6 L159.5,685.6 L158.9,685.9 L158.3,686.1 L157.8,685.5 L157.2,685.6 L156.6,685.8 L156.1,685.8 L155.5,686.6 L154.9,686.9 L154.3,687 L153.8,687 L153.2,687.1 L152.6,687.6 L152,687.7 L151.5,688 L150.9,687.9 L150.3,688.1 L149.8,688.2 L149.2,688.5 L148.6,688.3 L148,688 L147.5,688.5 L146.9,688.8 L146.3,688.2 L145.7,688.6 L145.2,689.1 L144.6,689.8 L144,689.7 L143.4,689.9 L142.9,690.7 L142.3,691 L141.7,691.2 L141.2,691.5 L140.6,692 L140,692.7 L139.4,692.4 L138.9,692.6 L138.3,693.2 L137.7,693.2 L137.1,693.3 L136.6,694 L136,694.9 L135.4,694.8 L134.9,694.8 L134.3,695.7 L133.7,696.8 L133.1,697.7 L132.6,697.9 L132,698.8 L131.4,700 L130.8,701.1 L130.3,702 L129.7,702.7 L129.1,704.4 L128.6,705.7 L128,706.7 L127.4,708.8 L126.8,710.6 L126.3,712.6 L125.7,715.6 L125.1,718.3 L124.5,721.3 L124,725.2 L123.4,729.8 L122.8,733.8 L122.2,738.4 L121.7,744.3 L121.1,749.1 L120.5,754.5 L120,759 L119.4,763.7 L118.8,767.3 L118.2,770.2 L117.7,770.8 L117.1,768.4 L116.5,763.5 L115.9,757 L115.4,750.3 L114.8,744.9 L114.2,739.4 L113.7,733.6 L113.1,728.6 L112.5,723.2 L111.9,719 L111.4,715 L110.8,711.2 L110.2,707.6 L109.6,704.6 L109.1,701.3 L108.5,698.6 L107.9,695.6 L107.3,693.9 L106.8,691.9 L106.2,689.4 L105.6,686.9 L105.1,685.2 L104.5,683.6 L103.9,681.6 L103.3,680.8 L102.8,679.9 L102.2,679.7 L101.6,679.3 L101,678.9 L100.5,678.2 L99.9,677.9 L99.3,677.9 L98.8,678.4 L98.2,678.8 L97.6,679 L97,678.6 L96.5,678.4 L95.9,679.4 L95.3,679.6 L94.7,679.7 L94.2,680 L93.6,680.4 L93,680.5 L92.5,680.9 L91.9,681.3 L91.3,681.3 L90.7,681.5 L90.2,681.2 L89.6,681.5 L89,682.2 L88.4,682.3 L87.9,682.1 L87.3,681.2 L86.7,681 L86.1,681.4 L85.6,681.5 L85,681.7 L84.4,681.6 L83.9,681.8 L83.3,682.3 L82.7,682.1 L82.1,681.6 L81.6,681.5 L81,680.9 L80.4,681.4 L79.8,680.9 L79.3,681.5 L78.7,681.1 L78.1,681 L77.6,681.3 L77,681.5 L76.4,680.8 L75.8,682 L75.3,681.7 L74.7,681.8 L74.1,681 L73.5,681.5 L73,681.4 L72.4,681.4 L71.8,681.5 L71.2,681.2 L70.7,681 L70.1,681.3 L69.5,680.9 L69,680.9 L68.4,680.7 L67.8,680.6 L67.2,680.8 L66.7,680.7 L66.1,680.3 L65.5,680.3 L64.9,679.8 L64.4,679.8 L63.8,680 L63.2,680.6 L62.7,680.3 L62.1,680.4 L61.5,679.7 L60.9,679.4 L60.4,680.2 L59.8,679.9 L59.2,680.7 L58.6,680.1 L58.1,679.9 L57.5,680.3 L56.9,679.7 L56.4,679.2 L55.8,679.6 L55.2,679.1 L54.6,678.7 L54.1,678.5 L53.5,679.1 L52.9,679 L52.3,678.7 L51.8,678.7 L51.2,677.9 L50.6,677.7 L50,677.1 L49.5,677.1 L48.9,677.2 L48.3,677.2 L47.8,677.6 L47.2,677.7 L46.6,677 L46,677.1 L45.5,676.7 L44.9,676 L44.3,675.8 L43.7,674.9 L43.2,674.2 L42.6,673.5Z" fill="#cfbdd5" fill-opacity="0.85"/>
<path d="M42.6,669.6 L43.2,670.2 L43.7,670.7 L44.3,671 L44.9,672 L45.5,672.5 L46,673.2 L46.6,673.5 L47.2,674.3 L47.8,674.7 L48.3,675.2 L48.9,675.8 L49.5,676 L50,676.2 L50.6,676.5 L51.2,676.8 L51.8,677.3 L52.3,677.7 L52.9,677.9 L53.5,678.4 L54.1,678.7 L54.6,678.5 L55.2,679.2 L55.8,678.8 L56.4,679.7 L56.9,679.3 L57.5,679.1 L58.1,679.1 L58.6,679.7 L59.2,679.6 L59.8,680.1 L60.4,680.5 L60.9,680.4 L61.5,680.4 L62.1,680.7 L62.7,680.9 L63.2,680.7 L63.8,680.1 L64.4,680.1 L64.9,679.9 L65.5,680.1 L66.1,680.3 L66.7,680.1 L67.2,679.9 L67.8,679.9 L68.4,680.1 L69,680.4 L69.5,680.6 L70.1,681 L70.7,681.3 L71.2,681.1 L71.8,681.5 L72.4,681 L73,681.2 L73.5,681.1 L74.1,680.4 L74.7,681 L75.3,681.7 L75.8,682 L76.4,681.3 L77,680.4 L77.6,680.7 L78.1,680.8 L78.7,680.5 L79.3,680.3 L79.8,679.7 L80.4,679.9 L81,679.3 L81.6,679 L82.1,679.1 L82.7,679.8 L83.3,680.2 L83.9,680.6 L84.4,681 L85,681.2 L85.6,680.9 L86.1,680.9 L86.7,680.9 L87.3,680.6 L87.9,680.5 L88.4,680.4 L89,679.9 L89.6,679.4 L90.2,679.5 L90.7,679.8 L91.3,680.1 L91.9,680.5 L92.5,680.5 L93,680.5 L93.6,680.1 L94.2,679.6 L94.7,678.6 L95.3,678.6 L95.9,679 L96.5,679 L97,679.5 L97.6,679.8 L98.2,679.8 L98.8,679.5 L99.3,680 L99.9,680.6 L100.5,680.3 L101,680.7 L101.6,681.4 L102.2,681.4 L102.8,682.5 L103.3,682.9 L103.9,683.8 L104.5,684.4 L105.1,685.5 L105.6,686.8 L106.2,688.7 L106.8,690 L107.3,691.9 L107.9,694.1 L108.5,696.4 L109.1,699.4 L109.6,702.2 L110.2,705.4 L110.8,709.3 L111.4,713 L111.9,717.2 L112.5,722 L113.1,726.9 L113.7,732.1 L114.2,737.4 L114.8,743.4 L115.4,749.5 L115.9,756.7 L116.5,765.8 L117.1,773.7 L117.7,778 L118.2,778.5 L118.8,775.4 L119.4,771.4 L120,765.9 L120.5,759.8 L121.1,754.5 L121.7,747.7 L122.2,740.2 L122.8,734.5 L123.4,730.5 L124,726.6 L124.5,723.2 L125.1,719.8 L125.7,716.3 L126.3,714.2 L126.8,711.9 L127.4,710 L128,707.5 L128.6,706 L129.1,705.1 L129.7,703.7 L130.3,702.3 L130.8,702.2 L131.4,701.3 L132,700.5 L132.6,699.6 L133.1,699.2 L133.7,698.5 L134.3,697.4 L134.9,696.6 L135.4,696 L136,696 L136.6,695.4 L137.1,694.8 L137.7,694.7 L138.3,694.6 L138.9,694 L139.4,693.7 L140,693.6 L140.6,693 L141.2,693 L141.7,692.8 L142.3,691.9 L142.9,691.9 L143.4,691.6 L144,691.1 L144.6,690.1 L145.2,690.1 L145.7,689.2 L146.3,689.2 L146.9,689.6 L147.5,689.1 L148,688.8 L148.6,688.6 L149.2,688.7 L149.8,688.5 L150.3,688.2 L150.9,688.4 L151.5,687.6 L152,687.4 L152.6,686.5 L153.2,686.3 L153.8,686.4 L154.3,685.8 L154.9,685.7 L155.5,686.2 L156.1,685.4 L156.6,685.3 L157.2,685.2 L157.8,685.7 L158.3,685.4 L158.9,685 L159.5,685.2 L160.1,684.8 L160.6,684.3 L161.2,684.2 L161.8,683.6 L162.4,683.9 L162.9,684 L163.5,683.6 L164.1,683 L164.6,682.8 L165.2,683.2 L165.8,683.5 L166.4,683.1 L166.9,682.9 L167.5,682.6 L168.1,682.7 L168.7,682.5 L169.2,682 L169.8,682.2 L170.4,682.5 L171,681.9 L171.5,682.4 L172.1,682.1 L172.7,681.8 L173.2,681.5 L173.8,681.5 L174.4,680.9 L175,680.5 L175.5,681.1 L176.1,680.5 L176.7,679.3 L177.3,678.7 L177.8,679.3 L178.4,678.4 L179,678.2 L179.5,678.1 L180.1,678 L180.7,677.9 L181.3,677 L181.8,677.7 L182.4,677.3 L183,677.6 L183.6,678.1 L184.1,677.7 L184.7,677.3 L185.3,677.5 L185.8,677.7 L186.4,677.9 L187,677.4 L187.6,676.8 L188.1,675.9 L188.7,676 L189.3,675.9 L189.9,675.6 L190.4,674.8 L191,674 L191.6,673.1 L192.2,672.5 L192.7,671.9 L193.3,670.6 L193.9,668.9 L194.4,667.2 L195,665.4 L195,671.4 L194.4,673.2 L193.9,674.8 L193.3,676.4 L192.7,677.6 L192.2,678.1 L191.6,678.7 L191,679.4 L190.4,680.1 L189.9,680.8 L189.3,681 L188.7,680.9 L188.1,680.8 L187.6,681.6 L187,682 L186.4,682.5 L185.8,682.2 L185.3,681.9 L184.7,681.6 L184.1,682 L183.6,682.3 L183,681.7 L182.4,681.3 L181.8,681.8 L181.3,681 L180.7,682 L180.1,682 L179.5,682.1 L179,682.2 L178.4,682.4 L177.8,683.3 L177.3,682.8 L176.7,683.4 L176.1,684.7 L175.5,685.3 L175,684.8 L174.4,685.3 L173.8,686 L173.2,686.1 L172.7,686.5 L172.1,686.9 L171.5,687.3 L171,686.9 L170.4,687.6 L169.8,687.4 L169.2,687.3 L168.7,687.9 L168.1,688.2 L167.5,688.3 L166.9,688.6 L166.4,688.9 L165.8,689.4 L165.2,689.2 L164.6,688.9 L164.1,689.1 L163.5,689.8 L162.9,690.3 L162.4,690.2 L161.8,689.9 L161.2,690.6 L160.6,690.7 L160.1,691.2 L159.5,691.6 L158.9,691.4 L158.3,691.8 L157.8,692 L157.2,691.4 L156.6,691.6 L156.1,691.6 L155.5,692.3 L154.9,691.8 L154.3,691.8 L153.8,692.2 L153.2,692.1 L152.6,692.2 L152,693 L151.5,693.1 L150.9,693.8 L150.3,693.5 L149.8,693.7 L149.2,693.8 L148.6,693.5 L148,693.7 L147.5,693.8 L146.9,694.3 L146.3,693.8 L145.7,693.7 L145.2,694.5 L144.6,694.4 L144,695.4 L143.4,695.8 L142.9,696 L142.3,696 L141.7,696.8 L141.2,697 L140.6,697 L140,697.6 L139.4,697.7 L138.9,698 L138.3,698.7 L137.7,698.8 L137.1,698.9 L136.6,699.5 L136,700.2 L135.4,700.2 L134.9,700.9 L134.3,701.8 L133.7,703 L133.1,703.8 L132.6,704.3 L132,705.3 L131.4,706.2 L130.8,707.3 L130.3,707.5 L129.7,709 L129.1,710.4 L128.6,711.4 L128,713.1 L127.4,715.6 L126.8,717.7 L126.3,720 L125.7,722.2 L125.1,725.8 L124.5,729.3 L124,732.7 L123.4,736.7 L122.8,740.8 L122.2,746.5 L121.7,754 L121.1,760.9 L120.5,766.2 L120,772.3 L119.4,777.8 L118.8,781.8 L118.2,784.9 L117.7,784.4 L117.1,779.9 L116.5,772 L115.9,762.9 L115.4,755.6 L114.8,749.4 L114.2,743.3 L113.7,737.9 L113.1,732.7 L112.5,727.7 L111.9,722.8 L111.4,718.4 L110.8,714.7 L110.2,710.7 L109.6,707.4 L109.1,704.5 L108.5,701.3 L107.9,698.9 L107.3,696.6 L106.8,694.7 L106.2,693.2 L105.6,691.3 L105.1,689.9 L104.5,688.7 L103.9,688 L103.3,687.1 L102.8,686.6 L102.2,685.5 L101.6,685.5 L101,684.8 L100.5,684.3 L99.9,684.6 L99.3,684 L98.8,683.5 L98.2,683.8 L97.6,683.9 L97,683.7 L96.5,683.1 L95.9,683.2 L95.3,682.9 L94.7,683 L94.2,684.1 L93.6,684.7 L93,685.1 L92.5,685.2 L91.9,685.3 L91.3,685 L90.7,684.8 L90.2,684.6 L89.6,684.7 L89,685.3 L88.4,685.9 L87.9,686.1 L87.3,686.2 L86.7,686.6 L86.1,686.8 L85.6,686.8 L85,687.2 L84.4,687.1 L83.9,686.7 L83.3,686.4 L82.7,686.1 L82.1,685.5 L81.6,685.3 L81,685.7 L80.4,686.3 L79.8,686.1 L79.3,686.7 L78.7,686.9 L78.1,687.1 L77.6,687 L77,686.6 L76.4,687.5 L75.8,688.1 L75.3,687.8 L74.7,687 L74.1,686.4 L73.5,687 L73,686.9 L72.4,686.7 L71.8,687.1 L71.2,686.6 L70.7,686.7 L70.1,686.3 L69.5,685.8 L69,685.4 L68.4,685 L67.8,684.7 L67.2,684.6 L66.7,684.8 L66.1,684.8 L65.5,684.6 L64.9,684.3 L64.4,684.4 L63.8,684.4 L63.2,684.9 L62.7,685 L62.1,684.8 L61.5,684.5 L60.9,684.4 L60.4,684.5 L59.8,684.1 L59.2,683.6 L58.6,683.7 L58.1,683.1 L57.5,683.2 L56.9,683.5 L56.4,683.9 L55.8,683.1 L55.2,683.5 L54.6,682.9 L54.1,683.2 L53.5,683 L52.9,682.6 L52.3,682.4 L51.8,682.2 L51.2,681.8 L50.6,681.5 L50,681.4 L49.5,681.3 L48.9,681.2 L48.3,680.6 L47.8,680.3 L47.2,680 L46.6,679.3 L46,679.1 L45.5,678.4 L44.9,678 L44.3,677.1 L43.7,676.9 L43.2,676.4 L42.6,675.9Z" fill="#c4a5c9" fill-opacity="0.85"/>
<path d="M42.6,671.8 L43.2,672.2 L43.7,672.7 L44.3,673.9 L44.9,675.3 L45.5,676 L46,676.7 L46.6,676.8 L47.2,677.6 L47.8,678.1 L48.3,679.3 L48.9,680.8 L49.5,681.1 L50,681.1 L50.6,681.4 L51.2,681.5 L51.8,681.6 L52.3,682.3 L52.9,682.6 L53.5,683 L54.1,682.8 L54.6,683 L55.2,683.1 L55.8,683.9 L56.4,684.2 L56.9,684.3 L57.5,684.5 L58.1,684.7 L58.6,684.7 L59.2,684.5 L59.8,684.4 L60.4,684.6 L60.9,684.8 L61.5,684.3 L62.1,683.9 L62.7,684.3 L63.2,684.5 L63.8,684.9 L64.4,685.2 L64.9,685.2 L65.5,685.3 L66.1,685.4 L66.7,685.1 L67.2,684.6 L67.8,685.1 L68.4,685.3 L69,685.1 L69.5,685.3 L70.1,685.4 L70.7,685.8 L71.2,686.3 L71.8,686.8 L72.4,686.8 L73,687 L73.5,686.5 L74.1,686.1 L74.7,685.6 L75.3,685.7 L75.8,686 L76.4,685.9 L77,686 L77.6,686.3 L78.1,686.3 L78.7,685.9 L79.3,685.9 L79.8,686 L80.4,686.4 L81,686.8 L81.6,686.8 L82.1,687.1 L82.7,687 L83.3,687.2 L83.9,687.3 L84.4,687.8 L85,687.3 L85.6,686.8 L86.1,686.7 L86.7,687.2 L87.3,686.8 L87.9,686.6 L88.4,686.8 L89,687.3 L89.6,686.9 L90.2,686.9 L90.7,687.2 L91.3,687.3 L91.9,686.9 L92.5,687 L93,686.5 L93.6,685.8 L94.2,685.4 L94.7,685.3 L95.3,685 L95.9,684.6 L96.5,683.8 L97,683 L97.6,683.2 L98.2,682.7 L98.8,682.4 L99.3,682.4 L99.9,683 L100.5,682.8 L101,683.2 L101.6,683.8 L102.2,683.9 L102.8,684.4 L103.3,685.4 L103.9,685.5 L104.5,685.9 L105.1,687 L105.6,687.5 L106.2,688.8 L106.8,689.9 L107.3,691.2 L107.9,693.3 L108.5,696.7 L109.1,700.2 L109.6,704 L110.2,708 L110.8,712.3 L111.4,716.6 L111.9,721.1 L112.5,726 L113.1,731.4 L113.7,736.7 L114.2,742.9 L114.8,749.8 L115.4,756.7 L115.9,766.4 L116.5,776.9 L117.1,785.6 L117.7,791.4 L118.2,791.9 L118.8,788.8 L119.4,783.4 L120,777.2 L120.5,770.4 L121.1,764.5 L121.7,756.7 L122.2,747.9 L122.8,742.2 L123.4,738 L124,734.7 L124.5,731.4 L125.1,728.8 L125.7,726 L126.3,723.1 L126.8,720.2 L127.4,717.8 L128,716.1 L128.6,714.6 L129.1,713.3 L129.7,711.6 L130.3,710.7 L130.8,709.3 L131.4,708 L132,706.9 L132.6,705.9 L133.1,704.6 L133.7,703.2 L134.3,702.3 L134.9,701.8 L135.4,700.8 L136,699.8 L136.6,699.5 L137.1,698.4 L137.7,697.7 L138.3,697.6 L138.9,696.9 L139.4,696.5 L140,695.9 L140.6,695.9 L141.2,695.4 L141.7,695.7 L142.3,695.3 L142.9,695.2 L143.4,694.9 L144,694.5 L144.6,694.2 L145.2,694.5 L145.7,694.7 L146.3,694.2 L146.9,693.7 L147.5,694 L148,694.2 L148.6,693.6 L149.2,693.6 L149.8,693.5 L150.3,693.1 L150.9,693 L151.5,692.7 L152,692.9 L152.6,692.3 L153.2,692 L153.8,691.9 L154.3,691.8 L154.9,691.2 L155.5,691.4 L156.1,691.1 L156.6,691.3 L157.2,691 L157.8,691.3 L158.3,691.1 L158.9,691.2 L159.5,691.2 L160.1,691 L160.6,690.8 L161.2,690.5 L161.8,690.1 L162.4,690.2 L162.9,690.3 L163.5,689.4 L164.1,689.4 L164.6,689.3 L165.2,689.1 L165.8,689.1 L166.4,688 L166.9,688 L167.5,687.4 L168.1,687.6 L168.7,686.7 L169.2,686.6 L169.8,686.1 L170.4,686.4 L171,686.5 L171.5,686.6 L172.1,686.7 L172.7,686.5 L173.2,686.1 L173.8,685.7 L174.4,684.9 L175,684.8 L175.5,684.2 L176.1,684.8 L176.7,684.9 L177.3,684.8 L177.8,685.4 L178.4,684.9 L179,684.4 L179.5,684.2 L180.1,683.8 L180.7,683.9 L181.3,683.5 L181.8,683.6 L182.4,682.9 L183,683.4 L183.6,683.8 L184.1,683.7 L184.7,682.7 L185.3,683.1 L185.8,683.4 L186.4,682.6 L187,681.6 L187.6,681.2 L188.1,681.2 L188.7,681.1 L189.3,680.8 L189.9,680.5 L190.4,680.3 L191,679.7 L191.6,679.3 L192.2,679.1 L192.7,677.7 L193.3,675.2 L193.9,673 L194.4,671 L195,669.2 L195,675.6 L194.4,677.4 L193.9,679.4 L193.3,681.6 L192.7,684 L192.2,685.4 L191.6,685.6 L191,686 L190.4,686.6 L189.9,686.7 L189.3,687 L188.7,687.2 L188.1,687.2 L187.6,687.1 L187,687.4 L186.4,688.3 L185.8,689.1 L185.3,688.7 L184.7,688.1 L184.1,689 L183.6,689 L183,688.5 L182.4,687.9 L181.8,688.5 L181.3,688.2 L180.7,688.6 L180.1,688.4 L179.5,688.7 L179,688.8 L178.4,689.3 L177.8,689.7 L177.3,689 L176.7,689 L176.1,688.9 L175.5,688.3 L175,688.8 L174.4,688.9 L173.8,689.7 L173.2,690.1 L172.7,690.6 L172.1,690.8 L171.5,690.6 L171,690.6 L170.4,690.5 L169.8,690.3 L169.2,690.8 L168.7,691 L168.1,692 L167.5,691.9 L166.9,692.6 L166.4,692.7 L165.8,693.9 L165.2,694 L164.6,694.3 L164.1,694.5 L163.5,694.6 L162.9,695.6 L162.4,695.6 L161.8,695.7 L161.2,696.1 L160.6,696.5 L160.1,696.8 L159.5,697.1 L158.9,697.2 L158.3,697.2 L157.8,697.4 L157.2,697.2 L156.6,697.6 L156.1,697.4 L155.5,697.7 L154.9,697.5 L154.3,698.2 L153.8,698.3 L153.2,698.4 L152.6,698.7 L152,699.3 L151.5,699 L150.9,699.3 L150.3,699.3 L149.8,699.7 L149.2,699.7 L148.6,699.6 L148,700.2 L147.5,699.9 L146.9,699.5 L146.3,700 L145.7,700.3 L145.2,700 L144.6,699.6 L144,699.8 L143.4,700 L142.9,700.3 L142.3,700.3 L141.7,700.5 L141.2,700.1 L140.6,700.5 L140,700.5 L139.4,701 L138.9,701.3 L138.3,701.9 L137.7,702 L137.1,702.6 L136.6,703.6 L136,703.9 L135.4,704.8 L134.9,705.8 L134.3,706.3 L133.7,707.2 L133.1,708.6 L132.6,709.9 L132,710.9 L131.4,712.1 L130.8,713.4 L130.3,714.9 L129.7,715.8 L129.1,717.5 L128.6,718.9 L128,720.5 L127.4,722.3 L126.8,724.8 L126.3,727.8 L125.7,730.8 L125.1,733.7 L124.5,736.4 L124,739.8 L123.4,743.2 L122.8,747.5 L122.2,753.3 L121.7,762.2 L121.1,770.1 L120.5,776.2 L120,783 L119.4,789.3 L118.8,794.8 L118.2,798 L117.7,797.5 L117.1,791.8 L116.5,783.1 L115.9,772.7 L115.4,763.1 L114.8,756.2 L114.2,749.3 L113.7,743.1 L113.1,737.8 L112.5,732.4 L111.9,727.5 L111.4,722.9 L110.8,718.6 L110.2,714.2 L109.6,710.2 L109.1,706.3 L108.5,702.7 L107.9,699.3 L107.3,697.1 L106.8,695.7 L106.2,694.5 L105.6,693.1 L105.1,692.5 L104.5,691.3 L103.9,690.8 L103.3,690.5 L102.8,689.5 L102.2,688.9 L101.6,688.7 L101,688 L100.5,687.4 L99.9,687.6 L99.3,686.8 L98.8,686.8 L98.2,687 L97.6,687.5 L97,687.1 L96.5,687.9 L95.9,688.7 L95.3,689.1 L94.7,689.4 L94.2,689.4 L93.6,689.8 L93,690.6 L92.5,691 L91.9,690.9 L91.3,691.3 L90.7,691.3 L90.2,691.1 L89.6,691.1 L89,691.6 L88.4,691.1 L87.9,691 L87.3,691.4 L86.7,691.9 L86.1,691.4 L85.6,691.6 L85,692.2 L84.4,692.8 L83.9,692.4 L83.3,692.4 L82.7,692.3 L82.1,692.5 L81.6,692.3 L81,692.4 L80.4,692.2 L79.8,691.9 L79.3,691.8 L78.7,691.9 L78.1,692.4 L77.6,692.5 L77,692.3 L76.4,692.2 L75.8,692.3 L75.3,692.1 L74.7,692 L74.1,692.4 L73.5,692.9 L73,693.4 L72.4,693.2 L71.8,693.2 L71.2,692.6 L70.7,692.1 L70.1,691.6 L69.5,691.5 L69,691.2 L68.4,691.3 L67.8,691 L67.2,690.4 L66.7,690.8 L66.1,691 L65.5,690.8 L64.9,690.7 L64.4,690.6 L63.8,690.2 L63.2,689.6 L62.7,689.3 L62.1,688.8 L61.5,689.2 L60.9,689.6 L60.4,689.3 L59.8,688.9 L59.2,688.9 L58.6,689.1 L58.1,689 L57.5,688.7 L56.9,688.5 L56.4,688.3 L55.8,687.9 L55.2,687.2 L54.6,687.1 L54.1,686.8 L53.5,687 L52.9,686.6 L52.3,686.3 L51.8,685.7 L51.2,685.6 L50.6,685.5 L50,685.3 L49.5,685.3 L48.9,685.1 L48.3,683.7 L47.8,682.6 L47.2,682.1 L46.6,681.5 L46,681.5 L45.5,680.9 L44.9,680.3 L44.3,679 L43.7,677.8 L43.2,677.5 L42.6,677.1Z" fill="#a78fc1" fill-opacity="0.85"/>
<path d="M42.6,667.7 L43.2,667.9 L43.7,667.9 L44.3,667.9 L44.9,667.2 L45.5,667.7 L46,668.3 L46.6,668.7 L47.2,668.9 L47.8,668.9 L48.3,669.5 L48.9,670.2 L49.5,670.6 L50,670.6 L50.6,671 L51.2,671.9 L51.8,671.6 L52.3,672 L52.9,671.6 L53.5,671.3 L54.1,672.2 L54.6,671.7 L55.2,671.5 L55.8,671 L56.4,671.4 L56.9,671.1 L57.5,671.1 L58.1,671.4 L58.6,671.6 L59.2,672.6 L59.8,672.6 L60.4,672.5 L60.9,672.8 L61.5,672.7 L62.1,672.7 L62.7,672.4 L63.2,672.5 L63.8,672.9 L64.4,672.7 L64.9,672.6 L65.5,672.4 L66.1,672.2 L66.7,672.7 L67.2,672.2 L67.8,671.8 L68.4,671.5 L69,671.1 L69.5,671.5 L70.1,672.1 L70.7,671.8 L71.2,672.4 L71.8,673 L72.4,672.9 L73,673.1 L73.5,672.9 L74.1,673.4 L74.7,673.5 L75.3,673.6 L75.8,673.3 L76.4,673.2 L77,674 L77.6,673.9 L78.1,674.2 L78.7,673.6 L79.3,673.7 L79.8,674.3 L80.4,674.4 L81,674.4 L81.6,674.2 L82.1,674.3 L82.7,674.6 L83.3,674.6 L83.9,674.6 L84.4,674.4 L85,674.3 L85.6,675 L86.1,674.3 L86.7,674.1 L87.3,673.4 L87.9,673.7 L88.4,673.2 L89,673.2 L89.6,672.8 L90.2,673.2 L90.7,673.5 L91.3,673.4 L91.9,673.3 L92.5,673.1 L93,672.9 L93.6,673.1 L94.2,672.7 L94.7,672.3 L95.3,672 L95.9,672.1 L96.5,671.3 L97,671.7 L97.6,671.8 L98.2,671.8 L98.8,671.8 L99.3,672 L99.9,672.4 L100.5,672.8 L101,673 L101.6,672.5 L102.2,673.5 L102.8,674.3 L103.3,675.3 L103.9,677.4 L104.5,679.4 L105.1,681 L105.6,683.3 L106.2,685.4 L106.8,687.2 L107.3,689.8 L107.9,692.3 L108.5,694.9 L109.1,697 L109.6,699.5 L110.2,702.5 L110.8,706.2 L111.4,710.3 L111.9,714.4 L112.5,718.9 L113.1,723.1 L113.7,728.1 L114.2,733 L114.8,738 L115.4,742.1 L115.9,747.1 L116.5,752.1 L117.1,755.2 L117.7,755.7 L118.2,754.5 L118.8,751.8 L119.4,747.9 L120,743.9 L120.5,739.5 L121.1,735.4 L121.7,730.8 L122.2,727 L122.8,722.9 L123.4,718.5 L124,714.7 L124.5,710.6 L125.1,707 L125.7,703.5 L126.3,700.3 L126.8,697.8 L127.4,696.1 L128,694.8 L128.6,693.7 L129.1,692.8 L129.7,691.9 L130.3,692.1 L130.8,691.5 L131.4,690.3 L132,690.1 L132.6,689.4 L133.1,688.9 L133.7,687.7 L134.3,687 L134.9,686.7 L135.4,686.9 L136,687.3 L136.6,686.8 L137.1,686.6 L137.7,686.3 L138.3,686.5 L138.9,686 L139.4,686.1 L140,685.1 L140.6,684.1 L141.2,684.2 L141.7,683.1 L142.3,683 L142.9,682.9 L143.4,682.9 L144,682.7 L144.6,682.6 L145.2,682.5 L145.7,682.1 L146.3,681.4 L146.9,681.2 L147.5,681.4 L148,681.2 L148.6,681.3 L149.2,680.9 L149.8,680.7 L150.3,681.1 L150.9,680.4 L151.5,679.8 L152,679.9 L152.6,679.9 L153.2,679.6 L153.8,679 L154.3,678.5 L154.9,678.6 L155.5,678.6 L156.1,678.3 L156.6,678.5 L157.2,678 L157.8,677.3 L158.3,677.5 L158.9,676.7 L159.5,677.2 L160.1,677.6 L160.6,677 L161.2,676.3 L161.8,675.5 L162.4,675.4 L162.9,675.1 L163.5,675.5 L164.1,675 L164.6,675.1 L165.2,674.6 L165.8,674.1 L166.4,674 L166.9,673.8 L167.5,673.8 L168.1,674 L168.7,673.6 L169.2,673.8 L169.8,673.5 L170.4,673.6 L171,673.2 L171.5,673 L172.1,673.4 L172.7,673.6 L173.2,672.9 L173.8,672.2 L174.4,671.6 L175,672.2 L175.5,671.6 L176.1,671.6 L176.7,671.7 L177.3,671.5 L177.8,670.9 L178.4,670.3 L179,670 L179.5,670.6 L180.1,670.4 L180.7,670.2 L181.3,670.1 L181.8,671 L182.4,670.7 L183,670.4 L183.6,670 L184.1,669.5 L184.7,670 L185.3,670.2 L185.8,669.4 L186.4,669.5 L187,668.8 L187.6,669.2 L188.1,668.7 L188.7,668.2 L189.3,667.8 L189.9,668.4 L190.4,667.4 L191,666.5 L191.6,666.5 L192.2,666.6 L192.7,665.8 L193.3,664.4 L193.9,664 L194.4,663.1 L195,663.2" fill="none" stroke="#cf9aab" stroke-width="1"/>
<path d="M42.6,670.4 L43.2,671.1 L43.7,671.8 L44.3,672.6 L44.9,672.8 L45.5,673.5 L46,673.9 L46.6,673.8 L47.2,674.5 L47.8,674.4 L48.3,674 L48.9,674 L49.5,674 L50,674 L50.6,674.6 L51.2,674.8 L51.8,675.7 L52.3,675.7 L52.9,676.1 L53.5,676.2 L54.1,675.7 L54.6,676 L55.2,676.4 L55.8,676.9 L56.4,676.6 L56.9,677.2 L57.5,677.8 L58.1,677.5 L58.6,677.8 L59.2,678.3 L59.8,677.7 L60.4,678 L60.9,677.2 L61.5,677.5 L62.1,678.3 L62.7,678.2 L63.2,678.5 L63.8,677.9 L64.4,677.8 L64.9,677.8 L65.5,678.3 L66.1,678.3 L66.7,678.7 L67.2,678.8 L67.8,678.6 L68.4,678.7 L69,678.9 L69.5,678.8 L70.1,679.2 L70.7,678.9 L71.2,679 L71.8,679.3 L72.4,679.1 L73,679.1 L73.5,679.2 L74.1,678.6 L74.7,679.3 L75.3,679.2 L75.8,679.4 L76.4,678.2 L77,678.8 L77.6,678.6 L78.1,678.3 L78.7,678.3 L79.3,678.7 L79.8,678 L80.4,678.4 L81,677.9 L81.6,678.4 L82.1,678.5 L82.7,679 L83.3,679.1 L83.9,678.7 L84.4,678.4 L85,678.6 L85.6,678.3 L86.1,678.2 L86.7,677.8 L87.3,678 L87.9,678.9 L88.4,679.1 L89,679.1 L89.6,678.4 L90.2,678.1 L90.7,678.5 L91.3,678.3 L91.9,678.3 L92.5,678 L93,677.6 L93.6,677.6 L94.2,677.2 L94.7,676.9 L95.3,676.9 L95.9,676.7 L96.5,675.9 L97,676.1 L97.6,676.5 L98.2,676.4 L98.8,676 L99.3,675.6 L99.9,675.6 L100.5,675.9 L101,676.7 L101.6,677.1 L102.2,677.6 L102.8,677.8 L103.3,678.7 L103.9,679.5 L104.5,681.6 L105.1,683.2 L105.6,684.8 L106.2,687.4 L106.8,689.9 L107.3,691.9 L107.9,693.6 L108.5,696.6 L109.1,699.2 L109.6,702.6 L110.2,705.5 L110.8,709 L111.4,712.8 L111.9,716.7 L112.5,721 L113.1,726.3 L113.7,731.3 L114.2,737 L114.8,742.4 L115.4,747.8 L115.9,754.4 L116.5,760.8 L117.1,765.7 L117.7,768 L118.2,767.4 L118.8,764.4 L119.4,760.8 L120,756.1 L120.5,751.5 L121.1,746.1 L121.7,741.2 L122.2,735.3 L122.8,730.7 L123.4,726.7 L124,722 L124.5,718.2 L125.1,715.1 L125.7,712.4 L126.3,709.4 L126.8,707.4 L127.4,705.6 L128,703.5 L128.6,702.6 L129.1,701.3 L129.7,699.6 L130.3,698.9 L130.8,698 L131.4,697 L132,695.8 L132.6,694.9 L133.1,694.8 L133.7,693.9 L134.3,692.9 L134.9,692.1 L135.4,692.1 L136,692.3 L136.6,691.4 L137.1,690.8 L137.7,690.7 L138.3,690.8 L138.9,690.2 L139.4,690.1 L140,690.4 L140.6,689.8 L141.2,689.3 L141.7,689 L142.3,688.9 L142.9,688.6 L143.4,687.9 L144,687.7 L144.6,687.8 L145.2,687.1 L145.7,686.6 L146.3,686.2 L146.9,686.8 L147.5,686.5 L148,685.9 L148.6,686.3 L149.2,686.5 L149.8,686.1 L150.3,686 L150.9,685.8 L151.5,685.8 L152,685.4 L152.6,685.3 L153.2,684.8 L153.8,684.6 L154.3,684.6 L154.9,684.4 L155.5,684 L156.1,683.2 L156.6,683.2 L157.2,683 L157.8,682.8 L158.3,683.3 L158.9,683.1 L159.5,682.7 L160.1,682.6 L160.6,681.8 L161.2,681.5 L161.8,681.3 L162.4,681.3 L162.9,681.3 L163.5,681.4 L164.1,681.2 L164.6,680.8 L165.2,680.6 L165.8,679.8 L166.4,679.3 L166.9,679.1 L167.5,679.4 L168.1,679.3 L168.7,678.7 L169.2,678.8 L169.8,678.8 L170.4,678.7 L171,678.9 L171.5,678.7 L172.1,678.8 L172.7,678.6 L173.2,678 L173.8,677.9 L174.4,677.9 L175,678.3 L175.5,677.8 L176.1,677.5 L176.7,676.6 L177.3,676.2 L177.8,675.3 L178.4,675.3 L179,675.5 L179.5,675 L180.1,675.3 L180.7,675.3 L181.3,675 L181.8,674.9 L182.4,674.3 L183,674.3 L183.6,674.2 L184.1,673.6 L184.7,673.6 L185.3,673.3 L185.8,673 L186.4,672.8 L187,672.8 L187.6,672.6 L188.1,672.8 L188.7,673.2 L189.3,672.9 L189.9,672.5 L190.4,672.3 L191,671.4 L191.6,671 L192.2,670.4 L192.7,670 L193.3,669.2 L193.9,668.3 L194.4,666.4 L195,665.5" fill="none" stroke="#a07aaa" stroke-width="1"/>
<path d="M42.6,672.8 L43.2,673.3 L43.7,673.8 L44.3,674 L44.9,675 L45.5,675.4 L46,676.1 L46.6,676.4 L47.2,677.2 L47.8,677.5 L48.3,677.9 L48.9,678.5 L49.5,678.6 L50,678.8 L50.6,679 L51.2,679.3 L51.8,679.7 L52.3,680 L52.9,680.3 L53.5,680.7 L54.1,680.9 L54.6,680.7 L55.2,681.4 L55.8,680.9 L56.4,681.8 L56.9,681.4 L57.5,681.1 L58.1,681.1 L58.6,681.7 L59.2,681.6 L59.8,682.1 L60.4,682.5 L60.9,682.4 L61.5,682.5 L62.1,682.7 L62.7,682.9 L63.2,682.8 L63.8,682.3 L64.4,682.2 L64.9,682.1 L65.5,682.3 L66.1,682.5 L66.7,682.4 L67.2,682.3 L67.8,682.3 L68.4,682.6 L69,682.9 L69.5,683.2 L70.1,683.6 L70.7,684 L71.2,683.8 L71.8,684.3 L72.4,683.8 L73,684.1 L73.5,684 L74.1,683.4 L74.7,684 L75.3,684.8 L75.8,685 L76.4,684.4 L77,683.5 L77.6,683.8 L78.1,684 L78.7,683.7 L79.3,683.5 L79.8,682.9 L80.4,683.1 L81,682.5 L81.6,682.2 L82.1,682.3 L82.7,683 L83.3,683.3 L83.9,683.7 L84.4,684.1 L85,684.2 L85.6,683.9 L86.1,683.8 L86.7,683.8 L87.3,683.4 L87.9,683.3 L88.4,683.2 L89,682.6 L89.6,682 L90.2,682.1 L90.7,682.3 L91.3,682.6 L91.9,682.9 L92.5,682.9 L93,682.8 L93.6,682.4 L94.2,681.9 L94.7,680.8 L95.3,680.8 L95.9,681.1 L96.5,681.1 L97,681.6 L97.6,681.8 L98.2,681.8 L98.8,681.5 L99.3,682 L99.9,682.6 L100.5,682.3 L101,682.8 L101.6,683.5 L102.2,683.5 L102.8,684.6 L103.3,685 L103.9,685.9 L104.5,686.6 L105.1,687.7 L105.6,689 L106.2,691 L106.8,692.4 L107.3,694.3 L107.9,696.5 L108.5,698.8 L109.1,701.9 L109.6,704.8 L110.2,708.1 L110.8,712 L111.4,715.7 L111.9,720 L112.5,724.8 L113.1,729.8 L113.7,735 L114.2,740.4 L114.8,746.4 L115.4,752.6 L115.9,759.8 L116.5,768.9 L117.1,776.8 L117.7,781.2 L118.2,781.7 L118.8,778.6 L119.4,774.6 L120,769.1 L120.5,763 L121.1,757.7 L121.7,750.9 L122.2,743.4 L122.8,737.7 L123.4,733.6 L124,729.6 L124.5,726.3 L125.1,722.8 L125.7,719.3 L126.3,717.1 L126.8,714.8 L127.4,712.8 L128,710.3 L128.6,708.7 L129.1,707.8 L129.7,706.4 L130.3,704.9 L130.8,704.7 L131.4,703.7 L132,702.9 L132.6,702 L133.1,701.5 L133.7,700.7 L134.3,699.6 L134.9,698.7 L135.4,698.1 L136,698.1 L136.6,697.5 L137.1,696.8 L137.7,696.7 L138.3,696.7 L138.9,696 L139.4,695.7 L140,695.6 L140.6,695 L141.2,695 L141.7,694.8 L142.3,694 L142.9,694 L143.4,693.7 L144,693.3 L144.6,692.3 L145.2,692.3 L145.7,691.4 L146.3,691.5 L146.9,691.9 L147.5,691.4 L148,691.2 L148.6,691 L149.2,691.3 L149.8,691.1 L150.3,690.9 L150.9,691.1 L151.5,690.4 L152,690.2 L152.6,689.3 L153.2,689.2 L153.8,689.3 L154.3,688.8 L154.9,688.7 L155.5,689.2 L156.1,688.5 L156.6,688.5 L157.2,688.3 L157.8,688.8 L158.3,688.6 L158.9,688.2 L159.5,688.4 L160.1,688 L160.6,687.5 L161.2,687.4 L161.8,686.7 L162.4,687 L162.9,687.1 L163.5,686.7 L164.1,686.1 L164.6,685.8 L165.2,686.2 L165.8,686.4 L166.4,686 L166.9,685.7 L167.5,685.5 L168.1,685.5 L168.7,685.2 L169.2,684.6 L169.8,684.8 L170.4,685.1 L171,684.4 L171.5,684.8 L172.1,684.5 L172.7,684.1 L173.2,683.8 L173.8,683.8 L174.4,683.1 L175,682.7 L175.5,683.2 L176.1,682.6 L176.7,681.3 L177.3,680.8 L177.8,681.3 L178.4,680.4 L179,680.2 L179.5,680.1 L180.1,680 L180.7,680 L181.3,679 L181.8,679.7 L182.4,679.3 L183,679.7 L183.6,680.2 L184.1,679.9 L184.7,679.5 L185.3,679.7 L185.8,680 L186.4,680.2 L187,679.7 L187.6,679.2 L188.1,678.3 L188.7,678.4 L189.3,678.4 L189.9,678.2 L190.4,677.4 L191,676.7 L191.6,675.9 L192.2,675.3 L192.7,674.8 L193.3,673.5 L193.9,671.8 L194.4,670.2 L195,668.4" fill="none" stroke="#8a4f8c" stroke-width="1"/>
<path d="M42.6,674.5 L43.2,674.8 L43.7,675.3 L44.3,676.4 L44.9,677.8 L45.5,678.4 L46,679.1 L46.6,679.2 L47.2,679.9 L47.8,680.4 L48.3,681.5 L48.9,683 L49.5,683.2 L50,683.2 L50.6,683.5 L51.2,683.6 L51.8,683.6 L52.3,684.3 L52.9,684.6 L53.5,685 L54.1,684.8 L54.6,685.1 L55.2,685.1 L55.8,685.9 L56.4,686.2 L56.9,686.4 L57.5,686.6 L58.1,686.9 L58.6,686.9 L59.2,686.7 L59.8,686.6 L60.4,686.9 L60.9,687.2 L61.5,686.8 L62.1,686.3 L62.7,686.8 L63.2,687.1 L63.8,687.6 L64.4,687.9 L64.9,687.9 L65.5,688.1 L66.1,688.2 L66.7,688 L67.2,687.5 L67.8,688 L68.4,688.3 L69,688.1 L69.5,688.4 L70.1,688.5 L70.7,688.9 L71.2,689.4 L71.8,690 L72.4,690 L73,690.2 L73.5,689.7 L74.1,689.2 L74.7,688.8 L75.3,688.9 L75.8,689.1 L76.4,689.1 L77,689.2 L77.6,689.4 L78.1,689.3 L78.7,688.9 L79.3,688.8 L79.8,689 L80.4,689.3 L81,689.6 L81.6,689.5 L82.1,689.8 L82.7,689.7 L83.3,689.8 L83.9,689.9 L84.4,690.3 L85,689.7 L85.6,689.2 L86.1,689.1 L86.7,689.6 L87.3,689.1 L87.9,688.8 L88.4,689 L89,689.5 L89.6,689 L90.2,689 L90.7,689.3 L91.3,689.3 L91.9,688.9 L92.5,689 L93,688.6 L93.6,687.8 L94.2,687.4 L94.7,687.4 L95.3,687.1 L95.9,686.6 L96.5,685.8 L97,685.1 L97.6,685.3 L98.2,684.9 L98.8,684.6 L99.3,684.6 L99.9,685.3 L100.5,685.1 L101,685.6 L101.6,686.2 L102.2,686.4 L102.8,686.9 L103.3,687.9 L103.9,688.1 L104.5,688.6 L105.1,689.7 L105.6,690.3 L106.2,691.7 L106.8,692.8 L107.3,694.1 L107.9,696.3 L108.5,699.7 L109.1,703.2 L109.6,707.1 L110.2,711.1 L110.8,715.5 L111.4,719.8 L111.9,724.3 L112.5,729.2 L113.1,734.6 L113.7,739.9 L114.2,746.1 L114.8,753 L115.4,759.9 L115.9,769.6 L116.5,780 L117.1,788.7 L117.7,794.4 L118.2,795 L118.8,791.8 L119.4,786.4 L120,780.1 L120.5,773.3 L121.1,767.3 L121.7,759.5 L122.2,750.6 L122.8,744.9 L123.4,740.6 L124,737.3 L124.5,733.9 L125.1,731.2 L125.7,728.4 L126.3,725.4 L126.8,722.5 L127.4,720.1 L128,718.3 L128.6,716.7 L129.1,715.4 L129.7,713.7 L130.3,712.8 L130.8,711.4 L131.4,710 L132,708.9 L132.6,707.9 L133.1,706.6 L133.7,705.2 L134.3,704.3 L134.9,703.8 L135.4,702.8 L136,701.9 L136.6,701.6 L137.1,700.5 L137.7,699.9 L138.3,699.7 L138.9,699.1 L139.4,698.7 L140,698.2 L140.6,698.2 L141.2,697.7 L141.7,698.1 L142.3,697.8 L142.9,697.7 L143.4,697.4 L144,697.2 L144.6,696.9 L145.2,697.3 L145.7,697.5 L146.3,697.1 L146.9,696.6 L147.5,696.9 L148,697.2 L148.6,696.6 L149.2,696.7 L149.8,696.6 L150.3,696.2 L150.9,696.1 L151.5,695.9 L152,696.1 L152.6,695.5 L153.2,695.2 L153.8,695.1 L154.3,695 L154.9,694.3 L155.5,694.5 L156.1,694.3 L156.6,694.5 L157.2,694.1 L157.8,694.4 L158.3,694.1 L158.9,694.2 L159.5,694.2 L160.1,693.9 L160.6,693.6 L161.2,693.3 L161.8,692.9 L162.4,692.9 L162.9,692.9 L163.5,692 L164.1,692 L164.6,691.8 L165.2,691.5 L165.8,691.5 L166.4,690.4 L166.9,690.3 L167.5,689.7 L168.1,689.8 L168.7,688.9 L169.2,688.7 L169.8,688.2 L170.4,688.4 L171,688.6 L171.5,688.6 L172.1,688.8 L172.7,688.5 L173.2,688.1 L173.8,687.7 L174.4,686.9 L175,686.8 L175.5,686.3 L176.1,686.9 L176.7,687 L177.3,686.9 L177.8,687.5 L178.4,687.1 L179,686.6 L179.5,686.4 L180.1,686.1 L180.7,686.2 L181.3,685.8 L181.8,686 L182.4,685.4 L183,685.9 L183.6,686.4 L184.1,686.3 L184.7,685.4 L185.3,685.9 L185.8,686.3 L186.4,685.4 L187,684.5 L187.6,684.2 L188.1,684.2 L188.7,684.2 L189.3,683.9 L189.9,683.6 L190.4,683.5 L191,682.8 L191.6,682.4 L192.2,682.3 L192.7,680.8 L193.3,678.4 L193.9,676.2 L194.4,674.2 L195,672.4" fill="none" stroke="#5b2b78" stroke-width="1"/>
<line x1="42.5" y1="639.5" x2="42.5" y2="803.8" stroke="#333" stroke-width="1" />
<line x1="42.6" y1="803.5" x2="195.4" y2="803.5" stroke="#333" stroke-width="1" />
<line x1="42.6" y1="639.5" x2="45.1" y2="639.5" stroke="#333" stroke-width="1" />
<line x1="42.6" y1="663.5" x2="45.1" y2="663.5" stroke="#333" stroke-width="1" />
<line x1="42.6" y1="686.5" x2="45.1" y2="686.5" stroke="#333" stroke-width="1" />
<line x1="42.6" y1="710.5" x2="45.1" y2="710.5" stroke="#333" stroke-width="1" />
<line x1="42.6" y1="733.5" x2="45.1" y2="733.5" stroke="#333" stroke-width="1" />
<line x1="42.6" y1="757.5" x2="45.1" y2="757.5" stroke="#333" stroke-width="1" />
<line x1="42.6" y1="780.5" x2="45.1" y2="780.5" stroke="#333" stroke-width="1" />
<text x="39.8" y="643" font-size="10" text-anchor="end" fill="#222" >0</text>
<text x="39.8" y="690" font-size="10" text-anchor="end" fill="#222" >-0.02</text>
<text x="39.8" y="737.1" font-size="10" text-anchor="end" fill="#222" >-0.04</text>
<text x="39.8" y="784.1" font-size="10" text-anchor="end" fill="#222" >-0.06</text>
<line x1="42.5" y1="803.8" x2="42.5" y2="801.3" stroke="#333" stroke-width="1" />
<line x1="61.5" y1="803.8" x2="61.5" y2="801.3" stroke="#333" stroke-width="1" />
<line x1="80.5" y1="803.8" x2="80.5" y2="801.3" stroke="#333" stroke-width="1" />
<line x1="99.5" y1="803.8" x2="99.5" y2="801.3" stroke="#333" stroke-width="1" />
<line x1="119.5" y1="803.8" x2="119.5" y2="801.3" stroke="#333" stroke-width="1" />
<line x1="138.5" y1="803.8" x2="138.5" y2="801.3" stroke="#333" stroke-width="1" />
<line x1="157.5" y1="803.8" x2="157.5" y2="801.3" stroke="#333" stroke-width="1" />
<line x1="176.5" y1="803.8" x2="176.5" y2="801.3" stroke="#333" stroke-width="1" />
<line x1="195.5" y1="803.8" x2="195.5" y2="801.3" stroke="#333" stroke-width="1" />
<text x="40.8" y="814.5" font-size="10" text-anchor="middle" fill="#222" >-20</text>
<text x="80.8" y="814.5" font-size="10" text-anchor="middle" fill="#222" >-10</text>
<text x="119" y="814.5" font-size="10" text-anchor="middle" fill="#222" >0</text>
<text x="157.2" y="814.5" font-size="10" text-anchor="middle" fill="#222" >10</text>
<text x="195.4" y="814.5" font-size="10" text-anchor="middle" fill="#222" >20</text>
<text x="120.7" y="828.5" font-size="10.3" text-anchor="middle" fill="#222" >time lag (s)</text>
<text x="14" y="719" font-size="10" text-anchor="middle" fill="#222" transform="rotate(-90 14 719)" >cross-correlation</text>
<text x="227.4" y="629.7" font-size="15.5" text-anchor="start" fill="#111" font-weight="bold" text-rendering="geometricPrecision">L</text>
<path d="M270.4,671 L271,671.3 L271.6,671.1 L272.2,672 L272.8,671.5 L273.4,671.7 L274,672.2 L274.6,672.6 L275.2,672.9 L275.8,672.8 L276.4,673.8 L277,673.8 L277.6,674.1 L278.2,674.4 L278.8,674.5 L279.4,674.2 L280,674.5 L280.6,673.9 L281.2,673.5 L281.8,672 L282.4,671.4 L283,670.5 L283.6,669.9 L284.2,669.3 L284.8,668.8 L285.4,668.2 L286,667.6 L286.6,667.1 L287.2,666.6 L287.8,666.1 L288.4,665.4 L289,665 L289.6,664.2 L290.2,664.4 L290.8,664 L291.4,663.8 L292,662.9 L292.6,661.6 L293.2,660.5 L293.8,659.7 L294.4,659.1 L295,658.7 L295.6,658.4 L296.2,658.5 L296.8,657.5 L297.4,658.4 L298,658.4 L298.6,658.8 L299.2,658.5 L299.8,659 L300.4,658.9 L301,659.6 L301.6,659.9 L302.2,660.1 L302.8,660 L303.4,659.7 L304,659 L304.6,658.4 L305.2,657.1 L305.8,655.6 L306.4,654.9 L307,653.3 L307.6,651.6 L308.2,649.8 L308.8,648.7 L309.4,649.1 L310,649.9 L310.6,650.2 L311.2,650.5 L311.8,651.3 L312.4,651.9 L313,652.5 L313.6,652.3 L314.2,651.7 L314.8,651.3 L315.4,650.2 L316,648.9 L316.6,647.9 L317.2,647.4 L317.8,647.1 L318.4,647.1 L319,647.2 L319.6,648.3 L320.2,648.6 L320.8,648.1 L321.4,648 L322,648.8 L322.6,649.2 L323.2,650.8 L323.8,651.4 L324.4,652.2 L325,653.2 L325.6,654.2 L326.2,655.6 L326.8,656.7 L327.4,658.1 L328,659.2 L328.6,659.5 L329.2,661.2 L329.8,663.2 L330.4,664.3 L331,665.9 L331.6,668.3 L332.2,670.4 L332.8,673.3 L333.4,676.4 L334,680 L334.6,683.6 L335.2,688.3 L335.8,692.5 L336.4,696.8 L337,701 L337.6,706.4 L338.2,712.4 L338.8,720 L339.4,727.9 L340,736.5 L340.6,744.4 L341.2,753.3 L341.8,761.6 L342.4,767 L343,773.2 L343.6,778.7 L344.2,781.4 L344.8,780.8 L345.4,775.4 L346,767.4 L346.6,760 L347.2,752 L347.8,743.9 L348.4,738.9 L349,733.7 L349.6,729 L350.2,724.6 L350.8,719.8 L351.4,716 L352,713.1 L352.6,710.7 L353.2,709.1 L353.8,708.1 L354.4,706.3 L355,704.3 L355.6,702 L356.2,700.4 L356.8,697.8 L357.4,695.2 L358,693 L358.6,690 L359.2,687.1 L359.8,684.4 L360.4,681.3 L361,679.1 L361.6,677.2 L362.2,675.6 L362.8,673.9 L363.4,671.8 L364,670.4 L364.6,669.8 L365.2,668.7 L365.8,667.7 L366.4,667.5 L367,667.6 L367.6,667.7 L368.2,668.1 L368.8,668.7 L369.4,669.1 L370,669.5 L370.6,670.3 L371.2,669.7 L371.8,670.4 L372.4,670.2 L373,669.7 L373.6,669.7 L374.2,669.8 L374.8,669 L375.4,668.8 L376,668.7 L376.6,668.4 L377.2,667.7 L377.8,666.5 L378.4,665.8 L379,665.9 L379.6,664.9 L380.2,665.4 L380.8,664.7 L381.4,664 L382,663.2 L382.6,662.7 L383.2,662.3 L383.8,661.6 L384.4,662.1 L385,662.3 L385.6,662.2 L386.2,661.8 L386.8,662.2 L387.4,662.8 L388,663.8 L388.6,664.4 L389.2,664.5 L389.8,664.7 L390.4,664.5 L391,663.9 L391.6,663.1 L392.2,661.5 L392.8,659.5 L393.4,658.6 L394,657.7 L394.6,656.3 L395.2,656.3 L395.8,656.3 L396.4,657.1 L397,658.1 L397.6,658.5 L398.2,659.3 L398.8,660.4 L399.4,660.8 L400,661.2 L400.6,661.4 L401.2,661.8 L401.8,662.1 L402.4,662.1 L403,662.2 L403.6,662.9 L404.2,663.3 L404.8,663.5 L405.4,663.3 L406,663.2 L406.6,662.9 L407.2,662.8 L407.8,662.5 L408.4,662.8 L409,663 L409.6,663.1 L410.2,663.3 L410.8,663.3 L411.4,664 L412,664.6 L412.6,665.3 L413.2,665.7 L413.8,665.8 L414.4,666.4 L415,666.1 L415.6,666 L416.2,666.7 L416.8,667.3 L417.4,667.8 L418,668.7 L418.6,669 L419.2,669.5 L419.8,670.1 L420.4,670.1 L421,670.8 L421.6,671.6 L422.2,672 L422.2,679.6 L421.6,679.2 L421,678.4 L420.4,677.7 L419.8,677.7 L419.2,677.1 L418.6,676.6 L418,676.3 L417.4,675.4 L416.8,674.9 L416.2,674.3 L415.6,673.6 L415,673.7 L414.4,674 L413.8,673.4 L413.2,673.3 L412.6,672.9 L412,672.2 L411.4,671.6 L410.8,670.9 L410.2,670.9 L409.6,670.7 L409,670.6 L408.4,670.4 L407.8,670.1 L407.2,670.4 L406.6,670.5 L406,670.8 L405.4,670.9 L404.8,671.1 L404.2,670.9 L403.6,670.5 L403,669.8 L402.4,669.7 L401.8,669.7 L401.2,669.4 L400.6,669 L400,668.8 L399.4,668.4 L398.8,668 L398.2,666.9 L397.6,666.1 L397,665.7 L396.4,664.7 L395.8,663.9 L395.2,663.9 L394.6,663.9 L394,665.3 L393.4,666.2 L392.8,667.1 L392.2,669.1 L391.6,670.7 L391,671.5 L390.4,672.1 L389.8,672.3 L389.2,672.1 L388.6,672 L388,671.4 L387.4,670.4 L386.8,669.8 L386.2,669.4 L385.6,669.8 L385,669.9 L384.4,669.7 L383.8,669.2 L383.2,669.9 L382.6,670.3 L382,670.8 L381.4,671.6 L380.8,672.3 L380.2,673 L379.6,672.5 L379,673.5 L378.4,673.4 L377.8,674.1 L377.2,675.3 L376.6,676 L376,676.3 L375.4,676.4 L374.8,676.6 L374.2,677.4 L373.6,677.3 L373,677.3 L372.4,677.8 L371.8,678 L371.2,677.3 L370.6,677.9 L370,677.1 L369.4,676.7 L368.8,676.3 L368.2,675.7 L367.6,675.3 L367,675.2 L366.4,675.1 L365.8,675.3 L365.2,676.3 L364.6,677.4 L364,678 L363.4,679.4 L362.8,681.5 L362.2,683.2 L361.6,684.8 L361,686.6 L360.4,688.9 L359.8,692 L359.2,694.7 L358.6,697.6 L358,700.6 L357.4,702.8 L356.8,705.4 L356.2,708 L355.6,709.5 L355,711.7 L354.4,713.7 L353.8,715.4 L353.2,716.3 L352.6,717.8 L352,720 L351.4,722.7 L350.8,726.3 L350.2,730.8 L349.6,734.9 L349,739.3 L348.4,744.2 L347.8,748.8 L347.2,756.6 L346.6,764.3 L346,771.4 L345.4,779.2 L344.8,784.5 L344.2,785 L343.6,782.3 L343,776.9 L342.4,770.9 L341.8,765.7 L341.2,757.7 L340.6,749.1 L340,741.5 L339.4,733.3 L338.8,725.7 L338.2,718.5 L337.6,712.7 L337,707.6 L336.4,703.6 L335.8,699.5 L335.2,695.5 L334.6,690.9 L334,687.4 L333.4,683.8 L332.8,680.8 L332.2,678 L331.6,675.8 L331,673.5 L330.4,671.9 L329.8,670.8 L329.2,668.8 L328.6,667.1 L328,666.8 L327.4,665.7 L326.8,664.3 L326.2,663.2 L325.6,661.8 L325,660.8 L324.4,659.8 L323.8,659 L323.2,658.4 L322.6,656.8 L322,656.4 L321.4,655.6 L320.8,655.7 L320.2,656.2 L319.6,655.9 L319,654.8 L318.4,654.7 L317.8,654.7 L317.2,655 L316.6,655.5 L316,656.5 L315.4,657.8 L314.8,658.9 L314.2,659.3 L313.6,659.9 L313,660.1 L312.4,659.5 L311.8,658.9 L311.2,658.1 L310.6,657.8 L310,657.5 L309.4,656.7 L308.8,656.3 L308.2,657.4 L307.6,659.2 L307,660.9 L306.4,662.5 L305.8,663.2 L305.2,664.7 L304.6,666 L304,666.6 L303.4,667.3 L302.8,667.6 L302.2,667.7 L301.6,667.5 L301,667.2 L300.4,666.5 L299.8,666.6 L299.2,666.1 L298.6,666.4 L298,666 L297.4,666 L296.8,665.1 L296.2,666.1 L295.6,666 L295,666.3 L294.4,666.7 L293.8,667.3 L293.2,668.1 L292.6,669.2 L292,670.5 L291.4,671.4 L290.8,671.6 L290.2,672 L289.6,671.8 L289,672.6 L288.4,673 L287.8,673.7 L287.2,674.2 L286.6,674.7 L286,675.2 L285.4,675.8 L284.8,676.4 L284.2,676.9 L283.6,677.5 L283,678.1 L282.4,679 L281.8,679.6 L281.2,681.1 L280.6,681.5 L280,682.1 L279.4,681.8 L278.8,682.1 L278.2,682 L277.6,681.7 L277,681.4 L276.4,681.4 L275.8,680.4 L275.2,680.5 L274.6,680.2 L274,679.8 L273.4,679.3 L272.8,679.1 L272.2,679.6 L271.6,678.7 L271,678.9 L270.4,678.6Z" fill="#c6deb6"/>
<path d="M270.4,676.4 L271,676.4 L271.6,675.9 L272.2,676.2 L272.8,676.2 L273.4,676.2 L274,676.1 L274.6,676.5 L275.2,676.6 L275.8,676.7 L276.4,676.4 L277,676 L277.6,675.5 L278.2,675.3 L278.8,674.4 L279.4,674.9 L280,674.9 L280.6,674.8 L281.2,675 L281.8,674.7 L282.4,674.6 L283,674.7 L283.6,673.9 L284.2,674.4 L284.8,674.2 L285.4,674.1 L286,673.5 L286.6,673.2 L287.2,673.6 L287.8,673.2 L288.4,672.9 L289,672.9 L289.6,673.2 L290.2,672.2 L290.8,672.6 L291.4,672.6 L292,672.7 L292.6,672.2 L293.2,672.2 L293.8,672.6 L294.4,672.3 L295,671.8 L295.6,671.4 L296.2,671.1 L296.8,671.1 L297.4,670.9 L298,670.4 L298.6,670.4 L299.2,669.8 L299.8,669.1 L300.4,669.7 L301,669.2 L301.6,669.5 L302.2,669.1 L302.8,668.7 L303.4,668.6 L304,667.9 L304.6,667.4 L305.2,667.2 L305.8,666.9 L306.4,667 L307,667.5 L307.6,666.9 L308.2,666.5 L308.8,666.9 L309.4,667.2 L310,667.9 L310.6,668.1 L311.2,668.8 L311.8,669.2 L312.4,669.2 L313,670.2 L313.6,670.5 L314.2,671.6 L314.8,672.1 L315.4,672.4 L316,672.9 L316.6,672.7 L317.2,671.8 L317.8,670.7 L318.4,669.3 L319,668.8 L319.6,668.3 L320.2,667.4 L320.8,666.3 L321.4,666 L322,665.6 L322.6,665.6 L323.2,665 L323.8,664.4 L324.4,664.3 L325,664 L325.6,664.1 L326.2,664.2 L326.8,663.8 L327.4,663.1 L328,663.4 L328.6,663.6 L329.2,664.3 L329.8,664 L330.4,664.9 L331,665.9 L331.6,666.7 L332.2,668.1 L332.8,669.5 L333.4,671.4 L334,674.1 L334.6,677 L335.2,680 L335.8,683 L336.4,686.3 L337,689.9 L337.6,693.2 L338.2,696.4 L338.8,700 L339.4,703.6 L340,706.5 L340.6,709.1 L341.2,712.4 L341.8,715.1 L342.4,717 L343,718.7 L343.6,718.9 L344.2,718.2 L344.8,716.1 L345.4,713.8 L346,712.1 L346.6,710.7 L347.2,708.7 L347.8,705.8 L348.4,703.2 L349,699.8 L349.6,696.9 L350.2,694.2 L350.8,690.7 L351.4,687.6 L352,685.7 L352.6,684.8 L353.2,683.9 L353.8,683.8 L354.4,683.5 L355,683.3 L355.6,683.8 L356.2,684.6 L356.8,684.3 L357.4,683.3 L358,683.2 L358.6,682.6 L359.2,682.1 L359.8,681.4 L360.4,681.2 L361,681.4 L361.6,680.8 L362.2,680.8 L362.8,680.7 L363.4,680.2 L364,680.1 L364.6,680.1 L365.2,679.7 L365.8,680 L366.4,679.5 L367,679.9 L367.6,679.9 L368.2,679.9 L368.8,679.4 L369.4,679.1 L370,678.2 L370.6,678.2 L371.2,678.1 L371.8,678.1 L372.4,678.1 L373,677.8 L373.6,677.2 L374.2,677.1 L374.8,676.6 L375.4,676.1 L376,675.3 L376.6,675.2 L377.2,674.6 L377.8,674.8 L378.4,674.1 L379,673.5 L379.6,673.2 L380.2,672.6 L380.8,671.8 L381.4,671.2 L382,670.7 L382.6,670.5 L383.2,670.7 L383.8,670.8 L384.4,670.7 L385,670.7 L385.6,669.9 L386.2,669.8 L386.8,669.9 L387.4,670 L388,670.6 L388.6,670.9 L389.2,671 L389.8,671.7 L390.4,671.7 L391,671.9 L391.6,671.6 L392.2,672.2 L392.8,672.3 L393.4,672.9 L394,673.6 L394.6,673.7 L395.2,673.3 L395.8,672.9 L396.4,673.2 L397,672.8 L397.6,672.8 L398.2,672.5 L398.8,671.2 L399.4,671.2 L400,671.3 L400.6,671.5 L401.2,671.5 L401.8,671.7 L402.4,671.5 L403,671.9 L403.6,672 L404.2,672.3 L404.8,673.1 L405.4,673.5 L406,673.6 L406.6,674.3 L407.2,674.4 L407.8,675.1 L408.4,676 L409,676 L409.6,676.2 L410.2,675.9 L410.8,675.9 L411.4,675.8 L412,675.6 L412.6,675.2 L413.2,674.2 L413.8,673.7 L414.4,673.5 L415,673.8 L415.6,673.1 L416.2,673.6 L416.8,673.4 L417.4,672.9 L418,673.6 L418.6,673.7 L419.2,673.5 L419.8,673.7 L420.4,673.9 L421,673.5 L421.6,674 L422.2,673.7 L422.2,677.5 L421.6,677.8 L421,677.3 L420.4,677.7 L419.8,677.5 L419.2,677.3 L418.6,677.5 L418,677.4 L417.4,676.7 L416.8,677.2 L416.2,677.4 L415.6,676.9 L415,677.6 L414.4,677.3 L413.8,677.5 L413.2,678 L412.6,679 L412,679.4 L411.4,679.6 L410.8,679.7 L410.2,679.7 L409.6,680 L409,679.8 L408.4,679.8 L407.8,678.9 L407.2,678.2 L406.6,678.1 L406,677.4 L405.4,677.3 L404.8,676.9 L404.2,676.1 L403.6,675.8 L403,675.7 L402.4,675.3 L401.8,675.5 L401.2,675.3 L400.6,675.3 L400,675.1 L399.4,675 L398.8,675 L398.2,676.3 L397.6,676.6 L397,676.6 L396.4,677 L395.8,676.7 L395.2,677.1 L394.6,677.5 L394,677.4 L393.4,676.7 L392.8,676.1 L392.2,676 L391.6,675.4 L391,675.7 L390.4,675.5 L389.8,675.5 L389.2,674.8 L388.6,674.7 L388,674.4 L387.4,673.8 L386.8,673.7 L386.2,673.6 L385.6,673.7 L385,674.5 L384.4,674.5 L383.8,674.6 L383.2,674.5 L382.6,674.3 L382,674.5 L381.4,675 L380.8,675.6 L380.2,676.4 L379.6,677 L379,677.3 L378.4,677.9 L377.8,678.6 L377.2,678.4 L376.6,679 L376,679.1 L375.4,679.9 L374.8,680.4 L374.2,680.9 L373.6,681 L373,681.6 L372.4,681.9 L371.8,681.9 L371.2,681.9 L370.6,682 L370,682 L369.4,682.9 L368.8,683.2 L368.2,683.7 L367.6,683.7 L367,683.7 L366.4,683.3 L365.8,683.8 L365.2,683.5 L364.6,683.9 L364,683.9 L363.4,684 L362.8,684.5 L362.2,684.6 L361.6,684.6 L361,685.2 L360.4,685 L359.8,685.2 L359.2,685.9 L358.6,686.4 L358,687 L357.4,687.1 L356.8,688.1 L356.2,688.4 L355.6,687.6 L355,687.1 L354.4,687.3 L353.8,687.6 L353.2,687.7 L352.6,688.6 L352,689.5 L351.4,691.4 L350.8,694.5 L350.2,698 L349.6,700.7 L349,703.6 L348.4,707 L347.8,709.6 L347.2,712.5 L346.6,714.5 L346,715.9 L345.4,717.6 L344.8,719.9 L344.2,722 L343.6,722.7 L343,722.5 L342.4,720.8 L341.8,718.9 L341.2,716.2 L340.6,712.9 L340,710.3 L339.4,707.4 L338.8,703.8 L338.2,700.2 L337.6,697 L337,693.7 L336.4,690.1 L335.8,686.8 L335.2,683.8 L334.6,680.8 L334,677.9 L333.4,675.2 L332.8,673.3 L332.2,671.9 L331.6,670.5 L331,669.7 L330.4,668.7 L329.8,667.8 L329.2,668.1 L328.6,667.4 L328,667.2 L327.4,666.9 L326.8,667.6 L326.2,668 L325.6,667.9 L325,667.8 L324.4,668.1 L323.8,668.2 L323.2,668.8 L322.6,669.4 L322,669.4 L321.4,669.8 L320.8,670.1 L320.2,671.2 L319.6,672.1 L319,672.6 L318.4,673.1 L317.8,674.5 L317.2,675.6 L316.6,676.5 L316,676.7 L315.4,676.2 L314.8,675.9 L314.2,675.4 L313.6,674.3 L313,674 L312.4,673 L311.8,673 L311.2,672.6 L310.6,671.9 L310,671.7 L309.4,671 L308.8,670.7 L308.2,670.3 L307.6,670.7 L307,671.3 L306.4,670.8 L305.8,670.7 L305.2,671 L304.6,671.2 L304,671.7 L303.4,672.4 L302.8,672.5 L302.2,672.9 L301.6,673.3 L301,673 L300.4,673.5 L299.8,672.9 L299.2,673.6 L298.6,674.2 L298,674.2 L297.4,674.7 L296.8,674.9 L296.2,674.9 L295.6,675.2 L295,675.6 L294.4,676.1 L293.8,676.4 L293.2,676 L292.6,676 L292,676.5 L291.4,676.4 L290.8,676.4 L290.2,676 L289.6,677 L289,676.7 L288.4,676.7 L287.8,677 L287.2,677.4 L286.6,677 L286,677.3 L285.4,677.9 L284.8,678 L284.2,678.2 L283.6,677.7 L283,678.5 L282.4,678.4 L281.8,678.5 L281.2,678.8 L280.6,678.6 L280,678.7 L279.4,678.7 L278.8,678.2 L278.2,679.1 L277.6,679.3 L277,679.8 L276.4,680.2 L275.8,680.5 L275.2,680.4 L274.6,680.3 L274,679.9 L273.4,680 L272.8,680 L272.2,680 L271.6,679.7 L271,680.2 L270.4,680.2Z" fill="#b3c4e0"/>
<path d="M270.4,674.8 L271,675.1 L271.6,674.9 L272.2,675.8 L272.8,675.3 L273.4,675.5 L274,676 L274.6,676.4 L275.2,676.7 L275.8,676.6 L276.4,677.6 L277,677.6 L277.6,677.9 L278.2,678.2 L278.8,678.3 L279.4,678 L280,678.3 L280.6,677.7 L281.2,677.3 L281.8,675.8 L282.4,675.2 L283,674.3 L283.6,673.7 L284.2,673.1 L284.8,672.6 L285.4,672 L286,671.4 L286.6,670.9 L287.2,670.4 L287.8,669.9 L288.4,669.2 L289,668.8 L289.6,668 L290.2,668.2 L290.8,667.8 L291.4,667.6 L292,666.7 L292.6,665.4 L293.2,664.3 L293.8,663.5 L294.4,662.9 L295,662.5 L295.6,662.2 L296.2,662.3 L296.8,661.3 L297.4,662.2 L298,662.2 L298.6,662.6 L299.2,662.3 L299.8,662.8 L300.4,662.7 L301,663.4 L301.6,663.7 L302.2,663.9 L302.8,663.8 L303.4,663.5 L304,662.8 L304.6,662.2 L305.2,660.9 L305.8,659.4 L306.4,658.7 L307,657.1 L307.6,655.4 L308.2,653.6 L308.8,652.5 L309.4,652.9 L310,653.7 L310.6,654 L311.2,654.3 L311.8,655.1 L312.4,655.7 L313,656.3 L313.6,656.1 L314.2,655.5 L314.8,655.1 L315.4,654 L316,652.7 L316.6,651.7 L317.2,651.2 L317.8,650.9 L318.4,650.9 L319,651 L319.6,652.1 L320.2,652.4 L320.8,651.9 L321.4,651.8 L322,652.6 L322.6,653 L323.2,654.6 L323.8,655.2 L324.4,656 L325,657 L325.6,658 L326.2,659.4 L326.8,660.5 L327.4,661.9 L328,663 L328.6,663.3 L329.2,665 L329.8,667 L330.4,668.1 L331,669.7 L331.6,672 L332.2,674.2 L332.8,677.1 L333.4,680.1 L334,683.7 L334.6,687.3 L335.2,691.9 L335.8,696 L336.4,700.2 L337,704.3 L337.6,709.5 L338.2,715.4 L338.8,722.8 L339.4,730.6 L340,739 L340.6,746.7 L341.2,755.5 L341.8,763.6 L342.4,768.9 L343,775.1 L343.6,780.5 L344.2,783.2 L344.8,782.6 L345.4,777.3 L346,769.4 L346.6,762.1 L347.2,754.3 L347.8,746.4 L348.4,741.5 L349,736.5 L349.6,731.9 L350.2,727.7 L350.8,723.1 L351.4,719.4 L352,716.6 L352.6,714.3 L353.2,712.7 L353.8,711.7 L354.4,710 L355,708 L355.6,705.8 L356.2,704.2 L356.8,701.6 L357.4,699 L358,696.8 L358.6,693.8 L359.2,690.9 L359.8,688.2 L360.4,685.1 L361,682.9 L361.6,681 L362.2,679.4 L362.8,677.7 L363.4,675.6 L364,674.2 L364.6,673.6 L365.2,672.5 L365.8,671.5 L366.4,671.3 L367,671.4 L367.6,671.5 L368.2,671.9 L368.8,672.5 L369.4,672.9 L370,673.3 L370.6,674.1 L371.2,673.5 L371.8,674.2 L372.4,674 L373,673.5 L373.6,673.5 L374.2,673.6 L374.8,672.8 L375.4,672.6 L376,672.5 L376.6,672.2 L377.2,671.5 L377.8,670.3 L378.4,669.6 L379,669.7 L379.6,668.7 L380.2,669.2 L380.8,668.5 L381.4,667.8 L382,667 L382.6,666.5 L383.2,666.1 L383.8,665.4 L384.4,665.9 L385,666.1 L385.6,666 L386.2,665.6 L386.8,666 L387.4,666.6 L388,667.6 L388.6,668.2 L389.2,668.3 L389.8,668.5 L390.4,668.3 L391,667.7 L391.6,666.9 L392.2,665.3 L392.8,663.3 L393.4,662.4 L394,661.5 L394.6,660.1 L395.2,660.1 L395.8,660.1 L396.4,660.9 L397,661.9 L397.6,662.3 L398.2,663.1 L398.8,664.2 L399.4,664.6 L400,665 L400.6,665.2 L401.2,665.6 L401.8,665.9 L402.4,665.9 L403,666 L403.6,666.7 L404.2,667.1 L404.8,667.3 L405.4,667.1 L406,667 L406.6,666.7 L407.2,666.6 L407.8,666.3 L408.4,666.6 L409,666.8 L409.6,666.9 L410.2,667.1 L410.8,667.1 L411.4,667.8 L412,668.4 L412.6,669.1 L413.2,669.5 L413.8,669.6 L414.4,670.2 L415,669.9 L415.6,669.8 L416.2,670.5 L416.8,671.1 L417.4,671.6 L418,672.5 L418.6,672.8 L419.2,673.3 L419.8,673.9 L420.4,673.9 L421,674.6 L421.6,675.4 L422.2,675.8" fill="none" stroke="#5f9249" stroke-width="0.9"/>
<path d="M270.4,678.3 L271,678.3 L271.6,677.8 L272.2,678.1 L272.8,678.1 L273.4,678.1 L274,678 L274.6,678.4 L275.2,678.5 L275.8,678.6 L276.4,678.3 L277,677.9 L277.6,677.4 L278.2,677.2 L278.8,676.3 L279.4,676.8 L280,676.8 L280.6,676.7 L281.2,676.9 L281.8,676.6 L282.4,676.5 L283,676.6 L283.6,675.8 L284.2,676.3 L284.8,676.1 L285.4,676 L286,675.4 L286.6,675.1 L287.2,675.5 L287.8,675.1 L288.4,674.8 L289,674.8 L289.6,675.1 L290.2,674.1 L290.8,674.5 L291.4,674.5 L292,674.6 L292.6,674.1 L293.2,674.1 L293.8,674.5 L294.4,674.2 L295,673.7 L295.6,673.3 L296.2,673 L296.8,673 L297.4,672.8 L298,672.3 L298.6,672.3 L299.2,671.7 L299.8,671 L300.4,671.6 L301,671.1 L301.6,671.4 L302.2,671 L302.8,670.6 L303.4,670.5 L304,669.8 L304.6,669.3 L305.2,669.1 L305.8,668.8 L306.4,668.9 L307,669.4 L307.6,668.8 L308.2,668.4 L308.8,668.8 L309.4,669.1 L310,669.8 L310.6,670 L311.2,670.7 L311.8,671.1 L312.4,671.1 L313,672.1 L313.6,672.4 L314.2,673.5 L314.8,674 L315.4,674.3 L316,674.8 L316.6,674.6 L317.2,673.7 L317.8,672.6 L318.4,671.2 L319,670.7 L319.6,670.2 L320.2,669.3 L320.8,668.2 L321.4,667.9 L322,667.5 L322.6,667.5 L323.2,666.9 L323.8,666.3 L324.4,666.2 L325,665.9 L325.6,666 L326.2,666.1 L326.8,665.7 L327.4,665 L328,665.3 L328.6,665.5 L329.2,666.2 L329.8,665.9 L330.4,666.8 L331,667.8 L331.6,668.6 L332.2,670 L332.8,671.4 L333.4,673.3 L334,676 L334.6,678.9 L335.2,681.9 L335.8,684.9 L336.4,688.2 L337,691.8 L337.6,695.1 L338.2,698.3 L338.8,701.9 L339.4,705.5 L340,708.4 L340.6,711 L341.2,714.3 L341.8,717 L342.4,718.9 L343,720.6 L343.6,720.8 L344.2,720.1 L344.8,718 L345.4,715.7 L346,714 L346.6,712.6 L347.2,710.6 L347.8,707.7 L348.4,705.1 L349,701.7 L349.6,698.8 L350.2,696.1 L350.8,692.6 L351.4,689.5 L352,687.6 L352.6,686.7 L353.2,685.8 L353.8,685.7 L354.4,685.4 L355,685.2 L355.6,685.7 L356.2,686.5 L356.8,686.2 L357.4,685.2 L358,685.1 L358.6,684.5 L359.2,684 L359.8,683.3 L360.4,683.1 L361,683.3 L361.6,682.7 L362.2,682.7 L362.8,682.6 L363.4,682.1 L364,682 L364.6,682 L365.2,681.6 L365.8,681.9 L366.4,681.4 L367,681.8 L367.6,681.8 L368.2,681.8 L368.8,681.3 L369.4,681 L370,680.1 L370.6,680.1 L371.2,680 L371.8,680 L372.4,680 L373,679.7 L373.6,679.1 L374.2,679 L374.8,678.5 L375.4,678 L376,677.2 L376.6,677.1 L377.2,676.5 L377.8,676.7 L378.4,676 L379,675.4 L379.6,675.1 L380.2,674.5 L380.8,673.7 L381.4,673.1 L382,672.6 L382.6,672.4 L383.2,672.6 L383.8,672.7 L384.4,672.6 L385,672.6 L385.6,671.8 L386.2,671.7 L386.8,671.8 L387.4,671.9 L388,672.5 L388.6,672.8 L389.2,672.9 L389.8,673.6 L390.4,673.6 L391,673.8 L391.6,673.5 L392.2,674.1 L392.8,674.2 L393.4,674.8 L394,675.5 L394.6,675.6 L395.2,675.2 L395.8,674.8 L396.4,675.1 L397,674.7 L397.6,674.7 L398.2,674.4 L398.8,673.1 L399.4,673.1 L400,673.2 L400.6,673.4 L401.2,673.4 L401.8,673.6 L402.4,673.4 L403,673.8 L403.6,673.9 L404.2,674.2 L404.8,675 L405.4,675.4 L406,675.5 L406.6,676.2 L407.2,676.3 L407.8,677 L408.4,677.9 L409,677.9 L409.6,678.1 L410.2,677.8 L410.8,677.8 L411.4,677.7 L412,677.5 L412.6,677.1 L413.2,676.1 L413.8,675.6 L414.4,675.4 L415,675.7 L415.6,675 L416.2,675.5 L416.8,675.3 L417.4,674.8 L418,675.5 L418.6,675.6 L419.2,675.4 L419.8,675.6 L420.4,675.8 L421,675.4 L421.6,675.9 L422.2,675.6" fill="none" stroke="#5877b0" stroke-width="1"/>
<line x1="270.5" y1="636.9" x2="270.5" y2="802.4" stroke="#333" stroke-width="1" />
<line x1="270.4" y1="802.5" x2="422.5" y2="802.5" stroke="#333" stroke-width="1" />
<line x1="270.4" y1="637.5" x2="272.9" y2="637.5" stroke="#333" stroke-width="1" />
<line x1="270.4" y1="655.5" x2="272.9" y2="655.5" stroke="#333" stroke-width="1" />
<line x1="270.4" y1="673.5" x2="272.9" y2="673.5" stroke="#333" stroke-width="1" />
<line x1="270.4" y1="691.5" x2="272.9" y2="691.5" stroke="#333" stroke-width="1" />
<line x1="270.4" y1="710.5" x2="272.9" y2="710.5" stroke="#333" stroke-width="1" />
<line x1="270.4" y1="728.5" x2="272.9" y2="728.5" stroke="#333" stroke-width="1" />
<line x1="270.4" y1="746.5" x2="272.9" y2="746.5" stroke="#333" stroke-width="1" />
<line x1="270.4" y1="764.5" x2="272.9" y2="764.5" stroke="#333" stroke-width="1" />
<line x1="270.4" y1="782.5" x2="272.9" y2="782.5" stroke="#333" stroke-width="1" />
<text x="269.2" y="642.5" font-size="10" text-anchor="end" fill="#222" >0.01</text>
<text x="269.2" y="678.8" font-size="10" text-anchor="end" fill="#222" >0</text>
<text x="269.2" y="715.1" font-size="10" text-anchor="end" fill="#222" >-0.01</text>
<text x="269.2" y="751.4" font-size="10" text-anchor="end" fill="#222" >-0.02</text>
<text x="269.2" y="787.7" font-size="10" text-anchor="end" fill="#222" >-0.03</text>
<line x1="270.5" y1="802.4" x2="270.5" y2="799.9" stroke="#333" stroke-width="1" />
<line x1="289.5" y1="802.4" x2="289.5" y2="799.9" stroke="#333" stroke-width="1" />
<line x1="308.5" y1="802.4" x2="308.5" y2="799.9" stroke="#333" stroke-width="1" />
<line x1="327.5" y1="802.4" x2="327.5" y2="799.9" stroke="#333" stroke-width="1" />
<line x1="346.5" y1="802.4" x2="346.5" y2="799.9" stroke="#333" stroke-width="1" />
<line x1="365.5" y1="802.4" x2="365.5" y2="799.9" stroke="#333" stroke-width="1" />
<line x1="384.5" y1="802.4" x2="384.5" y2="799.9" stroke="#333" stroke-width="1" />
<line x1="403.5" y1="802.4" x2="403.5" y2="799.9" stroke="#333" stroke-width="1" />
<line x1="422.5" y1="802.4" x2="422.5" y2="799.9" stroke="#333" stroke-width="1" />
<text x="267.7" y="812.2" font-size="10" text-anchor="middle" fill="#222" >-20</text>
<text x="308.4" y="812.2" font-size="10" text-anchor="middle" fill="#222" >-10</text>
<text x="346.4" y="812.2" font-size="10" text-anchor="middle" fill="#222" >0</text>
<text x="384.5" y="812.2" font-size="10" text-anchor="middle" fill="#222" >10</text>
<text x="422.5" y="812.2" font-size="10" text-anchor="middle" fill="#222" >20</text>
<text x="348" y="827" font-size="10.3" text-anchor="middle" fill="#222" >time lag (s)</text>
<text x="240.8" y="720.8" font-size="10" text-anchor="middle" fill="#222" transform="rotate(-90 240.8 720.8)" >cross-correlation</text>
<text x="277.5" y="783" font-size="10" text-anchor="start" fill="#5877b0" >early</text>
<text x="277.5" y="795" font-size="10" text-anchor="start" fill="#7fae62" >late</text>
<text x="443" y="629.7" font-size="15.5" text-anchor="start" fill="#111" font-weight="bold" text-rendering="geometricPrecision">M</text>
<line x1="486.3" y1="644.3" x2="486.3" y2="802.9" stroke="#8a8a8a" stroke-width="1.4" />
<line x1="483.1" y1="644.5" x2="486.3" y2="644.5" stroke="#333" stroke-width="1" />
<text x="481.2" y="648.6" font-size="10.5" text-anchor="end" fill="#222" >0.2</text>
<line x1="483.1" y1="684.5" x2="486.3" y2="684.5" stroke="#333" stroke-width="1" />
<text x="481.2" y="688" font-size="10.5" text-anchor="end" fill="#222" >0</text>
<line x1="483.1" y1="723.5" x2="486.3" y2="723.5" stroke="#333" stroke-width="1" />
<text x="481.2" y="727.4" font-size="10.5" text-anchor="end" fill="#222" >-0.2</text>
<line x1="483.1" y1="763.5" x2="486.3" y2="763.5" stroke="#333" stroke-width="1" />
<text x="481.2" y="766.8" font-size="10.5" text-anchor="end" fill="#222" >-0.4</text>
<line x1="483.1" y1="802.5" x2="486.3" y2="802.5" stroke="#333" stroke-width="1" />
<text x="481.2" y="806.2" font-size="10.5" text-anchor="end" fill="#222" >-0.6</text>
<line x1="486.3" y1="684.2" x2="673.5" y2="684.2" stroke="#111" stroke-width="1.1" stroke-dasharray="1.1,2.1"/>
<line x1="485.6" y1="802.4" x2="674.3" y2="802.4" stroke="#8a8a8a" stroke-width="1.4" />
<line x1="512.5" y1="802.4" x2="512.5" y2="805.6" stroke="#555" stroke-width="1" />
<line x1="558.5" y1="802.4" x2="558.5" y2="805.6" stroke="#555" stroke-width="1" />
<line x1="602.5" y1="802.4" x2="602.5" y2="805.6" stroke="#555" stroke-width="1" />
<line x1="648.5" y1="802.4" x2="648.5" y2="805.6" stroke="#555" stroke-width="1" />
<line x1="500.5" y1="678.5" x2="500.5" y2="684.3" stroke="#b7c6df" stroke-width="0.8" stroke-opacity="0.4"/>
<line x1="500.5" y1="711.5" x2="500.5" y2="723.5" stroke="#b7c6df" stroke-width="0.8" stroke-opacity="0.4"/>
<path d="M502.4,683.8 L505.9,686.5 L508.8,688.9 L505.5,691.8 L502.9,694.4 L503.5,697 L503.7,699.7 L503.1,703 L502.3,706.3 L501.9,712 L499.9,712 L499.5,706.3 L498.7,703 L498.1,699.7 L498.3,697 L498.9,694.4 L496.3,691.8 L493,688.9 L495.9,686.5 L499.4,683.8Z" fill="#b7c6df" fill-opacity="1"/>
<line x1="495.5" y1="691.1" x2="506.3" y2="691.1" stroke="#6685b8" stroke-width="2.4" />
<line x1="493.5" y1="688.7" x2="508.3" y2="688.7" stroke="#111" stroke-width="1.2" stroke-dasharray="1,1.2"/>
<line x1="498.4" y1="699.3" x2="503.4" y2="699.3" stroke="#111" stroke-width="1.2" stroke-dasharray="1,1.2"/>
<line x1="523.5" y1="678.5" x2="523.5" y2="684.3" stroke="#c9ddb9" stroke-width="0.8" stroke-opacity="0.4"/>
<line x1="523.5" y1="729.5" x2="523.5" y2="744.7" stroke="#c9ddb9" stroke-width="0.8" stroke-opacity="0.4"/>
<path d="M524.4,683.8 L526.4,687 L528.4,690.4 L531.1,694.7 L529.4,699.7 L526.7,702.4 L525.6,709 L524.9,719.6 L524.4,730 L522.4,730 L521.9,719.6 L521.2,709 L520.1,702.4 L517.4,699.7 L515.7,694.7 L518.4,690.4 L520.4,687 L522.4,683.8Z" fill="#c9ddb9" fill-opacity="1"/>
<line x1="517.3" y1="699.4" x2="529.5" y2="699.4" stroke="#7aa865" stroke-width="2.4" />
<line x1="516" y1="694.7" x2="530.8" y2="694.7" stroke="#111" stroke-width="1.2" stroke-dasharray="1,1.2"/>
<line x1="521.4" y1="708.6" x2="525.4" y2="708.6" stroke="#111" stroke-width="1.2" stroke-dasharray="1,1.2"/>
<line x1="546.5" y1="680" x2="546.5" y2="685.6" stroke="#b7c6df" stroke-width="0.8" stroke-opacity="0.4"/>
<line x1="546.5" y1="732.3" x2="546.5" y2="735" stroke="#b7c6df" stroke-width="0.8" stroke-opacity="0.4"/>
<path d="M547.2,685.1 L550.2,687.5 L552.7,690.4 L554.1,695.1 L554.1,701 L551.2,707 L548.2,712.9 L547.5,722 L546.8,732.8 L545.6,732.8 L544.9,722 L544.2,712.9 L541.2,707 L538.3,701 L538.3,695.1 L539.7,690.4 L542.2,687.5 L545.2,685.1Z" fill="#b7c6df" fill-opacity="1"/>
<line x1="538.3" y1="700.4" x2="554.1" y2="700.4" stroke="#6685b8" stroke-width="2.4" />
<line x1="538.6" y1="695.5" x2="553.8" y2="695.5" stroke="#111" stroke-width="1.2" stroke-dasharray="1,1.2"/>
<line x1="541.4" y1="706.7" x2="551" y2="706.7" stroke="#111" stroke-width="1.2" stroke-dasharray="1,1.2"/>
<line x1="568.5" y1="678.5" x2="568.5" y2="684.3" stroke="#c9ddb9" stroke-width="0.8" stroke-opacity="0.4"/>
<line x1="568.5" y1="747.5" x2="568.5" y2="761" stroke="#c9ddb9" stroke-width="0.8" stroke-opacity="0.4"/>
<path d="M569.7,683.8 L571.2,687 L573.7,691.8 L576.6,698.4 L574.7,705.7 L571.7,712.9 L570.9,720.9 L570.2,732.8 L569.7,748 L567.7,748 L567.2,732.8 L566.5,720.9 L565.7,712.9 L562.7,705.7 L560.8,698.4 L563.7,691.8 L566.2,687 L567.7,683.8Z" fill="#c9ddb9" fill-opacity="1"/>
<line x1="562.7" y1="705.7" x2="574.7" y2="705.7" stroke="#7aa865" stroke-width="2.4" />
<line x1="561.2" y1="698.6" x2="576.2" y2="698.6" stroke="#111" stroke-width="1.2" stroke-dasharray="1,1.2"/>
<line x1="566.8" y1="720.9" x2="570.6" y2="720.9" stroke="#111" stroke-width="1.2" stroke-dasharray="1,1.2"/>
<line x1="591.5" y1="683" x2="591.5" y2="685.7" stroke="#b7c6df" stroke-width="0.8" stroke-opacity="0.4"/>
<line x1="591.5" y1="739.5" x2="591.5" y2="743.9" stroke="#b7c6df" stroke-width="0.8" stroke-opacity="0.4"/>
<path d="M591.9,685.2 L594.9,693.3 L597.4,702 L598.7,710.5 L596.9,719.5 L593.9,725.9 L592.4,731.3 L592.9,736.7 L592.2,740 L590.6,740 L589.9,736.7 L590.4,731.3 L588.9,725.9 L585.9,719.5 L584.1,710.5 L585.4,702 L587.9,693.3 L590.9,685.2Z" fill="#b7c6df" fill-opacity="1"/>
<line x1="584.1" y1="710.5" x2="598.7" y2="710.5" stroke="#6685b8" stroke-width="2.4" />
<line x1="585.5" y1="703.5" x2="597.3" y2="703.5" stroke="#111" stroke-width="1.2" stroke-dasharray="1,1.2"/>
<line x1="586.2" y1="719.5" x2="596.6" y2="719.5" stroke="#111" stroke-width="1.2" stroke-dasharray="1,1.2"/>
<line x1="613.5" y1="673.5" x2="613.5" y2="684.3" stroke="#c9ddb9" stroke-width="0.8" stroke-opacity="0.4"/>
<line x1="613.5" y1="759.5" x2="613.5" y2="772.8" stroke="#c9ddb9" stroke-width="0.8" stroke-opacity="0.4"/>
<path d="M614.8,683.8 L616.3,688 L618.8,693.3 L621.5,706 L618.8,712.3 L615.8,720.4 L615.3,729.5 L615.5,738 L615.8,747.5 L614.8,760 L612.8,760 L611.8,747.5 L612.1,738 L612.3,729.5 L611.8,720.4 L608.8,712.3 L606.1,706 L608.8,693.3 L611.3,688 L612.8,683.8Z" fill="#c9ddb9" fill-opacity="1"/>
<line x1="607.9" y1="710.1" x2="619.7" y2="710.1" stroke="#7aa865" stroke-width="2.4" />
<line x1="607.1" y1="702.7" x2="620.5" y2="702.7" stroke="#111" stroke-width="1.2" stroke-dasharray="1,1.2"/>
<line x1="612.5" y1="735.2" x2="615.1" y2="735.2" stroke="#111" stroke-width="1.2" stroke-dasharray="1,1.2"/>
<line x1="636.5" y1="664.4" x2="636.5" y2="693.8" stroke="#b7c6df" stroke-width="0.8" stroke-opacity="0.4"/>
<line x1="636.5" y1="744.5" x2="636.5" y2="769.2" stroke="#b7c6df" stroke-width="0.8" stroke-opacity="0.4"/>
<path d="M637.5,693.3 L641.5,702.4 L643.7,711.4 L642,722.2 L639,731.3 L637.5,745 L635.5,745 L634,731.3 L631,722.2 L629.3,711.4 L631.5,702.4 L635.5,693.3Z" fill="#b7c6df" fill-opacity="1"/>
<line x1="629.7" y1="714.1" x2="643.3" y2="714.1" stroke="#6685b8" stroke-width="2.4" />
<line x1="630.6" y1="707.3" x2="642.4" y2="707.3" stroke="#111" stroke-width="1.2" stroke-dasharray="1,1.2"/>
<line x1="631.7" y1="723.5" x2="641.3" y2="723.5" stroke="#111" stroke-width="1.2" stroke-dasharray="1,1.2"/>
<line x1="658.5" y1="673.5" x2="658.5" y2="684.3" stroke="#c9ddb9" stroke-width="0.8" stroke-opacity="0.4"/>
<line x1="658.5" y1="774.5" x2="658.5" y2="783.6" stroke="#c9ddb9" stroke-width="0.8" stroke-opacity="0.4"/>
<path d="M659.9,683.8 L661.1,688 L663.4,695.2 L667,709.6 L664.9,717.7 L661.4,729.5 L660.4,743.9 L660.7,750 L661.1,756.6 L660.2,765 L659.5,775 L658.3,775 L657.6,765 L656.7,756.6 L657.1,750 L657.4,743.9 L656.4,729.5 L652.9,717.7 L650.8,709.6 L654.4,695.2 L656.7,688 L657.9,683.8Z" fill="#c9ddb9" fill-opacity="1"/>
<line x1="652.8" y1="717.4" x2="665" y2="717.4" stroke="#7aa865" stroke-width="2.4" />
<line x1="651.4" y1="708.3" x2="666.4" y2="708.3" stroke="#111" stroke-width="1.2" stroke-dasharray="1,1.2"/>
<line x1="657.5" y1="741.7" x2="660.3" y2="741.7" stroke="#111" stroke-width="1.2" stroke-dasharray="1,1.2"/>
<line x1="500.8" y1="655.4" x2="524" y2="655.4" stroke="#1a1a1a" stroke-width="1.3" />
<text x="512.4" y="655" font-size="9.5" text-anchor="middle" fill="#1a1a1a" font-weight="bold" style="font-family:'Noto Sans CJK JP',sans-serif">****</text>
<line x1="546" y1="655.4" x2="568" y2="655.4" stroke="#1a1a1a" stroke-width="1.3" />
<text x="557" y="655" font-size="9.5" text-anchor="middle" fill="#1a1a1a" font-weight="bold" style="font-family:'Noto Sans CJK JP',sans-serif">****</text>
<line x1="591" y1="655.4" x2="614.2" y2="655.4" stroke="#1a1a1a" stroke-width="1.3" />
<text x="602.6" y="655" font-size="9.5" text-anchor="middle" fill="#1a1a1a" font-weight="bold" style="font-family:'Noto Sans CJK JP',sans-serif">***</text>
<line x1="636" y1="655.4" x2="659" y2="655.4" stroke="#1a1a1a" stroke-width="1.3" />
<text x="647.5" y="655" font-size="9.5" text-anchor="middle" fill="#1a1a1a" font-weight="bold" style="font-family:'Noto Sans CJK JP',sans-serif">****</text>
<text x="455.8" y="717.7" font-size="11.1" text-anchor="middle" fill="#222" transform="rotate(-90 455.8 717.7)" >cross-correlation min.</text>
<text x="494.4" y="784.5" font-size="10" text-anchor="start" fill="#5877b0" >early</text>
<text x="494.4" y="795.2" font-size="10" text-anchor="start" fill="#7fae62" >late</text>
<rect x="491" y="809.2" width="7.3" height="7.2" fill="#d4a0b0"/>
<text x="500" y="816.3" font-size="10" text-anchor="start" fill="#222" >2 to 6</text>
<rect x="537.3" y="809.2" width="7.3" height="7.2" fill="#a888b0"/>
<text x="546.6" y="816.3" font-size="10" text-anchor="start" fill="#222" >6 to 10</text>
<rect x="582" y="809.2" width="7.3" height="7.2" fill="#8a5a8e"/>
<text x="591.3" y="816.3" font-size="10" text-anchor="start" fill="#222" >10 to 14</text>
<rect x="632" y="809.2" width="7.3" height="7.2" fill="#5a2d6e"/>
<text x="641.4" y="816.3" font-size="10" text-anchor="start" fill="#222" >14 and up</text>
</svg></body></html>
